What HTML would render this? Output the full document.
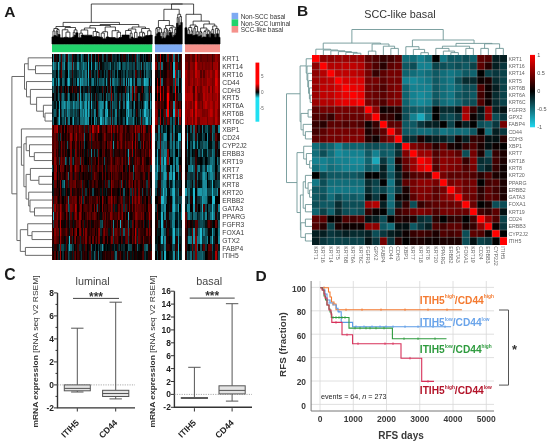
<!DOCTYPE html><html><head><meta charset="utf-8"><style>
html,body{margin:0;padding:0;background:#fff;}
svg{display:block;font-family:"Liberation Sans", sans-serif;filter:blur(0.3px);}
</style></head><body>
<svg width="550" height="444" viewBox="0 0 550 444">
<defs><filter id="blur" x="-2%" y="-2%" width="104%" height="104%"><feGaussianBlur stdDeviation="0.65"/></filter>
<linearGradient id="gA" x1="0" y1="0" x2="0" y2="1">
<stop offset="0" stop-color="#ff0000"/><stop offset="0.36" stop-color="#ff0000"/><stop offset="0.5" stop-color="#000"/><stop offset="0.6" stop-color="#20e0f2"/><stop offset="1" stop-color="#20e0f2"/></linearGradient>
<linearGradient id="gB" x1="0" y1="0" x2="0" y2="1">
<stop offset="0" stop-color="#ff0000"/><stop offset="0.5" stop-color="#000"/><stop offset="1" stop-color="#20d8f0"/></linearGradient>
</defs>
<rect width="550" height="444" fill="#fff"/>
<g filter="url(#blur)" shape-rendering="crispEdges">
<rect x="52.0" y="53.9" width="1.4" height="8.1" fill="#010506"/>
<rect x="52.0" y="61.8" width="1.4" height="8.1" fill="#0c444b"/>
<rect x="52.0" y="69.7" width="1.4" height="8.1" fill="#0b3b41"/>
<rect x="52.0" y="77.6" width="1.4" height="8.1" fill="#188290"/>
<rect x="52.0" y="85.5" width="1.4" height="8.1" fill="#072529"/>
<rect x="52.0" y="93.4" width="1.4" height="8.1" fill="#01090a"/>
<rect x="52.0" y="101.3" width="1.4" height="8.1" fill="#093036"/>
<rect x="52.0" y="109.2" width="1.4" height="8.1" fill="#04191c"/>
<rect x="52.0" y="117.1" width="1.4" height="8.1" fill="#093238"/>
<rect x="52.0" y="125.0" width="1.4" height="8.1" fill="#690000"/>
<rect x="52.0" y="132.9" width="1.4" height="8.1" fill="#500000"/>
<rect x="52.0" y="140.8" width="1.4" height="8.1" fill="#5a0000"/>
<rect x="52.0" y="148.7" width="1.4" height="8.1" fill="#4c0000"/>
<rect x="52.0" y="156.6" width="1.4" height="8.1" fill="#340000"/>
<rect x="52.0" y="164.5" width="1.4" height="8.1" fill="#0d4850"/>
<rect x="52.0" y="172.4" width="1.4" height="8.1" fill="#040000"/>
<rect x="52.0" y="180.3" width="1.4" height="8.1" fill="#0f0000"/>
<rect x="52.0" y="188.2" width="1.4" height="8.1" fill="#020c0d"/>
<rect x="52.0" y="196.1" width="1.4" height="8.1" fill="#690000"/>
<rect x="52.0" y="204.0" width="1.4" height="8.1" fill="#4f0000"/>
<rect x="52.0" y="211.9" width="1.4" height="8.1" fill="#310000"/>
<rect x="52.0" y="219.8" width="1.4" height="8.1" fill="#2f0000"/>
<rect x="52.0" y="227.7" width="1.4" height="8.1" fill="#510000"/>
<rect x="52.0" y="235.6" width="1.4" height="8.1" fill="#330000"/>
<rect x="52.0" y="243.5" width="1.4" height="8.1" fill="#190000"/>
<rect x="52.0" y="251.4" width="1.4" height="8.1" fill="#300000"/>
<rect x="53.2" y="53.9" width="1.4" height="8.1" fill="#167784"/>
<rect x="53.2" y="61.8" width="1.4" height="8.1" fill="#1ea1b2"/>
<rect x="53.2" y="69.7" width="1.4" height="8.1" fill="#0c4047"/>
<rect x="53.2" y="77.6" width="1.4" height="8.1" fill="#1fa4b6"/>
<rect x="53.2" y="85.5" width="1.4" height="8.1" fill="#12606a"/>
<rect x="53.2" y="93.4" width="1.4" height="8.1" fill="#070000"/>
<rect x="53.2" y="101.3" width="1.4" height="8.1" fill="#082f34"/>
<rect x="53.2" y="109.2" width="1.4" height="8.1" fill="#0b3d44"/>
<rect x="53.2" y="117.1" width="1.4" height="8.1" fill="#13646f"/>
<rect x="53.2" y="125.0" width="1.4" height="8.1" fill="#2a0000"/>
<rect x="53.2" y="132.9" width="1.4" height="8.1" fill="#470000"/>
<rect x="53.2" y="140.8" width="1.4" height="8.1" fill="#420000"/>
<rect x="53.2" y="148.7" width="1.4" height="8.1" fill="#340000"/>
<rect x="53.2" y="156.6" width="1.4" height="8.1" fill="#200000"/>
<rect x="53.2" y="164.5" width="1.4" height="8.1" fill="#080000"/>
<rect x="53.2" y="172.4" width="1.4" height="8.1" fill="#010606"/>
<rect x="53.2" y="180.3" width="1.4" height="8.1" fill="#062124"/>
<rect x="53.2" y="188.2" width="1.4" height="8.1" fill="#04181b"/>
<rect x="53.2" y="196.1" width="1.4" height="8.1" fill="#051d20"/>
<rect x="53.2" y="204.0" width="1.4" height="8.1" fill="#0c4249"/>
<rect x="53.2" y="211.9" width="1.4" height="8.1" fill="#21b1c4"/>
<rect x="53.2" y="219.8" width="1.4" height="8.1" fill="#0d454d"/>
<rect x="53.2" y="227.7" width="1.4" height="8.1" fill="#090000"/>
<rect x="53.2" y="235.6" width="1.4" height="8.1" fill="#1c0000"/>
<rect x="53.2" y="243.5" width="1.4" height="8.1" fill="#04181b"/>
<rect x="53.2" y="251.4" width="1.4" height="8.1" fill="#0c0000"/>
<rect x="54.3" y="53.9" width="1.4" height="8.1" fill="#230000"/>
<rect x="54.3" y="61.8" width="1.4" height="8.1" fill="#12636e"/>
<rect x="54.3" y="69.7" width="1.4" height="8.1" fill="#0c434a"/>
<rect x="54.3" y="77.6" width="1.4" height="8.1" fill="#062327"/>
<rect x="54.3" y="85.5" width="1.4" height="8.1" fill="#072529"/>
<rect x="54.3" y="93.4" width="1.4" height="8.1" fill="#082c30"/>
<rect x="54.3" y="101.3" width="1.4" height="8.1" fill="#031214"/>
<rect x="54.3" y="109.2" width="1.4" height="8.1" fill="#115a64"/>
<rect x="54.3" y="117.1" width="1.4" height="8.1" fill="#000202"/>
<rect x="54.3" y="125.0" width="1.4" height="8.1" fill="#8e0000"/>
<rect x="54.3" y="132.9" width="1.4" height="8.1" fill="#680000"/>
<rect x="54.3" y="140.8" width="1.4" height="8.1" fill="#6a0000"/>
<rect x="54.3" y="148.7" width="1.4" height="8.1" fill="#770000"/>
<rect x="54.3" y="156.6" width="1.4" height="8.1" fill="#940000"/>
<rect x="54.3" y="164.5" width="1.4" height="8.1" fill="#7f0000"/>
<rect x="54.3" y="172.4" width="1.4" height="8.1" fill="#920000"/>
<rect x="54.3" y="180.3" width="1.4" height="8.1" fill="#6b0000"/>
<rect x="54.3" y="188.2" width="1.4" height="8.1" fill="#410000"/>
<rect x="54.3" y="196.1" width="1.4" height="8.1" fill="#610000"/>
<rect x="54.3" y="204.0" width="1.4" height="8.1" fill="#940000"/>
<rect x="54.3" y="211.9" width="1.4" height="8.1" fill="#530000"/>
<rect x="54.3" y="219.8" width="1.4" height="8.1" fill="#5f0000"/>
<rect x="54.3" y="227.7" width="1.4" height="8.1" fill="#8b0000"/>
<rect x="54.3" y="235.6" width="1.4" height="8.1" fill="#740000"/>
<rect x="54.3" y="243.5" width="1.4" height="8.1" fill="#350000"/>
<rect x="54.3" y="251.4" width="1.4" height="8.1" fill="#520000"/>
<rect x="55.5" y="53.9" width="1.4" height="8.1" fill="#04181b"/>
<rect x="55.5" y="61.8" width="1.4" height="8.1" fill="#0a373d"/>
<rect x="55.5" y="69.7" width="1.4" height="8.1" fill="#060000"/>
<rect x="55.5" y="77.6" width="1.4" height="8.1" fill="#115e68"/>
<rect x="55.5" y="85.5" width="1.4" height="8.1" fill="#0d0000"/>
<rect x="55.5" y="93.4" width="1.4" height="8.1" fill="#000001"/>
<rect x="55.5" y="101.3" width="1.4" height="8.1" fill="#0f525a"/>
<rect x="55.5" y="109.2" width="1.4" height="8.1" fill="#093036"/>
<rect x="55.5" y="117.1" width="1.4" height="8.1" fill="#010708"/>
<rect x="55.5" y="125.0" width="1.4" height="8.1" fill="#990000"/>
<rect x="55.5" y="132.9" width="1.4" height="8.1" fill="#430000"/>
<rect x="55.5" y="140.8" width="1.4" height="8.1" fill="#4f0000"/>
<rect x="55.5" y="148.7" width="1.4" height="8.1" fill="#2d0000"/>
<rect x="55.5" y="156.6" width="1.4" height="8.1" fill="#570000"/>
<rect x="55.5" y="164.5" width="1.4" height="8.1" fill="#9e0000"/>
<rect x="55.5" y="172.4" width="1.4" height="8.1" fill="#730000"/>
<rect x="55.5" y="180.3" width="1.4" height="8.1" fill="#570000"/>
<rect x="55.5" y="188.2" width="1.4" height="8.1" fill="#2d0000"/>
<rect x="55.5" y="196.1" width="1.4" height="8.1" fill="#730000"/>
<rect x="55.5" y="204.0" width="1.4" height="8.1" fill="#460000"/>
<rect x="55.5" y="211.9" width="1.4" height="8.1" fill="#610000"/>
<rect x="55.5" y="219.8" width="1.4" height="8.1" fill="#650000"/>
<rect x="55.5" y="227.7" width="1.4" height="8.1" fill="#5d0000"/>
<rect x="55.5" y="235.6" width="1.4" height="8.1" fill="#5f0000"/>
<rect x="55.5" y="243.5" width="1.4" height="8.1" fill="#2f0000"/>
<rect x="55.5" y="251.4" width="1.4" height="8.1" fill="#040000"/>
<rect x="56.6" y="53.9" width="1.4" height="8.1" fill="#240000"/>
<rect x="56.6" y="61.8" width="1.4" height="8.1" fill="#062226"/>
<rect x="56.6" y="69.7" width="1.4" height="8.1" fill="#020c0d"/>
<rect x="56.6" y="77.6" width="1.4" height="8.1" fill="#04181a"/>
<rect x="56.6" y="85.5" width="1.4" height="8.1" fill="#230000"/>
<rect x="56.6" y="93.4" width="1.4" height="8.1" fill="#030f11"/>
<rect x="56.6" y="101.3" width="1.4" height="8.1" fill="#030000"/>
<rect x="56.6" y="109.2" width="1.4" height="8.1" fill="#080000"/>
<rect x="56.6" y="117.1" width="1.4" height="8.1" fill="#093036"/>
<rect x="56.6" y="125.0" width="1.4" height="8.1" fill="#b70000"/>
<rect x="56.6" y="132.9" width="1.4" height="8.1" fill="#540000"/>
<rect x="56.6" y="140.8" width="1.4" height="8.1" fill="#560000"/>
<rect x="56.6" y="148.7" width="1.4" height="8.1" fill="#560000"/>
<rect x="56.6" y="156.6" width="1.4" height="8.1" fill="#2b0000"/>
<rect x="56.6" y="164.5" width="1.4" height="8.1" fill="#110000"/>
<rect x="56.6" y="172.4" width="1.4" height="8.1" fill="#050000"/>
<rect x="56.6" y="180.3" width="1.4" height="8.1" fill="#000405"/>
<rect x="56.6" y="188.2" width="1.4" height="8.1" fill="#310000"/>
<rect x="56.6" y="196.1" width="1.4" height="8.1" fill="#3b0000"/>
<rect x="56.6" y="204.0" width="1.4" height="8.1" fill="#680000"/>
<rect x="56.6" y="211.9" width="1.4" height="8.1" fill="#8b0000"/>
<rect x="56.6" y="219.8" width="1.4" height="8.1" fill="#6c0000"/>
<rect x="56.6" y="227.7" width="1.4" height="8.1" fill="#680000"/>
<rect x="56.6" y="235.6" width="1.4" height="8.1" fill="#510000"/>
<rect x="56.6" y="243.5" width="1.4" height="8.1" fill="#010a0b"/>
<rect x="56.6" y="251.4" width="1.4" height="8.1" fill="#440000"/>
<rect x="57.8" y="53.9" width="1.4" height="8.1" fill="#000000"/>
<rect x="57.8" y="61.8" width="1.4" height="8.1" fill="#21b0c3"/>
<rect x="57.8" y="69.7" width="1.4" height="8.1" fill="#198796"/>
<rect x="57.8" y="77.6" width="1.4" height="8.1" fill="#21afc2"/>
<rect x="57.8" y="85.5" width="1.4" height="8.1" fill="#10565f"/>
<rect x="57.8" y="93.4" width="1.4" height="8.1" fill="#136772"/>
<rect x="57.8" y="101.3" width="1.4" height="8.1" fill="#020c0e"/>
<rect x="57.8" y="109.2" width="1.4" height="8.1" fill="#0a383e"/>
<rect x="57.8" y="117.1" width="1.4" height="8.1" fill="#177986"/>
<rect x="57.8" y="125.0" width="1.4" height="8.1" fill="#1c0000"/>
<rect x="57.8" y="132.9" width="1.4" height="8.1" fill="#062124"/>
<rect x="57.8" y="140.8" width="1.4" height="8.1" fill="#230000"/>
<rect x="57.8" y="148.7" width="1.4" height="8.1" fill="#170000"/>
<rect x="57.8" y="156.6" width="1.4" height="8.1" fill="#440000"/>
<rect x="57.8" y="164.5" width="1.4" height="8.1" fill="#3b0000"/>
<rect x="57.8" y="172.4" width="1.4" height="8.1" fill="#4a0000"/>
<rect x="57.8" y="180.3" width="1.4" height="8.1" fill="#270000"/>
<rect x="57.8" y="188.2" width="1.4" height="8.1" fill="#260000"/>
<rect x="57.8" y="196.1" width="1.4" height="8.1" fill="#070000"/>
<rect x="57.8" y="204.0" width="1.4" height="8.1" fill="#480000"/>
<rect x="57.8" y="211.9" width="1.4" height="8.1" fill="#350000"/>
<rect x="57.8" y="219.8" width="1.4" height="8.1" fill="#130000"/>
<rect x="57.8" y="227.7" width="1.4" height="8.1" fill="#680000"/>
<rect x="57.8" y="235.6" width="1.4" height="8.1" fill="#460000"/>
<rect x="57.8" y="243.5" width="1.4" height="8.1" fill="#031315"/>
<rect x="57.8" y="251.4" width="1.4" height="8.1" fill="#07262a"/>
<rect x="58.9" y="53.9" width="1.4" height="8.1" fill="#136773"/>
<rect x="58.9" y="61.8" width="1.4" height="8.1" fill="#105862"/>
<rect x="58.9" y="69.7" width="1.4" height="8.1" fill="#082e33"/>
<rect x="58.9" y="77.6" width="1.4" height="8.1" fill="#146c77"/>
<rect x="58.9" y="85.5" width="1.4" height="8.1" fill="#010707"/>
<rect x="58.9" y="93.4" width="1.4" height="8.1" fill="#0b3c43"/>
<rect x="58.9" y="101.3" width="1.4" height="8.1" fill="#1fa9bb"/>
<rect x="58.9" y="109.2" width="1.4" height="8.1" fill="#23b9cd"/>
<rect x="58.9" y="117.1" width="1.4" height="8.1" fill="#23b9cd"/>
<rect x="58.9" y="125.0" width="1.4" height="8.1" fill="#2e0000"/>
<rect x="58.9" y="132.9" width="1.4" height="8.1" fill="#0a0000"/>
<rect x="58.9" y="140.8" width="1.4" height="8.1" fill="#051a1d"/>
<rect x="58.9" y="148.7" width="1.4" height="8.1" fill="#031315"/>
<rect x="58.9" y="156.6" width="1.4" height="8.1" fill="#0b3e45"/>
<rect x="58.9" y="164.5" width="1.4" height="8.1" fill="#000000"/>
<rect x="58.9" y="172.4" width="1.4" height="8.1" fill="#1b0000"/>
<rect x="58.9" y="180.3" width="1.4" height="8.1" fill="#140000"/>
<rect x="58.9" y="188.2" width="1.4" height="8.1" fill="#020000"/>
<rect x="58.9" y="196.1" width="1.4" height="8.1" fill="#1b0000"/>
<rect x="58.9" y="204.0" width="1.4" height="8.1" fill="#3e0000"/>
<rect x="58.9" y="211.9" width="1.4" height="8.1" fill="#380000"/>
<rect x="58.9" y="219.8" width="1.4" height="8.1" fill="#1b0000"/>
<rect x="58.9" y="227.7" width="1.4" height="8.1" fill="#031315"/>
<rect x="58.9" y="235.6" width="1.4" height="8.1" fill="#010a0b"/>
<rect x="58.9" y="243.5" width="1.4" height="8.1" fill="#0f5059"/>
<rect x="58.9" y="251.4" width="1.4" height="8.1" fill="#031315"/>
<rect x="60.1" y="53.9" width="1.4" height="8.1" fill="#0b3e45"/>
<rect x="60.1" y="61.8" width="1.4" height="8.1" fill="#051b1e"/>
<rect x="60.1" y="69.7" width="1.4" height="8.1" fill="#200000"/>
<rect x="60.1" y="77.6" width="1.4" height="8.1" fill="#031012"/>
<rect x="60.1" y="85.5" width="1.4" height="8.1" fill="#1b0000"/>
<rect x="60.1" y="93.4" width="1.4" height="8.1" fill="#290000"/>
<rect x="60.1" y="101.3" width="1.4" height="8.1" fill="#010607"/>
<rect x="60.1" y="109.2" width="1.4" height="8.1" fill="#150000"/>
<rect x="60.1" y="117.1" width="1.4" height="8.1" fill="#031113"/>
<rect x="60.1" y="125.0" width="1.4" height="8.1" fill="#440000"/>
<rect x="60.1" y="132.9" width="1.4" height="8.1" fill="#0b3d43"/>
<rect x="60.1" y="140.8" width="1.4" height="8.1" fill="#1d0000"/>
<rect x="60.1" y="148.7" width="1.4" height="8.1" fill="#260000"/>
<rect x="60.1" y="156.6" width="1.4" height="8.1" fill="#450000"/>
<rect x="60.1" y="164.5" width="1.4" height="8.1" fill="#7d0000"/>
<rect x="60.1" y="172.4" width="1.4" height="8.1" fill="#270000"/>
<rect x="60.1" y="180.3" width="1.4" height="8.1" fill="#8a0000"/>
<rect x="60.1" y="188.2" width="1.4" height="8.1" fill="#750000"/>
<rect x="60.1" y="196.1" width="1.4" height="8.1" fill="#5b0000"/>
<rect x="60.1" y="204.0" width="1.4" height="8.1" fill="#9d0000"/>
<rect x="60.1" y="211.9" width="1.4" height="8.1" fill="#ba0000"/>
<rect x="60.1" y="219.8" width="1.4" height="8.1" fill="#ba0000"/>
<rect x="60.1" y="227.7" width="1.4" height="8.1" fill="#b90000"/>
<rect x="60.1" y="235.6" width="1.4" height="8.1" fill="#9f0000"/>
<rect x="60.1" y="243.5" width="1.4" height="8.1" fill="#8d0000"/>
<rect x="60.1" y="251.4" width="1.4" height="8.1" fill="#9f0000"/>
<rect x="61.2" y="53.9" width="1.4" height="8.1" fill="#4e0000"/>
<rect x="61.2" y="61.8" width="1.4" height="8.1" fill="#5d0000"/>
<rect x="61.2" y="69.7" width="1.4" height="8.1" fill="#650000"/>
<rect x="61.2" y="77.6" width="1.4" height="8.1" fill="#010708"/>
<rect x="61.2" y="85.5" width="1.4" height="8.1" fill="#490000"/>
<rect x="61.2" y="93.4" width="1.4" height="8.1" fill="#0a3940"/>
<rect x="61.2" y="101.3" width="1.4" height="8.1" fill="#105862"/>
<rect x="61.2" y="109.2" width="1.4" height="8.1" fill="#0a393f"/>
<rect x="61.2" y="117.1" width="1.4" height="8.1" fill="#031315"/>
<rect x="61.2" y="125.0" width="1.4" height="8.1" fill="#6a0000"/>
<rect x="61.2" y="132.9" width="1.4" height="8.1" fill="#600000"/>
<rect x="61.2" y="140.8" width="1.4" height="8.1" fill="#7f0000"/>
<rect x="61.2" y="148.7" width="1.4" height="8.1" fill="#6f0000"/>
<rect x="61.2" y="156.6" width="1.4" height="8.1" fill="#7b0000"/>
<rect x="61.2" y="164.5" width="1.4" height="8.1" fill="#620000"/>
<rect x="61.2" y="172.4" width="1.4" height="8.1" fill="#5d0000"/>
<rect x="61.2" y="180.3" width="1.4" height="8.1" fill="#010607"/>
<rect x="61.2" y="188.2" width="1.4" height="8.1" fill="#120000"/>
<rect x="61.2" y="196.1" width="1.4" height="8.1" fill="#360000"/>
<rect x="61.2" y="204.0" width="1.4" height="8.1" fill="#6e0000"/>
<rect x="61.2" y="211.9" width="1.4" height="8.1" fill="#6b0000"/>
<rect x="61.2" y="219.8" width="1.4" height="8.1" fill="#170000"/>
<rect x="61.2" y="227.7" width="1.4" height="8.1" fill="#580000"/>
<rect x="61.2" y="235.6" width="1.4" height="8.1" fill="#3e0000"/>
<rect x="61.2" y="243.5" width="1.4" height="8.1" fill="#0c434a"/>
<rect x="61.2" y="251.4" width="1.4" height="8.1" fill="#040000"/>
<rect x="62.4" y="53.9" width="1.4" height="8.1" fill="#0e4c54"/>
<rect x="62.4" y="61.8" width="1.4" height="8.1" fill="#136570"/>
<rect x="62.4" y="69.7" width="1.4" height="8.1" fill="#0d474e"/>
<rect x="62.4" y="77.6" width="1.4" height="8.1" fill="#136772"/>
<rect x="62.4" y="85.5" width="1.4" height="8.1" fill="#062428"/>
<rect x="62.4" y="93.4" width="1.4" height="8.1" fill="#156f7b"/>
<rect x="62.4" y="101.3" width="1.4" height="8.1" fill="#18808e"/>
<rect x="62.4" y="109.2" width="1.4" height="8.1" fill="#15737f"/>
<rect x="62.4" y="117.1" width="1.4" height="8.1" fill="#0e4e56"/>
<rect x="62.4" y="125.0" width="1.4" height="8.1" fill="#110000"/>
<rect x="62.4" y="132.9" width="1.4" height="8.1" fill="#0c0000"/>
<rect x="62.4" y="140.8" width="1.4" height="8.1" fill="#310000"/>
<rect x="62.4" y="148.7" width="1.4" height="8.1" fill="#2c0000"/>
<rect x="62.4" y="156.6" width="1.4" height="8.1" fill="#4d0000"/>
<rect x="62.4" y="164.5" width="1.4" height="8.1" fill="#630000"/>
<rect x="62.4" y="172.4" width="1.4" height="8.1" fill="#330000"/>
<rect x="62.4" y="180.3" width="1.4" height="8.1" fill="#105962"/>
<rect x="62.4" y="188.2" width="1.4" height="8.1" fill="#051d20"/>
<rect x="62.4" y="196.1" width="1.4" height="8.1" fill="#010506"/>
<rect x="62.4" y="204.0" width="1.4" height="8.1" fill="#220000"/>
<rect x="62.4" y="211.9" width="1.4" height="8.1" fill="#3b0000"/>
<rect x="62.4" y="219.8" width="1.4" height="8.1" fill="#130000"/>
<rect x="62.4" y="227.7" width="1.4" height="8.1" fill="#330000"/>
<rect x="62.4" y="235.6" width="1.4" height="8.1" fill="#270000"/>
<rect x="62.4" y="243.5" width="1.4" height="8.1" fill="#0d454d"/>
<rect x="62.4" y="251.4" width="1.4" height="8.1" fill="#082f34"/>
<rect x="63.5" y="53.9" width="1.4" height="8.1" fill="#167986"/>
<rect x="63.5" y="61.8" width="1.4" height="8.1" fill="#1c95a5"/>
<rect x="63.5" y="69.7" width="1.4" height="8.1" fill="#0c4047"/>
<rect x="63.5" y="77.6" width="1.4" height="8.1" fill="#0d474e"/>
<rect x="63.5" y="85.5" width="1.4" height="8.1" fill="#000404"/>
<rect x="63.5" y="93.4" width="1.4" height="8.1" fill="#0a363c"/>
<rect x="63.5" y="101.3" width="1.4" height="8.1" fill="#1d9aab"/>
<rect x="63.5" y="109.2" width="1.4" height="8.1" fill="#082f34"/>
<rect x="63.5" y="117.1" width="1.4" height="8.1" fill="#0a353a"/>
<rect x="63.5" y="125.0" width="1.4" height="8.1" fill="#7b0000"/>
<rect x="63.5" y="132.9" width="1.4" height="8.1" fill="#360000"/>
<rect x="63.5" y="140.8" width="1.4" height="8.1" fill="#540000"/>
<rect x="63.5" y="148.7" width="1.4" height="8.1" fill="#540000"/>
<rect x="63.5" y="156.6" width="1.4" height="8.1" fill="#640000"/>
<rect x="63.5" y="164.5" width="1.4" height="8.1" fill="#1e0000"/>
<rect x="63.5" y="172.4" width="1.4" height="8.1" fill="#100000"/>
<rect x="63.5" y="180.3" width="1.4" height="8.1" fill="#188290"/>
<rect x="63.5" y="188.2" width="1.4" height="8.1" fill="#082d32"/>
<rect x="63.5" y="196.1" width="1.4" height="8.1" fill="#380000"/>
<rect x="63.5" y="204.0" width="1.4" height="8.1" fill="#1f0000"/>
<rect x="63.5" y="211.9" width="1.4" height="8.1" fill="#1e0000"/>
<rect x="63.5" y="219.8" width="1.4" height="8.1" fill="#0d0000"/>
<rect x="63.5" y="227.7" width="1.4" height="8.1" fill="#360000"/>
<rect x="63.5" y="235.6" width="1.4" height="8.1" fill="#0d0000"/>
<rect x="63.5" y="243.5" width="1.4" height="8.1" fill="#062428"/>
<rect x="63.5" y="251.4" width="1.4" height="8.1" fill="#010000"/>
<rect x="64.7" y="53.9" width="1.4" height="8.1" fill="#09343a"/>
<rect x="64.7" y="61.8" width="1.4" height="8.1" fill="#031517"/>
<rect x="64.7" y="69.7" width="1.4" height="8.1" fill="#020b0c"/>
<rect x="64.7" y="77.6" width="1.4" height="8.1" fill="#010607"/>
<rect x="64.7" y="85.5" width="1.4" height="8.1" fill="#440000"/>
<rect x="64.7" y="93.4" width="1.4" height="8.1" fill="#031214"/>
<rect x="64.7" y="101.3" width="1.4" height="8.1" fill="#167582"/>
<rect x="64.7" y="109.2" width="1.4" height="8.1" fill="#0f5059"/>
<rect x="64.7" y="117.1" width="1.4" height="8.1" fill="#18808d"/>
<rect x="64.7" y="125.0" width="1.4" height="8.1" fill="#0b0000"/>
<rect x="64.7" y="132.9" width="1.4" height="8.1" fill="#0d0000"/>
<rect x="64.7" y="140.8" width="1.4" height="8.1" fill="#190000"/>
<rect x="64.7" y="148.7" width="1.4" height="8.1" fill="#150000"/>
<rect x="64.7" y="156.6" width="1.4" height="8.1" fill="#136873"/>
<rect x="64.7" y="164.5" width="1.4" height="8.1" fill="#050000"/>
<rect x="64.7" y="172.4" width="1.4" height="8.1" fill="#1b0000"/>
<rect x="64.7" y="180.3" width="1.4" height="8.1" fill="#1c0000"/>
<rect x="64.7" y="188.2" width="1.4" height="8.1" fill="#020f10"/>
<rect x="64.7" y="196.1" width="1.4" height="8.1" fill="#1d0000"/>
<rect x="64.7" y="204.0" width="1.4" height="8.1" fill="#390000"/>
<rect x="64.7" y="211.9" width="1.4" height="8.1" fill="#0a0000"/>
<rect x="64.7" y="219.8" width="1.4" height="8.1" fill="#010809"/>
<rect x="64.7" y="227.7" width="1.4" height="8.1" fill="#490000"/>
<rect x="64.7" y="235.6" width="1.4" height="8.1" fill="#031113"/>
<rect x="64.7" y="243.5" width="1.4" height="8.1" fill="#062428"/>
<rect x="64.7" y="251.4" width="1.4" height="8.1" fill="#460000"/>
<rect x="65.8" y="53.9" width="1.4" height="8.1" fill="#2e0000"/>
<rect x="65.8" y="61.8" width="1.4" height="8.1" fill="#090000"/>
<rect x="65.8" y="69.7" width="1.4" height="8.1" fill="#040000"/>
<rect x="65.8" y="77.6" width="1.4" height="8.1" fill="#031012"/>
<rect x="65.8" y="85.5" width="1.4" height="8.1" fill="#000000"/>
<rect x="65.8" y="93.4" width="1.4" height="8.1" fill="#1c0000"/>
<rect x="65.8" y="101.3" width="1.4" height="8.1" fill="#0d4850"/>
<rect x="65.8" y="109.2" width="1.4" height="8.1" fill="#0a353b"/>
<rect x="65.8" y="117.1" width="1.4" height="8.1" fill="#200000"/>
<rect x="65.8" y="125.0" width="1.4" height="8.1" fill="#0e0000"/>
<rect x="65.8" y="132.9" width="1.4" height="8.1" fill="#2a0000"/>
<rect x="65.8" y="140.8" width="1.4" height="8.1" fill="#2c0000"/>
<rect x="65.8" y="148.7" width="1.4" height="8.1" fill="#3b0000"/>
<rect x="65.8" y="156.6" width="1.4" height="8.1" fill="#0b3c42"/>
<rect x="65.8" y="164.5" width="1.4" height="8.1" fill="#4c0000"/>
<rect x="65.8" y="172.4" width="1.4" height="8.1" fill="#510000"/>
<rect x="65.8" y="180.3" width="1.4" height="8.1" fill="#490000"/>
<rect x="65.8" y="188.2" width="1.4" height="8.1" fill="#470000"/>
<rect x="65.8" y="196.1" width="1.4" height="8.1" fill="#5c0000"/>
<rect x="65.8" y="204.0" width="1.4" height="8.1" fill="#910000"/>
<rect x="65.8" y="211.9" width="1.4" height="8.1" fill="#760000"/>
<rect x="65.8" y="219.8" width="1.4" height="8.1" fill="#490000"/>
<rect x="65.8" y="227.7" width="1.4" height="8.1" fill="#6d0000"/>
<rect x="65.8" y="235.6" width="1.4" height="8.1" fill="#4e0000"/>
<rect x="65.8" y="243.5" width="1.4" height="8.1" fill="#550000"/>
<rect x="65.8" y="251.4" width="1.4" height="8.1" fill="#390000"/>
<rect x="67.0" y="53.9" width="1.4" height="8.1" fill="#3d0000"/>
<rect x="67.0" y="61.8" width="1.4" height="8.1" fill="#082a2f"/>
<rect x="67.0" y="69.7" width="1.4" height="8.1" fill="#010506"/>
<rect x="67.0" y="77.6" width="1.4" height="8.1" fill="#157380"/>
<rect x="67.0" y="85.5" width="1.4" height="8.1" fill="#410000"/>
<rect x="67.0" y="93.4" width="1.4" height="8.1" fill="#0a353b"/>
<rect x="67.0" y="101.3" width="1.4" height="8.1" fill="#1c97a7"/>
<rect x="67.0" y="109.2" width="1.4" height="8.1" fill="#1a8b9a"/>
<rect x="67.0" y="117.1" width="1.4" height="8.1" fill="#082f34"/>
<rect x="67.0" y="125.0" width="1.4" height="8.1" fill="#700000"/>
<rect x="67.0" y="132.9" width="1.4" height="8.1" fill="#510000"/>
<rect x="67.0" y="140.8" width="1.4" height="8.1" fill="#105861"/>
<rect x="67.0" y="148.7" width="1.4" height="8.1" fill="#010809"/>
<rect x="67.0" y="156.6" width="1.4" height="8.1" fill="#210000"/>
<rect x="67.0" y="164.5" width="1.4" height="8.1" fill="#290000"/>
<rect x="67.0" y="172.4" width="1.4" height="8.1" fill="#5d0000"/>
<rect x="67.0" y="180.3" width="1.4" height="8.1" fill="#430000"/>
<rect x="67.0" y="188.2" width="1.4" height="8.1" fill="#100000"/>
<rect x="67.0" y="196.1" width="1.4" height="8.1" fill="#4e0000"/>
<rect x="67.0" y="204.0" width="1.4" height="8.1" fill="#670000"/>
<rect x="67.0" y="211.9" width="1.4" height="8.1" fill="#410000"/>
<rect x="67.0" y="219.8" width="1.4" height="8.1" fill="#260000"/>
<rect x="67.0" y="227.7" width="1.4" height="8.1" fill="#380000"/>
<rect x="67.0" y="235.6" width="1.4" height="8.1" fill="#3e0000"/>
<rect x="67.0" y="243.5" width="1.4" height="8.1" fill="#020b0c"/>
<rect x="67.0" y="251.4" width="1.4" height="8.1" fill="#1e0000"/>
<rect x="68.1" y="53.9" width="1.4" height="8.1" fill="#177d8a"/>
<rect x="68.1" y="61.8" width="1.4" height="8.1" fill="#1b93a3"/>
<rect x="68.1" y="69.7" width="1.4" height="8.1" fill="#1e9fb1"/>
<rect x="68.1" y="77.6" width="1.4" height="8.1" fill="#23b9cd"/>
<rect x="68.1" y="85.5" width="1.4" height="8.1" fill="#0d4850"/>
<rect x="68.1" y="93.4" width="1.4" height="8.1" fill="#198593"/>
<rect x="68.1" y="101.3" width="1.4" height="8.1" fill="#188391"/>
<rect x="68.1" y="109.2" width="1.4" height="8.1" fill="#146c78"/>
<rect x="68.1" y="117.1" width="1.4" height="8.1" fill="#167784"/>
<rect x="68.1" y="125.0" width="1.4" height="8.1" fill="#3f0000"/>
<rect x="68.1" y="132.9" width="1.4" height="8.1" fill="#1e0000"/>
<rect x="68.1" y="140.8" width="1.4" height="8.1" fill="#2b0000"/>
<rect x="68.1" y="148.7" width="1.4" height="8.1" fill="#000000"/>
<rect x="68.1" y="156.6" width="1.4" height="8.1" fill="#010607"/>
<rect x="68.1" y="164.5" width="1.4" height="8.1" fill="#200000"/>
<rect x="68.1" y="172.4" width="1.4" height="8.1" fill="#136570"/>
<rect x="68.1" y="180.3" width="1.4" height="8.1" fill="#082a2f"/>
<rect x="68.1" y="188.2" width="1.4" height="8.1" fill="#020d0e"/>
<rect x="68.1" y="196.1" width="1.4" height="8.1" fill="#15727e"/>
<rect x="68.1" y="204.0" width="1.4" height="8.1" fill="#105963"/>
<rect x="68.1" y="211.9" width="1.4" height="8.1" fill="#0f0000"/>
<rect x="68.1" y="219.8" width="1.4" height="8.1" fill="#0c0000"/>
<rect x="68.1" y="227.7" width="1.4" height="8.1" fill="#1f0000"/>
<rect x="68.1" y="235.6" width="1.4" height="8.1" fill="#051a1d"/>
<rect x="68.1" y="243.5" width="1.4" height="8.1" fill="#0f535c"/>
<rect x="68.1" y="251.4" width="1.4" height="8.1" fill="#0e4a52"/>
<rect x="69.3" y="53.9" width="1.4" height="8.1" fill="#0e4f57"/>
<rect x="69.3" y="61.8" width="1.4" height="8.1" fill="#167683"/>
<rect x="69.3" y="69.7" width="1.4" height="8.1" fill="#0f545d"/>
<rect x="69.3" y="77.6" width="1.4" height="8.1" fill="#1c99a9"/>
<rect x="69.3" y="85.5" width="1.4" height="8.1" fill="#000405"/>
<rect x="69.3" y="93.4" width="1.4" height="8.1" fill="#115b65"/>
<rect x="69.3" y="101.3" width="1.4" height="8.1" fill="#198796"/>
<rect x="69.3" y="109.2" width="1.4" height="8.1" fill="#15707c"/>
<rect x="69.3" y="117.1" width="1.4" height="8.1" fill="#177d8b"/>
<rect x="69.3" y="125.0" width="1.4" height="8.1" fill="#600000"/>
<rect x="69.3" y="132.9" width="1.4" height="8.1" fill="#410000"/>
<rect x="69.3" y="140.8" width="1.4" height="8.1" fill="#3d0000"/>
<rect x="69.3" y="148.7" width="1.4" height="8.1" fill="#0f0000"/>
<rect x="69.3" y="156.6" width="1.4" height="8.1" fill="#0d484f"/>
<rect x="69.3" y="164.5" width="1.4" height="8.1" fill="#041619"/>
<rect x="69.3" y="172.4" width="1.4" height="8.1" fill="#1e0000"/>
<rect x="69.3" y="180.3" width="1.4" height="8.1" fill="#3b0000"/>
<rect x="69.3" y="188.2" width="1.4" height="8.1" fill="#010707"/>
<rect x="69.3" y="196.1" width="1.4" height="8.1" fill="#570000"/>
<rect x="69.3" y="204.0" width="1.4" height="8.1" fill="#0a383e"/>
<rect x="69.3" y="211.9" width="1.4" height="8.1" fill="#0a3940"/>
<rect x="69.3" y="219.8" width="1.4" height="8.1" fill="#07282c"/>
<rect x="69.3" y="227.7" width="1.4" height="8.1" fill="#031215"/>
<rect x="69.3" y="235.6" width="1.4" height="8.1" fill="#23b9cd"/>
<rect x="69.3" y="243.5" width="1.4" height="8.1" fill="#1fa8ba"/>
<rect x="69.3" y="251.4" width="1.4" height="8.1" fill="#082d32"/>
<rect x="70.4" y="53.9" width="1.4" height="8.1" fill="#0d454c"/>
<rect x="70.4" y="61.8" width="1.4" height="8.1" fill="#146a75"/>
<rect x="70.4" y="69.7" width="1.4" height="8.1" fill="#09343a"/>
<rect x="70.4" y="77.6" width="1.4" height="8.1" fill="#062428"/>
<rect x="70.4" y="85.5" width="1.4" height="8.1" fill="#170000"/>
<rect x="70.4" y="93.4" width="1.4" height="8.1" fill="#000000"/>
<rect x="70.4" y="101.3" width="1.4" height="8.1" fill="#0e4d56"/>
<rect x="70.4" y="109.2" width="1.4" height="8.1" fill="#0b3a41"/>
<rect x="70.4" y="117.1" width="1.4" height="8.1" fill="#060000"/>
<rect x="70.4" y="125.0" width="1.4" height="8.1" fill="#660000"/>
<rect x="70.4" y="132.9" width="1.4" height="8.1" fill="#9b0000"/>
<rect x="70.4" y="140.8" width="1.4" height="8.1" fill="#7f0000"/>
<rect x="70.4" y="148.7" width="1.4" height="8.1" fill="#780000"/>
<rect x="70.4" y="156.6" width="1.4" height="8.1" fill="#810000"/>
<rect x="70.4" y="164.5" width="1.4" height="8.1" fill="#870000"/>
<rect x="70.4" y="172.4" width="1.4" height="8.1" fill="#690000"/>
<rect x="70.4" y="180.3" width="1.4" height="8.1" fill="#660000"/>
<rect x="70.4" y="188.2" width="1.4" height="8.1" fill="#700000"/>
<rect x="70.4" y="196.1" width="1.4" height="8.1" fill="#560000"/>
<rect x="70.4" y="204.0" width="1.4" height="8.1" fill="#7a0000"/>
<rect x="70.4" y="211.9" width="1.4" height="8.1" fill="#5c0000"/>
<rect x="70.4" y="219.8" width="1.4" height="8.1" fill="#3a0000"/>
<rect x="70.4" y="227.7" width="1.4" height="8.1" fill="#500000"/>
<rect x="70.4" y="235.6" width="1.4" height="8.1" fill="#380000"/>
<rect x="70.4" y="243.5" width="1.4" height="8.1" fill="#136773"/>
<rect x="70.4" y="251.4" width="1.4" height="8.1" fill="#041719"/>
<rect x="71.6" y="53.9" width="1.4" height="8.1" fill="#560000"/>
<rect x="71.6" y="61.8" width="1.4" height="8.1" fill="#540000"/>
<rect x="71.6" y="69.7" width="1.4" height="8.1" fill="#3c0000"/>
<rect x="71.6" y="77.6" width="1.4" height="8.1" fill="#1e0000"/>
<rect x="71.6" y="85.5" width="1.4" height="8.1" fill="#640000"/>
<rect x="71.6" y="93.4" width="1.4" height="8.1" fill="#062327"/>
<rect x="71.6" y="101.3" width="1.4" height="8.1" fill="#0d474f"/>
<rect x="71.6" y="109.2" width="1.4" height="8.1" fill="#0a373d"/>
<rect x="71.6" y="117.1" width="1.4" height="8.1" fill="#12606a"/>
<rect x="71.6" y="125.0" width="1.4" height="8.1" fill="#600000"/>
<rect x="71.6" y="132.9" width="1.4" height="8.1" fill="#5f0000"/>
<rect x="71.6" y="140.8" width="1.4" height="8.1" fill="#090000"/>
<rect x="71.6" y="148.7" width="1.4" height="8.1" fill="#020d0e"/>
<rect x="71.6" y="156.6" width="1.4" height="8.1" fill="#07262a"/>
<rect x="71.6" y="164.5" width="1.4" height="8.1" fill="#2d0000"/>
<rect x="71.6" y="172.4" width="1.4" height="8.1" fill="#3e0000"/>
<rect x="71.6" y="180.3" width="1.4" height="8.1" fill="#4d0000"/>
<rect x="71.6" y="188.2" width="1.4" height="8.1" fill="#020b0d"/>
<rect x="71.6" y="196.1" width="1.4" height="8.1" fill="#6c0000"/>
<rect x="71.6" y="204.0" width="1.4" height="8.1" fill="#670000"/>
<rect x="71.6" y="211.9" width="1.4" height="8.1" fill="#051c1f"/>
<rect x="71.6" y="219.8" width="1.4" height="8.1" fill="#1b0000"/>
<rect x="71.6" y="227.7" width="1.4" height="8.1" fill="#740000"/>
<rect x="71.6" y="235.6" width="1.4" height="8.1" fill="#07292d"/>
<rect x="71.6" y="243.5" width="1.4" height="8.1" fill="#07292d"/>
<rect x="71.6" y="251.4" width="1.4" height="8.1" fill="#340000"/>
<rect x="72.7" y="53.9" width="1.4" height="8.1" fill="#031113"/>
<rect x="72.7" y="61.8" width="1.4" height="8.1" fill="#157380"/>
<rect x="72.7" y="69.7" width="1.4" height="8.1" fill="#0a353b"/>
<rect x="72.7" y="77.6" width="1.4" height="8.1" fill="#0c434b"/>
<rect x="72.7" y="85.5" width="1.4" height="8.1" fill="#020e10"/>
<rect x="72.7" y="93.4" width="1.4" height="8.1" fill="#051d20"/>
<rect x="72.7" y="101.3" width="1.4" height="8.1" fill="#1c96a6"/>
<rect x="72.7" y="109.2" width="1.4" height="8.1" fill="#115e68"/>
<rect x="72.7" y="117.1" width="1.4" height="8.1" fill="#1fa8ba"/>
<rect x="72.7" y="125.0" width="1.4" height="8.1" fill="#1a0000"/>
<rect x="72.7" y="132.9" width="1.4" height="8.1" fill="#0e0000"/>
<rect x="72.7" y="140.8" width="1.4" height="8.1" fill="#280000"/>
<rect x="72.7" y="148.7" width="1.4" height="8.1" fill="#130000"/>
<rect x="72.7" y="156.6" width="1.4" height="8.1" fill="#0e4a52"/>
<rect x="72.7" y="164.5" width="1.4" height="8.1" fill="#0a0000"/>
<rect x="72.7" y="172.4" width="1.4" height="8.1" fill="#031113"/>
<rect x="72.7" y="180.3" width="1.4" height="8.1" fill="#610000"/>
<rect x="72.7" y="188.2" width="1.4" height="8.1" fill="#2c0000"/>
<rect x="72.7" y="196.1" width="1.4" height="8.1" fill="#590000"/>
<rect x="72.7" y="204.0" width="1.4" height="8.1" fill="#4d0000"/>
<rect x="72.7" y="211.9" width="1.4" height="8.1" fill="#230000"/>
<rect x="72.7" y="219.8" width="1.4" height="8.1" fill="#031214"/>
<rect x="72.7" y="227.7" width="1.4" height="8.1" fill="#050000"/>
<rect x="72.7" y="235.6" width="1.4" height="8.1" fill="#110000"/>
<rect x="72.7" y="243.5" width="1.4" height="8.1" fill="#093237"/>
<rect x="72.7" y="251.4" width="1.4" height="8.1" fill="#062226"/>
<rect x="73.9" y="53.9" width="1.4" height="8.1" fill="#041618"/>
<rect x="73.9" y="61.8" width="1.4" height="8.1" fill="#07262a"/>
<rect x="73.9" y="69.7" width="1.4" height="8.1" fill="#062023"/>
<rect x="73.9" y="77.6" width="1.4" height="8.1" fill="#0a353b"/>
<rect x="73.9" y="85.5" width="1.4" height="8.1" fill="#2e0000"/>
<rect x="73.9" y="93.4" width="1.4" height="8.1" fill="#0a363c"/>
<rect x="73.9" y="101.3" width="1.4" height="8.1" fill="#15707c"/>
<rect x="73.9" y="109.2" width="1.4" height="8.1" fill="#0c4249"/>
<rect x="73.9" y="117.1" width="1.4" height="8.1" fill="#062024"/>
<rect x="73.9" y="125.0" width="1.4" height="8.1" fill="#600000"/>
<rect x="73.9" y="132.9" width="1.4" height="8.1" fill="#540000"/>
<rect x="73.9" y="140.8" width="1.4" height="8.1" fill="#210000"/>
<rect x="73.9" y="148.7" width="1.4" height="8.1" fill="#051b1e"/>
<rect x="73.9" y="156.6" width="1.4" height="8.1" fill="#240000"/>
<rect x="73.9" y="164.5" width="1.4" height="8.1" fill="#4e0000"/>
<rect x="73.9" y="172.4" width="1.4" height="8.1" fill="#410000"/>
<rect x="73.9" y="180.3" width="1.4" height="8.1" fill="#680000"/>
<rect x="73.9" y="188.2" width="1.4" height="8.1" fill="#2c0000"/>
<rect x="73.9" y="196.1" width="1.4" height="8.1" fill="#650000"/>
<rect x="73.9" y="204.0" width="1.4" height="8.1" fill="#450000"/>
<rect x="73.9" y="211.9" width="1.4" height="8.1" fill="#4f0000"/>
<rect x="73.9" y="219.8" width="1.4" height="8.1" fill="#240000"/>
<rect x="73.9" y="227.7" width="1.4" height="8.1" fill="#480000"/>
<rect x="73.9" y="235.6" width="1.4" height="8.1" fill="#590000"/>
<rect x="73.9" y="243.5" width="1.4" height="8.1" fill="#040000"/>
<rect x="73.9" y="251.4" width="1.4" height="8.1" fill="#400000"/>
<rect x="75.0" y="53.9" width="1.4" height="8.1" fill="#0e0000"/>
<rect x="75.0" y="61.8" width="1.4" height="8.1" fill="#07262b"/>
<rect x="75.0" y="69.7" width="1.4" height="8.1" fill="#062327"/>
<rect x="75.0" y="77.6" width="1.4" height="8.1" fill="#0c444b"/>
<rect x="75.0" y="85.5" width="1.4" height="8.1" fill="#2e0000"/>
<rect x="75.0" y="93.4" width="1.4" height="8.1" fill="#140000"/>
<rect x="75.0" y="101.3" width="1.4" height="8.1" fill="#0f535c"/>
<rect x="75.0" y="109.2" width="1.4" height="8.1" fill="#093036"/>
<rect x="75.0" y="117.1" width="1.4" height="8.1" fill="#082c31"/>
<rect x="75.0" y="125.0" width="1.4" height="8.1" fill="#4f0000"/>
<rect x="75.0" y="132.9" width="1.4" height="8.1" fill="#640000"/>
<rect x="75.0" y="140.8" width="1.4" height="8.1" fill="#7c0000"/>
<rect x="75.0" y="148.7" width="1.4" height="8.1" fill="#850000"/>
<rect x="75.0" y="156.6" width="1.4" height="8.1" fill="#5f0000"/>
<rect x="75.0" y="164.5" width="1.4" height="8.1" fill="#aa0000"/>
<rect x="75.0" y="172.4" width="1.4" height="8.1" fill="#660000"/>
<rect x="75.0" y="180.3" width="1.4" height="8.1" fill="#7b0000"/>
<rect x="75.0" y="188.2" width="1.4" height="8.1" fill="#3f0000"/>
<rect x="75.0" y="196.1" width="1.4" height="8.1" fill="#780000"/>
<rect x="75.0" y="204.0" width="1.4" height="8.1" fill="#ba0000"/>
<rect x="75.0" y="211.9" width="1.4" height="8.1" fill="#8f0000"/>
<rect x="75.0" y="219.8" width="1.4" height="8.1" fill="#240000"/>
<rect x="75.0" y="227.7" width="1.4" height="8.1" fill="#750000"/>
<rect x="75.0" y="235.6" width="1.4" height="8.1" fill="#8a0000"/>
<rect x="75.0" y="243.5" width="1.4" height="8.1" fill="#320000"/>
<rect x="75.0" y="251.4" width="1.4" height="8.1" fill="#620000"/>
<rect x="76.2" y="53.9" width="1.4" height="8.1" fill="#031011"/>
<rect x="76.2" y="61.8" width="1.4" height="8.1" fill="#082e33"/>
<rect x="76.2" y="69.7" width="1.4" height="8.1" fill="#051b1e"/>
<rect x="76.2" y="77.6" width="1.4" height="8.1" fill="#000404"/>
<rect x="76.2" y="85.5" width="1.4" height="8.1" fill="#410000"/>
<rect x="76.2" y="93.4" width="1.4" height="8.1" fill="#040000"/>
<rect x="76.2" y="101.3" width="1.4" height="8.1" fill="#167885"/>
<rect x="76.2" y="109.2" width="1.4" height="8.1" fill="#0f535c"/>
<rect x="76.2" y="117.1" width="1.4" height="8.1" fill="#082c31"/>
<rect x="76.2" y="125.0" width="1.4" height="8.1" fill="#680000"/>
<rect x="76.2" y="132.9" width="1.4" height="8.1" fill="#a50000"/>
<rect x="76.2" y="140.8" width="1.4" height="8.1" fill="#650000"/>
<rect x="76.2" y="148.7" width="1.4" height="8.1" fill="#6a0000"/>
<rect x="76.2" y="156.6" width="1.4" height="8.1" fill="#5d0000"/>
<rect x="76.2" y="164.5" width="1.4" height="8.1" fill="#680000"/>
<rect x="76.2" y="172.4" width="1.4" height="8.1" fill="#470000"/>
<rect x="76.2" y="180.3" width="1.4" height="8.1" fill="#200000"/>
<rect x="76.2" y="188.2" width="1.4" height="8.1" fill="#3f0000"/>
<rect x="76.2" y="196.1" width="1.4" height="8.1" fill="#6c0000"/>
<rect x="76.2" y="204.0" width="1.4" height="8.1" fill="#8f0000"/>
<rect x="76.2" y="211.9" width="1.4" height="8.1" fill="#850000"/>
<rect x="76.2" y="219.8" width="1.4" height="8.1" fill="#620000"/>
<rect x="76.2" y="227.7" width="1.4" height="8.1" fill="#960000"/>
<rect x="76.2" y="235.6" width="1.4" height="8.1" fill="#080000"/>
<rect x="76.2" y="243.5" width="1.4" height="8.1" fill="#020d0e"/>
<rect x="76.2" y="251.4" width="1.4" height="8.1" fill="#0f0000"/>
<rect x="77.3" y="53.9" width="1.4" height="8.1" fill="#0c4249"/>
<rect x="77.3" y="61.8" width="1.4" height="8.1" fill="#1b91a0"/>
<rect x="77.3" y="69.7" width="1.4" height="8.1" fill="#0b3e45"/>
<rect x="77.3" y="77.6" width="1.4" height="8.1" fill="#1d9aab"/>
<rect x="77.3" y="85.5" width="1.4" height="8.1" fill="#031113"/>
<rect x="77.3" y="93.4" width="1.4" height="8.1" fill="#12626d"/>
<rect x="77.3" y="101.3" width="1.4" height="8.1" fill="#136671"/>
<rect x="77.3" y="109.2" width="1.4" height="8.1" fill="#082b30"/>
<rect x="77.3" y="117.1" width="1.4" height="8.1" fill="#0c434b"/>
<rect x="77.3" y="125.0" width="1.4" height="8.1" fill="#3c0000"/>
<rect x="77.3" y="132.9" width="1.4" height="8.1" fill="#310000"/>
<rect x="77.3" y="140.8" width="1.4" height="8.1" fill="#240000"/>
<rect x="77.3" y="148.7" width="1.4" height="8.1" fill="#220000"/>
<rect x="77.3" y="156.6" width="1.4" height="8.1" fill="#4d0000"/>
<rect x="77.3" y="164.5" width="1.4" height="8.1" fill="#5e0000"/>
<rect x="77.3" y="172.4" width="1.4" height="8.1" fill="#380000"/>
<rect x="77.3" y="180.3" width="1.4" height="8.1" fill="#380000"/>
<rect x="77.3" y="188.2" width="1.4" height="8.1" fill="#130000"/>
<rect x="77.3" y="196.1" width="1.4" height="8.1" fill="#0a0000"/>
<rect x="77.3" y="204.0" width="1.4" height="8.1" fill="#100000"/>
<rect x="77.3" y="211.9" width="1.4" height="8.1" fill="#240000"/>
<rect x="77.3" y="219.8" width="1.4" height="8.1" fill="#500000"/>
<rect x="77.3" y="227.7" width="1.4" height="8.1" fill="#050000"/>
<rect x="77.3" y="235.6" width="1.4" height="8.1" fill="#370000"/>
<rect x="77.3" y="243.5" width="1.4" height="8.1" fill="#430000"/>
<rect x="77.3" y="251.4" width="1.4" height="8.1" fill="#430000"/>
<rect x="78.5" y="53.9" width="1.4" height="8.1" fill="#020e10"/>
<rect x="78.5" y="61.8" width="1.4" height="8.1" fill="#0d464e"/>
<rect x="78.5" y="69.7" width="1.4" height="8.1" fill="#115a64"/>
<rect x="78.5" y="77.6" width="1.4" height="8.1" fill="#092f34"/>
<rect x="78.5" y="85.5" width="1.4" height="8.1" fill="#390000"/>
<rect x="78.5" y="93.4" width="1.4" height="8.1" fill="#3f0000"/>
<rect x="78.5" y="101.3" width="1.4" height="8.1" fill="#07292d"/>
<rect x="78.5" y="109.2" width="1.4" height="8.1" fill="#0a0000"/>
<rect x="78.5" y="117.1" width="1.4" height="8.1" fill="#020c0d"/>
<rect x="78.5" y="125.0" width="1.4" height="8.1" fill="#860000"/>
<rect x="78.5" y="132.9" width="1.4" height="8.1" fill="#5f0000"/>
<rect x="78.5" y="140.8" width="1.4" height="8.1" fill="#690000"/>
<rect x="78.5" y="148.7" width="1.4" height="8.1" fill="#560000"/>
<rect x="78.5" y="156.6" width="1.4" height="8.1" fill="#580000"/>
<rect x="78.5" y="164.5" width="1.4" height="8.1" fill="#340000"/>
<rect x="78.5" y="172.4" width="1.4" height="8.1" fill="#020b0d"/>
<rect x="78.5" y="180.3" width="1.4" height="8.1" fill="#370000"/>
<rect x="78.5" y="188.2" width="1.4" height="8.1" fill="#340000"/>
<rect x="78.5" y="196.1" width="1.4" height="8.1" fill="#6f0000"/>
<rect x="78.5" y="204.0" width="1.4" height="8.1" fill="#480000"/>
<rect x="78.5" y="211.9" width="1.4" height="8.1" fill="#910000"/>
<rect x="78.5" y="219.8" width="1.4" height="8.1" fill="#860000"/>
<rect x="78.5" y="227.7" width="1.4" height="8.1" fill="#7b0000"/>
<rect x="78.5" y="235.6" width="1.4" height="8.1" fill="#400000"/>
<rect x="78.5" y="243.5" width="1.4" height="8.1" fill="#082a2e"/>
<rect x="78.5" y="251.4" width="1.4" height="8.1" fill="#2a0000"/>
<rect x="79.6" y="53.9" width="1.4" height="8.1" fill="#062024"/>
<rect x="79.6" y="61.8" width="1.4" height="8.1" fill="#0a353b"/>
<rect x="79.6" y="69.7" width="1.4" height="8.1" fill="#0c3f46"/>
<rect x="79.6" y="77.6" width="1.4" height="8.1" fill="#1fa7b9"/>
<rect x="79.6" y="85.5" width="1.4" height="8.1" fill="#1a8a99"/>
<rect x="79.6" y="93.4" width="1.4" height="8.1" fill="#1e9fb0"/>
<rect x="79.6" y="101.3" width="1.4" height="8.1" fill="#20aabd"/>
<rect x="79.6" y="109.2" width="1.4" height="8.1" fill="#18808d"/>
<rect x="79.6" y="117.1" width="1.4" height="8.1" fill="#146975"/>
<rect x="79.6" y="125.0" width="1.4" height="8.1" fill="#5d0000"/>
<rect x="79.6" y="132.9" width="1.4" height="8.1" fill="#4b0000"/>
<rect x="79.6" y="140.8" width="1.4" height="8.1" fill="#0b0000"/>
<rect x="79.6" y="148.7" width="1.4" height="8.1" fill="#130000"/>
<rect x="79.6" y="156.6" width="1.4" height="8.1" fill="#0d464e"/>
<rect x="79.6" y="164.5" width="1.4" height="8.1" fill="#020000"/>
<rect x="79.6" y="172.4" width="1.4" height="8.1" fill="#310000"/>
<rect x="79.6" y="180.3" width="1.4" height="8.1" fill="#4e0000"/>
<rect x="79.6" y="188.2" width="1.4" height="8.1" fill="#190000"/>
<rect x="79.6" y="196.1" width="1.4" height="8.1" fill="#3f0000"/>
<rect x="79.6" y="204.0" width="1.4" height="8.1" fill="#800000"/>
<rect x="79.6" y="211.9" width="1.4" height="8.1" fill="#9a0000"/>
<rect x="79.6" y="219.8" width="1.4" height="8.1" fill="#770000"/>
<rect x="79.6" y="227.7" width="1.4" height="8.1" fill="#890000"/>
<rect x="79.6" y="235.6" width="1.4" height="8.1" fill="#07282c"/>
<rect x="79.6" y="243.5" width="1.4" height="8.1" fill="#072a2e"/>
<rect x="79.6" y="251.4" width="1.4" height="8.1" fill="#041618"/>
<rect x="80.8" y="53.9" width="1.4" height="8.1" fill="#187f8c"/>
<rect x="80.8" y="61.8" width="1.4" height="8.1" fill="#10555e"/>
<rect x="80.8" y="69.7" width="1.4" height="8.1" fill="#0b3b41"/>
<rect x="80.8" y="77.6" width="1.4" height="8.1" fill="#177c89"/>
<rect x="80.8" y="85.5" width="1.4" height="8.1" fill="#031011"/>
<rect x="80.8" y="93.4" width="1.4" height="8.1" fill="#0a383e"/>
<rect x="80.8" y="101.3" width="1.4" height="8.1" fill="#198796"/>
<rect x="80.8" y="109.2" width="1.4" height="8.1" fill="#177c8a"/>
<rect x="80.8" y="117.1" width="1.4" height="8.1" fill="#156f7b"/>
<rect x="80.8" y="125.0" width="1.4" height="8.1" fill="#510000"/>
<rect x="80.8" y="132.9" width="1.4" height="8.1" fill="#640000"/>
<rect x="80.8" y="140.8" width="1.4" height="8.1" fill="#560000"/>
<rect x="80.8" y="148.7" width="1.4" height="8.1" fill="#470000"/>
<rect x="80.8" y="156.6" width="1.4" height="8.1" fill="#730000"/>
<rect x="80.8" y="164.5" width="1.4" height="8.1" fill="#650000"/>
<rect x="80.8" y="172.4" width="1.4" height="8.1" fill="#350000"/>
<rect x="80.8" y="180.3" width="1.4" height="8.1" fill="#780000"/>
<rect x="80.8" y="188.2" width="1.4" height="8.1" fill="#4f0000"/>
<rect x="80.8" y="196.1" width="1.4" height="8.1" fill="#9b0000"/>
<rect x="80.8" y="204.0" width="1.4" height="8.1" fill="#7c0000"/>
<rect x="80.8" y="211.9" width="1.4" height="8.1" fill="#5c0000"/>
<rect x="80.8" y="219.8" width="1.4" height="8.1" fill="#0e0000"/>
<rect x="80.8" y="227.7" width="1.4" height="8.1" fill="#380000"/>
<rect x="80.8" y="235.6" width="1.4" height="8.1" fill="#3e0000"/>
<rect x="80.8" y="243.5" width="1.4" height="8.1" fill="#051d21"/>
<rect x="80.8" y="251.4" width="1.4" height="8.1" fill="#0a343a"/>
<rect x="81.9" y="53.9" width="1.4" height="8.1" fill="#0d464d"/>
<rect x="81.9" y="61.8" width="1.4" height="8.1" fill="#115b65"/>
<rect x="81.9" y="69.7" width="1.4" height="8.1" fill="#177a87"/>
<rect x="81.9" y="77.6" width="1.4" height="8.1" fill="#1a8c9c"/>
<rect x="81.9" y="85.5" width="1.4" height="8.1" fill="#0d0000"/>
<rect x="81.9" y="93.4" width="1.4" height="8.1" fill="#020f11"/>
<rect x="81.9" y="101.3" width="1.4" height="8.1" fill="#115a64"/>
<rect x="81.9" y="109.2" width="1.4" height="8.1" fill="#12636e"/>
<rect x="81.9" y="117.1" width="1.4" height="8.1" fill="#167581"/>
<rect x="81.9" y="125.0" width="1.4" height="8.1" fill="#3a0000"/>
<rect x="81.9" y="132.9" width="1.4" height="8.1" fill="#400000"/>
<rect x="81.9" y="140.8" width="1.4" height="8.1" fill="#380000"/>
<rect x="81.9" y="148.7" width="1.4" height="8.1" fill="#070000"/>
<rect x="81.9" y="156.6" width="1.4" height="8.1" fill="#280000"/>
<rect x="81.9" y="164.5" width="1.4" height="8.1" fill="#720000"/>
<rect x="81.9" y="172.4" width="1.4" height="8.1" fill="#1a0000"/>
<rect x="81.9" y="180.3" width="1.4" height="8.1" fill="#07282c"/>
<rect x="81.9" y="188.2" width="1.4" height="8.1" fill="#093238"/>
<rect x="81.9" y="196.1" width="1.4" height="8.1" fill="#062226"/>
<rect x="81.9" y="204.0" width="1.4" height="8.1" fill="#000404"/>
<rect x="81.9" y="211.9" width="1.4" height="8.1" fill="#0a0000"/>
<rect x="81.9" y="219.8" width="1.4" height="8.1" fill="#3a0000"/>
<rect x="81.9" y="227.7" width="1.4" height="8.1" fill="#030f11"/>
<rect x="81.9" y="235.6" width="1.4" height="8.1" fill="#400000"/>
<rect x="81.9" y="243.5" width="1.4" height="8.1" fill="#1d0000"/>
<rect x="81.9" y="251.4" width="1.4" height="8.1" fill="#240000"/>
<rect x="83.1" y="53.9" width="1.4" height="8.1" fill="#0b3d43"/>
<rect x="83.1" y="61.8" width="1.4" height="8.1" fill="#188290"/>
<rect x="83.1" y="69.7" width="1.4" height="8.1" fill="#0d4850"/>
<rect x="83.1" y="77.6" width="1.4" height="8.1" fill="#146a76"/>
<rect x="83.1" y="85.5" width="1.4" height="8.1" fill="#082d32"/>
<rect x="83.1" y="93.4" width="1.4" height="8.1" fill="#0e4e57"/>
<rect x="83.1" y="101.3" width="1.4" height="8.1" fill="#0b3f45"/>
<rect x="83.1" y="109.2" width="1.4" height="8.1" fill="#1b91a1"/>
<rect x="83.1" y="117.1" width="1.4" height="8.1" fill="#136772"/>
<rect x="83.1" y="125.0" width="1.4" height="8.1" fill="#470000"/>
<rect x="83.1" y="132.9" width="1.4" height="8.1" fill="#7d0000"/>
<rect x="83.1" y="140.8" width="1.4" height="8.1" fill="#3f0000"/>
<rect x="83.1" y="148.7" width="1.4" height="8.1" fill="#390000"/>
<rect x="83.1" y="156.6" width="1.4" height="8.1" fill="#4f0000"/>
<rect x="83.1" y="164.5" width="1.4" height="8.1" fill="#2a0000"/>
<rect x="83.1" y="172.4" width="1.4" height="8.1" fill="#040000"/>
<rect x="83.1" y="180.3" width="1.4" height="8.1" fill="#320000"/>
<rect x="83.1" y="188.2" width="1.4" height="8.1" fill="#260000"/>
<rect x="83.1" y="196.1" width="1.4" height="8.1" fill="#093339"/>
<rect x="83.1" y="204.0" width="1.4" height="8.1" fill="#360000"/>
<rect x="83.1" y="211.9" width="1.4" height="8.1" fill="#360000"/>
<rect x="83.1" y="219.8" width="1.4" height="8.1" fill="#510000"/>
<rect x="83.1" y="227.7" width="1.4" height="8.1" fill="#820000"/>
<rect x="83.1" y="235.6" width="1.4" height="8.1" fill="#570000"/>
<rect x="83.1" y="243.5" width="1.4" height="8.1" fill="#290000"/>
<rect x="83.1" y="251.4" width="1.4" height="8.1" fill="#350000"/>
<rect x="84.2" y="53.9" width="1.4" height="8.1" fill="#040000"/>
<rect x="84.2" y="61.8" width="1.4" height="8.1" fill="#115d68"/>
<rect x="84.2" y="69.7" width="1.4" height="8.1" fill="#0e4d55"/>
<rect x="84.2" y="77.6" width="1.4" height="8.1" fill="#12616c"/>
<rect x="84.2" y="85.5" width="1.4" height="8.1" fill="#072529"/>
<rect x="84.2" y="93.4" width="1.4" height="8.1" fill="#0b3a40"/>
<rect x="84.2" y="101.3" width="1.4" height="8.1" fill="#187f8c"/>
<rect x="84.2" y="109.2" width="1.4" height="8.1" fill="#115c66"/>
<rect x="84.2" y="117.1" width="1.4" height="8.1" fill="#146975"/>
<rect x="84.2" y="125.0" width="1.4" height="8.1" fill="#082f34"/>
<rect x="84.2" y="132.9" width="1.4" height="8.1" fill="#12646f"/>
<rect x="84.2" y="140.8" width="1.4" height="8.1" fill="#0f5059"/>
<rect x="84.2" y="148.7" width="1.4" height="8.1" fill="#051c1f"/>
<rect x="84.2" y="156.6" width="1.4" height="8.1" fill="#020e0f"/>
<rect x="84.2" y="164.5" width="1.4" height="8.1" fill="#450000"/>
<rect x="84.2" y="172.4" width="1.4" height="8.1" fill="#2c0000"/>
<rect x="84.2" y="180.3" width="1.4" height="8.1" fill="#430000"/>
<rect x="84.2" y="188.2" width="1.4" height="8.1" fill="#3c0000"/>
<rect x="84.2" y="196.1" width="1.4" height="8.1" fill="#6c0000"/>
<rect x="84.2" y="204.0" width="1.4" height="8.1" fill="#4a0000"/>
<rect x="84.2" y="211.9" width="1.4" height="8.1" fill="#0a0000"/>
<rect x="84.2" y="219.8" width="1.4" height="8.1" fill="#051a1d"/>
<rect x="84.2" y="227.7" width="1.4" height="8.1" fill="#2f0000"/>
<rect x="84.2" y="235.6" width="1.4" height="8.1" fill="#2f0000"/>
<rect x="84.2" y="243.5" width="1.4" height="8.1" fill="#051c1f"/>
<rect x="84.2" y="251.4" width="1.4" height="8.1" fill="#1e0000"/>
<rect x="85.4" y="53.9" width="1.4" height="8.1" fill="#031315"/>
<rect x="85.4" y="61.8" width="1.4" height="8.1" fill="#115e68"/>
<rect x="85.4" y="69.7" width="1.4" height="8.1" fill="#167683"/>
<rect x="85.4" y="77.6" width="1.4" height="8.1" fill="#15727e"/>
<rect x="85.4" y="85.5" width="1.4" height="8.1" fill="#04191c"/>
<rect x="85.4" y="93.4" width="1.4" height="8.1" fill="#198492"/>
<rect x="85.4" y="101.3" width="1.4" height="8.1" fill="#1ea0b2"/>
<rect x="85.4" y="109.2" width="1.4" height="8.1" fill="#1fa6b8"/>
<rect x="85.4" y="117.1" width="1.4" height="8.1" fill="#1c97a7"/>
<rect x="85.4" y="125.0" width="1.4" height="8.1" fill="#440000"/>
<rect x="85.4" y="132.9" width="1.4" height="8.1" fill="#180000"/>
<rect x="85.4" y="140.8" width="1.4" height="8.1" fill="#000101"/>
<rect x="85.4" y="148.7" width="1.4" height="8.1" fill="#0f0000"/>
<rect x="85.4" y="156.6" width="1.4" height="8.1" fill="#030000"/>
<rect x="85.4" y="164.5" width="1.4" height="8.1" fill="#320000"/>
<rect x="85.4" y="172.4" width="1.4" height="8.1" fill="#1b0000"/>
<rect x="85.4" y="180.3" width="1.4" height="8.1" fill="#170000"/>
<rect x="85.4" y="188.2" width="1.4" height="8.1" fill="#0a353b"/>
<rect x="85.4" y="196.1" width="1.4" height="8.1" fill="#1c0000"/>
<rect x="85.4" y="204.0" width="1.4" height="8.1" fill="#510000"/>
<rect x="85.4" y="211.9" width="1.4" height="8.1" fill="#3a0000"/>
<rect x="85.4" y="219.8" width="1.4" height="8.1" fill="#2c0000"/>
<rect x="85.4" y="227.7" width="1.4" height="8.1" fill="#810000"/>
<rect x="85.4" y="235.6" width="1.4" height="8.1" fill="#840000"/>
<rect x="85.4" y="243.5" width="1.4" height="8.1" fill="#4e0000"/>
<rect x="85.4" y="251.4" width="1.4" height="8.1" fill="#320000"/>
<rect x="86.6" y="53.9" width="1.4" height="8.1" fill="#340000"/>
<rect x="86.6" y="61.8" width="1.4" height="8.1" fill="#080000"/>
<rect x="86.6" y="69.7" width="1.4" height="8.1" fill="#160000"/>
<rect x="86.6" y="77.6" width="1.4" height="8.1" fill="#082b30"/>
<rect x="86.6" y="85.5" width="1.4" height="8.1" fill="#200000"/>
<rect x="86.6" y="93.4" width="1.4" height="8.1" fill="#0d464d"/>
<rect x="86.6" y="101.3" width="1.4" height="8.1" fill="#07262a"/>
<rect x="86.6" y="109.2" width="1.4" height="8.1" fill="#0d464d"/>
<rect x="86.6" y="117.1" width="1.4" height="8.1" fill="#167683"/>
<rect x="86.6" y="125.0" width="1.4" height="8.1" fill="#370000"/>
<rect x="86.6" y="132.9" width="1.4" height="8.1" fill="#210000"/>
<rect x="86.6" y="140.8" width="1.4" height="8.1" fill="#130000"/>
<rect x="86.6" y="148.7" width="1.4" height="8.1" fill="#3f0000"/>
<rect x="86.6" y="156.6" width="1.4" height="8.1" fill="#240000"/>
<rect x="86.6" y="164.5" width="1.4" height="8.1" fill="#290000"/>
<rect x="86.6" y="172.4" width="1.4" height="8.1" fill="#290000"/>
<rect x="86.6" y="180.3" width="1.4" height="8.1" fill="#000000"/>
<rect x="86.6" y="188.2" width="1.4" height="8.1" fill="#260000"/>
<rect x="86.6" y="196.1" width="1.4" height="8.1" fill="#310000"/>
<rect x="86.6" y="204.0" width="1.4" height="8.1" fill="#3f0000"/>
<rect x="86.6" y="211.9" width="1.4" height="8.1" fill="#710000"/>
<rect x="86.6" y="219.8" width="1.4" height="8.1" fill="#4e0000"/>
<rect x="86.6" y="227.7" width="1.4" height="8.1" fill="#330000"/>
<rect x="86.6" y="235.6" width="1.4" height="8.1" fill="#1f0000"/>
<rect x="86.6" y="243.5" width="1.4" height="8.1" fill="#030000"/>
<rect x="86.6" y="251.4" width="1.4" height="8.1" fill="#010000"/>
<rect x="87.7" y="53.9" width="1.4" height="8.1" fill="#198795"/>
<rect x="87.7" y="61.8" width="1.4" height="8.1" fill="#23b9cd"/>
<rect x="87.7" y="69.7" width="1.4" height="8.1" fill="#23b9cd"/>
<rect x="87.7" y="77.6" width="1.4" height="8.1" fill="#1d9bac"/>
<rect x="87.7" y="85.5" width="1.4" height="8.1" fill="#0b3d44"/>
<rect x="87.7" y="93.4" width="1.4" height="8.1" fill="#136873"/>
<rect x="87.7" y="101.3" width="1.4" height="8.1" fill="#20abbe"/>
<rect x="87.7" y="109.2" width="1.4" height="8.1" fill="#20abbe"/>
<rect x="87.7" y="117.1" width="1.4" height="8.1" fill="#1b92a2"/>
<rect x="87.7" y="125.0" width="1.4" height="8.1" fill="#07262a"/>
<rect x="87.7" y="132.9" width="1.4" height="8.1" fill="#0e0000"/>
<rect x="87.7" y="140.8" width="1.4" height="8.1" fill="#2a0000"/>
<rect x="87.7" y="148.7" width="1.4" height="8.1" fill="#061f23"/>
<rect x="87.7" y="156.6" width="1.4" height="8.1" fill="#000000"/>
<rect x="87.7" y="164.5" width="1.4" height="8.1" fill="#0a353a"/>
<rect x="87.7" y="172.4" width="1.4" height="8.1" fill="#0e0000"/>
<rect x="87.7" y="180.3" width="1.4" height="8.1" fill="#04191c"/>
<rect x="87.7" y="188.2" width="1.4" height="8.1" fill="#000101"/>
<rect x="87.7" y="196.1" width="1.4" height="8.1" fill="#1c0000"/>
<rect x="87.7" y="204.0" width="1.4" height="8.1" fill="#2d0000"/>
<rect x="87.7" y="211.9" width="1.4" height="8.1" fill="#400000"/>
<rect x="87.7" y="219.8" width="1.4" height="8.1" fill="#0e0000"/>
<rect x="87.7" y="227.7" width="1.4" height="8.1" fill="#130000"/>
<rect x="87.7" y="235.6" width="1.4" height="8.1" fill="#200000"/>
<rect x="87.7" y="243.5" width="1.4" height="8.1" fill="#01090a"/>
<rect x="87.7" y="251.4" width="1.4" height="8.1" fill="#031416"/>
<rect x="88.9" y="53.9" width="1.4" height="8.1" fill="#031315"/>
<rect x="88.9" y="61.8" width="1.4" height="8.1" fill="#031214"/>
<rect x="88.9" y="69.7" width="1.4" height="8.1" fill="#1a0000"/>
<rect x="88.9" y="77.6" width="1.4" height="8.1" fill="#051c1f"/>
<rect x="88.9" y="85.5" width="1.4" height="8.1" fill="#07272b"/>
<rect x="88.9" y="93.4" width="1.4" height="8.1" fill="#167683"/>
<rect x="88.9" y="101.3" width="1.4" height="8.1" fill="#157480"/>
<rect x="88.9" y="109.2" width="1.4" height="8.1" fill="#115c66"/>
<rect x="88.9" y="117.1" width="1.4" height="8.1" fill="#090000"/>
<rect x="88.9" y="125.0" width="1.4" height="8.1" fill="#540000"/>
<rect x="88.9" y="132.9" width="1.4" height="8.1" fill="#600000"/>
<rect x="88.9" y="140.8" width="1.4" height="8.1" fill="#360000"/>
<rect x="88.9" y="148.7" width="1.4" height="8.1" fill="#2c0000"/>
<rect x="88.9" y="156.6" width="1.4" height="8.1" fill="#4a0000"/>
<rect x="88.9" y="164.5" width="1.4" height="8.1" fill="#2d0000"/>
<rect x="88.9" y="172.4" width="1.4" height="8.1" fill="#180000"/>
<rect x="88.9" y="180.3" width="1.4" height="8.1" fill="#3a0000"/>
<rect x="88.9" y="188.2" width="1.4" height="8.1" fill="#4b0000"/>
<rect x="88.9" y="196.1" width="1.4" height="8.1" fill="#5d0000"/>
<rect x="88.9" y="204.0" width="1.4" height="8.1" fill="#4d0000"/>
<rect x="88.9" y="211.9" width="1.4" height="8.1" fill="#650000"/>
<rect x="88.9" y="219.8" width="1.4" height="8.1" fill="#220000"/>
<rect x="88.9" y="227.7" width="1.4" height="8.1" fill="#260000"/>
<rect x="88.9" y="235.6" width="1.4" height="8.1" fill="#600000"/>
<rect x="88.9" y="243.5" width="1.4" height="8.1" fill="#1b0000"/>
<rect x="88.9" y="251.4" width="1.4" height="8.1" fill="#450000"/>
<rect x="90.0" y="53.9" width="1.4" height="8.1" fill="#250000"/>
<rect x="90.0" y="61.8" width="1.4" height="8.1" fill="#000304"/>
<rect x="90.0" y="69.7" width="1.4" height="8.1" fill="#470000"/>
<rect x="90.0" y="77.6" width="1.4" height="8.1" fill="#01090a"/>
<rect x="90.0" y="85.5" width="1.4" height="8.1" fill="#3a0000"/>
<rect x="90.0" y="93.4" width="1.4" height="8.1" fill="#270000"/>
<rect x="90.0" y="101.3" width="1.4" height="8.1" fill="#090000"/>
<rect x="90.0" y="109.2" width="1.4" height="8.1" fill="#0d0000"/>
<rect x="90.0" y="117.1" width="1.4" height="8.1" fill="#000304"/>
<rect x="90.0" y="125.0" width="1.4" height="8.1" fill="#670000"/>
<rect x="90.0" y="132.9" width="1.4" height="8.1" fill="#8c0000"/>
<rect x="90.0" y="140.8" width="1.4" height="8.1" fill="#600000"/>
<rect x="90.0" y="148.7" width="1.4" height="8.1" fill="#2c0000"/>
<rect x="90.0" y="156.6" width="1.4" height="8.1" fill="#330000"/>
<rect x="90.0" y="164.5" width="1.4" height="8.1" fill="#620000"/>
<rect x="90.0" y="172.4" width="1.4" height="8.1" fill="#240000"/>
<rect x="90.0" y="180.3" width="1.4" height="8.1" fill="#170000"/>
<rect x="90.0" y="188.2" width="1.4" height="8.1" fill="#180000"/>
<rect x="90.0" y="196.1" width="1.4" height="8.1" fill="#450000"/>
<rect x="90.0" y="204.0" width="1.4" height="8.1" fill="#5e0000"/>
<rect x="90.0" y="211.9" width="1.4" height="8.1" fill="#5b0000"/>
<rect x="90.0" y="219.8" width="1.4" height="8.1" fill="#470000"/>
<rect x="90.0" y="227.7" width="1.4" height="8.1" fill="#470000"/>
<rect x="90.0" y="235.6" width="1.4" height="8.1" fill="#550000"/>
<rect x="90.0" y="243.5" width="1.4" height="8.1" fill="#560000"/>
<rect x="90.0" y="251.4" width="1.4" height="8.1" fill="#590000"/>
<rect x="91.2" y="53.9" width="1.4" height="8.1" fill="#177d8a"/>
<rect x="91.2" y="61.8" width="1.4" height="8.1" fill="#1ea3b4"/>
<rect x="91.2" y="69.7" width="1.4" height="8.1" fill="#0d4951"/>
<rect x="91.2" y="77.6" width="1.4" height="8.1" fill="#115d67"/>
<rect x="91.2" y="85.5" width="1.4" height="8.1" fill="#051a1d"/>
<rect x="91.2" y="93.4" width="1.4" height="8.1" fill="#146975"/>
<rect x="91.2" y="101.3" width="1.4" height="8.1" fill="#21afc2"/>
<rect x="91.2" y="109.2" width="1.4" height="8.1" fill="#105861"/>
<rect x="91.2" y="117.1" width="1.4" height="8.1" fill="#115e69"/>
<rect x="91.2" y="125.0" width="1.4" height="8.1" fill="#270000"/>
<rect x="91.2" y="132.9" width="1.4" height="8.1" fill="#062226"/>
<rect x="91.2" y="140.8" width="1.4" height="8.1" fill="#051b1e"/>
<rect x="91.2" y="148.7" width="1.4" height="8.1" fill="#198695"/>
<rect x="91.2" y="156.6" width="1.4" height="8.1" fill="#07292e"/>
<rect x="91.2" y="164.5" width="1.4" height="8.1" fill="#062428"/>
<rect x="91.2" y="172.4" width="1.4" height="8.1" fill="#051d20"/>
<rect x="91.2" y="180.3" width="1.4" height="8.1" fill="#240000"/>
<rect x="91.2" y="188.2" width="1.4" height="8.1" fill="#120000"/>
<rect x="91.2" y="196.1" width="1.4" height="8.1" fill="#5a0000"/>
<rect x="91.2" y="204.0" width="1.4" height="8.1" fill="#5d0000"/>
<rect x="91.2" y="211.9" width="1.4" height="8.1" fill="#2f0000"/>
<rect x="91.2" y="219.8" width="1.4" height="8.1" fill="#010707"/>
<rect x="91.2" y="227.7" width="1.4" height="8.1" fill="#240000"/>
<rect x="91.2" y="235.6" width="1.4" height="8.1" fill="#050000"/>
<rect x="91.2" y="243.5" width="1.4" height="8.1" fill="#12606b"/>
<rect x="91.2" y="251.4" width="1.4" height="8.1" fill="#082f34"/>
<rect x="92.3" y="53.9" width="1.4" height="8.1" fill="#1b0000"/>
<rect x="92.3" y="61.8" width="1.4" height="8.1" fill="#04191c"/>
<rect x="92.3" y="69.7" width="1.4" height="8.1" fill="#020c0d"/>
<rect x="92.3" y="77.6" width="1.4" height="8.1" fill="#187f8d"/>
<rect x="92.3" y="85.5" width="1.4" height="8.1" fill="#020c0e"/>
<rect x="92.3" y="93.4" width="1.4" height="8.1" fill="#041618"/>
<rect x="92.3" y="101.3" width="1.4" height="8.1" fill="#082f34"/>
<rect x="92.3" y="109.2" width="1.4" height="8.1" fill="#07252a"/>
<rect x="92.3" y="117.1" width="1.4" height="8.1" fill="#000304"/>
<rect x="92.3" y="125.0" width="1.4" height="8.1" fill="#c10000"/>
<rect x="92.3" y="132.9" width="1.4" height="8.1" fill="#6c0000"/>
<rect x="92.3" y="140.8" width="1.4" height="8.1" fill="#3f0000"/>
<rect x="92.3" y="148.7" width="1.4" height="8.1" fill="#220000"/>
<rect x="92.3" y="156.6" width="1.4" height="8.1" fill="#310000"/>
<rect x="92.3" y="164.5" width="1.4" height="8.1" fill="#480000"/>
<rect x="92.3" y="172.4" width="1.4" height="8.1" fill="#3a0000"/>
<rect x="92.3" y="180.3" width="1.4" height="8.1" fill="#520000"/>
<rect x="92.3" y="188.2" width="1.4" height="8.1" fill="#0e4a52"/>
<rect x="92.3" y="196.1" width="1.4" height="8.1" fill="#360000"/>
<rect x="92.3" y="204.0" width="1.4" height="8.1" fill="#180000"/>
<rect x="92.3" y="211.9" width="1.4" height="8.1" fill="#580000"/>
<rect x="92.3" y="219.8" width="1.4" height="8.1" fill="#120000"/>
<rect x="92.3" y="227.7" width="1.4" height="8.1" fill="#440000"/>
<rect x="92.3" y="235.6" width="1.4" height="8.1" fill="#6e0000"/>
<rect x="92.3" y="243.5" width="1.4" height="8.1" fill="#010809"/>
<rect x="92.3" y="251.4" width="1.4" height="8.1" fill="#031315"/>
<rect x="93.5" y="53.9" width="1.4" height="8.1" fill="#040000"/>
<rect x="93.5" y="61.8" width="1.4" height="8.1" fill="#031214"/>
<rect x="93.5" y="69.7" width="1.4" height="8.1" fill="#0b3c42"/>
<rect x="93.5" y="77.6" width="1.4" height="8.1" fill="#062327"/>
<rect x="93.5" y="85.5" width="1.4" height="8.1" fill="#080000"/>
<rect x="93.5" y="93.4" width="1.4" height="8.1" fill="#130000"/>
<rect x="93.5" y="101.3" width="1.4" height="8.1" fill="#062226"/>
<rect x="93.5" y="109.2" width="1.4" height="8.1" fill="#198796"/>
<rect x="93.5" y="117.1" width="1.4" height="8.1" fill="#1e9eb0"/>
<rect x="93.5" y="125.0" width="1.4" height="8.1" fill="#630000"/>
<rect x="93.5" y="132.9" width="1.4" height="8.1" fill="#4d0000"/>
<rect x="93.5" y="140.8" width="1.4" height="8.1" fill="#450000"/>
<rect x="93.5" y="148.7" width="1.4" height="8.1" fill="#0e4e56"/>
<rect x="93.5" y="156.6" width="1.4" height="8.1" fill="#3d0000"/>
<rect x="93.5" y="164.5" width="1.4" height="8.1" fill="#4e0000"/>
<rect x="93.5" y="172.4" width="1.4" height="8.1" fill="#7b0000"/>
<rect x="93.5" y="180.3" width="1.4" height="8.1" fill="#150000"/>
<rect x="93.5" y="188.2" width="1.4" height="8.1" fill="#100000"/>
<rect x="93.5" y="196.1" width="1.4" height="8.1" fill="#350000"/>
<rect x="93.5" y="204.0" width="1.4" height="8.1" fill="#840000"/>
<rect x="93.5" y="211.9" width="1.4" height="8.1" fill="#7c0000"/>
<rect x="93.5" y="219.8" width="1.4" height="8.1" fill="#490000"/>
<rect x="93.5" y="227.7" width="1.4" height="8.1" fill="#530000"/>
<rect x="93.5" y="235.6" width="1.4" height="8.1" fill="#080000"/>
<rect x="93.5" y="243.5" width="1.4" height="8.1" fill="#010607"/>
<rect x="93.5" y="251.4" width="1.4" height="8.1" fill="#125f69"/>
<rect x="94.6" y="53.9" width="1.4" height="8.1" fill="#0d464e"/>
<rect x="94.6" y="61.8" width="1.4" height="8.1" fill="#1d99aa"/>
<rect x="94.6" y="69.7" width="1.4" height="8.1" fill="#0a353b"/>
<rect x="94.6" y="77.6" width="1.4" height="8.1" fill="#0c434a"/>
<rect x="94.6" y="85.5" width="1.4" height="8.1" fill="#010000"/>
<rect x="94.6" y="93.4" width="1.4" height="8.1" fill="#0b3e45"/>
<rect x="94.6" y="101.3" width="1.4" height="8.1" fill="#0b3b41"/>
<rect x="94.6" y="109.2" width="1.4" height="8.1" fill="#15707c"/>
<rect x="94.6" y="117.1" width="1.4" height="8.1" fill="#0c4047"/>
<rect x="94.6" y="125.0" width="1.4" height="8.1" fill="#640000"/>
<rect x="94.6" y="132.9" width="1.4" height="8.1" fill="#1f0000"/>
<rect x="94.6" y="140.8" width="1.4" height="8.1" fill="#450000"/>
<rect x="94.6" y="148.7" width="1.4" height="8.1" fill="#170000"/>
<rect x="94.6" y="156.6" width="1.4" height="8.1" fill="#570000"/>
<rect x="94.6" y="164.5" width="1.4" height="8.1" fill="#290000"/>
<rect x="94.6" y="172.4" width="1.4" height="8.1" fill="#4f0000"/>
<rect x="94.6" y="180.3" width="1.4" height="8.1" fill="#320000"/>
<rect x="94.6" y="188.2" width="1.4" height="8.1" fill="#110000"/>
<rect x="94.6" y="196.1" width="1.4" height="8.1" fill="#330000"/>
<rect x="94.6" y="204.0" width="1.4" height="8.1" fill="#110000"/>
<rect x="94.6" y="211.9" width="1.4" height="8.1" fill="#640000"/>
<rect x="94.6" y="219.8" width="1.4" height="8.1" fill="#2e0000"/>
<rect x="94.6" y="227.7" width="1.4" height="8.1" fill="#100000"/>
<rect x="94.6" y="235.6" width="1.4" height="8.1" fill="#400000"/>
<rect x="94.6" y="243.5" width="1.4" height="8.1" fill="#0b3d43"/>
<rect x="94.6" y="251.4" width="1.4" height="8.1" fill="#082f34"/>
<rect x="95.8" y="53.9" width="1.4" height="8.1" fill="#090000"/>
<rect x="95.8" y="61.8" width="1.4" height="8.1" fill="#0f525b"/>
<rect x="95.8" y="69.7" width="1.4" height="8.1" fill="#010708"/>
<rect x="95.8" y="77.6" width="1.4" height="8.1" fill="#010809"/>
<rect x="95.8" y="85.5" width="1.4" height="8.1" fill="#051f23"/>
<rect x="95.8" y="93.4" width="1.4" height="8.1" fill="#270000"/>
<rect x="95.8" y="101.3" width="1.4" height="8.1" fill="#000000"/>
<rect x="95.8" y="109.2" width="1.4" height="8.1" fill="#040000"/>
<rect x="95.8" y="117.1" width="1.4" height="8.1" fill="#146c77"/>
<rect x="95.8" y="125.0" width="1.4" height="8.1" fill="#400000"/>
<rect x="95.8" y="132.9" width="1.4" height="8.1" fill="#380000"/>
<rect x="95.8" y="140.8" width="1.4" height="8.1" fill="#310000"/>
<rect x="95.8" y="148.7" width="1.4" height="8.1" fill="#01090a"/>
<rect x="95.8" y="156.6" width="1.4" height="8.1" fill="#000101"/>
<rect x="95.8" y="164.5" width="1.4" height="8.1" fill="#1f0000"/>
<rect x="95.8" y="172.4" width="1.4" height="8.1" fill="#470000"/>
<rect x="95.8" y="180.3" width="1.4" height="8.1" fill="#480000"/>
<rect x="95.8" y="188.2" width="1.4" height="8.1" fill="#1e0000"/>
<rect x="95.8" y="196.1" width="1.4" height="8.1" fill="#5b0000"/>
<rect x="95.8" y="204.0" width="1.4" height="8.1" fill="#710000"/>
<rect x="95.8" y="211.9" width="1.4" height="8.1" fill="#450000"/>
<rect x="95.8" y="219.8" width="1.4" height="8.1" fill="#360000"/>
<rect x="95.8" y="227.7" width="1.4" height="8.1" fill="#440000"/>
<rect x="95.8" y="235.6" width="1.4" height="8.1" fill="#650000"/>
<rect x="95.8" y="243.5" width="1.4" height="8.1" fill="#020000"/>
<rect x="95.8" y="251.4" width="1.4" height="8.1" fill="#2c0000"/>
<rect x="96.9" y="53.9" width="1.4" height="8.1" fill="#01090a"/>
<rect x="96.9" y="61.8" width="1.4" height="8.1" fill="#0f535c"/>
<rect x="96.9" y="69.7" width="1.4" height="8.1" fill="#0e4e56"/>
<rect x="96.9" y="77.6" width="1.4" height="8.1" fill="#136570"/>
<rect x="96.9" y="85.5" width="1.4" height="8.1" fill="#041618"/>
<rect x="96.9" y="93.4" width="1.4" height="8.1" fill="#072529"/>
<rect x="96.9" y="101.3" width="1.4" height="8.1" fill="#460000"/>
<rect x="96.9" y="109.2" width="1.4" height="8.1" fill="#2d0000"/>
<rect x="96.9" y="117.1" width="1.4" height="8.1" fill="#041619"/>
<rect x="96.9" y="125.0" width="1.4" height="8.1" fill="#7c0000"/>
<rect x="96.9" y="132.9" width="1.4" height="8.1" fill="#630000"/>
<rect x="96.9" y="140.8" width="1.4" height="8.1" fill="#4e0000"/>
<rect x="96.9" y="148.7" width="1.4" height="8.1" fill="#0b3c43"/>
<rect x="96.9" y="156.6" width="1.4" height="8.1" fill="#170000"/>
<rect x="96.9" y="164.5" width="1.4" height="8.1" fill="#530000"/>
<rect x="96.9" y="172.4" width="1.4" height="8.1" fill="#300000"/>
<rect x="96.9" y="180.3" width="1.4" height="8.1" fill="#4a0000"/>
<rect x="96.9" y="188.2" width="1.4" height="8.1" fill="#110000"/>
<rect x="96.9" y="196.1" width="1.4" height="8.1" fill="#6f0000"/>
<rect x="96.9" y="204.0" width="1.4" height="8.1" fill="#0f515a"/>
<rect x="96.9" y="211.9" width="1.4" height="8.1" fill="#0c0000"/>
<rect x="96.9" y="219.8" width="1.4" height="8.1" fill="#260000"/>
<rect x="96.9" y="227.7" width="1.4" height="8.1" fill="#160000"/>
<rect x="96.9" y="235.6" width="1.4" height="8.1" fill="#1a0000"/>
<rect x="96.9" y="243.5" width="1.4" height="8.1" fill="#000304"/>
<rect x="96.9" y="251.4" width="1.4" height="8.1" fill="#190000"/>
<rect x="98.1" y="53.9" width="1.4" height="8.1" fill="#710000"/>
<rect x="98.1" y="61.8" width="1.4" height="8.1" fill="#260000"/>
<rect x="98.1" y="69.7" width="1.4" height="8.1" fill="#5e0000"/>
<rect x="98.1" y="77.6" width="1.4" height="8.1" fill="#07272b"/>
<rect x="98.1" y="85.5" width="1.4" height="8.1" fill="#051c20"/>
<rect x="98.1" y="93.4" width="1.4" height="8.1" fill="#062428"/>
<rect x="98.1" y="101.3" width="1.4" height="8.1" fill="#0f5059"/>
<rect x="98.1" y="109.2" width="1.4" height="8.1" fill="#0d4951"/>
<rect x="98.1" y="117.1" width="1.4" height="8.1" fill="#07272b"/>
<rect x="98.1" y="125.0" width="1.4" height="8.1" fill="#d90000"/>
<rect x="98.1" y="132.9" width="1.4" height="8.1" fill="#150000"/>
<rect x="98.1" y="140.8" width="1.4" height="8.1" fill="#470000"/>
<rect x="98.1" y="148.7" width="1.4" height="8.1" fill="#6b0000"/>
<rect x="98.1" y="156.6" width="1.4" height="8.1" fill="#7e0000"/>
<rect x="98.1" y="164.5" width="1.4" height="8.1" fill="#770000"/>
<rect x="98.1" y="172.4" width="1.4" height="8.1" fill="#360000"/>
<rect x="98.1" y="180.3" width="1.4" height="8.1" fill="#0f0000"/>
<rect x="98.1" y="188.2" width="1.4" height="8.1" fill="#250000"/>
<rect x="98.1" y="196.1" width="1.4" height="8.1" fill="#1f0000"/>
<rect x="98.1" y="204.0" width="1.4" height="8.1" fill="#2c0000"/>
<rect x="98.1" y="211.9" width="1.4" height="8.1" fill="#350000"/>
<rect x="98.1" y="219.8" width="1.4" height="8.1" fill="#380000"/>
<rect x="98.1" y="227.7" width="1.4" height="8.1" fill="#780000"/>
<rect x="98.1" y="235.6" width="1.4" height="8.1" fill="#720000"/>
<rect x="98.1" y="243.5" width="1.4" height="8.1" fill="#0a383e"/>
<rect x="98.1" y="251.4" width="1.4" height="8.1" fill="#136974"/>
<rect x="99.2" y="53.9" width="1.4" height="8.1" fill="#020e0f"/>
<rect x="99.2" y="61.8" width="1.4" height="8.1" fill="#0f535c"/>
<rect x="99.2" y="69.7" width="1.4" height="8.1" fill="#120000"/>
<rect x="99.2" y="77.6" width="1.4" height="8.1" fill="#115c66"/>
<rect x="99.2" y="85.5" width="1.4" height="8.1" fill="#010000"/>
<rect x="99.2" y="93.4" width="1.4" height="8.1" fill="#0b3c43"/>
<rect x="99.2" y="101.3" width="1.4" height="8.1" fill="#167683"/>
<rect x="99.2" y="109.2" width="1.4" height="8.1" fill="#146a75"/>
<rect x="99.2" y="117.1" width="1.4" height="8.1" fill="#062124"/>
<rect x="99.2" y="125.0" width="1.4" height="8.1" fill="#440000"/>
<rect x="99.2" y="132.9" width="1.4" height="8.1" fill="#180000"/>
<rect x="99.2" y="140.8" width="1.4" height="8.1" fill="#320000"/>
<rect x="99.2" y="148.7" width="1.4" height="8.1" fill="#180000"/>
<rect x="99.2" y="156.6" width="1.4" height="8.1" fill="#240000"/>
<rect x="99.2" y="164.5" width="1.4" height="8.1" fill="#290000"/>
<rect x="99.2" y="172.4" width="1.4" height="8.1" fill="#000000"/>
<rect x="99.2" y="180.3" width="1.4" height="8.1" fill="#180000"/>
<rect x="99.2" y="188.2" width="1.4" height="8.1" fill="#270000"/>
<rect x="99.2" y="196.1" width="1.4" height="8.1" fill="#580000"/>
<rect x="99.2" y="204.0" width="1.4" height="8.1" fill="#3d0000"/>
<rect x="99.2" y="211.9" width="1.4" height="8.1" fill="#1f0000"/>
<rect x="99.2" y="219.8" width="1.4" height="8.1" fill="#4a0000"/>
<rect x="99.2" y="227.7" width="1.4" height="8.1" fill="#8f0000"/>
<rect x="99.2" y="235.6" width="1.4" height="8.1" fill="#730000"/>
<rect x="99.2" y="243.5" width="1.4" height="8.1" fill="#010a0b"/>
<rect x="99.2" y="251.4" width="1.4" height="8.1" fill="#100000"/>
<rect x="100.4" y="53.9" width="1.4" height="8.1" fill="#080000"/>
<rect x="100.4" y="61.8" width="1.4" height="8.1" fill="#0e0000"/>
<rect x="100.4" y="69.7" width="1.4" height="8.1" fill="#062428"/>
<rect x="100.4" y="77.6" width="1.4" height="8.1" fill="#0f5059"/>
<rect x="100.4" y="85.5" width="1.4" height="8.1" fill="#020e10"/>
<rect x="100.4" y="93.4" width="1.4" height="8.1" fill="#0c4249"/>
<rect x="100.4" y="101.3" width="1.4" height="8.1" fill="#198897"/>
<rect x="100.4" y="109.2" width="1.4" height="8.1" fill="#1c97a8"/>
<rect x="100.4" y="117.1" width="1.4" height="8.1" fill="#23b9cd"/>
<rect x="100.4" y="125.0" width="1.4" height="8.1" fill="#1a0000"/>
<rect x="100.4" y="132.9" width="1.4" height="8.1" fill="#0c0000"/>
<rect x="100.4" y="140.8" width="1.4" height="8.1" fill="#130000"/>
<rect x="100.4" y="148.7" width="1.4" height="8.1" fill="#040000"/>
<rect x="100.4" y="156.6" width="1.4" height="8.1" fill="#220000"/>
<rect x="100.4" y="164.5" width="1.4" height="8.1" fill="#3d0000"/>
<rect x="100.4" y="172.4" width="1.4" height="8.1" fill="#0f0000"/>
<rect x="100.4" y="180.3" width="1.4" height="8.1" fill="#0a0000"/>
<rect x="100.4" y="188.2" width="1.4" height="8.1" fill="#041619"/>
<rect x="100.4" y="196.1" width="1.4" height="8.1" fill="#050000"/>
<rect x="100.4" y="204.0" width="1.4" height="8.1" fill="#000202"/>
<rect x="100.4" y="211.9" width="1.4" height="8.1" fill="#020e0f"/>
<rect x="100.4" y="219.8" width="1.4" height="8.1" fill="#0c444b"/>
<rect x="100.4" y="227.7" width="1.4" height="8.1" fill="#07262a"/>
<rect x="100.4" y="235.6" width="1.4" height="8.1" fill="#020b0c"/>
<rect x="100.4" y="243.5" width="1.4" height="8.1" fill="#0b3a41"/>
<rect x="100.4" y="251.4" width="1.4" height="8.1" fill="#051f23"/>
<rect x="101.5" y="53.9" width="1.4" height="8.1" fill="#0d4950"/>
<rect x="101.5" y="61.8" width="1.4" height="8.1" fill="#041517"/>
<rect x="101.5" y="69.7" width="1.4" height="8.1" fill="#080000"/>
<rect x="101.5" y="77.6" width="1.4" height="8.1" fill="#115e69"/>
<rect x="101.5" y="85.5" width="1.4" height="8.1" fill="#4c0000"/>
<rect x="101.5" y="93.4" width="1.4" height="8.1" fill="#090000"/>
<rect x="101.5" y="101.3" width="1.4" height="8.1" fill="#1b91a1"/>
<rect x="101.5" y="109.2" width="1.4" height="8.1" fill="#146b77"/>
<rect x="101.5" y="117.1" width="1.4" height="8.1" fill="#146a76"/>
<rect x="101.5" y="125.0" width="1.4" height="8.1" fill="#5c0000"/>
<rect x="101.5" y="132.9" width="1.4" height="8.1" fill="#370000"/>
<rect x="101.5" y="140.8" width="1.4" height="8.1" fill="#4b0000"/>
<rect x="101.5" y="148.7" width="1.4" height="8.1" fill="#590000"/>
<rect x="101.5" y="156.6" width="1.4" height="8.1" fill="#560000"/>
<rect x="101.5" y="164.5" width="1.4" height="8.1" fill="#720000"/>
<rect x="101.5" y="172.4" width="1.4" height="8.1" fill="#700000"/>
<rect x="101.5" y="180.3" width="1.4" height="8.1" fill="#430000"/>
<rect x="101.5" y="188.2" width="1.4" height="8.1" fill="#4d0000"/>
<rect x="101.5" y="196.1" width="1.4" height="8.1" fill="#990000"/>
<rect x="101.5" y="204.0" width="1.4" height="8.1" fill="#900000"/>
<rect x="101.5" y="211.9" width="1.4" height="8.1" fill="#420000"/>
<rect x="101.5" y="219.8" width="1.4" height="8.1" fill="#115a64"/>
<rect x="101.5" y="227.7" width="1.4" height="8.1" fill="#1c0000"/>
<rect x="101.5" y="235.6" width="1.4" height="8.1" fill="#230000"/>
<rect x="101.5" y="243.5" width="1.4" height="8.1" fill="#1c94a4"/>
<rect x="101.5" y="251.4" width="1.4" height="8.1" fill="#090000"/>
<rect x="102.7" y="53.9" width="1.4" height="8.1" fill="#0a353a"/>
<rect x="102.7" y="61.8" width="1.4" height="8.1" fill="#041619"/>
<rect x="102.7" y="69.7" width="1.4" height="8.1" fill="#020f11"/>
<rect x="102.7" y="77.6" width="1.4" height="8.1" fill="#15717e"/>
<rect x="102.7" y="85.5" width="1.4" height="8.1" fill="#082b30"/>
<rect x="102.7" y="93.4" width="1.4" height="8.1" fill="#0c4249"/>
<rect x="102.7" y="101.3" width="1.4" height="8.1" fill="#15717e"/>
<rect x="102.7" y="109.2" width="1.4" height="8.1" fill="#0a373d"/>
<rect x="102.7" y="117.1" width="1.4" height="8.1" fill="#177d8b"/>
<rect x="102.7" y="125.0" width="1.4" height="8.1" fill="#520000"/>
<rect x="102.7" y="132.9" width="1.4" height="8.1" fill="#440000"/>
<rect x="102.7" y="140.8" width="1.4" height="8.1" fill="#420000"/>
<rect x="102.7" y="148.7" width="1.4" height="8.1" fill="#410000"/>
<rect x="102.7" y="156.6" width="1.4" height="8.1" fill="#170000"/>
<rect x="102.7" y="164.5" width="1.4" height="8.1" fill="#100000"/>
<rect x="102.7" y="172.4" width="1.4" height="8.1" fill="#1e0000"/>
<rect x="102.7" y="180.3" width="1.4" height="8.1" fill="#1e0000"/>
<rect x="102.7" y="188.2" width="1.4" height="8.1" fill="#010809"/>
<rect x="102.7" y="196.1" width="1.4" height="8.1" fill="#4b0000"/>
<rect x="102.7" y="204.0" width="1.4" height="8.1" fill="#1a0000"/>
<rect x="102.7" y="211.9" width="1.4" height="8.1" fill="#5b0000"/>
<rect x="102.7" y="219.8" width="1.4" height="8.1" fill="#320000"/>
<rect x="102.7" y="227.7" width="1.4" height="8.1" fill="#670000"/>
<rect x="102.7" y="235.6" width="1.4" height="8.1" fill="#650000"/>
<rect x="102.7" y="243.5" width="1.4" height="8.1" fill="#0a363b"/>
<rect x="102.7" y="251.4" width="1.4" height="8.1" fill="#200000"/>
<rect x="103.8" y="53.9" width="1.4" height="8.1" fill="#170000"/>
<rect x="103.8" y="61.8" width="1.4" height="8.1" fill="#082b30"/>
<rect x="103.8" y="69.7" width="1.4" height="8.1" fill="#0e4b54"/>
<rect x="103.8" y="77.6" width="1.4" height="8.1" fill="#0a393f"/>
<rect x="103.8" y="85.5" width="1.4" height="8.1" fill="#020f10"/>
<rect x="103.8" y="93.4" width="1.4" height="8.1" fill="#040000"/>
<rect x="103.8" y="101.3" width="1.4" height="8.1" fill="#010606"/>
<rect x="103.8" y="109.2" width="1.4" height="8.1" fill="#031113"/>
<rect x="103.8" y="117.1" width="1.4" height="8.1" fill="#0a363c"/>
<rect x="103.8" y="125.0" width="1.4" height="8.1" fill="#640000"/>
<rect x="103.8" y="132.9" width="1.4" height="8.1" fill="#840000"/>
<rect x="103.8" y="140.8" width="1.4" height="8.1" fill="#630000"/>
<rect x="103.8" y="148.7" width="1.4" height="8.1" fill="#610000"/>
<rect x="103.8" y="156.6" width="1.4" height="8.1" fill="#0f535c"/>
<rect x="103.8" y="164.5" width="1.4" height="8.1" fill="#010809"/>
<rect x="103.8" y="172.4" width="1.4" height="8.1" fill="#070000"/>
<rect x="103.8" y="180.3" width="1.4" height="8.1" fill="#04181a"/>
<rect x="103.8" y="188.2" width="1.4" height="8.1" fill="#041518"/>
<rect x="103.8" y="196.1" width="1.4" height="8.1" fill="#180000"/>
<rect x="103.8" y="204.0" width="1.4" height="8.1" fill="#3d0000"/>
<rect x="103.8" y="211.9" width="1.4" height="8.1" fill="#390000"/>
<rect x="103.8" y="219.8" width="1.4" height="8.1" fill="#510000"/>
<rect x="103.8" y="227.7" width="1.4" height="8.1" fill="#860000"/>
<rect x="103.8" y="235.6" width="1.4" height="8.1" fill="#5c0000"/>
<rect x="103.8" y="243.5" width="1.4" height="8.1" fill="#000000"/>
<rect x="103.8" y="251.4" width="1.4" height="8.1" fill="#1a0000"/>
<rect x="105.0" y="53.9" width="1.4" height="8.1" fill="#0d0000"/>
<rect x="105.0" y="61.8" width="1.4" height="8.1" fill="#0a383e"/>
<rect x="105.0" y="69.7" width="1.4" height="8.1" fill="#010809"/>
<rect x="105.0" y="77.6" width="1.4" height="8.1" fill="#031214"/>
<rect x="105.0" y="85.5" width="1.4" height="8.1" fill="#330000"/>
<rect x="105.0" y="93.4" width="1.4" height="8.1" fill="#120000"/>
<rect x="105.0" y="101.3" width="1.4" height="8.1" fill="#136772"/>
<rect x="105.0" y="109.2" width="1.4" height="8.1" fill="#1d9bab"/>
<rect x="105.0" y="117.1" width="1.4" height="8.1" fill="#1d99a9"/>
<rect x="105.0" y="125.0" width="1.4" height="8.1" fill="#470000"/>
<rect x="105.0" y="132.9" width="1.4" height="8.1" fill="#670000"/>
<rect x="105.0" y="140.8" width="1.4" height="8.1" fill="#3c0000"/>
<rect x="105.0" y="148.7" width="1.4" height="8.1" fill="#170000"/>
<rect x="105.0" y="156.6" width="1.4" height="8.1" fill="#3b0000"/>
<rect x="105.0" y="164.5" width="1.4" height="8.1" fill="#660000"/>
<rect x="105.0" y="172.4" width="1.4" height="8.1" fill="#650000"/>
<rect x="105.0" y="180.3" width="1.4" height="8.1" fill="#550000"/>
<rect x="105.0" y="188.2" width="1.4" height="8.1" fill="#0a0000"/>
<rect x="105.0" y="196.1" width="1.4" height="8.1" fill="#320000"/>
<rect x="105.0" y="204.0" width="1.4" height="8.1" fill="#370000"/>
<rect x="105.0" y="211.9" width="1.4" height="8.1" fill="#6f0000"/>
<rect x="105.0" y="219.8" width="1.4" height="8.1" fill="#510000"/>
<rect x="105.0" y="227.7" width="1.4" height="8.1" fill="#420000"/>
<rect x="105.0" y="235.6" width="1.4" height="8.1" fill="#0c0000"/>
<rect x="105.0" y="243.5" width="1.4" height="8.1" fill="#020d0f"/>
<rect x="105.0" y="251.4" width="1.4" height="8.1" fill="#400000"/>
<rect x="106.1" y="53.9" width="1.4" height="8.1" fill="#0a363c"/>
<rect x="106.1" y="61.8" width="1.4" height="8.1" fill="#093338"/>
<rect x="106.1" y="69.7" width="1.4" height="8.1" fill="#0c434a"/>
<rect x="106.1" y="77.6" width="1.4" height="8.1" fill="#1c96a6"/>
<rect x="106.1" y="85.5" width="1.4" height="8.1" fill="#050000"/>
<rect x="106.1" y="93.4" width="1.4" height="8.1" fill="#136873"/>
<rect x="106.1" y="101.3" width="1.4" height="8.1" fill="#23b9cd"/>
<rect x="106.1" y="109.2" width="1.4" height="8.1" fill="#1c97a7"/>
<rect x="106.1" y="117.1" width="1.4" height="8.1" fill="#188290"/>
<rect x="106.1" y="125.0" width="1.4" height="8.1" fill="#0b0000"/>
<rect x="106.1" y="132.9" width="1.4" height="8.1" fill="#240000"/>
<rect x="106.1" y="140.8" width="1.4" height="8.1" fill="#040000"/>
<rect x="106.1" y="148.7" width="1.4" height="8.1" fill="#110000"/>
<rect x="106.1" y="156.6" width="1.4" height="8.1" fill="#2e0000"/>
<rect x="106.1" y="164.5" width="1.4" height="8.1" fill="#041618"/>
<rect x="106.1" y="172.4" width="1.4" height="8.1" fill="#0a0000"/>
<rect x="106.1" y="180.3" width="1.4" height="8.1" fill="#310000"/>
<rect x="106.1" y="188.2" width="1.4" height="8.1" fill="#07282c"/>
<rect x="106.1" y="196.1" width="1.4" height="8.1" fill="#050000"/>
<rect x="106.1" y="204.0" width="1.4" height="8.1" fill="#380000"/>
<rect x="106.1" y="211.9" width="1.4" height="8.1" fill="#1c0000"/>
<rect x="106.1" y="219.8" width="1.4" height="8.1" fill="#280000"/>
<rect x="106.1" y="227.7" width="1.4" height="8.1" fill="#510000"/>
<rect x="106.1" y="235.6" width="1.4" height="8.1" fill="#070000"/>
<rect x="106.1" y="243.5" width="1.4" height="8.1" fill="#051b1e"/>
<rect x="106.1" y="251.4" width="1.4" height="8.1" fill="#1f0000"/>
<rect x="107.3" y="53.9" width="1.4" height="8.1" fill="#07292d"/>
<rect x="107.3" y="61.8" width="1.4" height="8.1" fill="#082c31"/>
<rect x="107.3" y="69.7" width="1.4" height="8.1" fill="#0a363c"/>
<rect x="107.3" y="77.6" width="1.4" height="8.1" fill="#082b30"/>
<rect x="107.3" y="85.5" width="1.4" height="8.1" fill="#0a373d"/>
<rect x="107.3" y="93.4" width="1.4" height="8.1" fill="#07292d"/>
<rect x="107.3" y="101.3" width="1.4" height="8.1" fill="#115c66"/>
<rect x="107.3" y="109.2" width="1.4" height="8.1" fill="#22b4c7"/>
<rect x="107.3" y="117.1" width="1.4" height="8.1" fill="#12626c"/>
<rect x="107.3" y="125.0" width="1.4" height="8.1" fill="#540000"/>
<rect x="107.3" y="132.9" width="1.4" height="8.1" fill="#3f0000"/>
<rect x="107.3" y="140.8" width="1.4" height="8.1" fill="#6f0000"/>
<rect x="107.3" y="148.7" width="1.4" height="8.1" fill="#2c0000"/>
<rect x="107.3" y="156.6" width="1.4" height="8.1" fill="#190000"/>
<rect x="107.3" y="164.5" width="1.4" height="8.1" fill="#2c0000"/>
<rect x="107.3" y="172.4" width="1.4" height="8.1" fill="#110000"/>
<rect x="107.3" y="180.3" width="1.4" height="8.1" fill="#480000"/>
<rect x="107.3" y="188.2" width="1.4" height="8.1" fill="#120000"/>
<rect x="107.3" y="196.1" width="1.4" height="8.1" fill="#200000"/>
<rect x="107.3" y="204.0" width="1.4" height="8.1" fill="#1c0000"/>
<rect x="107.3" y="211.9" width="1.4" height="8.1" fill="#440000"/>
<rect x="107.3" y="219.8" width="1.4" height="8.1" fill="#460000"/>
<rect x="107.3" y="227.7" width="1.4" height="8.1" fill="#4b0000"/>
<rect x="107.3" y="235.6" width="1.4" height="8.1" fill="#5b0000"/>
<rect x="107.3" y="243.5" width="1.4" height="8.1" fill="#060000"/>
<rect x="107.3" y="251.4" width="1.4" height="8.1" fill="#240000"/>
<rect x="108.4" y="53.9" width="1.4" height="8.1" fill="#1e0000"/>
<rect x="108.4" y="61.8" width="1.4" height="8.1" fill="#0c4249"/>
<rect x="108.4" y="69.7" width="1.4" height="8.1" fill="#280000"/>
<rect x="108.4" y="77.6" width="1.4" height="8.1" fill="#240000"/>
<rect x="108.4" y="85.5" width="1.4" height="8.1" fill="#290000"/>
<rect x="108.4" y="93.4" width="1.4" height="8.1" fill="#0d4850"/>
<rect x="108.4" y="101.3" width="1.4" height="8.1" fill="#090000"/>
<rect x="108.4" y="109.2" width="1.4" height="8.1" fill="#051c1f"/>
<rect x="108.4" y="117.1" width="1.4" height="8.1" fill="#0c4249"/>
<rect x="108.4" y="125.0" width="1.4" height="8.1" fill="#6d0000"/>
<rect x="108.4" y="132.9" width="1.4" height="8.1" fill="#350000"/>
<rect x="108.4" y="140.8" width="1.4" height="8.1" fill="#480000"/>
<rect x="108.4" y="148.7" width="1.4" height="8.1" fill="#240000"/>
<rect x="108.4" y="156.6" width="1.4" height="8.1" fill="#2a0000"/>
<rect x="108.4" y="164.5" width="1.4" height="8.1" fill="#410000"/>
<rect x="108.4" y="172.4" width="1.4" height="8.1" fill="#3d0000"/>
<rect x="108.4" y="180.3" width="1.4" height="8.1" fill="#0b3c42"/>
<rect x="108.4" y="188.2" width="1.4" height="8.1" fill="#1e0000"/>
<rect x="108.4" y="196.1" width="1.4" height="8.1" fill="#6c0000"/>
<rect x="108.4" y="204.0" width="1.4" height="8.1" fill="#4f0000"/>
<rect x="108.4" y="211.9" width="1.4" height="8.1" fill="#2e0000"/>
<rect x="108.4" y="219.8" width="1.4" height="8.1" fill="#270000"/>
<rect x="108.4" y="227.7" width="1.4" height="8.1" fill="#041518"/>
<rect x="108.4" y="235.6" width="1.4" height="8.1" fill="#080000"/>
<rect x="108.4" y="243.5" width="1.4" height="8.1" fill="#010708"/>
<rect x="108.4" y="251.4" width="1.4" height="8.1" fill="#2c0000"/>
<rect x="109.6" y="53.9" width="1.4" height="8.1" fill="#0d0000"/>
<rect x="109.6" y="61.8" width="1.4" height="8.1" fill="#15727e"/>
<rect x="109.6" y="69.7" width="1.4" height="8.1" fill="#0c4249"/>
<rect x="109.6" y="77.6" width="1.4" height="8.1" fill="#1a8b9a"/>
<rect x="109.6" y="85.5" width="1.4" height="8.1" fill="#0d464e"/>
<rect x="109.6" y="93.4" width="1.4" height="8.1" fill="#0a363c"/>
<rect x="109.6" y="101.3" width="1.4" height="8.1" fill="#0d4951"/>
<rect x="109.6" y="109.2" width="1.4" height="8.1" fill="#0c4047"/>
<rect x="109.6" y="117.1" width="1.4" height="8.1" fill="#136974"/>
<rect x="109.6" y="125.0" width="1.4" height="8.1" fill="#4d0000"/>
<rect x="109.6" y="132.9" width="1.4" height="8.1" fill="#2a0000"/>
<rect x="109.6" y="140.8" width="1.4" height="8.1" fill="#770000"/>
<rect x="109.6" y="148.7" width="1.4" height="8.1" fill="#7c0000"/>
<rect x="109.6" y="156.6" width="1.4" height="8.1" fill="#540000"/>
<rect x="109.6" y="164.5" width="1.4" height="8.1" fill="#620000"/>
<rect x="109.6" y="172.4" width="1.4" height="8.1" fill="#0d0000"/>
<rect x="109.6" y="180.3" width="1.4" height="8.1" fill="#0a0000"/>
<rect x="109.6" y="188.2" width="1.4" height="8.1" fill="#0f0000"/>
<rect x="109.6" y="196.1" width="1.4" height="8.1" fill="#550000"/>
<rect x="109.6" y="204.0" width="1.4" height="8.1" fill="#470000"/>
<rect x="109.6" y="211.9" width="1.4" height="8.1" fill="#8a0000"/>
<rect x="109.6" y="219.8" width="1.4" height="8.1" fill="#130000"/>
<rect x="109.6" y="227.7" width="1.4" height="8.1" fill="#160000"/>
<rect x="109.6" y="235.6" width="1.4" height="8.1" fill="#300000"/>
<rect x="109.6" y="243.5" width="1.4" height="8.1" fill="#1b0000"/>
<rect x="109.6" y="251.4" width="1.4" height="8.1" fill="#160000"/>
<rect x="110.7" y="53.9" width="1.4" height="8.1" fill="#350000"/>
<rect x="110.7" y="61.8" width="1.4" height="8.1" fill="#031214"/>
<rect x="110.7" y="69.7" width="1.4" height="8.1" fill="#220000"/>
<rect x="110.7" y="77.6" width="1.4" height="8.1" fill="#1e0000"/>
<rect x="110.7" y="85.5" width="1.4" height="8.1" fill="#7e0000"/>
<rect x="110.7" y="93.4" width="1.4" height="8.1" fill="#a10000"/>
<rect x="110.7" y="101.3" width="1.4" height="8.1" fill="#2d0000"/>
<rect x="110.7" y="109.2" width="1.4" height="8.1" fill="#410000"/>
<rect x="110.7" y="117.1" width="1.4" height="8.1" fill="#3d0000"/>
<rect x="110.7" y="125.0" width="1.4" height="8.1" fill="#bb0000"/>
<rect x="110.7" y="132.9" width="1.4" height="8.1" fill="#860000"/>
<rect x="110.7" y="140.8" width="1.4" height="8.1" fill="#870000"/>
<rect x="110.7" y="148.7" width="1.4" height="8.1" fill="#610000"/>
<rect x="110.7" y="156.6" width="1.4" height="8.1" fill="#880000"/>
<rect x="110.7" y="164.5" width="1.4" height="8.1" fill="#850000"/>
<rect x="110.7" y="172.4" width="1.4" height="8.1" fill="#7c0000"/>
<rect x="110.7" y="180.3" width="1.4" height="8.1" fill="#950000"/>
<rect x="110.7" y="188.2" width="1.4" height="8.1" fill="#8f0000"/>
<rect x="110.7" y="196.1" width="1.4" height="8.1" fill="#a50000"/>
<rect x="110.7" y="204.0" width="1.4" height="8.1" fill="#8e0000"/>
<rect x="110.7" y="211.9" width="1.4" height="8.1" fill="#890000"/>
<rect x="110.7" y="219.8" width="1.4" height="8.1" fill="#520000"/>
<rect x="110.7" y="227.7" width="1.4" height="8.1" fill="#3f0000"/>
<rect x="110.7" y="235.6" width="1.4" height="8.1" fill="#8b0000"/>
<rect x="110.7" y="243.5" width="1.4" height="8.1" fill="#260000"/>
<rect x="110.7" y="251.4" width="1.4" height="8.1" fill="#440000"/>
<rect x="111.9" y="53.9" width="1.4" height="8.1" fill="#0b3a40"/>
<rect x="111.9" y="61.8" width="1.4" height="8.1" fill="#072529"/>
<rect x="111.9" y="69.7" width="1.4" height="8.1" fill="#0c3f46"/>
<rect x="111.9" y="77.6" width="1.4" height="8.1" fill="#15717d"/>
<rect x="111.9" y="85.5" width="1.4" height="8.1" fill="#040000"/>
<rect x="111.9" y="93.4" width="1.4" height="8.1" fill="#0b3b41"/>
<rect x="111.9" y="101.3" width="1.4" height="8.1" fill="#146e79"/>
<rect x="111.9" y="109.2" width="1.4" height="8.1" fill="#10545e"/>
<rect x="111.9" y="117.1" width="1.4" height="8.1" fill="#146a75"/>
<rect x="111.9" y="125.0" width="1.4" height="8.1" fill="#230000"/>
<rect x="111.9" y="132.9" width="1.4" height="8.1" fill="#250000"/>
<rect x="111.9" y="140.8" width="1.4" height="8.1" fill="#140000"/>
<rect x="111.9" y="148.7" width="1.4" height="8.1" fill="#380000"/>
<rect x="111.9" y="156.6" width="1.4" height="8.1" fill="#3c0000"/>
<rect x="111.9" y="164.5" width="1.4" height="8.1" fill="#4c0000"/>
<rect x="111.9" y="172.4" width="1.4" height="8.1" fill="#290000"/>
<rect x="111.9" y="180.3" width="1.4" height="8.1" fill="#5e0000"/>
<rect x="111.9" y="188.2" width="1.4" height="8.1" fill="#190000"/>
<rect x="111.9" y="196.1" width="1.4" height="8.1" fill="#630000"/>
<rect x="111.9" y="204.0" width="1.4" height="8.1" fill="#570000"/>
<rect x="111.9" y="211.9" width="1.4" height="8.1" fill="#610000"/>
<rect x="111.9" y="219.8" width="1.4" height="8.1" fill="#2e0000"/>
<rect x="111.9" y="227.7" width="1.4" height="8.1" fill="#680000"/>
<rect x="111.9" y="235.6" width="1.4" height="8.1" fill="#7c0000"/>
<rect x="111.9" y="243.5" width="1.4" height="8.1" fill="#031012"/>
<rect x="111.9" y="251.4" width="1.4" height="8.1" fill="#3c0000"/>
<rect x="113.0" y="53.9" width="1.4" height="8.1" fill="#062326"/>
<rect x="113.0" y="61.8" width="1.4" height="8.1" fill="#051b1e"/>
<rect x="113.0" y="69.7" width="1.4" height="8.1" fill="#093439"/>
<rect x="113.0" y="77.6" width="1.4" height="8.1" fill="#198593"/>
<rect x="113.0" y="85.5" width="1.4" height="8.1" fill="#031315"/>
<rect x="113.0" y="93.4" width="1.4" height="8.1" fill="#290000"/>
<rect x="113.0" y="101.3" width="1.4" height="8.1" fill="#0c424a"/>
<rect x="113.0" y="109.2" width="1.4" height="8.1" fill="#031517"/>
<rect x="113.0" y="117.1" width="1.4" height="8.1" fill="#07282c"/>
<rect x="113.0" y="125.0" width="1.4" height="8.1" fill="#750000"/>
<rect x="113.0" y="132.9" width="1.4" height="8.1" fill="#062327"/>
<rect x="113.0" y="140.8" width="1.4" height="8.1" fill="#1c96a6"/>
<rect x="113.0" y="148.7" width="1.4" height="8.1" fill="#07262b"/>
<rect x="113.0" y="156.6" width="1.4" height="8.1" fill="#2f0000"/>
<rect x="113.0" y="164.5" width="1.4" height="8.1" fill="#5d0000"/>
<rect x="113.0" y="172.4" width="1.4" height="8.1" fill="#520000"/>
<rect x="113.0" y="180.3" width="1.4" height="8.1" fill="#660000"/>
<rect x="113.0" y="188.2" width="1.4" height="8.1" fill="#190000"/>
<rect x="113.0" y="196.1" width="1.4" height="8.1" fill="#220000"/>
<rect x="113.0" y="204.0" width="1.4" height="8.1" fill="#051d20"/>
<rect x="113.0" y="211.9" width="1.4" height="8.1" fill="#340000"/>
<rect x="113.0" y="219.8" width="1.4" height="8.1" fill="#198896"/>
<rect x="113.0" y="227.7" width="1.4" height="8.1" fill="#136873"/>
<rect x="113.0" y="235.6" width="1.4" height="8.1" fill="#093439"/>
<rect x="113.0" y="243.5" width="1.4" height="8.1" fill="#020d0f"/>
<rect x="113.0" y="251.4" width="1.4" height="8.1" fill="#390000"/>
<rect x="114.2" y="53.9" width="1.4" height="8.1" fill="#062428"/>
<rect x="114.2" y="61.8" width="1.4" height="8.1" fill="#0f545d"/>
<rect x="114.2" y="69.7" width="1.4" height="8.1" fill="#115963"/>
<rect x="114.2" y="77.6" width="1.4" height="8.1" fill="#136570"/>
<rect x="114.2" y="85.5" width="1.4" height="8.1" fill="#115a64"/>
<rect x="114.2" y="93.4" width="1.4" height="8.1" fill="#0f535c"/>
<rect x="114.2" y="101.3" width="1.4" height="8.1" fill="#0f515a"/>
<rect x="114.2" y="109.2" width="1.4" height="8.1" fill="#07272b"/>
<rect x="114.2" y="117.1" width="1.4" height="8.1" fill="#0e4e57"/>
<rect x="114.2" y="125.0" width="1.4" height="8.1" fill="#810000"/>
<rect x="114.2" y="132.9" width="1.4" height="8.1" fill="#460000"/>
<rect x="114.2" y="140.8" width="1.4" height="8.1" fill="#310000"/>
<rect x="114.2" y="148.7" width="1.4" height="8.1" fill="#130000"/>
<rect x="114.2" y="156.6" width="1.4" height="8.1" fill="#150000"/>
<rect x="114.2" y="164.5" width="1.4" height="8.1" fill="#430000"/>
<rect x="114.2" y="172.4" width="1.4" height="8.1" fill="#3b0000"/>
<rect x="114.2" y="180.3" width="1.4" height="8.1" fill="#380000"/>
<rect x="114.2" y="188.2" width="1.4" height="8.1" fill="#1d0000"/>
<rect x="114.2" y="196.1" width="1.4" height="8.1" fill="#730000"/>
<rect x="114.2" y="204.0" width="1.4" height="8.1" fill="#540000"/>
<rect x="114.2" y="211.9" width="1.4" height="8.1" fill="#470000"/>
<rect x="114.2" y="219.8" width="1.4" height="8.1" fill="#180000"/>
<rect x="114.2" y="227.7" width="1.4" height="8.1" fill="#4c0000"/>
<rect x="114.2" y="235.6" width="1.4" height="8.1" fill="#370000"/>
<rect x="114.2" y="243.5" width="1.4" height="8.1" fill="#0a363c"/>
<rect x="114.2" y="251.4" width="1.4" height="8.1" fill="#062327"/>
<rect x="115.3" y="53.9" width="1.4" height="8.1" fill="#082c30"/>
<rect x="115.3" y="61.8" width="1.4" height="8.1" fill="#082d32"/>
<rect x="115.3" y="69.7" width="1.4" height="8.1" fill="#020d0e"/>
<rect x="115.3" y="77.6" width="1.4" height="8.1" fill="#0f5058"/>
<rect x="115.3" y="85.5" width="1.4" height="8.1" fill="#062428"/>
<rect x="115.3" y="93.4" width="1.4" height="8.1" fill="#0d454d"/>
<rect x="115.3" y="101.3" width="1.4" height="8.1" fill="#0d4850"/>
<rect x="115.3" y="109.2" width="1.4" height="8.1" fill="#188290"/>
<rect x="115.3" y="117.1" width="1.4" height="8.1" fill="#146d78"/>
<rect x="115.3" y="125.0" width="1.4" height="8.1" fill="#370000"/>
<rect x="115.3" y="132.9" width="1.4" height="8.1" fill="#180000"/>
<rect x="115.3" y="140.8" width="1.4" height="8.1" fill="#1d0000"/>
<rect x="115.3" y="148.7" width="1.4" height="8.1" fill="#330000"/>
<rect x="115.3" y="156.6" width="1.4" height="8.1" fill="#550000"/>
<rect x="115.3" y="164.5" width="1.4" height="8.1" fill="#690000"/>
<rect x="115.3" y="172.4" width="1.4" height="8.1" fill="#550000"/>
<rect x="115.3" y="180.3" width="1.4" height="8.1" fill="#3f0000"/>
<rect x="115.3" y="188.2" width="1.4" height="8.1" fill="#270000"/>
<rect x="115.3" y="196.1" width="1.4" height="8.1" fill="#430000"/>
<rect x="115.3" y="204.0" width="1.4" height="8.1" fill="#041518"/>
<rect x="115.3" y="211.9" width="1.4" height="8.1" fill="#4b0000"/>
<rect x="115.3" y="219.8" width="1.4" height="8.1" fill="#280000"/>
<rect x="115.3" y="227.7" width="1.4" height="8.1" fill="#6f0000"/>
<rect x="115.3" y="235.6" width="1.4" height="8.1" fill="#4f0000"/>
<rect x="115.3" y="243.5" width="1.4" height="8.1" fill="#020f10"/>
<rect x="115.3" y="251.4" width="1.4" height="8.1" fill="#12626d"/>
<rect x="116.5" y="53.9" width="1.4" height="8.1" fill="#000303"/>
<rect x="116.5" y="61.8" width="1.4" height="8.1" fill="#13646f"/>
<rect x="116.5" y="69.7" width="1.4" height="8.1" fill="#146b77"/>
<rect x="116.5" y="77.6" width="1.4" height="8.1" fill="#136974"/>
<rect x="116.5" y="85.5" width="1.4" height="8.1" fill="#020f11"/>
<rect x="116.5" y="93.4" width="1.4" height="8.1" fill="#031315"/>
<rect x="116.5" y="101.3" width="1.4" height="8.1" fill="#031417"/>
<rect x="116.5" y="109.2" width="1.4" height="8.1" fill="#280000"/>
<rect x="116.5" y="117.1" width="1.4" height="8.1" fill="#0c0000"/>
<rect x="116.5" y="125.0" width="1.4" height="8.1" fill="#950000"/>
<rect x="116.5" y="132.9" width="1.4" height="8.1" fill="#5e0000"/>
<rect x="116.5" y="140.8" width="1.4" height="8.1" fill="#8d0000"/>
<rect x="116.5" y="148.7" width="1.4" height="8.1" fill="#2f0000"/>
<rect x="116.5" y="156.6" width="1.4" height="8.1" fill="#6d0000"/>
<rect x="116.5" y="164.5" width="1.4" height="8.1" fill="#420000"/>
<rect x="116.5" y="172.4" width="1.4" height="8.1" fill="#570000"/>
<rect x="116.5" y="180.3" width="1.4" height="8.1" fill="#470000"/>
<rect x="116.5" y="188.2" width="1.4" height="8.1" fill="#100000"/>
<rect x="116.5" y="196.1" width="1.4" height="8.1" fill="#0c0000"/>
<rect x="116.5" y="204.0" width="1.4" height="8.1" fill="#1f0000"/>
<rect x="116.5" y="211.9" width="1.4" height="8.1" fill="#320000"/>
<rect x="116.5" y="219.8" width="1.4" height="8.1" fill="#6c0000"/>
<rect x="116.5" y="227.7" width="1.4" height="8.1" fill="#520000"/>
<rect x="116.5" y="235.6" width="1.4" height="8.1" fill="#650000"/>
<rect x="116.5" y="243.5" width="1.4" height="8.1" fill="#360000"/>
<rect x="116.5" y="251.4" width="1.4" height="8.1" fill="#3d0000"/>
<rect x="117.6" y="53.9" width="1.4" height="8.1" fill="#031316"/>
<rect x="117.6" y="61.8" width="1.4" height="8.1" fill="#0e4a52"/>
<rect x="117.6" y="69.7" width="1.4" height="8.1" fill="#010809"/>
<rect x="117.6" y="77.6" width="1.4" height="8.1" fill="#0b3a40"/>
<rect x="117.6" y="85.5" width="1.4" height="8.1" fill="#190000"/>
<rect x="117.6" y="93.4" width="1.4" height="8.1" fill="#1f0000"/>
<rect x="117.6" y="101.3" width="1.4" height="8.1" fill="#1d0000"/>
<rect x="117.6" y="109.2" width="1.4" height="8.1" fill="#062125"/>
<rect x="117.6" y="117.1" width="1.4" height="8.1" fill="#04171a"/>
<rect x="117.6" y="125.0" width="1.4" height="8.1" fill="#380000"/>
<rect x="117.6" y="132.9" width="1.4" height="8.1" fill="#250000"/>
<rect x="117.6" y="140.8" width="1.4" height="8.1" fill="#5e0000"/>
<rect x="117.6" y="148.7" width="1.4" height="8.1" fill="#290000"/>
<rect x="117.6" y="156.6" width="1.4" height="8.1" fill="#560000"/>
<rect x="117.6" y="164.5" width="1.4" height="8.1" fill="#5b0000"/>
<rect x="117.6" y="172.4" width="1.4" height="8.1" fill="#350000"/>
<rect x="117.6" y="180.3" width="1.4" height="8.1" fill="#1d0000"/>
<rect x="117.6" y="188.2" width="1.4" height="8.1" fill="#010000"/>
<rect x="117.6" y="196.1" width="1.4" height="8.1" fill="#270000"/>
<rect x="117.6" y="204.0" width="1.4" height="8.1" fill="#5c0000"/>
<rect x="117.6" y="211.9" width="1.4" height="8.1" fill="#820000"/>
<rect x="117.6" y="219.8" width="1.4" height="8.1" fill="#020000"/>
<rect x="117.6" y="227.7" width="1.4" height="8.1" fill="#330000"/>
<rect x="117.6" y="235.6" width="1.4" height="8.1" fill="#260000"/>
<rect x="117.6" y="243.5" width="1.4" height="8.1" fill="#062428"/>
<rect x="117.6" y="251.4" width="1.4" height="8.1" fill="#270000"/>
<rect x="118.8" y="53.9" width="1.4" height="8.1" fill="#0c4249"/>
<rect x="118.8" y="61.8" width="1.4" height="8.1" fill="#1b8f9e"/>
<rect x="118.8" y="69.7" width="1.4" height="8.1" fill="#020c0d"/>
<rect x="118.8" y="77.6" width="1.4" height="8.1" fill="#082b2f"/>
<rect x="118.8" y="85.5" width="1.4" height="8.1" fill="#0e0000"/>
<rect x="118.8" y="93.4" width="1.4" height="8.1" fill="#0a383e"/>
<rect x="118.8" y="101.3" width="1.4" height="8.1" fill="#1a8998"/>
<rect x="118.8" y="109.2" width="1.4" height="8.1" fill="#0c4047"/>
<rect x="118.8" y="117.1" width="1.4" height="8.1" fill="#0a343a"/>
<rect x="118.8" y="125.0" width="1.4" height="8.1" fill="#3d0000"/>
<rect x="118.8" y="132.9" width="1.4" height="8.1" fill="#4e0000"/>
<rect x="118.8" y="140.8" width="1.4" height="8.1" fill="#2a0000"/>
<rect x="118.8" y="148.7" width="1.4" height="8.1" fill="#150000"/>
<rect x="118.8" y="156.6" width="1.4" height="8.1" fill="#4e0000"/>
<rect x="118.8" y="164.5" width="1.4" height="8.1" fill="#300000"/>
<rect x="118.8" y="172.4" width="1.4" height="8.1" fill="#2b0000"/>
<rect x="118.8" y="180.3" width="1.4" height="8.1" fill="#400000"/>
<rect x="118.8" y="188.2" width="1.4" height="8.1" fill="#01090a"/>
<rect x="118.8" y="196.1" width="1.4" height="8.1" fill="#350000"/>
<rect x="118.8" y="204.0" width="1.4" height="8.1" fill="#610000"/>
<rect x="118.8" y="211.9" width="1.4" height="8.1" fill="#660000"/>
<rect x="118.8" y="219.8" width="1.4" height="8.1" fill="#280000"/>
<rect x="118.8" y="227.7" width="1.4" height="8.1" fill="#490000"/>
<rect x="118.8" y="235.6" width="1.4" height="8.1" fill="#0d0000"/>
<rect x="118.8" y="243.5" width="1.4" height="8.1" fill="#0a343a"/>
<rect x="118.8" y="251.4" width="1.4" height="8.1" fill="#2b0000"/>
<rect x="120.0" y="53.9" width="1.4" height="8.1" fill="#000001"/>
<rect x="120.0" y="61.8" width="1.4" height="8.1" fill="#115a64"/>
<rect x="120.0" y="69.7" width="1.4" height="8.1" fill="#000101"/>
<rect x="120.0" y="77.6" width="1.4" height="8.1" fill="#230000"/>
<rect x="120.0" y="85.5" width="1.4" height="8.1" fill="#01090a"/>
<rect x="120.0" y="93.4" width="1.4" height="8.1" fill="#0d464d"/>
<rect x="120.0" y="101.3" width="1.4" height="8.1" fill="#082d32"/>
<rect x="120.0" y="109.2" width="1.4" height="8.1" fill="#01090a"/>
<rect x="120.0" y="117.1" width="1.4" height="8.1" fill="#031416"/>
<rect x="120.0" y="125.0" width="1.4" height="8.1" fill="#720000"/>
<rect x="120.0" y="132.9" width="1.4" height="8.1" fill="#7a0000"/>
<rect x="120.0" y="140.8" width="1.4" height="8.1" fill="#660000"/>
<rect x="120.0" y="148.7" width="1.4" height="8.1" fill="#3c0000"/>
<rect x="120.0" y="156.6" width="1.4" height="8.1" fill="#2a0000"/>
<rect x="120.0" y="164.5" width="1.4" height="8.1" fill="#570000"/>
<rect x="120.0" y="172.4" width="1.4" height="8.1" fill="#270000"/>
<rect x="120.0" y="180.3" width="1.4" height="8.1" fill="#4f0000"/>
<rect x="120.0" y="188.2" width="1.4" height="8.1" fill="#570000"/>
<rect x="120.0" y="196.1" width="1.4" height="8.1" fill="#4f0000"/>
<rect x="120.0" y="204.0" width="1.4" height="8.1" fill="#230000"/>
<rect x="120.0" y="211.9" width="1.4" height="8.1" fill="#2e0000"/>
<rect x="120.0" y="219.8" width="1.4" height="8.1" fill="#21afc2"/>
<rect x="120.0" y="227.7" width="1.4" height="8.1" fill="#082b30"/>
<rect x="120.0" y="235.6" width="1.4" height="8.1" fill="#000000"/>
<rect x="120.0" y="243.5" width="1.4" height="8.1" fill="#110000"/>
<rect x="120.0" y="251.4" width="1.4" height="8.1" fill="#4e0000"/>
<rect x="121.1" y="53.9" width="1.4" height="8.1" fill="#240000"/>
<rect x="121.1" y="61.8" width="1.4" height="8.1" fill="#050000"/>
<rect x="121.1" y="69.7" width="1.4" height="8.1" fill="#082d32"/>
<rect x="121.1" y="77.6" width="1.4" height="8.1" fill="#0c4047"/>
<rect x="121.1" y="85.5" width="1.4" height="8.1" fill="#140000"/>
<rect x="121.1" y="93.4" width="1.4" height="8.1" fill="#270000"/>
<rect x="121.1" y="101.3" width="1.4" height="8.1" fill="#120000"/>
<rect x="121.1" y="109.2" width="1.4" height="8.1" fill="#000202"/>
<rect x="121.1" y="117.1" width="1.4" height="8.1" fill="#0b0000"/>
<rect x="121.1" y="125.0" width="1.4" height="8.1" fill="#6f0000"/>
<rect x="121.1" y="132.9" width="1.4" height="8.1" fill="#830000"/>
<rect x="121.1" y="140.8" width="1.4" height="8.1" fill="#880000"/>
<rect x="121.1" y="148.7" width="1.4" height="8.1" fill="#410000"/>
<rect x="121.1" y="156.6" width="1.4" height="8.1" fill="#560000"/>
<rect x="121.1" y="164.5" width="1.4" height="8.1" fill="#570000"/>
<rect x="121.1" y="172.4" width="1.4" height="8.1" fill="#0b0000"/>
<rect x="121.1" y="180.3" width="1.4" height="8.1" fill="#0e4b53"/>
<rect x="121.1" y="188.2" width="1.4" height="8.1" fill="#000202"/>
<rect x="121.1" y="196.1" width="1.4" height="8.1" fill="#740000"/>
<rect x="121.1" y="204.0" width="1.4" height="8.1" fill="#5e0000"/>
<rect x="121.1" y="211.9" width="1.4" height="8.1" fill="#5a0000"/>
<rect x="121.1" y="219.8" width="1.4" height="8.1" fill="#560000"/>
<rect x="121.1" y="227.7" width="1.4" height="8.1" fill="#460000"/>
<rect x="121.1" y="235.6" width="1.4" height="8.1" fill="#530000"/>
<rect x="121.1" y="243.5" width="1.4" height="8.1" fill="#082a2f"/>
<rect x="121.1" y="251.4" width="1.4" height="8.1" fill="#180000"/>
<rect x="122.3" y="53.9" width="1.4" height="8.1" fill="#051a1d"/>
<rect x="122.3" y="61.8" width="1.4" height="8.1" fill="#0d454c"/>
<rect x="122.3" y="69.7" width="1.4" height="8.1" fill="#051d20"/>
<rect x="122.3" y="77.6" width="1.4" height="8.1" fill="#093339"/>
<rect x="122.3" y="85.5" width="1.4" height="8.1" fill="#000303"/>
<rect x="122.3" y="93.4" width="1.4" height="8.1" fill="#07282c"/>
<rect x="122.3" y="101.3" width="1.4" height="8.1" fill="#020f10"/>
<rect x="122.3" y="109.2" width="1.4" height="8.1" fill="#051c1f"/>
<rect x="122.3" y="117.1" width="1.4" height="8.1" fill="#051d21"/>
<rect x="122.3" y="125.0" width="1.4" height="8.1" fill="#710000"/>
<rect x="122.3" y="132.9" width="1.4" height="8.1" fill="#510000"/>
<rect x="122.3" y="140.8" width="1.4" height="8.1" fill="#430000"/>
<rect x="122.3" y="148.7" width="1.4" height="8.1" fill="#3c0000"/>
<rect x="122.3" y="156.6" width="1.4" height="8.1" fill="#7d0000"/>
<rect x="122.3" y="164.5" width="1.4" height="8.1" fill="#790000"/>
<rect x="122.3" y="172.4" width="1.4" height="8.1" fill="#600000"/>
<rect x="122.3" y="180.3" width="1.4" height="8.1" fill="#830000"/>
<rect x="122.3" y="188.2" width="1.4" height="8.1" fill="#2a0000"/>
<rect x="122.3" y="196.1" width="1.4" height="8.1" fill="#4d0000"/>
<rect x="122.3" y="204.0" width="1.4" height="8.1" fill="#750000"/>
<rect x="122.3" y="211.9" width="1.4" height="8.1" fill="#940000"/>
<rect x="122.3" y="219.8" width="1.4" height="8.1" fill="#490000"/>
<rect x="122.3" y="227.7" width="1.4" height="8.1" fill="#620000"/>
<rect x="122.3" y="235.6" width="1.4" height="8.1" fill="#340000"/>
<rect x="122.3" y="243.5" width="1.4" height="8.1" fill="#051d20"/>
<rect x="122.3" y="251.4" width="1.4" height="8.1" fill="#0c0000"/>
<rect x="123.4" y="53.9" width="1.4" height="8.1" fill="#2d0000"/>
<rect x="123.4" y="61.8" width="1.4" height="8.1" fill="#115b64"/>
<rect x="123.4" y="69.7" width="1.4" height="8.1" fill="#0d474f"/>
<rect x="123.4" y="77.6" width="1.4" height="8.1" fill="#15717e"/>
<rect x="123.4" y="85.5" width="1.4" height="8.1" fill="#010708"/>
<rect x="123.4" y="93.4" width="1.4" height="8.1" fill="#0e4c54"/>
<rect x="123.4" y="101.3" width="1.4" height="8.1" fill="#13646f"/>
<rect x="123.4" y="109.2" width="1.4" height="8.1" fill="#051c1f"/>
<rect x="123.4" y="117.1" width="1.4" height="8.1" fill="#0e4d56"/>
<rect x="123.4" y="125.0" width="1.4" height="8.1" fill="#260000"/>
<rect x="123.4" y="132.9" width="1.4" height="8.1" fill="#250000"/>
<rect x="123.4" y="140.8" width="1.4" height="8.1" fill="#2d0000"/>
<rect x="123.4" y="148.7" width="1.4" height="8.1" fill="#220000"/>
<rect x="123.4" y="156.6" width="1.4" height="8.1" fill="#270000"/>
<rect x="123.4" y="164.5" width="1.4" height="8.1" fill="#040000"/>
<rect x="123.4" y="172.4" width="1.4" height="8.1" fill="#2e0000"/>
<rect x="123.4" y="180.3" width="1.4" height="8.1" fill="#170000"/>
<rect x="123.4" y="188.2" width="1.4" height="8.1" fill="#105761"/>
<rect x="123.4" y="196.1" width="1.4" height="8.1" fill="#082b2f"/>
<rect x="123.4" y="204.0" width="1.4" height="8.1" fill="#082f34"/>
<rect x="123.4" y="211.9" width="1.4" height="8.1" fill="#180000"/>
<rect x="123.4" y="219.8" width="1.4" height="8.1" fill="#150000"/>
<rect x="123.4" y="227.7" width="1.4" height="8.1" fill="#115a64"/>
<rect x="123.4" y="235.6" width="1.4" height="8.1" fill="#031113"/>
<rect x="123.4" y="243.5" width="1.4" height="8.1" fill="#07292e"/>
<rect x="123.4" y="251.4" width="1.4" height="8.1" fill="#051d20"/>
<rect x="124.6" y="53.9" width="1.4" height="8.1" fill="#210000"/>
<rect x="124.6" y="61.8" width="1.4" height="8.1" fill="#0d4850"/>
<rect x="124.6" y="69.7" width="1.4" height="8.1" fill="#020c0e"/>
<rect x="124.6" y="77.6" width="1.4" height="8.1" fill="#0a0000"/>
<rect x="124.6" y="85.5" width="1.4" height="8.1" fill="#660000"/>
<rect x="124.6" y="93.4" width="1.4" height="8.1" fill="#0d0000"/>
<rect x="124.6" y="101.3" width="1.4" height="8.1" fill="#180000"/>
<rect x="124.6" y="109.2" width="1.4" height="8.1" fill="#0f0000"/>
<rect x="124.6" y="117.1" width="1.4" height="8.1" fill="#000000"/>
<rect x="124.6" y="125.0" width="1.4" height="8.1" fill="#630000"/>
<rect x="124.6" y="132.9" width="1.4" height="8.1" fill="#5e0000"/>
<rect x="124.6" y="140.8" width="1.4" height="8.1" fill="#7d0000"/>
<rect x="124.6" y="148.7" width="1.4" height="8.1" fill="#690000"/>
<rect x="124.6" y="156.6" width="1.4" height="8.1" fill="#5c0000"/>
<rect x="124.6" y="164.5" width="1.4" height="8.1" fill="#490000"/>
<rect x="124.6" y="172.4" width="1.4" height="8.1" fill="#290000"/>
<rect x="124.6" y="180.3" width="1.4" height="8.1" fill="#04191c"/>
<rect x="124.6" y="188.2" width="1.4" height="8.1" fill="#080000"/>
<rect x="124.6" y="196.1" width="1.4" height="8.1" fill="#340000"/>
<rect x="124.6" y="204.0" width="1.4" height="8.1" fill="#6f0000"/>
<rect x="124.6" y="211.9" width="1.4" height="8.1" fill="#5b0000"/>
<rect x="124.6" y="219.8" width="1.4" height="8.1" fill="#3a0000"/>
<rect x="124.6" y="227.7" width="1.4" height="8.1" fill="#610000"/>
<rect x="124.6" y="235.6" width="1.4" height="8.1" fill="#520000"/>
<rect x="124.6" y="243.5" width="1.4" height="8.1" fill="#050000"/>
<rect x="124.6" y="251.4" width="1.4" height="8.1" fill="#2d0000"/>
<rect x="125.7" y="53.9" width="1.4" height="8.1" fill="#062327"/>
<rect x="125.7" y="61.8" width="1.4" height="8.1" fill="#093137"/>
<rect x="125.7" y="69.7" width="1.4" height="8.1" fill="#0d4950"/>
<rect x="125.7" y="77.6" width="1.4" height="8.1" fill="#1b93a3"/>
<rect x="125.7" y="85.5" width="1.4" height="8.1" fill="#082d32"/>
<rect x="125.7" y="93.4" width="1.4" height="8.1" fill="#157480"/>
<rect x="125.7" y="101.3" width="1.4" height="8.1" fill="#198897"/>
<rect x="125.7" y="109.2" width="1.4" height="8.1" fill="#1a8c9b"/>
<rect x="125.7" y="117.1" width="1.4" height="8.1" fill="#198897"/>
<rect x="125.7" y="125.0" width="1.4" height="8.1" fill="#410000"/>
<rect x="125.7" y="132.9" width="1.4" height="8.1" fill="#230000"/>
<rect x="125.7" y="140.8" width="1.4" height="8.1" fill="#3c0000"/>
<rect x="125.7" y="148.7" width="1.4" height="8.1" fill="#180000"/>
<rect x="125.7" y="156.6" width="1.4" height="8.1" fill="#210000"/>
<rect x="125.7" y="164.5" width="1.4" height="8.1" fill="#400000"/>
<rect x="125.7" y="172.4" width="1.4" height="8.1" fill="#3d0000"/>
<rect x="125.7" y="180.3" width="1.4" height="8.1" fill="#460000"/>
<rect x="125.7" y="188.2" width="1.4" height="8.1" fill="#2c0000"/>
<rect x="125.7" y="196.1" width="1.4" height="8.1" fill="#370000"/>
<rect x="125.7" y="204.0" width="1.4" height="8.1" fill="#07292d"/>
<rect x="125.7" y="211.9" width="1.4" height="8.1" fill="#040000"/>
<rect x="125.7" y="219.8" width="1.4" height="8.1" fill="#2a0000"/>
<rect x="125.7" y="227.7" width="1.4" height="8.1" fill="#580000"/>
<rect x="125.7" y="235.6" width="1.4" height="8.1" fill="#650000"/>
<rect x="125.7" y="243.5" width="1.4" height="8.1" fill="#060000"/>
<rect x="125.7" y="251.4" width="1.4" height="8.1" fill="#180000"/>
<rect x="126.9" y="53.9" width="1.4" height="8.1" fill="#04191c"/>
<rect x="126.9" y="61.8" width="1.4" height="8.1" fill="#115a64"/>
<rect x="126.9" y="69.7" width="1.4" height="8.1" fill="#105760"/>
<rect x="126.9" y="77.6" width="1.4" height="8.1" fill="#031012"/>
<rect x="126.9" y="85.5" width="1.4" height="8.1" fill="#0d444c"/>
<rect x="126.9" y="93.4" width="1.4" height="8.1" fill="#146d79"/>
<rect x="126.9" y="101.3" width="1.4" height="8.1" fill="#23b9cd"/>
<rect x="126.9" y="109.2" width="1.4" height="8.1" fill="#157380"/>
<rect x="126.9" y="117.1" width="1.4" height="8.1" fill="#21b3c7"/>
<rect x="126.9" y="125.0" width="1.4" height="8.1" fill="#1d0000"/>
<rect x="126.9" y="132.9" width="1.4" height="8.1" fill="#320000"/>
<rect x="126.9" y="140.8" width="1.4" height="8.1" fill="#410000"/>
<rect x="126.9" y="148.7" width="1.4" height="8.1" fill="#051c20"/>
<rect x="126.9" y="156.6" width="1.4" height="8.1" fill="#260000"/>
<rect x="126.9" y="164.5" width="1.4" height="8.1" fill="#051d20"/>
<rect x="126.9" y="172.4" width="1.4" height="8.1" fill="#140000"/>
<rect x="126.9" y="180.3" width="1.4" height="8.1" fill="#150000"/>
<rect x="126.9" y="188.2" width="1.4" height="8.1" fill="#090000"/>
<rect x="126.9" y="196.1" width="1.4" height="8.1" fill="#280000"/>
<rect x="126.9" y="204.0" width="1.4" height="8.1" fill="#3c0000"/>
<rect x="126.9" y="211.9" width="1.4" height="8.1" fill="#080000"/>
<rect x="126.9" y="219.8" width="1.4" height="8.1" fill="#4c0000"/>
<rect x="126.9" y="227.7" width="1.4" height="8.1" fill="#600000"/>
<rect x="126.9" y="235.6" width="1.4" height="8.1" fill="#640000"/>
<rect x="126.9" y="243.5" width="1.4" height="8.1" fill="#020d0e"/>
<rect x="126.9" y="251.4" width="1.4" height="8.1" fill="#0d484f"/>
<rect x="128.0" y="53.9" width="1.4" height="8.1" fill="#10555f"/>
<rect x="128.0" y="61.8" width="1.4" height="8.1" fill="#12606b"/>
<rect x="128.0" y="69.7" width="1.4" height="8.1" fill="#072529"/>
<rect x="128.0" y="77.6" width="1.4" height="8.1" fill="#1c96a7"/>
<rect x="128.0" y="85.5" width="1.4" height="8.1" fill="#12636d"/>
<rect x="128.0" y="93.4" width="1.4" height="8.1" fill="#23b9cd"/>
<rect x="128.0" y="101.3" width="1.4" height="8.1" fill="#23b9cd"/>
<rect x="128.0" y="109.2" width="1.4" height="8.1" fill="#21b0c3"/>
<rect x="128.0" y="117.1" width="1.4" height="8.1" fill="#0f525b"/>
<rect x="128.0" y="125.0" width="1.4" height="8.1" fill="#180000"/>
<rect x="128.0" y="132.9" width="1.4" height="8.1" fill="#330000"/>
<rect x="128.0" y="140.8" width="1.4" height="8.1" fill="#660000"/>
<rect x="128.0" y="148.7" width="1.4" height="8.1" fill="#1e9fb1"/>
<rect x="128.0" y="156.6" width="1.4" height="8.1" fill="#167581"/>
<rect x="128.0" y="164.5" width="1.4" height="8.1" fill="#0d0000"/>
<rect x="128.0" y="172.4" width="1.4" height="8.1" fill="#220000"/>
<rect x="128.0" y="180.3" width="1.4" height="8.1" fill="#430000"/>
<rect x="128.0" y="188.2" width="1.4" height="8.1" fill="#050000"/>
<rect x="128.0" y="196.1" width="1.4" height="8.1" fill="#190000"/>
<rect x="128.0" y="204.0" width="1.4" height="8.1" fill="#150000"/>
<rect x="128.0" y="211.9" width="1.4" height="8.1" fill="#20abbd"/>
<rect x="128.0" y="219.8" width="1.4" height="8.1" fill="#136671"/>
<rect x="128.0" y="227.7" width="1.4" height="8.1" fill="#105962"/>
<rect x="128.0" y="235.6" width="1.4" height="8.1" fill="#0c4148"/>
<rect x="128.0" y="243.5" width="1.4" height="8.1" fill="#12636e"/>
<rect x="128.0" y="251.4" width="1.4" height="8.1" fill="#2e0000"/>
<rect x="129.2" y="53.9" width="1.4" height="8.1" fill="#0a0000"/>
<rect x="129.2" y="61.8" width="1.4" height="8.1" fill="#0a353b"/>
<rect x="129.2" y="69.7" width="1.4" height="8.1" fill="#093237"/>
<rect x="129.2" y="77.6" width="1.4" height="8.1" fill="#0d474f"/>
<rect x="129.2" y="85.5" width="1.4" height="8.1" fill="#020b0d"/>
<rect x="129.2" y="93.4" width="1.4" height="8.1" fill="#041518"/>
<rect x="129.2" y="101.3" width="1.4" height="8.1" fill="#0d474f"/>
<rect x="129.2" y="109.2" width="1.4" height="8.1" fill="#115d67"/>
<rect x="129.2" y="117.1" width="1.4" height="8.1" fill="#105760"/>
<rect x="129.2" y="125.0" width="1.4" height="8.1" fill="#340000"/>
<rect x="129.2" y="132.9" width="1.4" height="8.1" fill="#220000"/>
<rect x="129.2" y="140.8" width="1.4" height="8.1" fill="#590000"/>
<rect x="129.2" y="148.7" width="1.4" height="8.1" fill="#560000"/>
<rect x="129.2" y="156.6" width="1.4" height="8.1" fill="#aa0000"/>
<rect x="129.2" y="164.5" width="1.4" height="8.1" fill="#7f0000"/>
<rect x="129.2" y="172.4" width="1.4" height="8.1" fill="#710000"/>
<rect x="129.2" y="180.3" width="1.4" height="8.1" fill="#840000"/>
<rect x="129.2" y="188.2" width="1.4" height="8.1" fill="#550000"/>
<rect x="129.2" y="196.1" width="1.4" height="8.1" fill="#6a0000"/>
<rect x="129.2" y="204.0" width="1.4" height="8.1" fill="#6e0000"/>
<rect x="129.2" y="211.9" width="1.4" height="8.1" fill="#3a0000"/>
<rect x="129.2" y="219.8" width="1.4" height="8.1" fill="#1e0000"/>
<rect x="129.2" y="227.7" width="1.4" height="8.1" fill="#6b0000"/>
<rect x="129.2" y="235.6" width="1.4" height="8.1" fill="#350000"/>
<rect x="129.2" y="243.5" width="1.4" height="8.1" fill="#0f5059"/>
<rect x="129.2" y="251.4" width="1.4" height="8.1" fill="#210000"/>
<rect x="130.3" y="53.9" width="1.4" height="8.1" fill="#041618"/>
<rect x="130.3" y="61.8" width="1.4" height="8.1" fill="#0c4249"/>
<rect x="130.3" y="69.7" width="1.4" height="8.1" fill="#093035"/>
<rect x="130.3" y="77.6" width="1.4" height="8.1" fill="#1fa5b7"/>
<rect x="130.3" y="85.5" width="1.4" height="8.1" fill="#156f7b"/>
<rect x="130.3" y="93.4" width="1.4" height="8.1" fill="#13646f"/>
<rect x="130.3" y="101.3" width="1.4" height="8.1" fill="#0a393f"/>
<rect x="130.3" y="109.2" width="1.4" height="8.1" fill="#136570"/>
<rect x="130.3" y="117.1" width="1.4" height="8.1" fill="#0f5059"/>
<rect x="130.3" y="125.0" width="1.4" height="8.1" fill="#540000"/>
<rect x="130.3" y="132.9" width="1.4" height="8.1" fill="#4c0000"/>
<rect x="130.3" y="140.8" width="1.4" height="8.1" fill="#4e0000"/>
<rect x="130.3" y="148.7" width="1.4" height="8.1" fill="#2f0000"/>
<rect x="130.3" y="156.6" width="1.4" height="8.1" fill="#260000"/>
<rect x="130.3" y="164.5" width="1.4" height="8.1" fill="#160000"/>
<rect x="130.3" y="172.4" width="1.4" height="8.1" fill="#510000"/>
<rect x="130.3" y="180.3" width="1.4" height="8.1" fill="#470000"/>
<rect x="130.3" y="188.2" width="1.4" height="8.1" fill="#0a353b"/>
<rect x="130.3" y="196.1" width="1.4" height="8.1" fill="#04191c"/>
<rect x="130.3" y="204.0" width="1.4" height="8.1" fill="#1d0000"/>
<rect x="130.3" y="211.9" width="1.4" height="8.1" fill="#0f0000"/>
<rect x="130.3" y="219.8" width="1.4" height="8.1" fill="#062428"/>
<rect x="130.3" y="227.7" width="1.4" height="8.1" fill="#170000"/>
<rect x="130.3" y="235.6" width="1.4" height="8.1" fill="#080000"/>
<rect x="130.3" y="243.5" width="1.4" height="8.1" fill="#0d444c"/>
<rect x="130.3" y="251.4" width="1.4" height="8.1" fill="#031416"/>
<rect x="131.5" y="53.9" width="1.4" height="8.1" fill="#2e0000"/>
<rect x="131.5" y="61.8" width="1.4" height="8.1" fill="#07262a"/>
<rect x="131.5" y="69.7" width="1.4" height="8.1" fill="#031112"/>
<rect x="131.5" y="77.6" width="1.4" height="8.1" fill="#031416"/>
<rect x="131.5" y="85.5" width="1.4" height="8.1" fill="#7a0000"/>
<rect x="131.5" y="93.4" width="1.4" height="8.1" fill="#880000"/>
<rect x="131.5" y="101.3" width="1.4" height="8.1" fill="#030000"/>
<rect x="131.5" y="109.2" width="1.4" height="8.1" fill="#01090b"/>
<rect x="131.5" y="117.1" width="1.4" height="8.1" fill="#105861"/>
<rect x="131.5" y="125.0" width="1.4" height="8.1" fill="#650000"/>
<rect x="131.5" y="132.9" width="1.4" height="8.1" fill="#820000"/>
<rect x="131.5" y="140.8" width="1.4" height="8.1" fill="#b50000"/>
<rect x="131.5" y="148.7" width="1.4" height="8.1" fill="#a80000"/>
<rect x="131.5" y="156.6" width="1.4" height="8.1" fill="#031214"/>
<rect x="131.5" y="164.5" width="1.4" height="8.1" fill="#110000"/>
<rect x="131.5" y="172.4" width="1.4" height="8.1" fill="#650000"/>
<rect x="131.5" y="180.3" width="1.4" height="8.1" fill="#7f0000"/>
<rect x="131.5" y="188.2" width="1.4" height="8.1" fill="#730000"/>
<rect x="131.5" y="196.1" width="1.4" height="8.1" fill="#9f0000"/>
<rect x="131.5" y="204.0" width="1.4" height="8.1" fill="#790000"/>
<rect x="131.5" y="211.9" width="1.4" height="8.1" fill="#290000"/>
<rect x="131.5" y="219.8" width="1.4" height="8.1" fill="#760000"/>
<rect x="131.5" y="227.7" width="1.4" height="8.1" fill="#550000"/>
<rect x="131.5" y="235.6" width="1.4" height="8.1" fill="#6b0000"/>
<rect x="131.5" y="243.5" width="1.4" height="8.1" fill="#230000"/>
<rect x="131.5" y="251.4" width="1.4" height="8.1" fill="#2c0000"/>
<rect x="132.6" y="53.9" width="1.4" height="8.1" fill="#020c0d"/>
<rect x="132.6" y="61.8" width="1.4" height="8.1" fill="#0e4a52"/>
<rect x="132.6" y="69.7" width="1.4" height="8.1" fill="#093137"/>
<rect x="132.6" y="77.6" width="1.4" height="8.1" fill="#0e4a52"/>
<rect x="132.6" y="85.5" width="1.4" height="8.1" fill="#2b0000"/>
<rect x="132.6" y="93.4" width="1.4" height="8.1" fill="#020000"/>
<rect x="132.6" y="101.3" width="1.4" height="8.1" fill="#0a3a40"/>
<rect x="132.6" y="109.2" width="1.4" height="8.1" fill="#105862"/>
<rect x="132.6" y="117.1" width="1.4" height="8.1" fill="#198594"/>
<rect x="132.6" y="125.0" width="1.4" height="8.1" fill="#300000"/>
<rect x="132.6" y="132.9" width="1.4" height="8.1" fill="#3e0000"/>
<rect x="132.6" y="140.8" width="1.4" height="8.1" fill="#150000"/>
<rect x="132.6" y="148.7" width="1.4" height="8.1" fill="#041a1c"/>
<rect x="132.6" y="156.6" width="1.4" height="8.1" fill="#230000"/>
<rect x="132.6" y="164.5" width="1.4" height="8.1" fill="#157380"/>
<rect x="132.6" y="172.4" width="1.4" height="8.1" fill="#0d444c"/>
<rect x="132.6" y="180.3" width="1.4" height="8.1" fill="#060000"/>
<rect x="132.6" y="188.2" width="1.4" height="8.1" fill="#07282d"/>
<rect x="132.6" y="196.1" width="1.4" height="8.1" fill="#3b0000"/>
<rect x="132.6" y="204.0" width="1.4" height="8.1" fill="#280000"/>
<rect x="132.6" y="211.9" width="1.4" height="8.1" fill="#4a0000"/>
<rect x="132.6" y="219.8" width="1.4" height="8.1" fill="#530000"/>
<rect x="132.6" y="227.7" width="1.4" height="8.1" fill="#4e0000"/>
<rect x="132.6" y="235.6" width="1.4" height="8.1" fill="#370000"/>
<rect x="132.6" y="243.5" width="1.4" height="8.1" fill="#000404"/>
<rect x="132.6" y="251.4" width="1.4" height="8.1" fill="#041518"/>
<rect x="133.8" y="53.9" width="1.4" height="8.1" fill="#04181b"/>
<rect x="133.8" y="61.8" width="1.4" height="8.1" fill="#0e4c54"/>
<rect x="133.8" y="69.7" width="1.4" height="8.1" fill="#105962"/>
<rect x="133.8" y="77.6" width="1.4" height="8.1" fill="#188290"/>
<rect x="133.8" y="85.5" width="1.4" height="8.1" fill="#146b77"/>
<rect x="133.8" y="93.4" width="1.4" height="8.1" fill="#0d4850"/>
<rect x="133.8" y="101.3" width="1.4" height="8.1" fill="#1a8b9a"/>
<rect x="133.8" y="109.2" width="1.4" height="8.1" fill="#105963"/>
<rect x="133.8" y="117.1" width="1.4" height="8.1" fill="#0a383e"/>
<rect x="133.8" y="125.0" width="1.4" height="8.1" fill="#470000"/>
<rect x="133.8" y="132.9" width="1.4" height="8.1" fill="#010000"/>
<rect x="133.8" y="140.8" width="1.4" height="8.1" fill="#200000"/>
<rect x="133.8" y="148.7" width="1.4" height="8.1" fill="#190000"/>
<rect x="133.8" y="156.6" width="1.4" height="8.1" fill="#3c0000"/>
<rect x="133.8" y="164.5" width="1.4" height="8.1" fill="#4a0000"/>
<rect x="133.8" y="172.4" width="1.4" height="8.1" fill="#080000"/>
<rect x="133.8" y="180.3" width="1.4" height="8.1" fill="#570000"/>
<rect x="133.8" y="188.2" width="1.4" height="8.1" fill="#480000"/>
<rect x="133.8" y="196.1" width="1.4" height="8.1" fill="#600000"/>
<rect x="133.8" y="204.0" width="1.4" height="8.1" fill="#360000"/>
<rect x="133.8" y="211.9" width="1.4" height="8.1" fill="#340000"/>
<rect x="133.8" y="219.8" width="1.4" height="8.1" fill="#000404"/>
<rect x="133.8" y="227.7" width="1.4" height="8.1" fill="#0d0000"/>
<rect x="133.8" y="235.6" width="1.4" height="8.1" fill="#360000"/>
<rect x="133.8" y="243.5" width="1.4" height="8.1" fill="#020000"/>
<rect x="133.8" y="251.4" width="1.4" height="8.1" fill="#0b0000"/>
<rect x="134.9" y="53.9" width="1.4" height="8.1" fill="#560000"/>
<rect x="134.9" y="61.8" width="1.4" height="8.1" fill="#290000"/>
<rect x="134.9" y="69.7" width="1.4" height="8.1" fill="#5e0000"/>
<rect x="134.9" y="77.6" width="1.4" height="8.1" fill="#220000"/>
<rect x="134.9" y="85.5" width="1.4" height="8.1" fill="#850000"/>
<rect x="134.9" y="93.4" width="1.4" height="8.1" fill="#740000"/>
<rect x="134.9" y="101.3" width="1.4" height="8.1" fill="#0f0000"/>
<rect x="134.9" y="109.2" width="1.4" height="8.1" fill="#04181b"/>
<rect x="134.9" y="117.1" width="1.4" height="8.1" fill="#010505"/>
<rect x="134.9" y="125.0" width="1.4" height="8.1" fill="#af0000"/>
<rect x="134.9" y="132.9" width="1.4" height="8.1" fill="#9f0000"/>
<rect x="134.9" y="140.8" width="1.4" height="8.1" fill="#aa0000"/>
<rect x="134.9" y="148.7" width="1.4" height="8.1" fill="#7c0000"/>
<rect x="134.9" y="156.6" width="1.4" height="8.1" fill="#730000"/>
<rect x="134.9" y="164.5" width="1.4" height="8.1" fill="#810000"/>
<rect x="134.9" y="172.4" width="1.4" height="8.1" fill="#670000"/>
<rect x="134.9" y="180.3" width="1.4" height="8.1" fill="#6f0000"/>
<rect x="134.9" y="188.2" width="1.4" height="8.1" fill="#840000"/>
<rect x="134.9" y="196.1" width="1.4" height="8.1" fill="#920000"/>
<rect x="134.9" y="204.0" width="1.4" height="8.1" fill="#810000"/>
<rect x="134.9" y="211.9" width="1.4" height="8.1" fill="#840000"/>
<rect x="134.9" y="219.8" width="1.4" height="8.1" fill="#660000"/>
<rect x="134.9" y="227.7" width="1.4" height="8.1" fill="#c40000"/>
<rect x="134.9" y="235.6" width="1.4" height="8.1" fill="#b30000"/>
<rect x="134.9" y="243.5" width="1.4" height="8.1" fill="#370000"/>
<rect x="134.9" y="251.4" width="1.4" height="8.1" fill="#1f0000"/>
<rect x="136.1" y="53.9" width="1.4" height="8.1" fill="#093237"/>
<rect x="136.1" y="61.8" width="1.4" height="8.1" fill="#07262a"/>
<rect x="136.1" y="69.7" width="1.4" height="8.1" fill="#3f0000"/>
<rect x="136.1" y="77.6" width="1.4" height="8.1" fill="#100000"/>
<rect x="136.1" y="85.5" width="1.4" height="8.1" fill="#6a0000"/>
<rect x="136.1" y="93.4" width="1.4" height="8.1" fill="#380000"/>
<rect x="136.1" y="101.3" width="1.4" height="8.1" fill="#180000"/>
<rect x="136.1" y="109.2" width="1.4" height="8.1" fill="#430000"/>
<rect x="136.1" y="117.1" width="1.4" height="8.1" fill="#0c434a"/>
<rect x="136.1" y="125.0" width="1.4" height="8.1" fill="#4e0000"/>
<rect x="136.1" y="132.9" width="1.4" height="8.1" fill="#340000"/>
<rect x="136.1" y="140.8" width="1.4" height="8.1" fill="#200000"/>
<rect x="136.1" y="148.7" width="1.4" height="8.1" fill="#350000"/>
<rect x="136.1" y="156.6" width="1.4" height="8.1" fill="#410000"/>
<rect x="136.1" y="164.5" width="1.4" height="8.1" fill="#5d0000"/>
<rect x="136.1" y="172.4" width="1.4" height="8.1" fill="#590000"/>
<rect x="136.1" y="180.3" width="1.4" height="8.1" fill="#320000"/>
<rect x="136.1" y="188.2" width="1.4" height="8.1" fill="#3d0000"/>
<rect x="136.1" y="196.1" width="1.4" height="8.1" fill="#5e0000"/>
<rect x="136.1" y="204.0" width="1.4" height="8.1" fill="#580000"/>
<rect x="136.1" y="211.9" width="1.4" height="8.1" fill="#910000"/>
<rect x="136.1" y="219.8" width="1.4" height="8.1" fill="#670000"/>
<rect x="136.1" y="227.7" width="1.4" height="8.1" fill="#5a0000"/>
<rect x="136.1" y="235.6" width="1.4" height="8.1" fill="#460000"/>
<rect x="136.1" y="243.5" width="1.4" height="8.1" fill="#210000"/>
<rect x="136.1" y="251.4" width="1.4" height="8.1" fill="#240000"/>
<rect x="137.2" y="53.9" width="1.4" height="8.1" fill="#136772"/>
<rect x="137.2" y="61.8" width="1.4" height="8.1" fill="#125f6a"/>
<rect x="137.2" y="69.7" width="1.4" height="8.1" fill="#062023"/>
<rect x="137.2" y="77.6" width="1.4" height="8.1" fill="#136570"/>
<rect x="137.2" y="85.5" width="1.4" height="8.1" fill="#2c0000"/>
<rect x="137.2" y="93.4" width="1.4" height="8.1" fill="#0d0000"/>
<rect x="137.2" y="101.3" width="1.4" height="8.1" fill="#110000"/>
<rect x="137.2" y="109.2" width="1.4" height="8.1" fill="#150000"/>
<rect x="137.2" y="117.1" width="1.4" height="8.1" fill="#090000"/>
<rect x="137.2" y="125.0" width="1.4" height="8.1" fill="#7c0000"/>
<rect x="137.2" y="132.9" width="1.4" height="8.1" fill="#420000"/>
<rect x="137.2" y="140.8" width="1.4" height="8.1" fill="#590000"/>
<rect x="137.2" y="148.7" width="1.4" height="8.1" fill="#3d0000"/>
<rect x="137.2" y="156.6" width="1.4" height="8.1" fill="#780000"/>
<rect x="137.2" y="164.5" width="1.4" height="8.1" fill="#610000"/>
<rect x="137.2" y="172.4" width="1.4" height="8.1" fill="#550000"/>
<rect x="137.2" y="180.3" width="1.4" height="8.1" fill="#350000"/>
<rect x="137.2" y="188.2" width="1.4" height="8.1" fill="#031416"/>
<rect x="137.2" y="196.1" width="1.4" height="8.1" fill="#440000"/>
<rect x="137.2" y="204.0" width="1.4" height="8.1" fill="#6c0000"/>
<rect x="137.2" y="211.9" width="1.4" height="8.1" fill="#6e0000"/>
<rect x="137.2" y="219.8" width="1.4" height="8.1" fill="#540000"/>
<rect x="137.2" y="227.7" width="1.4" height="8.1" fill="#051d21"/>
<rect x="137.2" y="235.6" width="1.4" height="8.1" fill="#07292e"/>
<rect x="137.2" y="243.5" width="1.4" height="8.1" fill="#12606b"/>
<rect x="137.2" y="251.4" width="1.4" height="8.1" fill="#020e10"/>
<rect x="138.4" y="53.9" width="1.4" height="8.1" fill="#0b3b41"/>
<rect x="138.4" y="61.8" width="1.4" height="8.1" fill="#0e4b53"/>
<rect x="138.4" y="69.7" width="1.4" height="8.1" fill="#093238"/>
<rect x="138.4" y="77.6" width="1.4" height="8.1" fill="#15707d"/>
<rect x="138.4" y="85.5" width="1.4" height="8.1" fill="#020b0c"/>
<rect x="138.4" y="93.4" width="1.4" height="8.1" fill="#0f5059"/>
<rect x="138.4" y="101.3" width="1.4" height="8.1" fill="#09343a"/>
<rect x="138.4" y="109.2" width="1.4" height="8.1" fill="#093136"/>
<rect x="138.4" y="117.1" width="1.4" height="8.1" fill="#051b1f"/>
<rect x="138.4" y="125.0" width="1.4" height="8.1" fill="#7b0000"/>
<rect x="138.4" y="132.9" width="1.4" height="8.1" fill="#0c4148"/>
<rect x="138.4" y="140.8" width="1.4" height="8.1" fill="#020f11"/>
<rect x="138.4" y="148.7" width="1.4" height="8.1" fill="#2c0000"/>
<rect x="138.4" y="156.6" width="1.4" height="8.1" fill="#590000"/>
<rect x="138.4" y="164.5" width="1.4" height="8.1" fill="#3f0000"/>
<rect x="138.4" y="172.4" width="1.4" height="8.1" fill="#4d0000"/>
<rect x="138.4" y="180.3" width="1.4" height="8.1" fill="#6a0000"/>
<rect x="138.4" y="188.2" width="1.4" height="8.1" fill="#760000"/>
<rect x="138.4" y="196.1" width="1.4" height="8.1" fill="#8d0000"/>
<rect x="138.4" y="204.0" width="1.4" height="8.1" fill="#5b0000"/>
<rect x="138.4" y="211.9" width="1.4" height="8.1" fill="#590000"/>
<rect x="138.4" y="219.8" width="1.4" height="8.1" fill="#250000"/>
<rect x="138.4" y="227.7" width="1.4" height="8.1" fill="#5d0000"/>
<rect x="138.4" y="235.6" width="1.4" height="8.1" fill="#600000"/>
<rect x="138.4" y="243.5" width="1.4" height="8.1" fill="#031416"/>
<rect x="138.4" y="251.4" width="1.4" height="8.1" fill="#0b0000"/>
<rect x="139.5" y="53.9" width="1.4" height="8.1" fill="#070000"/>
<rect x="139.5" y="61.8" width="1.4" height="8.1" fill="#07262a"/>
<rect x="139.5" y="69.7" width="1.4" height="8.1" fill="#3b0000"/>
<rect x="139.5" y="77.6" width="1.4" height="8.1" fill="#156f7c"/>
<rect x="139.5" y="85.5" width="1.4" height="8.1" fill="#020c0e"/>
<rect x="139.5" y="93.4" width="1.4" height="8.1" fill="#3c0000"/>
<rect x="139.5" y="101.3" width="1.4" height="8.1" fill="#020c0d"/>
<rect x="139.5" y="109.2" width="1.4" height="8.1" fill="#177987"/>
<rect x="139.5" y="117.1" width="1.4" height="8.1" fill="#12606b"/>
<rect x="139.5" y="125.0" width="1.4" height="8.1" fill="#270000"/>
<rect x="139.5" y="132.9" width="1.4" height="8.1" fill="#1b0000"/>
<rect x="139.5" y="140.8" width="1.4" height="8.1" fill="#09343a"/>
<rect x="139.5" y="148.7" width="1.4" height="8.1" fill="#100000"/>
<rect x="139.5" y="156.6" width="1.4" height="8.1" fill="#1d0000"/>
<rect x="139.5" y="164.5" width="1.4" height="8.1" fill="#360000"/>
<rect x="139.5" y="172.4" width="1.4" height="8.1" fill="#220000"/>
<rect x="139.5" y="180.3" width="1.4" height="8.1" fill="#2c0000"/>
<rect x="139.5" y="188.2" width="1.4" height="8.1" fill="#190000"/>
<rect x="139.5" y="196.1" width="1.4" height="8.1" fill="#410000"/>
<rect x="139.5" y="204.0" width="1.4" height="8.1" fill="#5c0000"/>
<rect x="139.5" y="211.9" width="1.4" height="8.1" fill="#530000"/>
<rect x="139.5" y="219.8" width="1.4" height="8.1" fill="#3d0000"/>
<rect x="139.5" y="227.7" width="1.4" height="8.1" fill="#3b0000"/>
<rect x="139.5" y="235.6" width="1.4" height="8.1" fill="#410000"/>
<rect x="139.5" y="243.5" width="1.4" height="8.1" fill="#000101"/>
<rect x="139.5" y="251.4" width="1.4" height="8.1" fill="#0f0000"/>
<rect x="140.7" y="53.9" width="1.4" height="8.1" fill="#031012"/>
<rect x="140.7" y="61.8" width="1.4" height="8.1" fill="#167885"/>
<rect x="140.7" y="69.7" width="1.4" height="8.1" fill="#07272b"/>
<rect x="140.7" y="77.6" width="1.4" height="8.1" fill="#07262a"/>
<rect x="140.7" y="85.5" width="1.4" height="8.1" fill="#290000"/>
<rect x="140.7" y="93.4" width="1.4" height="8.1" fill="#0d0000"/>
<rect x="140.7" y="101.3" width="1.4" height="8.1" fill="#07262b"/>
<rect x="140.7" y="109.2" width="1.4" height="8.1" fill="#031214"/>
<rect x="140.7" y="117.1" width="1.4" height="8.1" fill="#5a0000"/>
<rect x="140.7" y="125.0" width="1.4" height="8.1" fill="#880000"/>
<rect x="140.7" y="132.9" width="1.4" height="8.1" fill="#3d0000"/>
<rect x="140.7" y="140.8" width="1.4" height="8.1" fill="#4c0000"/>
<rect x="140.7" y="148.7" width="1.4" height="8.1" fill="#3c0000"/>
<rect x="140.7" y="156.6" width="1.4" height="8.1" fill="#220000"/>
<rect x="140.7" y="164.5" width="1.4" height="8.1" fill="#5b0000"/>
<rect x="140.7" y="172.4" width="1.4" height="8.1" fill="#1d0000"/>
<rect x="140.7" y="180.3" width="1.4" height="8.1" fill="#2b0000"/>
<rect x="140.7" y="188.2" width="1.4" height="8.1" fill="#2b0000"/>
<rect x="140.7" y="196.1" width="1.4" height="8.1" fill="#560000"/>
<rect x="140.7" y="204.0" width="1.4" height="8.1" fill="#4e0000"/>
<rect x="140.7" y="211.9" width="1.4" height="8.1" fill="#780000"/>
<rect x="140.7" y="219.8" width="1.4" height="8.1" fill="#280000"/>
<rect x="140.7" y="227.7" width="1.4" height="8.1" fill="#300000"/>
<rect x="140.7" y="235.6" width="1.4" height="8.1" fill="#270000"/>
<rect x="140.7" y="243.5" width="1.4" height="8.1" fill="#060000"/>
<rect x="140.7" y="251.4" width="1.4" height="8.1" fill="#0d0000"/>
<rect x="141.8" y="53.9" width="1.4" height="8.1" fill="#010809"/>
<rect x="141.8" y="61.8" width="1.4" height="8.1" fill="#190000"/>
<rect x="141.8" y="69.7" width="1.4" height="8.1" fill="#000000"/>
<rect x="141.8" y="77.6" width="1.4" height="8.1" fill="#092f35"/>
<rect x="141.8" y="85.5" width="1.4" height="8.1" fill="#640000"/>
<rect x="141.8" y="93.4" width="1.4" height="8.1" fill="#1c0000"/>
<rect x="141.8" y="101.3" width="1.4" height="8.1" fill="#000405"/>
<rect x="141.8" y="109.2" width="1.4" height="8.1" fill="#0c4249"/>
<rect x="141.8" y="117.1" width="1.4" height="8.1" fill="#0b3c42"/>
<rect x="141.8" y="125.0" width="1.4" height="8.1" fill="#200000"/>
<rect x="141.8" y="132.9" width="1.4" height="8.1" fill="#320000"/>
<rect x="141.8" y="140.8" width="1.4" height="8.1" fill="#1b0000"/>
<rect x="141.8" y="148.7" width="1.4" height="8.1" fill="#480000"/>
<rect x="141.8" y="156.6" width="1.4" height="8.1" fill="#8c0000"/>
<rect x="141.8" y="164.5" width="1.4" height="8.1" fill="#600000"/>
<rect x="141.8" y="172.4" width="1.4" height="8.1" fill="#2d0000"/>
<rect x="141.8" y="180.3" width="1.4" height="8.1" fill="#110000"/>
<rect x="141.8" y="188.2" width="1.4" height="8.1" fill="#0e4a52"/>
<rect x="141.8" y="196.1" width="1.4" height="8.1" fill="#020e10"/>
<rect x="141.8" y="204.0" width="1.4" height="8.1" fill="#3e0000"/>
<rect x="141.8" y="211.9" width="1.4" height="8.1" fill="#4b0000"/>
<rect x="141.8" y="219.8" width="1.4" height="8.1" fill="#170000"/>
<rect x="141.8" y="227.7" width="1.4" height="8.1" fill="#310000"/>
<rect x="141.8" y="235.6" width="1.4" height="8.1" fill="#180000"/>
<rect x="141.8" y="243.5" width="1.4" height="8.1" fill="#1f0000"/>
<rect x="141.8" y="251.4" width="1.4" height="8.1" fill="#430000"/>
<rect x="143.0" y="53.9" width="1.4" height="8.1" fill="#0b3f45"/>
<rect x="143.0" y="61.8" width="1.4" height="8.1" fill="#093439"/>
<rect x="143.0" y="69.7" width="1.4" height="8.1" fill="#031113"/>
<rect x="143.0" y="77.6" width="1.4" height="8.1" fill="#0e4d55"/>
<rect x="143.0" y="85.5" width="1.4" height="8.1" fill="#040000"/>
<rect x="143.0" y="93.4" width="1.4" height="8.1" fill="#062427"/>
<rect x="143.0" y="101.3" width="1.4" height="8.1" fill="#0a383e"/>
<rect x="143.0" y="109.2" width="1.4" height="8.1" fill="#105660"/>
<rect x="143.0" y="117.1" width="1.4" height="8.1" fill="#115e68"/>
<rect x="143.0" y="125.0" width="1.4" height="8.1" fill="#a20000"/>
<rect x="143.0" y="132.9" width="1.4" height="8.1" fill="#7a0000"/>
<rect x="143.0" y="140.8" width="1.4" height="8.1" fill="#a80000"/>
<rect x="143.0" y="148.7" width="1.4" height="8.1" fill="#500000"/>
<rect x="143.0" y="156.6" width="1.4" height="8.1" fill="#700000"/>
<rect x="143.0" y="164.5" width="1.4" height="8.1" fill="#790000"/>
<rect x="143.0" y="172.4" width="1.4" height="8.1" fill="#5a0000"/>
<rect x="143.0" y="180.3" width="1.4" height="8.1" fill="#550000"/>
<rect x="143.0" y="188.2" width="1.4" height="8.1" fill="#340000"/>
<rect x="143.0" y="196.1" width="1.4" height="8.1" fill="#270000"/>
<rect x="143.0" y="204.0" width="1.4" height="8.1" fill="#590000"/>
<rect x="143.0" y="211.9" width="1.4" height="8.1" fill="#750000"/>
<rect x="143.0" y="219.8" width="1.4" height="8.1" fill="#5d0000"/>
<rect x="143.0" y="227.7" width="1.4" height="8.1" fill="#360000"/>
<rect x="143.0" y="235.6" width="1.4" height="8.1" fill="#6f0000"/>
<rect x="143.0" y="243.5" width="1.4" height="8.1" fill="#410000"/>
<rect x="143.0" y="251.4" width="1.4" height="8.1" fill="#530000"/>
<rect x="144.1" y="53.9" width="1.4" height="8.1" fill="#000404"/>
<rect x="144.1" y="61.8" width="1.4" height="8.1" fill="#12626d"/>
<rect x="144.1" y="69.7" width="1.4" height="8.1" fill="#136873"/>
<rect x="144.1" y="77.6" width="1.4" height="8.1" fill="#23b9cd"/>
<rect x="144.1" y="85.5" width="1.4" height="8.1" fill="#0f4f57"/>
<rect x="144.1" y="93.4" width="1.4" height="8.1" fill="#093036"/>
<rect x="144.1" y="101.3" width="1.4" height="8.1" fill="#187f8d"/>
<rect x="144.1" y="109.2" width="1.4" height="8.1" fill="#23b9cd"/>
<rect x="144.1" y="117.1" width="1.4" height="8.1" fill="#0d474f"/>
<rect x="144.1" y="125.0" width="1.4" height="8.1" fill="#830000"/>
<rect x="144.1" y="132.9" width="1.4" height="8.1" fill="#630000"/>
<rect x="144.1" y="140.8" width="1.4" height="8.1" fill="#1b0000"/>
<rect x="144.1" y="148.7" width="1.4" height="8.1" fill="#250000"/>
<rect x="144.1" y="156.6" width="1.4" height="8.1" fill="#330000"/>
<rect x="144.1" y="164.5" width="1.4" height="8.1" fill="#2d0000"/>
<rect x="144.1" y="172.4" width="1.4" height="8.1" fill="#620000"/>
<rect x="144.1" y="180.3" width="1.4" height="8.1" fill="#360000"/>
<rect x="144.1" y="188.2" width="1.4" height="8.1" fill="#0a0000"/>
<rect x="144.1" y="196.1" width="1.4" height="8.1" fill="#320000"/>
<rect x="144.1" y="204.0" width="1.4" height="8.1" fill="#2e0000"/>
<rect x="144.1" y="211.9" width="1.4" height="8.1" fill="#1b0000"/>
<rect x="144.1" y="219.8" width="1.4" height="8.1" fill="#04181b"/>
<rect x="144.1" y="227.7" width="1.4" height="8.1" fill="#140000"/>
<rect x="144.1" y="235.6" width="1.4" height="8.1" fill="#2b0000"/>
<rect x="144.1" y="243.5" width="1.4" height="8.1" fill="#0d4951"/>
<rect x="144.1" y="251.4" width="1.4" height="8.1" fill="#062326"/>
<rect x="145.3" y="53.9" width="1.4" height="8.1" fill="#072a2e"/>
<rect x="145.3" y="61.8" width="1.4" height="8.1" fill="#093237"/>
<rect x="145.3" y="69.7" width="1.4" height="8.1" fill="#041719"/>
<rect x="145.3" y="77.6" width="1.4" height="8.1" fill="#1ea2b4"/>
<rect x="145.3" y="85.5" width="1.4" height="8.1" fill="#0f5058"/>
<rect x="145.3" y="93.4" width="1.4" height="8.1" fill="#0f515a"/>
<rect x="145.3" y="101.3" width="1.4" height="8.1" fill="#23b9cd"/>
<rect x="145.3" y="109.2" width="1.4" height="8.1" fill="#22b8cc"/>
<rect x="145.3" y="117.1" width="1.4" height="8.1" fill="#177d8b"/>
<rect x="145.3" y="125.0" width="1.4" height="8.1" fill="#5d0000"/>
<rect x="145.3" y="132.9" width="1.4" height="8.1" fill="#310000"/>
<rect x="145.3" y="140.8" width="1.4" height="8.1" fill="#350000"/>
<rect x="145.3" y="148.7" width="1.4" height="8.1" fill="#670000"/>
<rect x="145.3" y="156.6" width="1.4" height="8.1" fill="#3d0000"/>
<rect x="145.3" y="164.5" width="1.4" height="8.1" fill="#470000"/>
<rect x="145.3" y="172.4" width="1.4" height="8.1" fill="#230000"/>
<rect x="145.3" y="180.3" width="1.4" height="8.1" fill="#350000"/>
<rect x="145.3" y="188.2" width="1.4" height="8.1" fill="#1b0000"/>
<rect x="145.3" y="196.1" width="1.4" height="8.1" fill="#4f0000"/>
<rect x="145.3" y="204.0" width="1.4" height="8.1" fill="#400000"/>
<rect x="145.3" y="211.9" width="1.4" height="8.1" fill="#010607"/>
<rect x="145.3" y="219.8" width="1.4" height="8.1" fill="#020000"/>
<rect x="145.3" y="227.7" width="1.4" height="8.1" fill="#1c0000"/>
<rect x="145.3" y="235.6" width="1.4" height="8.1" fill="#290000"/>
<rect x="145.3" y="243.5" width="1.4" height="8.1" fill="#0f515a"/>
<rect x="145.3" y="251.4" width="1.4" height="8.1" fill="#093339"/>
<rect x="146.4" y="53.9" width="1.4" height="8.1" fill="#020000"/>
<rect x="146.4" y="61.8" width="1.4" height="8.1" fill="#146e7a"/>
<rect x="146.4" y="69.7" width="1.4" height="8.1" fill="#125f69"/>
<rect x="146.4" y="77.6" width="1.4" height="8.1" fill="#1c98a8"/>
<rect x="146.4" y="85.5" width="1.4" height="8.1" fill="#10555e"/>
<rect x="146.4" y="93.4" width="1.4" height="8.1" fill="#136570"/>
<rect x="146.4" y="101.3" width="1.4" height="8.1" fill="#1b93a3"/>
<rect x="146.4" y="109.2" width="1.4" height="8.1" fill="#157380"/>
<rect x="146.4" y="117.1" width="1.4" height="8.1" fill="#21b1c4"/>
<rect x="146.4" y="125.0" width="1.4" height="8.1" fill="#020c0d"/>
<rect x="146.4" y="132.9" width="1.4" height="8.1" fill="#3b0000"/>
<rect x="146.4" y="140.8" width="1.4" height="8.1" fill="#540000"/>
<rect x="146.4" y="148.7" width="1.4" height="8.1" fill="#3b0000"/>
<rect x="146.4" y="156.6" width="1.4" height="8.1" fill="#080000"/>
<rect x="146.4" y="164.5" width="1.4" height="8.1" fill="#360000"/>
<rect x="146.4" y="172.4" width="1.4" height="8.1" fill="#031011"/>
<rect x="146.4" y="180.3" width="1.4" height="8.1" fill="#0a3940"/>
<rect x="146.4" y="188.2" width="1.4" height="8.1" fill="#07272b"/>
<rect x="146.4" y="196.1" width="1.4" height="8.1" fill="#010506"/>
<rect x="146.4" y="204.0" width="1.4" height="8.1" fill="#0a0000"/>
<rect x="146.4" y="211.9" width="1.4" height="8.1" fill="#300000"/>
<rect x="146.4" y="219.8" width="1.4" height="8.1" fill="#240000"/>
<rect x="146.4" y="227.7" width="1.4" height="8.1" fill="#6e0000"/>
<rect x="146.4" y="235.6" width="1.4" height="8.1" fill="#220000"/>
<rect x="146.4" y="243.5" width="1.4" height="8.1" fill="#136570"/>
<rect x="146.4" y="251.4" width="1.4" height="8.1" fill="#020b0c"/>
<rect x="147.6" y="53.9" width="1.4" height="8.1" fill="#200000"/>
<rect x="147.6" y="61.8" width="1.4" height="8.1" fill="#0e4d55"/>
<rect x="147.6" y="69.7" width="1.4" height="8.1" fill="#0e4d55"/>
<rect x="147.6" y="77.6" width="1.4" height="8.1" fill="#146b76"/>
<rect x="147.6" y="85.5" width="1.4" height="8.1" fill="#062327"/>
<rect x="147.6" y="93.4" width="1.4" height="8.1" fill="#0b3c43"/>
<rect x="147.6" y="101.3" width="1.4" height="8.1" fill="#072529"/>
<rect x="147.6" y="109.2" width="1.4" height="8.1" fill="#167480"/>
<rect x="147.6" y="117.1" width="1.4" height="8.1" fill="#0f515a"/>
<rect x="147.6" y="125.0" width="1.4" height="8.1" fill="#4b0000"/>
<rect x="147.6" y="132.9" width="1.4" height="8.1" fill="#450000"/>
<rect x="147.6" y="140.8" width="1.4" height="8.1" fill="#2a0000"/>
<rect x="147.6" y="148.7" width="1.4" height="8.1" fill="#2b0000"/>
<rect x="147.6" y="156.6" width="1.4" height="8.1" fill="#0e0000"/>
<rect x="147.6" y="164.5" width="1.4" height="8.1" fill="#550000"/>
<rect x="147.6" y="172.4" width="1.4" height="8.1" fill="#6c0000"/>
<rect x="147.6" y="180.3" width="1.4" height="8.1" fill="#5d0000"/>
<rect x="147.6" y="188.2" width="1.4" height="8.1" fill="#430000"/>
<rect x="147.6" y="196.1" width="1.4" height="8.1" fill="#610000"/>
<rect x="147.6" y="204.0" width="1.4" height="8.1" fill="#7c0000"/>
<rect x="147.6" y="211.9" width="1.4" height="8.1" fill="#420000"/>
<rect x="147.6" y="219.8" width="1.4" height="8.1" fill="#062023"/>
<rect x="147.6" y="227.7" width="1.4" height="8.1" fill="#270000"/>
<rect x="147.6" y="235.6" width="1.4" height="8.1" fill="#2b0000"/>
<rect x="147.6" y="243.5" width="1.4" height="8.1" fill="#240000"/>
<rect x="147.6" y="251.4" width="1.4" height="8.1" fill="#310000"/>
<rect x="148.7" y="53.9" width="1.4" height="8.1" fill="#200000"/>
<rect x="148.7" y="61.8" width="1.4" height="8.1" fill="#105962"/>
<rect x="148.7" y="69.7" width="1.4" height="8.1" fill="#0b3b42"/>
<rect x="148.7" y="77.6" width="1.4" height="8.1" fill="#0a0000"/>
<rect x="148.7" y="85.5" width="1.4" height="8.1" fill="#4e0000"/>
<rect x="148.7" y="93.4" width="1.4" height="8.1" fill="#2e0000"/>
<rect x="148.7" y="101.3" width="1.4" height="8.1" fill="#040000"/>
<rect x="148.7" y="109.2" width="1.4" height="8.1" fill="#092f35"/>
<rect x="148.7" y="117.1" width="1.4" height="8.1" fill="#0e4e56"/>
<rect x="148.7" y="125.0" width="1.4" height="8.1" fill="#500000"/>
<rect x="148.7" y="132.9" width="1.4" height="8.1" fill="#710000"/>
<rect x="148.7" y="140.8" width="1.4" height="8.1" fill="#7a0000"/>
<rect x="148.7" y="148.7" width="1.4" height="8.1" fill="#960000"/>
<rect x="148.7" y="156.6" width="1.4" height="8.1" fill="#450000"/>
<rect x="148.7" y="164.5" width="1.4" height="8.1" fill="#620000"/>
<rect x="148.7" y="172.4" width="1.4" height="8.1" fill="#4d0000"/>
<rect x="148.7" y="180.3" width="1.4" height="8.1" fill="#5c0000"/>
<rect x="148.7" y="188.2" width="1.4" height="8.1" fill="#240000"/>
<rect x="148.7" y="196.1" width="1.4" height="8.1" fill="#4d0000"/>
<rect x="148.7" y="204.0" width="1.4" height="8.1" fill="#6d0000"/>
<rect x="148.7" y="211.9" width="1.4" height="8.1" fill="#a40000"/>
<rect x="148.7" y="219.8" width="1.4" height="8.1" fill="#800000"/>
<rect x="148.7" y="227.7" width="1.4" height="8.1" fill="#7b0000"/>
<rect x="148.7" y="235.6" width="1.4" height="8.1" fill="#580000"/>
<rect x="148.7" y="243.5" width="1.4" height="8.1" fill="#190000"/>
<rect x="148.7" y="251.4" width="1.4" height="8.1" fill="#2a0000"/>
<rect x="149.9" y="53.9" width="1.4" height="8.1" fill="#07282d"/>
<rect x="149.9" y="61.8" width="1.4" height="8.1" fill="#093136"/>
<rect x="149.9" y="69.7" width="1.4" height="8.1" fill="#0a383e"/>
<rect x="149.9" y="77.6" width="1.4" height="8.1" fill="#0e4b53"/>
<rect x="149.9" y="85.5" width="1.4" height="8.1" fill="#031315"/>
<rect x="149.9" y="93.4" width="1.4" height="8.1" fill="#157380"/>
<rect x="149.9" y="101.3" width="1.4" height="8.1" fill="#1ea1b3"/>
<rect x="149.9" y="109.2" width="1.4" height="8.1" fill="#188290"/>
<rect x="149.9" y="117.1" width="1.4" height="8.1" fill="#198897"/>
<rect x="149.9" y="125.0" width="1.4" height="8.1" fill="#210000"/>
<rect x="149.9" y="132.9" width="1.4" height="8.1" fill="#031113"/>
<rect x="149.9" y="140.8" width="1.4" height="8.1" fill="#000001"/>
<rect x="149.9" y="148.7" width="1.4" height="8.1" fill="#460000"/>
<rect x="149.9" y="156.6" width="1.4" height="8.1" fill="#2c0000"/>
<rect x="149.9" y="164.5" width="1.4" height="8.1" fill="#093339"/>
<rect x="149.9" y="172.4" width="1.4" height="8.1" fill="#000404"/>
<rect x="149.9" y="180.3" width="1.4" height="8.1" fill="#0d0000"/>
<rect x="149.9" y="188.2" width="1.4" height="8.1" fill="#093136"/>
<rect x="149.9" y="196.1" width="1.4" height="8.1" fill="#2f0000"/>
<rect x="149.9" y="204.0" width="1.4" height="8.1" fill="#600000"/>
<rect x="149.9" y="211.9" width="1.4" height="8.1" fill="#590000"/>
<rect x="149.9" y="219.8" width="1.4" height="8.1" fill="#2a0000"/>
<rect x="149.9" y="227.7" width="1.4" height="8.1" fill="#480000"/>
<rect x="149.9" y="235.6" width="1.4" height="8.1" fill="#140000"/>
<rect x="149.9" y="243.5" width="1.4" height="8.1" fill="#010708"/>
<rect x="149.9" y="251.4" width="1.4" height="8.1" fill="#340000"/>
<rect x="151.0" y="53.9" width="1.4" height="8.1" fill="#000405"/>
<rect x="151.0" y="61.8" width="1.4" height="8.1" fill="#136975"/>
<rect x="151.0" y="69.7" width="1.4" height="8.1" fill="#031416"/>
<rect x="151.0" y="77.6" width="1.4" height="8.1" fill="#04181a"/>
<rect x="151.0" y="85.5" width="1.4" height="8.1" fill="#420000"/>
<rect x="151.0" y="93.4" width="1.4" height="8.1" fill="#031315"/>
<rect x="151.0" y="101.3" width="1.4" height="8.1" fill="#0b3c42"/>
<rect x="151.0" y="109.2" width="1.4" height="8.1" fill="#062427"/>
<rect x="151.0" y="117.1" width="1.4" height="8.1" fill="#000202"/>
<rect x="151.0" y="125.0" width="1.4" height="8.1" fill="#c70000"/>
<rect x="151.0" y="132.9" width="1.4" height="8.1" fill="#990000"/>
<rect x="151.0" y="140.8" width="1.4" height="8.1" fill="#a60000"/>
<rect x="151.0" y="148.7" width="1.4" height="8.1" fill="#750000"/>
<rect x="151.0" y="156.6" width="1.4" height="8.1" fill="#910000"/>
<rect x="151.0" y="164.5" width="1.4" height="8.1" fill="#07292d"/>
<rect x="151.0" y="172.4" width="1.4" height="8.1" fill="#220000"/>
<rect x="151.0" y="180.3" width="1.4" height="8.1" fill="#000303"/>
<rect x="151.0" y="188.2" width="1.4" height="8.1" fill="#300000"/>
<rect x="151.0" y="196.1" width="1.4" height="8.1" fill="#0b3e45"/>
<rect x="151.0" y="204.0" width="1.4" height="8.1" fill="#440000"/>
<rect x="151.0" y="211.9" width="1.4" height="8.1" fill="#410000"/>
<rect x="151.0" y="219.8" width="1.4" height="8.1" fill="#0c0000"/>
<rect x="151.0" y="227.7" width="1.4" height="8.1" fill="#210000"/>
<rect x="151.0" y="235.6" width="1.4" height="8.1" fill="#480000"/>
<rect x="151.0" y="243.5" width="1.4" height="8.1" fill="#2b0000"/>
<rect x="151.0" y="251.4" width="1.4" height="8.1" fill="#630000"/>
<rect x="155.0" y="53.9" width="1.7" height="8.1" fill="#400000"/>
<rect x="155.0" y="61.8" width="1.7" height="8.1" fill="#8f0000"/>
<rect x="155.0" y="69.7" width="1.7" height="8.1" fill="#210000"/>
<rect x="155.0" y="77.6" width="1.7" height="8.1" fill="#010000"/>
<rect x="155.0" y="85.5" width="1.7" height="8.1" fill="#160000"/>
<rect x="155.0" y="93.4" width="1.7" height="8.1" fill="#040000"/>
<rect x="155.0" y="101.3" width="1.7" height="8.1" fill="#7d0000"/>
<rect x="155.0" y="109.2" width="1.7" height="8.1" fill="#8d0000"/>
<rect x="155.0" y="117.1" width="1.7" height="8.1" fill="#a20000"/>
<rect x="155.0" y="125.0" width="1.7" height="8.1" fill="#320000"/>
<rect x="155.0" y="132.9" width="1.7" height="8.1" fill="#0b3e45"/>
<rect x="155.0" y="140.8" width="1.7" height="8.1" fill="#010708"/>
<rect x="155.0" y="148.7" width="1.7" height="8.1" fill="#04191b"/>
<rect x="155.0" y="156.6" width="1.7" height="8.1" fill="#0d444c"/>
<rect x="155.0" y="164.5" width="1.7" height="8.1" fill="#12616c"/>
<rect x="155.0" y="172.4" width="1.7" height="8.1" fill="#18808e"/>
<rect x="155.0" y="180.3" width="1.7" height="8.1" fill="#146d79"/>
<rect x="155.0" y="188.2" width="1.7" height="8.1" fill="#0d484f"/>
<rect x="155.0" y="196.1" width="1.7" height="8.1" fill="#050000"/>
<rect x="155.0" y="204.0" width="1.7" height="8.1" fill="#0a383e"/>
<rect x="155.0" y="211.9" width="1.7" height="8.1" fill="#01090a"/>
<rect x="155.0" y="219.8" width="1.7" height="8.1" fill="#160000"/>
<rect x="155.0" y="227.7" width="1.7" height="8.1" fill="#150000"/>
<rect x="155.0" y="235.6" width="1.7" height="8.1" fill="#01090a"/>
<rect x="155.0" y="243.5" width="1.7" height="8.1" fill="#093339"/>
<rect x="155.0" y="251.4" width="1.7" height="8.1" fill="#040000"/>
<rect x="156.5" y="53.9" width="1.7" height="8.1" fill="#062327"/>
<rect x="156.5" y="61.8" width="1.7" height="8.1" fill="#1f0000"/>
<rect x="156.5" y="69.7" width="1.7" height="8.1" fill="#190000"/>
<rect x="156.5" y="77.6" width="1.7" height="8.1" fill="#9f0000"/>
<rect x="156.5" y="85.5" width="1.7" height="8.1" fill="#c50000"/>
<rect x="156.5" y="93.4" width="1.7" height="8.1" fill="#960000"/>
<rect x="156.5" y="101.3" width="1.7" height="8.1" fill="#620000"/>
<rect x="156.5" y="109.2" width="1.7" height="8.1" fill="#7e0000"/>
<rect x="156.5" y="117.1" width="1.7" height="8.1" fill="#680000"/>
<rect x="156.5" y="125.0" width="1.7" height="8.1" fill="#230000"/>
<rect x="156.5" y="132.9" width="1.7" height="8.1" fill="#051c1f"/>
<rect x="156.5" y="140.8" width="1.7" height="8.1" fill="#115c66"/>
<rect x="156.5" y="148.7" width="1.7" height="8.1" fill="#1fa5b7"/>
<rect x="156.5" y="156.6" width="1.7" height="8.1" fill="#21b2c6"/>
<rect x="156.5" y="164.5" width="1.7" height="8.1" fill="#23b9cd"/>
<rect x="156.5" y="172.4" width="1.7" height="8.1" fill="#177a87"/>
<rect x="156.5" y="180.3" width="1.7" height="8.1" fill="#0a353b"/>
<rect x="156.5" y="188.2" width="1.7" height="8.1" fill="#1c0000"/>
<rect x="156.5" y="196.1" width="1.7" height="8.1" fill="#050000"/>
<rect x="156.5" y="204.0" width="1.7" height="8.1" fill="#4d0000"/>
<rect x="156.5" y="211.9" width="1.7" height="8.1" fill="#600000"/>
<rect x="156.5" y="219.8" width="1.7" height="8.1" fill="#320000"/>
<rect x="156.5" y="227.7" width="1.7" height="8.1" fill="#062023"/>
<rect x="156.5" y="235.6" width="1.7" height="8.1" fill="#051b1d"/>
<rect x="156.5" y="243.5" width="1.7" height="8.1" fill="#04171a"/>
<rect x="156.5" y="251.4" width="1.7" height="8.1" fill="#0c3f46"/>
<rect x="158.0" y="53.9" width="1.7" height="8.1" fill="#210000"/>
<rect x="158.0" y="61.8" width="1.7" height="8.1" fill="#0c444b"/>
<rect x="158.0" y="69.7" width="1.7" height="8.1" fill="#031416"/>
<rect x="158.0" y="77.6" width="1.7" height="8.1" fill="#010606"/>
<rect x="158.0" y="85.5" width="1.7" height="8.1" fill="#390000"/>
<rect x="158.0" y="93.4" width="1.7" height="8.1" fill="#030000"/>
<rect x="158.0" y="101.3" width="1.7" height="8.1" fill="#340000"/>
<rect x="158.0" y="109.2" width="1.7" height="8.1" fill="#020a0c"/>
<rect x="158.0" y="117.1" width="1.7" height="8.1" fill="#093136"/>
<rect x="158.0" y="125.0" width="1.7" height="8.1" fill="#177986"/>
<rect x="158.0" y="132.9" width="1.7" height="8.1" fill="#136570"/>
<rect x="158.0" y="140.8" width="1.7" height="8.1" fill="#146b77"/>
<rect x="158.0" y="148.7" width="1.7" height="8.1" fill="#04191c"/>
<rect x="158.0" y="156.6" width="1.7" height="8.1" fill="#051d20"/>
<rect x="158.0" y="164.5" width="1.7" height="8.1" fill="#0b3e45"/>
<rect x="158.0" y="172.4" width="1.7" height="8.1" fill="#031214"/>
<rect x="158.0" y="180.3" width="1.7" height="8.1" fill="#230000"/>
<rect x="158.0" y="188.2" width="1.7" height="8.1" fill="#031012"/>
<rect x="158.0" y="196.1" width="1.7" height="8.1" fill="#2f0000"/>
<rect x="158.0" y="204.0" width="1.7" height="8.1" fill="#000000"/>
<rect x="158.0" y="211.9" width="1.7" height="8.1" fill="#020c0d"/>
<rect x="158.0" y="219.8" width="1.7" height="8.1" fill="#0b3c43"/>
<rect x="158.0" y="227.7" width="1.7" height="8.1" fill="#031416"/>
<rect x="158.0" y="235.6" width="1.7" height="8.1" fill="#040000"/>
<rect x="158.0" y="243.5" width="1.7" height="8.1" fill="#120000"/>
<rect x="158.0" y="251.4" width="1.7" height="8.1" fill="#110000"/>
<rect x="159.5" y="53.9" width="1.7" height="8.1" fill="#c90000"/>
<rect x="159.5" y="61.8" width="1.7" height="8.1" fill="#850000"/>
<rect x="159.5" y="69.7" width="1.7" height="8.1" fill="#6f0000"/>
<rect x="159.5" y="77.6" width="1.7" height="8.1" fill="#b80000"/>
<rect x="159.5" y="85.5" width="1.7" height="8.1" fill="#d10000"/>
<rect x="159.5" y="93.4" width="1.7" height="8.1" fill="#f70000"/>
<rect x="159.5" y="101.3" width="1.7" height="8.1" fill="#6c0000"/>
<rect x="159.5" y="109.2" width="1.7" height="8.1" fill="#a80000"/>
<rect x="159.5" y="117.1" width="1.7" height="8.1" fill="#b20000"/>
<rect x="159.5" y="125.0" width="1.7" height="8.1" fill="#270000"/>
<rect x="159.5" y="132.9" width="1.7" height="8.1" fill="#5b0000"/>
<rect x="159.5" y="140.8" width="1.7" height="8.1" fill="#590000"/>
<rect x="159.5" y="148.7" width="1.7" height="8.1" fill="#6b0000"/>
<rect x="159.5" y="156.6" width="1.7" height="8.1" fill="#8a0000"/>
<rect x="159.5" y="164.5" width="1.7" height="8.1" fill="#420000"/>
<rect x="159.5" y="172.4" width="1.7" height="8.1" fill="#3c0000"/>
<rect x="159.5" y="180.3" width="1.7" height="8.1" fill="#270000"/>
<rect x="159.5" y="188.2" width="1.7" height="8.1" fill="#4d0000"/>
<rect x="159.5" y="196.1" width="1.7" height="8.1" fill="#5f0000"/>
<rect x="159.5" y="204.0" width="1.7" height="8.1" fill="#060000"/>
<rect x="159.5" y="211.9" width="1.7" height="8.1" fill="#031416"/>
<rect x="159.5" y="219.8" width="1.7" height="8.1" fill="#031113"/>
<rect x="159.5" y="227.7" width="1.7" height="8.1" fill="#060000"/>
<rect x="159.5" y="235.6" width="1.7" height="8.1" fill="#082a2f"/>
<rect x="159.5" y="243.5" width="1.7" height="8.1" fill="#031315"/>
<rect x="159.5" y="251.4" width="1.7" height="8.1" fill="#390000"/>
<rect x="161.0" y="53.9" width="1.7" height="8.1" fill="#060000"/>
<rect x="161.0" y="61.8" width="1.7" height="8.1" fill="#146b76"/>
<rect x="161.0" y="69.7" width="1.7" height="8.1" fill="#020c0d"/>
<rect x="161.0" y="77.6" width="1.7" height="8.1" fill="#136570"/>
<rect x="161.0" y="85.5" width="1.7" height="8.1" fill="#230000"/>
<rect x="161.0" y="93.4" width="1.7" height="8.1" fill="#2f0000"/>
<rect x="161.0" y="101.3" width="1.7" height="8.1" fill="#3e0000"/>
<rect x="161.0" y="109.2" width="1.7" height="8.1" fill="#020c0d"/>
<rect x="161.0" y="117.1" width="1.7" height="8.1" fill="#0f0000"/>
<rect x="161.0" y="125.0" width="1.7" height="8.1" fill="#10565f"/>
<rect x="161.0" y="132.9" width="1.7" height="8.1" fill="#0a373d"/>
<rect x="161.0" y="140.8" width="1.7" height="8.1" fill="#13646f"/>
<rect x="161.0" y="148.7" width="1.7" height="8.1" fill="#146b77"/>
<rect x="161.0" y="156.6" width="1.7" height="8.1" fill="#1b90a0"/>
<rect x="161.0" y="164.5" width="1.7" height="8.1" fill="#1a8a99"/>
<rect x="161.0" y="172.4" width="1.7" height="8.1" fill="#0e4c55"/>
<rect x="161.0" y="180.3" width="1.7" height="8.1" fill="#12646e"/>
<rect x="161.0" y="188.2" width="1.7" height="8.1" fill="#10565f"/>
<rect x="161.0" y="196.1" width="1.7" height="8.1" fill="#23b9cd"/>
<rect x="161.0" y="204.0" width="1.7" height="8.1" fill="#167783"/>
<rect x="161.0" y="211.9" width="1.7" height="8.1" fill="#21aec1"/>
<rect x="161.0" y="219.8" width="1.7" height="8.1" fill="#23b9cd"/>
<rect x="161.0" y="227.7" width="1.7" height="8.1" fill="#1c98a8"/>
<rect x="161.0" y="235.6" width="1.7" height="8.1" fill="#23b9cd"/>
<rect x="161.0" y="243.5" width="1.7" height="8.1" fill="#07282c"/>
<rect x="161.0" y="251.4" width="1.7" height="8.1" fill="#0f515a"/>
<rect x="162.6" y="53.9" width="1.7" height="8.1" fill="#2c0000"/>
<rect x="162.6" y="61.8" width="1.7" height="8.1" fill="#2c0000"/>
<rect x="162.6" y="69.7" width="1.7" height="8.1" fill="#230000"/>
<rect x="162.6" y="77.6" width="1.7" height="8.1" fill="#230000"/>
<rect x="162.6" y="85.5" width="1.7" height="8.1" fill="#940000"/>
<rect x="162.6" y="93.4" width="1.7" height="8.1" fill="#920000"/>
<rect x="162.6" y="101.3" width="1.7" height="8.1" fill="#460000"/>
<rect x="162.6" y="109.2" width="1.7" height="8.1" fill="#440000"/>
<rect x="162.6" y="117.1" width="1.7" height="8.1" fill="#09343a"/>
<rect x="162.6" y="125.0" width="1.7" height="8.1" fill="#01090b"/>
<rect x="162.6" y="132.9" width="1.7" height="8.1" fill="#146e7a"/>
<rect x="162.6" y="140.8" width="1.7" height="8.1" fill="#167582"/>
<rect x="162.6" y="148.7" width="1.7" height="8.1" fill="#12606a"/>
<rect x="162.6" y="156.6" width="1.7" height="8.1" fill="#0c434a"/>
<rect x="162.6" y="164.5" width="1.7" height="8.1" fill="#146d79"/>
<rect x="162.6" y="172.4" width="1.7" height="8.1" fill="#177d8a"/>
<rect x="162.6" y="180.3" width="1.7" height="8.1" fill="#198694"/>
<rect x="162.6" y="188.2" width="1.7" height="8.1" fill="#23b9cd"/>
<rect x="162.6" y="196.1" width="1.7" height="8.1" fill="#22b6ca"/>
<rect x="162.6" y="204.0" width="1.7" height="8.1" fill="#12646f"/>
<rect x="162.6" y="211.9" width="1.7" height="8.1" fill="#062024"/>
<rect x="162.6" y="219.8" width="1.7" height="8.1" fill="#0a393f"/>
<rect x="162.6" y="227.7" width="1.7" height="8.1" fill="#177b88"/>
<rect x="162.6" y="235.6" width="1.7" height="8.1" fill="#093338"/>
<rect x="162.6" y="243.5" width="1.7" height="8.1" fill="#082a2f"/>
<rect x="162.6" y="251.4" width="1.7" height="8.1" fill="#000000"/>
<rect x="164.1" y="53.9" width="1.7" height="8.1" fill="#000405"/>
<rect x="164.1" y="61.8" width="1.7" height="8.1" fill="#080000"/>
<rect x="164.1" y="69.7" width="1.7" height="8.1" fill="#070000"/>
<rect x="164.1" y="77.6" width="1.7" height="8.1" fill="#240000"/>
<rect x="164.1" y="85.5" width="1.7" height="8.1" fill="#1a0000"/>
<rect x="164.1" y="93.4" width="1.7" height="8.1" fill="#160000"/>
<rect x="164.1" y="101.3" width="1.7" height="8.1" fill="#0a0000"/>
<rect x="164.1" y="109.2" width="1.7" height="8.1" fill="#620000"/>
<rect x="164.1" y="117.1" width="1.7" height="8.1" fill="#500000"/>
<rect x="164.1" y="125.0" width="1.7" height="8.1" fill="#062428"/>
<rect x="164.1" y="132.9" width="1.7" height="8.1" fill="#1c97a7"/>
<rect x="164.1" y="140.8" width="1.7" height="8.1" fill="#12646f"/>
<rect x="164.1" y="148.7" width="1.7" height="8.1" fill="#177e8c"/>
<rect x="164.1" y="156.6" width="1.7" height="8.1" fill="#23b9cd"/>
<rect x="164.1" y="164.5" width="1.7" height="8.1" fill="#1b93a3"/>
<rect x="164.1" y="172.4" width="1.7" height="8.1" fill="#1ea2b4"/>
<rect x="164.1" y="180.3" width="1.7" height="8.1" fill="#198493"/>
<rect x="164.1" y="188.2" width="1.7" height="8.1" fill="#146e7a"/>
<rect x="164.1" y="196.1" width="1.7" height="8.1" fill="#167480"/>
<rect x="164.1" y="204.0" width="1.7" height="8.1" fill="#1b91a1"/>
<rect x="164.1" y="211.9" width="1.7" height="8.1" fill="#18818f"/>
<rect x="164.1" y="219.8" width="1.7" height="8.1" fill="#290000"/>
<rect x="164.1" y="227.7" width="1.7" height="8.1" fill="#0e4c55"/>
<rect x="164.1" y="235.6" width="1.7" height="8.1" fill="#1a8e9d"/>
<rect x="164.1" y="243.5" width="1.7" height="8.1" fill="#167885"/>
<rect x="164.1" y="251.4" width="1.7" height="8.1" fill="#21aec1"/>
<rect x="165.6" y="53.9" width="1.7" height="8.1" fill="#0a353b"/>
<rect x="165.6" y="61.8" width="1.7" height="8.1" fill="#150000"/>
<rect x="165.6" y="69.7" width="1.7" height="8.1" fill="#160000"/>
<rect x="165.6" y="77.6" width="1.7" height="8.1" fill="#3f0000"/>
<rect x="165.6" y="85.5" width="1.7" height="8.1" fill="#300000"/>
<rect x="165.6" y="93.4" width="1.7" height="8.1" fill="#420000"/>
<rect x="165.6" y="101.3" width="1.7" height="8.1" fill="#470000"/>
<rect x="165.6" y="109.2" width="1.7" height="8.1" fill="#136570"/>
<rect x="165.6" y="117.1" width="1.7" height="8.1" fill="#062327"/>
<rect x="165.6" y="125.0" width="1.7" height="8.1" fill="#115a64"/>
<rect x="165.6" y="132.9" width="1.7" height="8.1" fill="#198695"/>
<rect x="165.6" y="140.8" width="1.7" height="8.1" fill="#146a75"/>
<rect x="165.6" y="148.7" width="1.7" height="8.1" fill="#167885"/>
<rect x="165.6" y="156.6" width="1.7" height="8.1" fill="#0d444c"/>
<rect x="165.6" y="164.5" width="1.7" height="8.1" fill="#093237"/>
<rect x="165.6" y="172.4" width="1.7" height="8.1" fill="#188290"/>
<rect x="165.6" y="180.3" width="1.7" height="8.1" fill="#0c4047"/>
<rect x="165.6" y="188.2" width="1.7" height="8.1" fill="#1d99aa"/>
<rect x="165.6" y="196.1" width="1.7" height="8.1" fill="#105761"/>
<rect x="165.6" y="204.0" width="1.7" height="8.1" fill="#060000"/>
<rect x="165.6" y="211.9" width="1.7" height="8.1" fill="#1b0000"/>
<rect x="165.6" y="219.8" width="1.7" height="8.1" fill="#082d31"/>
<rect x="165.6" y="227.7" width="1.7" height="8.1" fill="#080000"/>
<rect x="165.6" y="235.6" width="1.7" height="8.1" fill="#330000"/>
<rect x="165.6" y="243.5" width="1.7" height="8.1" fill="#290000"/>
<rect x="165.6" y="251.4" width="1.7" height="8.1" fill="#020a0b"/>
<rect x="167.1" y="53.9" width="1.7" height="8.1" fill="#7c0000"/>
<rect x="167.1" y="61.8" width="1.7" height="8.1" fill="#3f0000"/>
<rect x="167.1" y="69.7" width="1.7" height="8.1" fill="#550000"/>
<rect x="167.1" y="77.6" width="1.7" height="8.1" fill="#650000"/>
<rect x="167.1" y="85.5" width="1.7" height="8.1" fill="#9e0000"/>
<rect x="167.1" y="93.4" width="1.7" height="8.1" fill="#ff0000"/>
<rect x="167.1" y="101.3" width="1.7" height="8.1" fill="#f50000"/>
<rect x="167.1" y="109.2" width="1.7" height="8.1" fill="#ff0000"/>
<rect x="167.1" y="117.1" width="1.7" height="8.1" fill="#770000"/>
<rect x="167.1" y="125.0" width="1.7" height="8.1" fill="#010000"/>
<rect x="167.1" y="132.9" width="1.7" height="8.1" fill="#060000"/>
<rect x="167.1" y="140.8" width="1.7" height="8.1" fill="#1d0000"/>
<rect x="167.1" y="148.7" width="1.7" height="8.1" fill="#830000"/>
<rect x="167.1" y="156.6" width="1.7" height="8.1" fill="#900000"/>
<rect x="167.1" y="164.5" width="1.7" height="8.1" fill="#1b0000"/>
<rect x="167.1" y="172.4" width="1.7" height="8.1" fill="#400000"/>
<rect x="167.1" y="180.3" width="1.7" height="8.1" fill="#070000"/>
<rect x="167.1" y="188.2" width="1.7" height="8.1" fill="#01090a"/>
<rect x="167.1" y="196.1" width="1.7" height="8.1" fill="#0a0000"/>
<rect x="167.1" y="204.0" width="1.7" height="8.1" fill="#090000"/>
<rect x="167.1" y="211.9" width="1.7" height="8.1" fill="#1a0000"/>
<rect x="167.1" y="219.8" width="1.7" height="8.1" fill="#1c0000"/>
<rect x="167.1" y="227.7" width="1.7" height="8.1" fill="#380000"/>
<rect x="167.1" y="235.6" width="1.7" height="8.1" fill="#170000"/>
<rect x="167.1" y="243.5" width="1.7" height="8.1" fill="#300000"/>
<rect x="167.1" y="251.4" width="1.7" height="8.1" fill="#000101"/>
<rect x="168.6" y="53.9" width="1.7" height="8.1" fill="#041a1d"/>
<rect x="168.6" y="61.8" width="1.7" height="8.1" fill="#031416"/>
<rect x="168.6" y="69.7" width="1.7" height="8.1" fill="#370000"/>
<rect x="168.6" y="77.6" width="1.7" height="8.1" fill="#460000"/>
<rect x="168.6" y="85.5" width="1.7" height="8.1" fill="#550000"/>
<rect x="168.6" y="93.4" width="1.7" height="8.1" fill="#5b0000"/>
<rect x="168.6" y="101.3" width="1.7" height="8.1" fill="#1d0000"/>
<rect x="168.6" y="109.2" width="1.7" height="8.1" fill="#051c1f"/>
<rect x="168.6" y="117.1" width="1.7" height="8.1" fill="#450000"/>
<rect x="168.6" y="125.0" width="1.7" height="8.1" fill="#020d0f"/>
<rect x="168.6" y="132.9" width="1.7" height="8.1" fill="#031012"/>
<rect x="168.6" y="140.8" width="1.7" height="8.1" fill="#062023"/>
<rect x="168.6" y="148.7" width="1.7" height="8.1" fill="#050000"/>
<rect x="168.6" y="156.6" width="1.7" height="8.1" fill="#0e4d56"/>
<rect x="168.6" y="164.5" width="1.7" height="8.1" fill="#031011"/>
<rect x="168.6" y="172.4" width="1.7" height="8.1" fill="#1a8a99"/>
<rect x="168.6" y="180.3" width="1.7" height="8.1" fill="#0f525b"/>
<rect x="168.6" y="188.2" width="1.7" height="8.1" fill="#010607"/>
<rect x="168.6" y="196.1" width="1.7" height="8.1" fill="#010809"/>
<rect x="168.6" y="204.0" width="1.7" height="8.1" fill="#031417"/>
<rect x="168.6" y="211.9" width="1.7" height="8.1" fill="#0d464e"/>
<rect x="168.6" y="219.8" width="1.7" height="8.1" fill="#110000"/>
<rect x="168.6" y="227.7" width="1.7" height="8.1" fill="#031214"/>
<rect x="168.6" y="235.6" width="1.7" height="8.1" fill="#010000"/>
<rect x="168.6" y="243.5" width="1.7" height="8.1" fill="#2a0000"/>
<rect x="168.6" y="251.4" width="1.7" height="8.1" fill="#031416"/>
<rect x="170.1" y="53.9" width="1.7" height="8.1" fill="#230000"/>
<rect x="170.1" y="61.8" width="1.7" height="8.1" fill="#540000"/>
<rect x="170.1" y="69.7" width="1.7" height="8.1" fill="#3d0000"/>
<rect x="170.1" y="77.6" width="1.7" height="8.1" fill="#3e0000"/>
<rect x="170.1" y="85.5" width="1.7" height="8.1" fill="#0e0000"/>
<rect x="170.1" y="93.4" width="1.7" height="8.1" fill="#270000"/>
<rect x="170.1" y="101.3" width="1.7" height="8.1" fill="#500000"/>
<rect x="170.1" y="109.2" width="1.7" height="8.1" fill="#4b0000"/>
<rect x="170.1" y="117.1" width="1.7" height="8.1" fill="#115c66"/>
<rect x="170.1" y="125.0" width="1.7" height="8.1" fill="#0e4f57"/>
<rect x="170.1" y="132.9" width="1.7" height="8.1" fill="#15707d"/>
<rect x="170.1" y="140.8" width="1.7" height="8.1" fill="#146c78"/>
<rect x="170.1" y="148.7" width="1.7" height="8.1" fill="#0e4f57"/>
<rect x="170.1" y="156.6" width="1.7" height="8.1" fill="#000404"/>
<rect x="170.1" y="164.5" width="1.7" height="8.1" fill="#1a8b9a"/>
<rect x="170.1" y="172.4" width="1.7" height="8.1" fill="#1c98a8"/>
<rect x="170.1" y="180.3" width="1.7" height="8.1" fill="#04171a"/>
<rect x="170.1" y="188.2" width="1.7" height="8.1" fill="#0f535c"/>
<rect x="170.1" y="196.1" width="1.7" height="8.1" fill="#080000"/>
<rect x="170.1" y="204.0" width="1.7" height="8.1" fill="#1e0000"/>
<rect x="170.1" y="211.9" width="1.7" height="8.1" fill="#0b3d44"/>
<rect x="170.1" y="219.8" width="1.7" height="8.1" fill="#092f34"/>
<rect x="170.1" y="227.7" width="1.7" height="8.1" fill="#051a1d"/>
<rect x="170.1" y="235.6" width="1.7" height="8.1" fill="#1c0000"/>
<rect x="170.1" y="243.5" width="1.7" height="8.1" fill="#0e0000"/>
<rect x="170.1" y="251.4" width="1.7" height="8.1" fill="#041618"/>
<rect x="171.6" y="53.9" width="1.7" height="8.1" fill="#7b0000"/>
<rect x="171.6" y="61.8" width="1.7" height="8.1" fill="#030000"/>
<rect x="171.6" y="69.7" width="1.7" height="8.1" fill="#1d0000"/>
<rect x="171.6" y="77.6" width="1.7" height="8.1" fill="#460000"/>
<rect x="171.6" y="85.5" width="1.7" height="8.1" fill="#4c0000"/>
<rect x="171.6" y="93.4" width="1.7" height="8.1" fill="#310000"/>
<rect x="171.6" y="101.3" width="1.7" height="8.1" fill="#4d0000"/>
<rect x="171.6" y="109.2" width="1.7" height="8.1" fill="#1d0000"/>
<rect x="171.6" y="117.1" width="1.7" height="8.1" fill="#041518"/>
<rect x="171.6" y="125.0" width="1.7" height="8.1" fill="#220000"/>
<rect x="171.6" y="132.9" width="1.7" height="8.1" fill="#3d0000"/>
<rect x="171.6" y="140.8" width="1.7" height="8.1" fill="#07272b"/>
<rect x="171.6" y="148.7" width="1.7" height="8.1" fill="#093238"/>
<rect x="171.6" y="156.6" width="1.7" height="8.1" fill="#050000"/>
<rect x="171.6" y="164.5" width="1.7" height="8.1" fill="#051f22"/>
<rect x="171.6" y="172.4" width="1.7" height="8.1" fill="#0c4149"/>
<rect x="171.6" y="180.3" width="1.7" height="8.1" fill="#0d4951"/>
<rect x="171.6" y="188.2" width="1.7" height="8.1" fill="#1ea1b2"/>
<rect x="171.6" y="196.1" width="1.7" height="8.1" fill="#136671"/>
<rect x="171.6" y="204.0" width="1.7" height="8.1" fill="#188290"/>
<rect x="171.6" y="211.9" width="1.7" height="8.1" fill="#146e7a"/>
<rect x="171.6" y="219.8" width="1.7" height="8.1" fill="#188290"/>
<rect x="171.6" y="227.7" width="1.7" height="8.1" fill="#146e7a"/>
<rect x="171.6" y="235.6" width="1.7" height="8.1" fill="#156f7b"/>
<rect x="171.6" y="243.5" width="1.7" height="8.1" fill="#0e4e56"/>
<rect x="171.6" y="251.4" width="1.7" height="8.1" fill="#082d32"/>
<rect x="173.1" y="53.9" width="1.7" height="8.1" fill="#156f7b"/>
<rect x="173.1" y="61.8" width="1.7" height="8.1" fill="#23b9cd"/>
<rect x="173.1" y="69.7" width="1.7" height="8.1" fill="#23b9cd"/>
<rect x="173.1" y="77.6" width="1.7" height="8.1" fill="#0d444c"/>
<rect x="173.1" y="85.5" width="1.7" height="8.1" fill="#09343a"/>
<rect x="173.1" y="93.4" width="1.7" height="8.1" fill="#01090a"/>
<rect x="173.1" y="101.3" width="1.7" height="8.1" fill="#1a8d9d"/>
<rect x="173.1" y="109.2" width="1.7" height="8.1" fill="#21b1c4"/>
<rect x="173.1" y="117.1" width="1.7" height="8.1" fill="#115c66"/>
<rect x="173.1" y="125.0" width="1.7" height="8.1" fill="#177b88"/>
<rect x="173.1" y="132.9" width="1.7" height="8.1" fill="#136671"/>
<rect x="173.1" y="140.8" width="1.7" height="8.1" fill="#177b89"/>
<rect x="173.1" y="148.7" width="1.7" height="8.1" fill="#167683"/>
<rect x="173.1" y="156.6" width="1.7" height="8.1" fill="#167683"/>
<rect x="173.1" y="164.5" width="1.7" height="8.1" fill="#1a8d9d"/>
<rect x="173.1" y="172.4" width="1.7" height="8.1" fill="#23b9cd"/>
<rect x="173.1" y="180.3" width="1.7" height="8.1" fill="#1b90a0"/>
<rect x="173.1" y="188.2" width="1.7" height="8.1" fill="#21b1c5"/>
<rect x="173.1" y="196.1" width="1.7" height="8.1" fill="#20acbe"/>
<rect x="173.1" y="204.0" width="1.7" height="8.1" fill="#22b3c7"/>
<rect x="173.1" y="211.9" width="1.7" height="8.1" fill="#198795"/>
<rect x="173.1" y="219.8" width="1.7" height="8.1" fill="#18808e"/>
<rect x="173.1" y="227.7" width="1.7" height="8.1" fill="#23b9cd"/>
<rect x="173.1" y="235.6" width="1.7" height="8.1" fill="#22b3c7"/>
<rect x="173.1" y="243.5" width="1.7" height="8.1" fill="#0e4d55"/>
<rect x="173.1" y="251.4" width="1.7" height="8.1" fill="#1b92a2"/>
<rect x="174.6" y="53.9" width="1.7" height="8.1" fill="#440000"/>
<rect x="174.6" y="61.8" width="1.7" height="8.1" fill="#7a0000"/>
<rect x="174.6" y="69.7" width="1.7" height="8.1" fill="#ce0000"/>
<rect x="174.6" y="77.6" width="1.7" height="8.1" fill="#ce0000"/>
<rect x="174.6" y="85.5" width="1.7" height="8.1" fill="#ff0000"/>
<rect x="174.6" y="93.4" width="1.7" height="8.1" fill="#ce0000"/>
<rect x="174.6" y="101.3" width="1.7" height="8.1" fill="#a90000"/>
<rect x="174.6" y="109.2" width="1.7" height="8.1" fill="#bb0000"/>
<rect x="174.6" y="117.1" width="1.7" height="8.1" fill="#800000"/>
<rect x="174.6" y="125.0" width="1.7" height="8.1" fill="#010505"/>
<rect x="174.6" y="132.9" width="1.7" height="8.1" fill="#040000"/>
<rect x="174.6" y="140.8" width="1.7" height="8.1" fill="#020a0b"/>
<rect x="174.6" y="148.7" width="1.7" height="8.1" fill="#020f11"/>
<rect x="174.6" y="156.6" width="1.7" height="8.1" fill="#062428"/>
<rect x="174.6" y="164.5" width="1.7" height="8.1" fill="#000203"/>
<rect x="174.6" y="172.4" width="1.7" height="8.1" fill="#010607"/>
<rect x="174.6" y="180.3" width="1.7" height="8.1" fill="#01090a"/>
<rect x="174.6" y="188.2" width="1.7" height="8.1" fill="#082d32"/>
<rect x="174.6" y="196.1" width="1.7" height="8.1" fill="#093237"/>
<rect x="174.6" y="204.0" width="1.7" height="8.1" fill="#12616b"/>
<rect x="174.6" y="211.9" width="1.7" height="8.1" fill="#062125"/>
<rect x="174.6" y="219.8" width="1.7" height="8.1" fill="#030000"/>
<rect x="174.6" y="227.7" width="1.7" height="8.1" fill="#072529"/>
<rect x="174.6" y="235.6" width="1.7" height="8.1" fill="#041619"/>
<rect x="174.6" y="243.5" width="1.7" height="8.1" fill="#2b0000"/>
<rect x="174.6" y="251.4" width="1.7" height="8.1" fill="#230000"/>
<rect x="176.2" y="53.9" width="1.7" height="8.1" fill="#2d0000"/>
<rect x="176.2" y="61.8" width="1.7" height="8.1" fill="#680000"/>
<rect x="176.2" y="69.7" width="1.7" height="8.1" fill="#082c31"/>
<rect x="176.2" y="77.6" width="1.7" height="8.1" fill="#0f5058"/>
<rect x="176.2" y="85.5" width="1.7" height="8.1" fill="#100000"/>
<rect x="176.2" y="93.4" width="1.7" height="8.1" fill="#330000"/>
<rect x="176.2" y="101.3" width="1.7" height="8.1" fill="#520000"/>
<rect x="176.2" y="109.2" width="1.7" height="8.1" fill="#7c0000"/>
<rect x="176.2" y="117.1" width="1.7" height="8.1" fill="#130000"/>
<rect x="176.2" y="125.0" width="1.7" height="8.1" fill="#062124"/>
<rect x="176.2" y="132.9" width="1.7" height="8.1" fill="#01090a"/>
<rect x="176.2" y="140.8" width="1.7" height="8.1" fill="#115c66"/>
<rect x="176.2" y="148.7" width="1.7" height="8.1" fill="#010000"/>
<rect x="176.2" y="156.6" width="1.7" height="8.1" fill="#198896"/>
<rect x="176.2" y="164.5" width="1.7" height="8.1" fill="#167784"/>
<rect x="176.2" y="172.4" width="1.7" height="8.1" fill="#130000"/>
<rect x="176.2" y="180.3" width="1.7" height="8.1" fill="#07282d"/>
<rect x="176.2" y="188.2" width="1.7" height="8.1" fill="#0a353b"/>
<rect x="176.2" y="196.1" width="1.7" height="8.1" fill="#07292e"/>
<rect x="176.2" y="204.0" width="1.7" height="8.1" fill="#0e4b53"/>
<rect x="176.2" y="211.9" width="1.7" height="8.1" fill="#051f23"/>
<rect x="176.2" y="219.8" width="1.7" height="8.1" fill="#031012"/>
<rect x="176.2" y="227.7" width="1.7" height="8.1" fill="#0f545d"/>
<rect x="176.2" y="235.6" width="1.7" height="8.1" fill="#2b0000"/>
<rect x="176.2" y="243.5" width="1.7" height="8.1" fill="#380000"/>
<rect x="176.2" y="251.4" width="1.7" height="8.1" fill="#093439"/>
<rect x="177.7" y="53.9" width="1.7" height="8.1" fill="#146b77"/>
<rect x="177.7" y="61.8" width="1.7" height="8.1" fill="#062125"/>
<rect x="177.7" y="69.7" width="1.7" height="8.1" fill="#198795"/>
<rect x="177.7" y="77.6" width="1.7" height="8.1" fill="#1a8a99"/>
<rect x="177.7" y="85.5" width="1.7" height="8.1" fill="#12626d"/>
<rect x="177.7" y="93.4" width="1.7" height="8.1" fill="#0b3a41"/>
<rect x="177.7" y="101.3" width="1.7" height="8.1" fill="#210000"/>
<rect x="177.7" y="109.2" width="1.7" height="8.1" fill="#12606b"/>
<rect x="177.7" y="117.1" width="1.7" height="8.1" fill="#198796"/>
<rect x="177.7" y="125.0" width="1.7" height="8.1" fill="#082f34"/>
<rect x="177.7" y="132.9" width="1.7" height="8.1" fill="#23b9cd"/>
<rect x="177.7" y="140.8" width="1.7" height="8.1" fill="#1ea2b4"/>
<rect x="177.7" y="148.7" width="1.7" height="8.1" fill="#198492"/>
<rect x="177.7" y="156.6" width="1.7" height="8.1" fill="#115a64"/>
<rect x="177.7" y="164.5" width="1.7" height="8.1" fill="#1e9fb0"/>
<rect x="177.7" y="172.4" width="1.7" height="8.1" fill="#177987"/>
<rect x="177.7" y="180.3" width="1.7" height="8.1" fill="#0c4148"/>
<rect x="177.7" y="188.2" width="1.7" height="8.1" fill="#15717d"/>
<rect x="177.7" y="196.1" width="1.7" height="8.1" fill="#115b65"/>
<rect x="177.7" y="204.0" width="1.7" height="8.1" fill="#1fa5b7"/>
<rect x="177.7" y="211.9" width="1.7" height="8.1" fill="#146d79"/>
<rect x="177.7" y="219.8" width="1.7" height="8.1" fill="#136974"/>
<rect x="177.7" y="227.7" width="1.7" height="8.1" fill="#1c97a8"/>
<rect x="177.7" y="235.6" width="1.7" height="8.1" fill="#1d9aaa"/>
<rect x="177.7" y="243.5" width="1.7" height="8.1" fill="#22b6c9"/>
<rect x="177.7" y="251.4" width="1.7" height="8.1" fill="#23b9cd"/>
<rect x="179.2" y="53.9" width="1.7" height="8.1" fill="#160000"/>
<rect x="179.2" y="61.8" width="1.7" height="8.1" fill="#2c0000"/>
<rect x="179.2" y="69.7" width="1.7" height="8.1" fill="#082f34"/>
<rect x="179.2" y="77.6" width="1.7" height="8.1" fill="#030000"/>
<rect x="179.2" y="85.5" width="1.7" height="8.1" fill="#060000"/>
<rect x="179.2" y="93.4" width="1.7" height="8.1" fill="#07272b"/>
<rect x="179.2" y="101.3" width="1.7" height="8.1" fill="#460000"/>
<rect x="179.2" y="109.2" width="1.7" height="8.1" fill="#bf0000"/>
<rect x="179.2" y="117.1" width="1.7" height="8.1" fill="#7d0000"/>
<rect x="179.2" y="125.0" width="1.7" height="8.1" fill="#051b1e"/>
<rect x="179.2" y="132.9" width="1.7" height="8.1" fill="#1fa8bb"/>
<rect x="179.2" y="140.8" width="1.7" height="8.1" fill="#0b3e45"/>
<rect x="179.2" y="148.7" width="1.7" height="8.1" fill="#072a2e"/>
<rect x="179.2" y="156.6" width="1.7" height="8.1" fill="#000303"/>
<rect x="179.2" y="164.5" width="1.7" height="8.1" fill="#430000"/>
<rect x="179.2" y="172.4" width="1.7" height="8.1" fill="#031213"/>
<rect x="179.2" y="180.3" width="1.7" height="8.1" fill="#051d20"/>
<rect x="179.2" y="188.2" width="1.7" height="8.1" fill="#1e0000"/>
<rect x="179.2" y="196.1" width="1.7" height="8.1" fill="#0a393f"/>
<rect x="179.2" y="204.0" width="1.7" height="8.1" fill="#010506"/>
<rect x="179.2" y="211.9" width="1.7" height="8.1" fill="#051a1d"/>
<rect x="179.2" y="219.8" width="1.7" height="8.1" fill="#062428"/>
<rect x="179.2" y="227.7" width="1.7" height="8.1" fill="#093035"/>
<rect x="179.2" y="235.6" width="1.7" height="8.1" fill="#031215"/>
<rect x="179.2" y="243.5" width="1.7" height="8.1" fill="#000000"/>
<rect x="179.2" y="251.4" width="1.7" height="8.1" fill="#041719"/>
<rect x="180.7" y="53.9" width="1.7" height="8.1" fill="#510000"/>
<rect x="180.7" y="61.8" width="1.7" height="8.1" fill="#460000"/>
<rect x="180.7" y="69.7" width="1.7" height="8.1" fill="#480000"/>
<rect x="180.7" y="77.6" width="1.7" height="8.1" fill="#0b3e44"/>
<rect x="180.7" y="85.5" width="1.7" height="8.1" fill="#0c4047"/>
<rect x="180.7" y="93.4" width="1.7" height="8.1" fill="#051e22"/>
<rect x="180.7" y="101.3" width="1.7" height="8.1" fill="#000000"/>
<rect x="180.7" y="109.2" width="1.7" height="8.1" fill="#160000"/>
<rect x="180.7" y="117.1" width="1.7" height="8.1" fill="#031012"/>
<rect x="180.7" y="125.0" width="1.7" height="8.1" fill="#041517"/>
<rect x="180.7" y="132.9" width="1.7" height="8.1" fill="#070000"/>
<rect x="180.7" y="140.8" width="1.7" height="8.1" fill="#330000"/>
<rect x="180.7" y="148.7" width="1.7" height="8.1" fill="#120000"/>
<rect x="180.7" y="156.6" width="1.7" height="8.1" fill="#0b0000"/>
<rect x="180.7" y="164.5" width="1.7" height="8.1" fill="#180000"/>
<rect x="180.7" y="172.4" width="1.7" height="8.1" fill="#450000"/>
<rect x="180.7" y="180.3" width="1.7" height="8.1" fill="#000203"/>
<rect x="180.7" y="188.2" width="1.7" height="8.1" fill="#090000"/>
<rect x="180.7" y="196.1" width="1.7" height="8.1" fill="#0e4b53"/>
<rect x="180.7" y="204.0" width="1.7" height="8.1" fill="#15727f"/>
<rect x="180.7" y="211.9" width="1.7" height="8.1" fill="#198695"/>
<rect x="180.7" y="219.8" width="1.7" height="8.1" fill="#041719"/>
<rect x="180.7" y="227.7" width="1.7" height="8.1" fill="#082e33"/>
<rect x="180.7" y="235.6" width="1.7" height="8.1" fill="#07272b"/>
<rect x="180.7" y="243.5" width="1.7" height="8.1" fill="#082b30"/>
<rect x="180.7" y="251.4" width="1.7" height="8.1" fill="#09343a"/>
<rect x="185.0" y="53.9" width="1.9" height="8.1" fill="#650000"/>
<rect x="185.0" y="61.8" width="1.9" height="8.1" fill="#7e0000"/>
<rect x="185.0" y="69.7" width="1.9" height="8.1" fill="#ad0000"/>
<rect x="185.0" y="77.6" width="1.9" height="8.1" fill="#9e0000"/>
<rect x="185.0" y="85.5" width="1.9" height="8.1" fill="#a30000"/>
<rect x="185.0" y="93.4" width="1.9" height="8.1" fill="#b50000"/>
<rect x="185.0" y="101.3" width="1.9" height="8.1" fill="#930000"/>
<rect x="185.0" y="109.2" width="1.9" height="8.1" fill="#9e0000"/>
<rect x="185.0" y="117.1" width="1.9" height="8.1" fill="#a60000"/>
<rect x="185.0" y="125.0" width="1.9" height="8.1" fill="#160000"/>
<rect x="185.0" y="132.9" width="1.9" height="8.1" fill="#3a0000"/>
<rect x="185.0" y="140.8" width="1.9" height="8.1" fill="#170000"/>
<rect x="185.0" y="148.7" width="1.9" height="8.1" fill="#220000"/>
<rect x="185.0" y="156.6" width="1.9" height="8.1" fill="#130000"/>
<rect x="185.0" y="164.5" width="1.9" height="8.1" fill="#070000"/>
<rect x="185.0" y="172.4" width="1.9" height="8.1" fill="#2d0000"/>
<rect x="185.0" y="180.3" width="1.9" height="8.1" fill="#020b0d"/>
<rect x="185.0" y="188.2" width="1.9" height="8.1" fill="#1d9dae"/>
<rect x="185.0" y="196.1" width="1.9" height="8.1" fill="#092f35"/>
<rect x="185.0" y="204.0" width="1.9" height="8.1" fill="#051c1f"/>
<rect x="185.0" y="211.9" width="1.9" height="8.1" fill="#680000"/>
<rect x="185.0" y="219.8" width="1.9" height="8.1" fill="#5e0000"/>
<rect x="185.0" y="227.7" width="1.9" height="8.1" fill="#3a0000"/>
<rect x="185.0" y="235.6" width="1.9" height="8.1" fill="#420000"/>
<rect x="185.0" y="243.5" width="1.9" height="8.1" fill="#420000"/>
<rect x="185.0" y="251.4" width="1.9" height="8.1" fill="#270000"/>
<rect x="186.7" y="53.9" width="1.9" height="8.1" fill="#5f0000"/>
<rect x="186.7" y="61.8" width="1.9" height="8.1" fill="#7a0000"/>
<rect x="186.7" y="69.7" width="1.9" height="8.1" fill="#7f0000"/>
<rect x="186.7" y="77.6" width="1.9" height="8.1" fill="#8e0000"/>
<rect x="186.7" y="85.5" width="1.9" height="8.1" fill="#840000"/>
<rect x="186.7" y="93.4" width="1.9" height="8.1" fill="#a10000"/>
<rect x="186.7" y="101.3" width="1.9" height="8.1" fill="#a50000"/>
<rect x="186.7" y="109.2" width="1.9" height="8.1" fill="#8c0000"/>
<rect x="186.7" y="117.1" width="1.9" height="8.1" fill="#700000"/>
<rect x="186.7" y="125.0" width="1.9" height="8.1" fill="#105761"/>
<rect x="186.7" y="132.9" width="1.9" height="8.1" fill="#1ea1b2"/>
<rect x="186.7" y="140.8" width="1.9" height="8.1" fill="#21b3c6"/>
<rect x="186.7" y="148.7" width="1.9" height="8.1" fill="#0d4850"/>
<rect x="186.7" y="156.6" width="1.9" height="8.1" fill="#082d32"/>
<rect x="186.7" y="164.5" width="1.9" height="8.1" fill="#0f0000"/>
<rect x="186.7" y="172.4" width="1.9" height="8.1" fill="#0b3b42"/>
<rect x="186.7" y="180.3" width="1.9" height="8.1" fill="#125f6a"/>
<rect x="186.7" y="188.2" width="1.9" height="8.1" fill="#0d474e"/>
<rect x="186.7" y="196.1" width="1.9" height="8.1" fill="#04191b"/>
<rect x="186.7" y="204.0" width="1.9" height="8.1" fill="#1a8b9a"/>
<rect x="186.7" y="211.9" width="1.9" height="8.1" fill="#0d464d"/>
<rect x="186.7" y="219.8" width="1.9" height="8.1" fill="#0e0000"/>
<rect x="186.7" y="227.7" width="1.9" height="8.1" fill="#150000"/>
<rect x="186.7" y="235.6" width="1.9" height="8.1" fill="#062428"/>
<rect x="186.7" y="243.5" width="1.9" height="8.1" fill="#031214"/>
<rect x="186.7" y="251.4" width="1.9" height="8.1" fill="#0f535c"/>
<rect x="188.3" y="53.9" width="1.9" height="8.1" fill="#530000"/>
<rect x="188.3" y="61.8" width="1.9" height="8.1" fill="#500000"/>
<rect x="188.3" y="69.7" width="1.9" height="8.1" fill="#6d0000"/>
<rect x="188.3" y="77.6" width="1.9" height="8.1" fill="#6e0000"/>
<rect x="188.3" y="85.5" width="1.9" height="8.1" fill="#910000"/>
<rect x="188.3" y="93.4" width="1.9" height="8.1" fill="#a60000"/>
<rect x="188.3" y="101.3" width="1.9" height="8.1" fill="#8f0000"/>
<rect x="188.3" y="109.2" width="1.9" height="8.1" fill="#890000"/>
<rect x="188.3" y="117.1" width="1.9" height="8.1" fill="#920000"/>
<rect x="188.3" y="125.0" width="1.9" height="8.1" fill="#010000"/>
<rect x="188.3" y="132.9" width="1.9" height="8.1" fill="#1c0000"/>
<rect x="188.3" y="140.8" width="1.9" height="8.1" fill="#060000"/>
<rect x="188.3" y="148.7" width="1.9" height="8.1" fill="#020c0e"/>
<rect x="188.3" y="156.6" width="1.9" height="8.1" fill="#010707"/>
<rect x="188.3" y="164.5" width="1.9" height="8.1" fill="#156f7b"/>
<rect x="188.3" y="172.4" width="1.9" height="8.1" fill="#0c4249"/>
<rect x="188.3" y="180.3" width="1.9" height="8.1" fill="#0f515a"/>
<rect x="188.3" y="188.2" width="1.9" height="8.1" fill="#146a75"/>
<rect x="188.3" y="196.1" width="1.9" height="8.1" fill="#12626c"/>
<rect x="188.3" y="204.0" width="1.9" height="8.1" fill="#198998"/>
<rect x="188.3" y="211.9" width="1.9" height="8.1" fill="#177e8b"/>
<rect x="188.3" y="219.8" width="1.9" height="8.1" fill="#360000"/>
<rect x="188.3" y="227.7" width="1.9" height="8.1" fill="#0a373d"/>
<rect x="188.3" y="235.6" width="1.9" height="8.1" fill="#198594"/>
<rect x="188.3" y="243.5" width="1.9" height="8.1" fill="#000405"/>
<rect x="188.3" y="251.4" width="1.9" height="8.1" fill="#0a363c"/>
<rect x="190.0" y="53.9" width="1.9" height="8.1" fill="#7c0000"/>
<rect x="190.0" y="61.8" width="1.9" height="8.1" fill="#8c0000"/>
<rect x="190.0" y="69.7" width="1.9" height="8.1" fill="#920000"/>
<rect x="190.0" y="77.6" width="1.9" height="8.1" fill="#960000"/>
<rect x="190.0" y="85.5" width="1.9" height="8.1" fill="#af0000"/>
<rect x="190.0" y="93.4" width="1.9" height="8.1" fill="#b00000"/>
<rect x="190.0" y="101.3" width="1.9" height="8.1" fill="#7c0000"/>
<rect x="190.0" y="109.2" width="1.9" height="8.1" fill="#ad0000"/>
<rect x="190.0" y="117.1" width="1.9" height="8.1" fill="#8b0000"/>
<rect x="190.0" y="125.0" width="1.9" height="8.1" fill="#105761"/>
<rect x="190.0" y="132.9" width="1.9" height="8.1" fill="#062124"/>
<rect x="190.0" y="140.8" width="1.9" height="8.1" fill="#0e4d55"/>
<rect x="190.0" y="148.7" width="1.9" height="8.1" fill="#0e4e56"/>
<rect x="190.0" y="156.6" width="1.9" height="8.1" fill="#12636e"/>
<rect x="190.0" y="164.5" width="1.9" height="8.1" fill="#167986"/>
<rect x="190.0" y="172.4" width="1.9" height="8.1" fill="#082f34"/>
<rect x="190.0" y="180.3" width="1.9" height="8.1" fill="#0a383e"/>
<rect x="190.0" y="188.2" width="1.9" height="8.1" fill="#031214"/>
<rect x="190.0" y="196.1" width="1.9" height="8.1" fill="#260000"/>
<rect x="190.0" y="204.0" width="1.9" height="8.1" fill="#020000"/>
<rect x="190.0" y="211.9" width="1.9" height="8.1" fill="#0f515a"/>
<rect x="190.0" y="219.8" width="1.9" height="8.1" fill="#0e0000"/>
<rect x="190.0" y="227.7" width="1.9" height="8.1" fill="#062024"/>
<rect x="190.0" y="235.6" width="1.9" height="8.1" fill="#177b88"/>
<rect x="190.0" y="243.5" width="1.9" height="8.1" fill="#062225"/>
<rect x="190.0" y="251.4" width="1.9" height="8.1" fill="#146975"/>
<rect x="191.7" y="53.9" width="1.9" height="8.1" fill="#540000"/>
<rect x="191.7" y="61.8" width="1.9" height="8.1" fill="#830000"/>
<rect x="191.7" y="69.7" width="1.9" height="8.1" fill="#990000"/>
<rect x="191.7" y="77.6" width="1.9" height="8.1" fill="#ab0000"/>
<rect x="191.7" y="85.5" width="1.9" height="8.1" fill="#8c0000"/>
<rect x="191.7" y="93.4" width="1.9" height="8.1" fill="#b10000"/>
<rect x="191.7" y="101.3" width="1.9" height="8.1" fill="#b00000"/>
<rect x="191.7" y="109.2" width="1.9" height="8.1" fill="#d30000"/>
<rect x="191.7" y="117.1" width="1.9" height="8.1" fill="#bf0000"/>
<rect x="191.7" y="125.0" width="1.9" height="8.1" fill="#380000"/>
<rect x="191.7" y="132.9" width="1.9" height="8.1" fill="#07292d"/>
<rect x="191.7" y="140.8" width="1.9" height="8.1" fill="#051e21"/>
<rect x="191.7" y="148.7" width="1.9" height="8.1" fill="#040000"/>
<rect x="191.7" y="156.6" width="1.9" height="8.1" fill="#0a343a"/>
<rect x="191.7" y="164.5" width="1.9" height="8.1" fill="#1d9cad"/>
<rect x="191.7" y="172.4" width="1.9" height="8.1" fill="#092f34"/>
<rect x="191.7" y="180.3" width="1.9" height="8.1" fill="#170000"/>
<rect x="191.7" y="188.2" width="1.9" height="8.1" fill="#062428"/>
<rect x="191.7" y="196.1" width="1.9" height="8.1" fill="#100000"/>
<rect x="191.7" y="204.0" width="1.9" height="8.1" fill="#140000"/>
<rect x="191.7" y="211.9" width="1.9" height="8.1" fill="#041619"/>
<rect x="191.7" y="219.8" width="1.9" height="8.1" fill="#270000"/>
<rect x="191.7" y="227.7" width="1.9" height="8.1" fill="#780000"/>
<rect x="191.7" y="235.6" width="1.9" height="8.1" fill="#510000"/>
<rect x="191.7" y="243.5" width="1.9" height="8.1" fill="#7a0000"/>
<rect x="191.7" y="251.4" width="1.9" height="8.1" fill="#2f0000"/>
<rect x="193.3" y="53.9" width="1.9" height="8.1" fill="#510000"/>
<rect x="193.3" y="61.8" width="1.9" height="8.1" fill="#6d0000"/>
<rect x="193.3" y="69.7" width="1.9" height="8.1" fill="#750000"/>
<rect x="193.3" y="77.6" width="1.9" height="8.1" fill="#790000"/>
<rect x="193.3" y="85.5" width="1.9" height="8.1" fill="#440000"/>
<rect x="193.3" y="93.4" width="1.9" height="8.1" fill="#570000"/>
<rect x="193.3" y="101.3" width="1.9" height="8.1" fill="#6e0000"/>
<rect x="193.3" y="109.2" width="1.9" height="8.1" fill="#6b0000"/>
<rect x="193.3" y="117.1" width="1.9" height="8.1" fill="#740000"/>
<rect x="193.3" y="125.0" width="1.9" height="8.1" fill="#12606a"/>
<rect x="193.3" y="132.9" width="1.9" height="8.1" fill="#12626d"/>
<rect x="193.3" y="140.8" width="1.9" height="8.1" fill="#1b909f"/>
<rect x="193.3" y="148.7" width="1.9" height="8.1" fill="#051c1f"/>
<rect x="193.3" y="156.6" width="1.9" height="8.1" fill="#0b3b41"/>
<rect x="193.3" y="164.5" width="1.9" height="8.1" fill="#10565f"/>
<rect x="193.3" y="172.4" width="1.9" height="8.1" fill="#0e4c54"/>
<rect x="193.3" y="180.3" width="1.9" height="8.1" fill="#115d67"/>
<rect x="193.3" y="188.2" width="1.9" height="8.1" fill="#23b9cd"/>
<rect x="193.3" y="196.1" width="1.9" height="8.1" fill="#23b9cd"/>
<rect x="193.3" y="204.0" width="1.9" height="8.1" fill="#1c98a9"/>
<rect x="193.3" y="211.9" width="1.9" height="8.1" fill="#146d79"/>
<rect x="193.3" y="219.8" width="1.9" height="8.1" fill="#031214"/>
<rect x="193.3" y="227.7" width="1.9" height="8.1" fill="#1b8f9e"/>
<rect x="193.3" y="235.6" width="1.9" height="8.1" fill="#1c94a4"/>
<rect x="193.3" y="243.5" width="1.9" height="8.1" fill="#07262a"/>
<rect x="193.3" y="251.4" width="1.9" height="8.1" fill="#0c434a"/>
<rect x="195.0" y="53.9" width="1.9" height="8.1" fill="#aa0000"/>
<rect x="195.0" y="61.8" width="1.9" height="8.1" fill="#d20000"/>
<rect x="195.0" y="69.7" width="1.9" height="8.1" fill="#c50000"/>
<rect x="195.0" y="77.6" width="1.9" height="8.1" fill="#960000"/>
<rect x="195.0" y="85.5" width="1.9" height="8.1" fill="#bd0000"/>
<rect x="195.0" y="93.4" width="1.9" height="8.1" fill="#b60000"/>
<rect x="195.0" y="101.3" width="1.9" height="8.1" fill="#e30000"/>
<rect x="195.0" y="109.2" width="1.9" height="8.1" fill="#ce0000"/>
<rect x="195.0" y="117.1" width="1.9" height="8.1" fill="#c10000"/>
<rect x="195.0" y="125.0" width="1.9" height="8.1" fill="#600000"/>
<rect x="195.0" y="132.9" width="1.9" height="8.1" fill="#420000"/>
<rect x="195.0" y="140.8" width="1.9" height="8.1" fill="#062226"/>
<rect x="195.0" y="148.7" width="1.9" height="8.1" fill="#2d0000"/>
<rect x="195.0" y="156.6" width="1.9" height="8.1" fill="#410000"/>
<rect x="195.0" y="164.5" width="1.9" height="8.1" fill="#3e0000"/>
<rect x="195.0" y="172.4" width="1.9" height="8.1" fill="#2e0000"/>
<rect x="195.0" y="180.3" width="1.9" height="8.1" fill="#360000"/>
<rect x="195.0" y="188.2" width="1.9" height="8.1" fill="#000303"/>
<rect x="195.0" y="196.1" width="1.9" height="8.1" fill="#140000"/>
<rect x="195.0" y="204.0" width="1.9" height="8.1" fill="#360000"/>
<rect x="195.0" y="211.9" width="1.9" height="8.1" fill="#12616c"/>
<rect x="195.0" y="219.8" width="1.9" height="8.1" fill="#580000"/>
<rect x="195.0" y="227.7" width="1.9" height="8.1" fill="#640000"/>
<rect x="195.0" y="235.6" width="1.9" height="8.1" fill="#8d0000"/>
<rect x="195.0" y="243.5" width="1.9" height="8.1" fill="#930000"/>
<rect x="195.0" y="251.4" width="1.9" height="8.1" fill="#7f0000"/>
<rect x="196.7" y="53.9" width="1.9" height="8.1" fill="#4e0000"/>
<rect x="196.7" y="61.8" width="1.9" height="8.1" fill="#850000"/>
<rect x="196.7" y="69.7" width="1.9" height="8.1" fill="#9e0000"/>
<rect x="196.7" y="77.6" width="1.9" height="8.1" fill="#b00000"/>
<rect x="196.7" y="85.5" width="1.9" height="8.1" fill="#6b0000"/>
<rect x="196.7" y="93.4" width="1.9" height="8.1" fill="#7e0000"/>
<rect x="196.7" y="101.3" width="1.9" height="8.1" fill="#8a0000"/>
<rect x="196.7" y="109.2" width="1.9" height="8.1" fill="#910000"/>
<rect x="196.7" y="117.1" width="1.9" height="8.1" fill="#6d0000"/>
<rect x="196.7" y="125.0" width="1.9" height="8.1" fill="#070000"/>
<rect x="196.7" y="132.9" width="1.9" height="8.1" fill="#105861"/>
<rect x="196.7" y="140.8" width="1.9" height="8.1" fill="#198897"/>
<rect x="196.7" y="148.7" width="1.9" height="8.1" fill="#050000"/>
<rect x="196.7" y="156.6" width="1.9" height="8.1" fill="#020d0f"/>
<rect x="196.7" y="164.5" width="1.9" height="8.1" fill="#105963"/>
<rect x="196.7" y="172.4" width="1.9" height="8.1" fill="#146e79"/>
<rect x="196.7" y="180.3" width="1.9" height="8.1" fill="#0b3a41"/>
<rect x="196.7" y="188.2" width="1.9" height="8.1" fill="#136975"/>
<rect x="196.7" y="196.1" width="1.9" height="8.1" fill="#082e33"/>
<rect x="196.7" y="204.0" width="1.9" height="8.1" fill="#082a2f"/>
<rect x="196.7" y="211.9" width="1.9" height="8.1" fill="#051f22"/>
<rect x="196.7" y="219.8" width="1.9" height="8.1" fill="#500000"/>
<rect x="196.7" y="227.7" width="1.9" height="8.1" fill="#07252a"/>
<rect x="196.7" y="235.6" width="1.9" height="8.1" fill="#177b88"/>
<rect x="196.7" y="243.5" width="1.9" height="8.1" fill="#12636e"/>
<rect x="196.7" y="251.4" width="1.9" height="8.1" fill="#0e4a52"/>
<rect x="198.3" y="53.9" width="1.9" height="8.1" fill="#7d0000"/>
<rect x="198.3" y="61.8" width="1.9" height="8.1" fill="#760000"/>
<rect x="198.3" y="69.7" width="1.9" height="8.1" fill="#9f0000"/>
<rect x="198.3" y="77.6" width="1.9" height="8.1" fill="#920000"/>
<rect x="198.3" y="85.5" width="1.9" height="8.1" fill="#820000"/>
<rect x="198.3" y="93.4" width="1.9" height="8.1" fill="#590000"/>
<rect x="198.3" y="101.3" width="1.9" height="8.1" fill="#700000"/>
<rect x="198.3" y="109.2" width="1.9" height="8.1" fill="#9e0000"/>
<rect x="198.3" y="117.1" width="1.9" height="8.1" fill="#6b0000"/>
<rect x="198.3" y="125.0" width="1.9" height="8.1" fill="#082b30"/>
<rect x="198.3" y="132.9" width="1.9" height="8.1" fill="#020e0f"/>
<rect x="198.3" y="140.8" width="1.9" height="8.1" fill="#041618"/>
<rect x="198.3" y="148.7" width="1.9" height="8.1" fill="#10565f"/>
<rect x="198.3" y="156.6" width="1.9" height="8.1" fill="#020b0c"/>
<rect x="198.3" y="164.5" width="1.9" height="8.1" fill="#177a87"/>
<rect x="198.3" y="172.4" width="1.9" height="8.1" fill="#051d20"/>
<rect x="198.3" y="180.3" width="1.9" height="8.1" fill="#010a0b"/>
<rect x="198.3" y="188.2" width="1.9" height="8.1" fill="#1c96a7"/>
<rect x="198.3" y="196.1" width="1.9" height="8.1" fill="#082f34"/>
<rect x="198.3" y="204.0" width="1.9" height="8.1" fill="#040000"/>
<rect x="198.3" y="211.9" width="1.9" height="8.1" fill="#093035"/>
<rect x="198.3" y="219.8" width="1.9" height="8.1" fill="#0a363c"/>
<rect x="198.3" y="227.7" width="1.9" height="8.1" fill="#136974"/>
<rect x="198.3" y="235.6" width="1.9" height="8.1" fill="#157380"/>
<rect x="198.3" y="243.5" width="1.9" height="8.1" fill="#0a0000"/>
<rect x="198.3" y="251.4" width="1.9" height="8.1" fill="#0f515a"/>
<rect x="200.0" y="53.9" width="1.9" height="8.1" fill="#5a0000"/>
<rect x="200.0" y="61.8" width="1.9" height="8.1" fill="#820000"/>
<rect x="200.0" y="69.7" width="1.9" height="8.1" fill="#520000"/>
<rect x="200.0" y="77.6" width="1.9" height="8.1" fill="#780000"/>
<rect x="200.0" y="85.5" width="1.9" height="8.1" fill="#660000"/>
<rect x="200.0" y="93.4" width="1.9" height="8.1" fill="#6c0000"/>
<rect x="200.0" y="101.3" width="1.9" height="8.1" fill="#890000"/>
<rect x="200.0" y="109.2" width="1.9" height="8.1" fill="#970000"/>
<rect x="200.0" y="117.1" width="1.9" height="8.1" fill="#960000"/>
<rect x="200.0" y="125.0" width="1.9" height="8.1" fill="#120000"/>
<rect x="200.0" y="132.9" width="1.9" height="8.1" fill="#020c0d"/>
<rect x="200.0" y="140.8" width="1.9" height="8.1" fill="#0c434b"/>
<rect x="200.0" y="148.7" width="1.9" height="8.1" fill="#082c31"/>
<rect x="200.0" y="156.6" width="1.9" height="8.1" fill="#010000"/>
<rect x="200.0" y="164.5" width="1.9" height="8.1" fill="#051d20"/>
<rect x="200.0" y="172.4" width="1.9" height="8.1" fill="#082f34"/>
<rect x="200.0" y="180.3" width="1.9" height="8.1" fill="#051c1f"/>
<rect x="200.0" y="188.2" width="1.9" height="8.1" fill="#1c98a8"/>
<rect x="200.0" y="196.1" width="1.9" height="8.1" fill="#0e4a52"/>
<rect x="200.0" y="204.0" width="1.9" height="8.1" fill="#0b3c42"/>
<rect x="200.0" y="211.9" width="1.9" height="8.1" fill="#115d67"/>
<rect x="200.0" y="219.8" width="1.9" height="8.1" fill="#0e4c54"/>
<rect x="200.0" y="227.7" width="1.9" height="8.1" fill="#23b9cd"/>
<rect x="200.0" y="235.6" width="1.9" height="8.1" fill="#23b9cd"/>
<rect x="200.0" y="243.5" width="1.9" height="8.1" fill="#0f535c"/>
<rect x="200.0" y="251.4" width="1.9" height="8.1" fill="#105963"/>
<rect x="201.7" y="53.9" width="1.9" height="8.1" fill="#6a0000"/>
<rect x="201.7" y="61.8" width="1.9" height="8.1" fill="#6a0000"/>
<rect x="201.7" y="69.7" width="1.9" height="8.1" fill="#8a0000"/>
<rect x="201.7" y="77.6" width="1.9" height="8.1" fill="#9d0000"/>
<rect x="201.7" y="85.5" width="1.9" height="8.1" fill="#930000"/>
<rect x="201.7" y="93.4" width="1.9" height="8.1" fill="#730000"/>
<rect x="201.7" y="101.3" width="1.9" height="8.1" fill="#640000"/>
<rect x="201.7" y="109.2" width="1.9" height="8.1" fill="#760000"/>
<rect x="201.7" y="117.1" width="1.9" height="8.1" fill="#930000"/>
<rect x="201.7" y="125.0" width="1.9" height="8.1" fill="#167986"/>
<rect x="201.7" y="132.9" width="1.9" height="8.1" fill="#10545d"/>
<rect x="201.7" y="140.8" width="1.9" height="8.1" fill="#0b3c43"/>
<rect x="201.7" y="148.7" width="1.9" height="8.1" fill="#1a8e9d"/>
<rect x="201.7" y="156.6" width="1.9" height="8.1" fill="#04191c"/>
<rect x="201.7" y="164.5" width="1.9" height="8.1" fill="#10555e"/>
<rect x="201.7" y="172.4" width="1.9" height="8.1" fill="#167582"/>
<rect x="201.7" y="180.3" width="1.9" height="8.1" fill="#136873"/>
<rect x="201.7" y="188.2" width="1.9" height="8.1" fill="#177b88"/>
<rect x="201.7" y="196.1" width="1.9" height="8.1" fill="#1d9cad"/>
<rect x="201.7" y="204.0" width="1.9" height="8.1" fill="#20abbd"/>
<rect x="201.7" y="211.9" width="1.9" height="8.1" fill="#1b92a2"/>
<rect x="201.7" y="219.8" width="1.9" height="8.1" fill="#0f535c"/>
<rect x="201.7" y="227.7" width="1.9" height="8.1" fill="#0b3d44"/>
<rect x="201.7" y="235.6" width="1.9" height="8.1" fill="#093137"/>
<rect x="201.7" y="243.5" width="1.9" height="8.1" fill="#210000"/>
<rect x="201.7" y="251.4" width="1.9" height="8.1" fill="#136874"/>
<rect x="203.3" y="53.9" width="1.9" height="8.1" fill="#6a0000"/>
<rect x="203.3" y="61.8" width="1.9" height="8.1" fill="#840000"/>
<rect x="203.3" y="69.7" width="1.9" height="8.1" fill="#550000"/>
<rect x="203.3" y="77.6" width="1.9" height="8.1" fill="#7c0000"/>
<rect x="203.3" y="85.5" width="1.9" height="8.1" fill="#ab0000"/>
<rect x="203.3" y="93.4" width="1.9" height="8.1" fill="#b70000"/>
<rect x="203.3" y="101.3" width="1.9" height="8.1" fill="#a20000"/>
<rect x="203.3" y="109.2" width="1.9" height="8.1" fill="#7a0000"/>
<rect x="203.3" y="117.1" width="1.9" height="8.1" fill="#990000"/>
<rect x="203.3" y="125.0" width="1.9" height="8.1" fill="#04191b"/>
<rect x="203.3" y="132.9" width="1.9" height="8.1" fill="#0a363c"/>
<rect x="203.3" y="140.8" width="1.9" height="8.1" fill="#12616b"/>
<rect x="203.3" y="148.7" width="1.9" height="8.1" fill="#051a1d"/>
<rect x="203.3" y="156.6" width="1.9" height="8.1" fill="#0b3a40"/>
<rect x="203.3" y="164.5" width="1.9" height="8.1" fill="#167481"/>
<rect x="203.3" y="172.4" width="1.9" height="8.1" fill="#1d9cad"/>
<rect x="203.3" y="180.3" width="1.9" height="8.1" fill="#1b8f9f"/>
<rect x="203.3" y="188.2" width="1.9" height="8.1" fill="#1a8c9c"/>
<rect x="203.3" y="196.1" width="1.9" height="8.1" fill="#198897"/>
<rect x="203.3" y="204.0" width="1.9" height="8.1" fill="#560000"/>
<rect x="203.3" y="211.9" width="1.9" height="8.1" fill="#0a373d"/>
<rect x="203.3" y="219.8" width="1.9" height="8.1" fill="#0b3b41"/>
<rect x="203.3" y="227.7" width="1.9" height="8.1" fill="#177d8b"/>
<rect x="203.3" y="235.6" width="1.9" height="8.1" fill="#0b3d44"/>
<rect x="203.3" y="243.5" width="1.9" height="8.1" fill="#5d0000"/>
<rect x="203.3" y="251.4" width="1.9" height="8.1" fill="#0c3f46"/>
<rect x="205.0" y="53.9" width="1.9" height="8.1" fill="#6a0000"/>
<rect x="205.0" y="61.8" width="1.9" height="8.1" fill="#730000"/>
<rect x="205.0" y="69.7" width="1.9" height="8.1" fill="#870000"/>
<rect x="205.0" y="77.6" width="1.9" height="8.1" fill="#830000"/>
<rect x="205.0" y="85.5" width="1.9" height="8.1" fill="#980000"/>
<rect x="205.0" y="93.4" width="1.9" height="8.1" fill="#970000"/>
<rect x="205.0" y="101.3" width="1.9" height="8.1" fill="#bd0000"/>
<rect x="205.0" y="109.2" width="1.9" height="8.1" fill="#840000"/>
<rect x="205.0" y="117.1" width="1.9" height="8.1" fill="#9e0000"/>
<rect x="205.0" y="125.0" width="1.9" height="8.1" fill="#0c444c"/>
<rect x="205.0" y="132.9" width="1.9" height="8.1" fill="#010506"/>
<rect x="205.0" y="140.8" width="1.9" height="8.1" fill="#10565f"/>
<rect x="205.0" y="148.7" width="1.9" height="8.1" fill="#041618"/>
<rect x="205.0" y="156.6" width="1.9" height="8.1" fill="#000000"/>
<rect x="205.0" y="164.5" width="1.9" height="8.1" fill="#07272b"/>
<rect x="205.0" y="172.4" width="1.9" height="8.1" fill="#15717d"/>
<rect x="205.0" y="180.3" width="1.9" height="8.1" fill="#1a8a98"/>
<rect x="205.0" y="188.2" width="1.9" height="8.1" fill="#1c95a5"/>
<rect x="205.0" y="196.1" width="1.9" height="8.1" fill="#187e8c"/>
<rect x="205.0" y="204.0" width="1.9" height="8.1" fill="#0d454c"/>
<rect x="205.0" y="211.9" width="1.9" height="8.1" fill="#198694"/>
<rect x="205.0" y="219.8" width="1.9" height="8.1" fill="#041619"/>
<rect x="205.0" y="227.7" width="1.9" height="8.1" fill="#0d474e"/>
<rect x="205.0" y="235.6" width="1.9" height="8.1" fill="#0e4e57"/>
<rect x="205.0" y="243.5" width="1.9" height="8.1" fill="#093339"/>
<rect x="205.0" y="251.4" width="1.9" height="8.1" fill="#040000"/>
<rect x="206.7" y="53.9" width="1.9" height="8.1" fill="#530000"/>
<rect x="206.7" y="61.8" width="1.9" height="8.1" fill="#7d0000"/>
<rect x="206.7" y="69.7" width="1.9" height="8.1" fill="#a00000"/>
<rect x="206.7" y="77.6" width="1.9" height="8.1" fill="#ab0000"/>
<rect x="206.7" y="85.5" width="1.9" height="8.1" fill="#b30000"/>
<rect x="206.7" y="93.4" width="1.9" height="8.1" fill="#b30000"/>
<rect x="206.7" y="101.3" width="1.9" height="8.1" fill="#9c0000"/>
<rect x="206.7" y="109.2" width="1.9" height="8.1" fill="#770000"/>
<rect x="206.7" y="117.1" width="1.9" height="8.1" fill="#6d0000"/>
<rect x="206.7" y="125.0" width="1.9" height="8.1" fill="#115b65"/>
<rect x="206.7" y="132.9" width="1.9" height="8.1" fill="#1b8f9f"/>
<rect x="206.7" y="140.8" width="1.9" height="8.1" fill="#18808d"/>
<rect x="206.7" y="148.7" width="1.9" height="8.1" fill="#15727e"/>
<rect x="206.7" y="156.6" width="1.9" height="8.1" fill="#051d20"/>
<rect x="206.7" y="164.5" width="1.9" height="8.1" fill="#1d9eaf"/>
<rect x="206.7" y="172.4" width="1.9" height="8.1" fill="#020000"/>
<rect x="206.7" y="180.3" width="1.9" height="8.1" fill="#000000"/>
<rect x="206.7" y="188.2" width="1.9" height="8.1" fill="#0c4149"/>
<rect x="206.7" y="196.1" width="1.9" height="8.1" fill="#0a3a40"/>
<rect x="206.7" y="204.0" width="1.9" height="8.1" fill="#050000"/>
<rect x="206.7" y="211.9" width="1.9" height="8.1" fill="#070000"/>
<rect x="206.7" y="219.8" width="1.9" height="8.1" fill="#2f0000"/>
<rect x="206.7" y="227.7" width="1.9" height="8.1" fill="#093439"/>
<rect x="206.7" y="235.6" width="1.9" height="8.1" fill="#188290"/>
<rect x="206.7" y="243.5" width="1.9" height="8.1" fill="#010506"/>
<rect x="206.7" y="251.4" width="1.9" height="8.1" fill="#0f0000"/>
<rect x="208.3" y="53.9" width="1.9" height="8.1" fill="#670000"/>
<rect x="208.3" y="61.8" width="1.9" height="8.1" fill="#760000"/>
<rect x="208.3" y="69.7" width="1.9" height="8.1" fill="#830000"/>
<rect x="208.3" y="77.6" width="1.9" height="8.1" fill="#9c0000"/>
<rect x="208.3" y="85.5" width="1.9" height="8.1" fill="#700000"/>
<rect x="208.3" y="93.4" width="1.9" height="8.1" fill="#970000"/>
<rect x="208.3" y="101.3" width="1.9" height="8.1" fill="#930000"/>
<rect x="208.3" y="109.2" width="1.9" height="8.1" fill="#a10000"/>
<rect x="208.3" y="117.1" width="1.9" height="8.1" fill="#980000"/>
<rect x="208.3" y="125.0" width="1.9" height="8.1" fill="#051a1d"/>
<rect x="208.3" y="132.9" width="1.9" height="8.1" fill="#031012"/>
<rect x="208.3" y="140.8" width="1.9" height="8.1" fill="#020e0f"/>
<rect x="208.3" y="148.7" width="1.9" height="8.1" fill="#093238"/>
<rect x="208.3" y="156.6" width="1.9" height="8.1" fill="#0b3a41"/>
<rect x="208.3" y="164.5" width="1.9" height="8.1" fill="#18818f"/>
<rect x="208.3" y="172.4" width="1.9" height="8.1" fill="#115a64"/>
<rect x="208.3" y="180.3" width="1.9" height="8.1" fill="#051b1e"/>
<rect x="208.3" y="188.2" width="1.9" height="8.1" fill="#0d464d"/>
<rect x="208.3" y="196.1" width="1.9" height="8.1" fill="#020e10"/>
<rect x="208.3" y="204.0" width="1.9" height="8.1" fill="#0d4950"/>
<rect x="208.3" y="211.9" width="1.9" height="8.1" fill="#092f34"/>
<rect x="208.3" y="219.8" width="1.9" height="8.1" fill="#5b0000"/>
<rect x="208.3" y="227.7" width="1.9" height="8.1" fill="#0d0000"/>
<rect x="208.3" y="235.6" width="1.9" height="8.1" fill="#000303"/>
<rect x="208.3" y="243.5" width="1.9" height="8.1" fill="#640000"/>
<rect x="208.3" y="251.4" width="1.9" height="8.1" fill="#3a0000"/>
<rect x="210.0" y="53.9" width="1.9" height="8.1" fill="#750000"/>
<rect x="210.0" y="61.8" width="1.9" height="8.1" fill="#890000"/>
<rect x="210.0" y="69.7" width="1.9" height="8.1" fill="#a70000"/>
<rect x="210.0" y="77.6" width="1.9" height="8.1" fill="#930000"/>
<rect x="210.0" y="85.5" width="1.9" height="8.1" fill="#b20000"/>
<rect x="210.0" y="93.4" width="1.9" height="8.1" fill="#a40000"/>
<rect x="210.0" y="101.3" width="1.9" height="8.1" fill="#b10000"/>
<rect x="210.0" y="109.2" width="1.9" height="8.1" fill="#c20000"/>
<rect x="210.0" y="117.1" width="1.9" height="8.1" fill="#990000"/>
<rect x="210.0" y="125.0" width="1.9" height="8.1" fill="#410000"/>
<rect x="210.0" y="132.9" width="1.9" height="8.1" fill="#260000"/>
<rect x="210.0" y="140.8" width="1.9" height="8.1" fill="#020a0c"/>
<rect x="210.0" y="148.7" width="1.9" height="8.1" fill="#082a2f"/>
<rect x="210.0" y="156.6" width="1.9" height="8.1" fill="#146e7a"/>
<rect x="210.0" y="164.5" width="1.9" height="8.1" fill="#1ea2b4"/>
<rect x="210.0" y="172.4" width="1.9" height="8.1" fill="#198897"/>
<rect x="210.0" y="180.3" width="1.9" height="8.1" fill="#0a373e"/>
<rect x="210.0" y="188.2" width="1.9" height="8.1" fill="#0d4850"/>
<rect x="210.0" y="196.1" width="1.9" height="8.1" fill="#0b0000"/>
<rect x="210.0" y="204.0" width="1.9" height="8.1" fill="#0b3d44"/>
<rect x="210.0" y="211.9" width="1.9" height="8.1" fill="#15707c"/>
<rect x="210.0" y="219.8" width="1.9" height="8.1" fill="#2f0000"/>
<rect x="210.0" y="227.7" width="1.9" height="8.1" fill="#020f11"/>
<rect x="210.0" y="235.6" width="1.9" height="8.1" fill="#105660"/>
<rect x="210.0" y="243.5" width="1.9" height="8.1" fill="#540000"/>
<rect x="210.0" y="251.4" width="1.9" height="8.1" fill="#350000"/>
<rect x="211.7" y="53.9" width="1.9" height="8.1" fill="#410000"/>
<rect x="211.7" y="61.8" width="1.9" height="8.1" fill="#540000"/>
<rect x="211.7" y="69.7" width="1.9" height="8.1" fill="#7e0000"/>
<rect x="211.7" y="77.6" width="1.9" height="8.1" fill="#730000"/>
<rect x="211.7" y="85.5" width="1.9" height="8.1" fill="#5f0000"/>
<rect x="211.7" y="93.4" width="1.9" height="8.1" fill="#780000"/>
<rect x="211.7" y="101.3" width="1.9" height="8.1" fill="#a20000"/>
<rect x="211.7" y="109.2" width="1.9" height="8.1" fill="#b10000"/>
<rect x="211.7" y="117.1" width="1.9" height="8.1" fill="#930000"/>
<rect x="211.7" y="125.0" width="1.9" height="8.1" fill="#115a64"/>
<rect x="211.7" y="132.9" width="1.9" height="8.1" fill="#157480"/>
<rect x="211.7" y="140.8" width="1.9" height="8.1" fill="#0f4f58"/>
<rect x="211.7" y="148.7" width="1.9" height="8.1" fill="#177d8b"/>
<rect x="211.7" y="156.6" width="1.9" height="8.1" fill="#167886"/>
<rect x="211.7" y="164.5" width="1.9" height="8.1" fill="#12606b"/>
<rect x="211.7" y="172.4" width="1.9" height="8.1" fill="#198896"/>
<rect x="211.7" y="180.3" width="1.9" height="8.1" fill="#23b9cd"/>
<rect x="211.7" y="188.2" width="1.9" height="8.1" fill="#23b9cd"/>
<rect x="211.7" y="196.1" width="1.9" height="8.1" fill="#23b9cd"/>
<rect x="211.7" y="204.0" width="1.9" height="8.1" fill="#23b9cd"/>
<rect x="211.7" y="211.9" width="1.9" height="8.1" fill="#23b9cd"/>
<rect x="211.7" y="219.8" width="1.9" height="8.1" fill="#031416"/>
<rect x="211.7" y="227.7" width="1.9" height="8.1" fill="#1d9eaf"/>
<rect x="211.7" y="235.6" width="1.9" height="8.1" fill="#23b9cd"/>
<rect x="211.7" y="243.5" width="1.9" height="8.1" fill="#105660"/>
<rect x="211.7" y="251.4" width="1.9" height="8.1" fill="#082f34"/>
<rect x="213.3" y="53.9" width="1.9" height="8.1" fill="#660000"/>
<rect x="213.3" y="61.8" width="1.9" height="8.1" fill="#9a0000"/>
<rect x="213.3" y="69.7" width="1.9" height="8.1" fill="#7a0000"/>
<rect x="213.3" y="77.6" width="1.9" height="8.1" fill="#7e0000"/>
<rect x="213.3" y="85.5" width="1.9" height="8.1" fill="#8d0000"/>
<rect x="213.3" y="93.4" width="1.9" height="8.1" fill="#920000"/>
<rect x="213.3" y="101.3" width="1.9" height="8.1" fill="#810000"/>
<rect x="213.3" y="109.2" width="1.9" height="8.1" fill="#810000"/>
<rect x="213.3" y="117.1" width="1.9" height="8.1" fill="#7a0000"/>
<rect x="213.3" y="125.0" width="1.9" height="8.1" fill="#10565f"/>
<rect x="213.3" y="132.9" width="1.9" height="8.1" fill="#0b3c42"/>
<rect x="213.3" y="140.8" width="1.9" height="8.1" fill="#0f515a"/>
<rect x="213.3" y="148.7" width="1.9" height="8.1" fill="#115e68"/>
<rect x="213.3" y="156.6" width="1.9" height="8.1" fill="#115c66"/>
<rect x="213.3" y="164.5" width="1.9" height="8.1" fill="#115a63"/>
<rect x="213.3" y="172.4" width="1.9" height="8.1" fill="#12636e"/>
<rect x="213.3" y="180.3" width="1.9" height="8.1" fill="#041619"/>
<rect x="213.3" y="188.2" width="1.9" height="8.1" fill="#115d67"/>
<rect x="213.3" y="196.1" width="1.9" height="8.1" fill="#23b9cd"/>
<rect x="213.3" y="204.0" width="1.9" height="8.1" fill="#136671"/>
<rect x="213.3" y="211.9" width="1.9" height="8.1" fill="#167784"/>
<rect x="213.3" y="219.8" width="1.9" height="8.1" fill="#040000"/>
<rect x="213.3" y="227.7" width="1.9" height="8.1" fill="#0e4c54"/>
<rect x="213.3" y="235.6" width="1.9" height="8.1" fill="#07282c"/>
<rect x="213.3" y="243.5" width="1.9" height="8.1" fill="#031113"/>
<rect x="213.3" y="251.4" width="1.9" height="8.1" fill="#031416"/>
<rect x="215.0" y="53.9" width="1.9" height="8.1" fill="#950000"/>
<rect x="215.0" y="61.8" width="1.9" height="8.1" fill="#9c0000"/>
<rect x="215.0" y="69.7" width="1.9" height="8.1" fill="#cb0000"/>
<rect x="215.0" y="77.6" width="1.9" height="8.1" fill="#dd0000"/>
<rect x="215.0" y="85.5" width="1.9" height="8.1" fill="#bf0000"/>
<rect x="215.0" y="93.4" width="1.9" height="8.1" fill="#9a0000"/>
<rect x="215.0" y="101.3" width="1.9" height="8.1" fill="#b00000"/>
<rect x="215.0" y="109.2" width="1.9" height="8.1" fill="#b10000"/>
<rect x="215.0" y="117.1" width="1.9" height="8.1" fill="#ba0000"/>
<rect x="215.0" y="125.0" width="1.9" height="8.1" fill="#1a0000"/>
<rect x="215.0" y="132.9" width="1.9" height="8.1" fill="#610000"/>
<rect x="215.0" y="140.8" width="1.9" height="8.1" fill="#2d0000"/>
<rect x="215.0" y="148.7" width="1.9" height="8.1" fill="#1a0000"/>
<rect x="215.0" y="156.6" width="1.9" height="8.1" fill="#000303"/>
<rect x="215.0" y="164.5" width="1.9" height="8.1" fill="#000000"/>
<rect x="215.0" y="172.4" width="1.9" height="8.1" fill="#190000"/>
<rect x="215.0" y="180.3" width="1.9" height="8.1" fill="#093338"/>
<rect x="215.0" y="188.2" width="1.9" height="8.1" fill="#105660"/>
<rect x="215.0" y="196.1" width="1.9" height="8.1" fill="#020000"/>
<rect x="215.0" y="204.0" width="1.9" height="8.1" fill="#041517"/>
<rect x="215.0" y="211.9" width="1.9" height="8.1" fill="#260000"/>
<rect x="215.0" y="219.8" width="1.9" height="8.1" fill="#610000"/>
<rect x="215.0" y="227.7" width="1.9" height="8.1" fill="#020000"/>
<rect x="215.0" y="235.6" width="1.9" height="8.1" fill="#150000"/>
<rect x="215.0" y="243.5" width="1.9" height="8.1" fill="#5c0000"/>
<rect x="215.0" y="251.4" width="1.9" height="8.1" fill="#b00000"/>
<rect x="216.7" y="53.9" width="1.9" height="8.1" fill="#840000"/>
<rect x="216.7" y="61.8" width="1.9" height="8.1" fill="#ae0000"/>
<rect x="216.7" y="69.7" width="1.9" height="8.1" fill="#b80000"/>
<rect x="216.7" y="77.6" width="1.9" height="8.1" fill="#c60000"/>
<rect x="216.7" y="85.5" width="1.9" height="8.1" fill="#c50000"/>
<rect x="216.7" y="93.4" width="1.9" height="8.1" fill="#be0000"/>
<rect x="216.7" y="101.3" width="1.9" height="8.1" fill="#b30000"/>
<rect x="216.7" y="109.2" width="1.9" height="8.1" fill="#8f0000"/>
<rect x="216.7" y="117.1" width="1.9" height="8.1" fill="#960000"/>
<rect x="216.7" y="125.0" width="1.9" height="8.1" fill="#210000"/>
<rect x="216.7" y="132.9" width="1.9" height="8.1" fill="#270000"/>
<rect x="216.7" y="140.8" width="1.9" height="8.1" fill="#160000"/>
<rect x="216.7" y="148.7" width="1.9" height="8.1" fill="#051e21"/>
<rect x="216.7" y="156.6" width="1.9" height="8.1" fill="#15717d"/>
<rect x="216.7" y="164.5" width="1.9" height="8.1" fill="#07272b"/>
<rect x="216.7" y="172.4" width="1.9" height="8.1" fill="#0a383e"/>
<rect x="216.7" y="180.3" width="1.9" height="8.1" fill="#0b3d44"/>
<rect x="216.7" y="188.2" width="1.9" height="8.1" fill="#1a8b9b"/>
<rect x="216.7" y="196.1" width="1.9" height="8.1" fill="#020000"/>
<rect x="216.7" y="204.0" width="1.9" height="8.1" fill="#350000"/>
<rect x="216.7" y="211.9" width="1.9" height="8.1" fill="#0a383e"/>
<rect x="216.7" y="219.8" width="1.9" height="8.1" fill="#230000"/>
<rect x="216.7" y="227.7" width="1.9" height="8.1" fill="#020b0c"/>
<rect x="216.7" y="235.6" width="1.9" height="8.1" fill="#0d0000"/>
<rect x="216.7" y="243.5" width="1.9" height="8.1" fill="#730000"/>
<rect x="216.7" y="251.4" width="1.9" height="8.1" fill="#3e0000"/>
<rect x="218.3" y="53.9" width="1.9" height="8.1" fill="#720000"/>
<rect x="218.3" y="61.8" width="1.9" height="8.1" fill="#640000"/>
<rect x="218.3" y="69.7" width="1.9" height="8.1" fill="#720000"/>
<rect x="218.3" y="77.6" width="1.9" height="8.1" fill="#840000"/>
<rect x="218.3" y="85.5" width="1.9" height="8.1" fill="#880000"/>
<rect x="218.3" y="93.4" width="1.9" height="8.1" fill="#770000"/>
<rect x="218.3" y="101.3" width="1.9" height="8.1" fill="#770000"/>
<rect x="218.3" y="109.2" width="1.9" height="8.1" fill="#690000"/>
<rect x="218.3" y="117.1" width="1.9" height="8.1" fill="#760000"/>
<rect x="218.3" y="125.0" width="1.9" height="8.1" fill="#198695"/>
<rect x="218.3" y="132.9" width="1.9" height="8.1" fill="#1e0000"/>
<rect x="218.3" y="140.8" width="1.9" height="8.1" fill="#0b3e45"/>
<rect x="218.3" y="148.7" width="1.9" height="8.1" fill="#100000"/>
<rect x="218.3" y="156.6" width="1.9" height="8.1" fill="#0a373d"/>
<rect x="218.3" y="164.5" width="1.9" height="8.1" fill="#125f69"/>
<rect x="218.3" y="172.4" width="1.9" height="8.1" fill="#072529"/>
<rect x="218.3" y="180.3" width="1.9" height="8.1" fill="#0d4850"/>
<rect x="218.3" y="188.2" width="1.9" height="8.1" fill="#150000"/>
<rect x="218.3" y="196.1" width="1.9" height="8.1" fill="#000000"/>
<rect x="218.3" y="204.0" width="1.9" height="8.1" fill="#198593"/>
<rect x="218.3" y="211.9" width="1.9" height="8.1" fill="#062226"/>
<rect x="218.3" y="219.8" width="1.9" height="8.1" fill="#12616b"/>
<rect x="218.3" y="227.7" width="1.9" height="8.1" fill="#167885"/>
<rect x="218.3" y="235.6" width="1.9" height="8.1" fill="#198998"/>
<rect x="218.3" y="243.5" width="1.9" height="8.1" fill="#051b1d"/>
<rect x="218.3" y="251.4" width="1.9" height="8.1" fill="#0f4f58"/>
</g>
<rect x="52" y="44.2" width="100.2" height="8" fill="#22d36b"/>
<rect x="155" y="44.2" width="27.2" height="8" fill="#7eaaf2"/>
<rect x="185" y="44.2" width="35" height="8" fill="#f5918b"/>
<text x="222.3" y="60.95" font-size="6.7" fill="#3a3a3a">KRT1</text>
<text x="222.3" y="68.85" font-size="6.7" fill="#3a3a3a">KRT14</text>
<text x="222.3" y="76.75" font-size="6.7" fill="#3a3a3a">KRT16</text>
<text x="222.3" y="84.65" font-size="6.7" fill="#3a3a3a">CD44</text>
<text x="222.3" y="92.55" font-size="6.7" fill="#3a3a3a">CDH3</text>
<text x="222.3" y="100.45" font-size="6.7" fill="#3a3a3a">KRT5</text>
<text x="222.3" y="108.35" font-size="6.7" fill="#3a3a3a">KRT6A</text>
<text x="222.3" y="116.25" font-size="6.7" fill="#3a3a3a">KRT6B</text>
<text x="222.3" y="124.15" font-size="6.7" fill="#3a3a3a">KRT6C</text>
<text x="222.3" y="132.05" font-size="6.7" fill="#3a3a3a">XBP1</text>
<text x="222.3" y="139.95" font-size="6.7" fill="#3a3a3a">CD24</text>
<text x="222.3" y="147.85" font-size="6.7" fill="#3a3a3a">CYP2J2</text>
<text x="222.3" y="155.75" font-size="6.7" fill="#3a3a3a">ERBB3</text>
<text x="222.3" y="163.65" font-size="6.7" fill="#3a3a3a">KRT19</text>
<text x="222.3" y="171.55" font-size="6.7" fill="#3a3a3a">KRT7</text>
<text x="222.3" y="179.45" font-size="6.7" fill="#3a3a3a">KRT18</text>
<text x="222.3" y="187.35" font-size="6.7" fill="#3a3a3a">KRT8</text>
<text x="222.3" y="195.25" font-size="6.7" fill="#3a3a3a">KRT20</text>
<text x="222.3" y="203.15" font-size="6.7" fill="#3a3a3a">ERBB2</text>
<text x="222.3" y="211.05" font-size="6.7" fill="#3a3a3a">GATA3</text>
<text x="222.3" y="218.95" font-size="6.7" fill="#3a3a3a">PPARG</text>
<text x="222.3" y="226.85" font-size="6.7" fill="#3a3a3a">FGFR3</text>
<text x="222.3" y="234.75" font-size="6.7" fill="#3a3a3a">FOXA1</text>
<text x="222.3" y="242.65" font-size="6.7" fill="#3a3a3a">GTX2</text>
<text x="222.3" y="250.55" font-size="6.7" fill="#3a3a3a">FABP4</text>
<text x="222.3" y="258.45" font-size="6.7" fill="#3a3a3a">ITIH5</text>
<text x="4.3" y="17.4" font-size="15.5" font-weight="bold" fill="#1a1a1a">A</text>
<path d="M52.94 36.9L52.94 33.23M54.86 35.58L54.86 32.97M52.94 30.98L54.86 30.98M52.94 30.98L52.94 33.23M54.86 30.98L54.86 32.97M56.33 36.3L56.33 34.63M57.48 36.82L57.48 32.3M56.33 31.04L57.48 31.04M56.33 31.04L56.33 34.63M57.48 31.04L57.48 32.3M59.07 34.45L59.07 33.56M56.9 29.57L59.07 29.57M56.9 29.57L56.9 31.04M59.07 29.57L59.07 33.56M53.9 28.5L57.99 28.5M53.9 28.5L53.9 30.98M57.99 28.5L57.99 29.57M62.24 37.79L62.24 33.97M65.96 37.25L65.96 34.98M69.89 37.78L69.89 35.61M65.96 32.14L69.89 32.14M65.96 32.14L65.96 34.98M69.89 32.14L69.89 35.61M62.24 29.75L67.93 29.75M62.24 29.75L62.24 33.97M67.93 29.75L67.93 32.14M73.25 37.03L73.25 33.88M75.05 35.25L75.05 34.48M73.25 32.31L75.05 32.31M73.25 32.31L73.25 33.88M75.05 32.31L75.05 34.48M76.97 32.87L76.97 31.88M74.15 29.91L76.97 29.91M74.15 29.91L74.15 32.31M76.97 29.91L76.97 31.88M65.08 27.5L75.56 27.5M65.08 27.5L65.08 29.75M75.56 27.5L75.56 29.91M55.94 26.5L70.32 26.5M55.94 26.5L55.94 28.5M70.32 26.5L70.32 27.5M79.66 37.73L79.66 35.33M82.4 35.04L82.4 34.12M79.66 33.16L82.4 33.16M79.66 33.16L79.66 35.33M82.4 33.16L82.4 34.12M87.74 35.23L87.74 33.93M81.03 29.97L87.74 29.97M81.03 29.97L81.03 33.16M87.74 29.97L87.74 33.93M93.2 36.96L93.2 34.62M96.34 36.6L96.34 34.76M99.14 36.95L99.14 35.7M96.34 32.44L99.14 32.44M96.34 32.44L96.34 34.76M99.14 32.44L99.14 35.7M93.2 31.54L97.74 31.54M93.2 31.54L93.2 34.62M97.74 31.54L97.74 32.44M84.39 28L95.47 28M84.39 28L84.39 29.97M95.47 28L95.47 31.54M101.23 37.23L101.23 36.08M104.3 38.87L104.3 36.2M101.23 33.09L104.3 33.09M101.23 33.09L101.23 36.08M104.3 33.09L104.3 36.2M107.56 37.03L107.56 35.05M102.76 31.73L107.56 31.73M102.76 31.73L102.76 33.09M107.56 31.73L107.56 35.05M112.09 37.61L112.09 34.05M117.1 38.27L117.1 35.43M120.5 37.5L120.5 34.53M117.1 32.24L120.5 32.24M117.1 32.24L117.1 35.43M120.5 32.24L120.5 34.53M112.09 30.69L118.8 30.69M112.09 30.69L112.09 34.05M118.8 30.69L118.8 32.24M105.16 27L115.45 27M105.16 27L105.16 31.73M115.45 27L115.45 30.69M89.93 25.5L110.31 25.5M89.93 25.5L89.93 28M110.31 25.5L110.31 27M125.6 35.12L125.6 33.83M130.26 38.77L130.26 36.18M132.17 37.02L132.17 33.78M130.26 33.21L132.17 33.21M130.26 33.21L130.26 36.18M132.17 33.21L132.17 33.78M125.6 30.49L131.22 30.49M125.6 30.49L125.6 33.83M131.22 30.49L131.22 33.21M134.53 38.32L134.53 34.89M137.03 38.33L137.03 34.99M134.53 32.36L137.03 32.36M134.53 32.36L134.53 34.89M137.03 32.36L137.03 34.99M128.41 29L135.78 29M128.41 29L128.41 30.49M135.78 29L135.78 32.36M139.7 36.76L139.7 34.41M142.5 37.4L142.5 33.84M144.59 36.64L144.59 35.74M142.5 32.92L144.59 32.92M142.5 32.92L142.5 33.84M144.59 32.92L144.59 35.74M139.7 32.21L143.55 32.21M139.7 32.21L139.7 34.41M143.55 32.21L143.55 32.92M147.65 35.59L147.65 33.95M150.96 35.12L150.96 34.15M147.65 30.82L150.96 30.82M147.65 30.82L147.65 33.95M150.96 30.82L150.96 34.15M141.62 28.5L149.31 28.5M141.62 28.5L141.62 32.21M149.31 28.5L149.31 30.82M132.09 27L145.46 27M132.09 27L132.09 29M145.46 27L145.46 28.5M100.12 24.5L138.78 24.5M100.12 24.5L100.12 25.5M138.78 24.5L138.78 27M63.13 22.4L119.45 22.4M63.13 22.4L63.13 26.5M119.45 22.4L119.45 24.5M155.82 36.37L155.82 31.54M157.33 33.8L157.33 32.77M155.82 28.53L157.33 28.53M155.82 28.53L155.82 31.54M157.33 28.53L157.33 32.77M159.01 32.51L159.01 30.69M160.8 36.54L160.8 35.02M162.31 38.63L162.31 35.37M160.8 32.39L162.31 32.39M160.8 32.39L160.8 35.02M162.31 32.39L162.31 35.37M159.01 28.81L161.56 28.81M159.01 28.81L159.01 30.69M161.56 28.81L161.56 32.39M156.58 27.5L160.28 27.5M156.58 27.5L156.58 28.53M160.28 27.5L160.28 28.81M163.55 37.74L163.55 35.58M164.99 38.31L164.99 34.82M163.55 32.04L164.99 32.04M163.55 32.04L163.55 35.58M164.99 32.04L164.99 34.82M166.33 36.66L166.33 32.56M167.53 35.29L167.53 31.83M166.33 29.56L167.53 29.56M166.33 29.56L166.33 32.56M167.53 29.56L167.53 31.83M164.27 28.46L166.93 28.46M164.27 28.46L164.27 32.04M166.93 28.46L166.93 29.56M168.77 36.16L168.77 34.48M170.33 32.62L170.33 31.47M168.77 30.49L170.33 30.49M168.77 30.49L168.77 34.48M170.33 30.49L170.33 31.47M171.74 35.59L171.74 33.92M172.89 37.24L172.89 34.37M171.74 32.26L172.89 32.26M171.74 32.26L171.74 33.92M172.89 32.26L172.89 34.37M169.55 28.03L172.32 28.03M169.55 28.03L169.55 30.49M172.32 28.03L172.32 32.26M174.66 35.23L174.66 33.51M176.08 33.15L176.08 31.79M174.66 29.4L176.08 29.4M174.66 29.4L174.66 33.51M176.08 29.4L176.08 31.79M170.93 27.11L175.37 27.11M170.93 27.11L170.93 28.03M175.37 27.11L175.37 29.4M165.6 25.5L173.15 25.5M165.6 25.5L165.6 28.46M173.15 25.5L173.15 27.11M158.43 20.5L169.38 20.5M158.43 20.5L158.43 27.5M169.38 20.5L169.38 25.5M177.18 23.28L177.18 20.79M178.33 27.04L178.33 20.19M177.18 17.5L178.33 17.5M177.18 17.5L177.18 20.79M178.33 17.5L178.33 20.19M179.78 25.34L179.78 18.56M181.48 22.47L181.48 18.76M179.78 16.5L181.48 16.5M179.78 16.5L179.78 18.56M181.48 16.5L181.48 18.76M177.76 14.3L180.63 14.3M177.76 14.3L177.76 17.5M180.63 14.3L180.63 16.5M163.9 9.3L179.19 9.3M163.9 9.3L163.9 20.5M179.19 9.3L179.19 14.3M186 27.79L186 25.5M187.85 34.31L187.85 31.96M189.43 34.66L189.43 33.83M187.85 29.87L189.43 29.87M187.85 29.87L187.85 31.96M189.43 29.87L189.43 33.83M191.1 34.33L191.1 32.42M192.51 35.78L192.51 33.54M191.1 30.87L192.51 30.87M191.1 30.87L191.1 32.42M192.51 30.87L192.51 33.54M188.64 27.5L191.8 27.5M188.64 27.5L188.64 29.87M191.8 27.5L191.8 30.87M193.86 35.51L193.86 32.74M195.29 34.88L195.29 30.46M193.86 28.08L195.29 28.08M193.86 28.08L193.86 32.74M195.29 28.08L195.29 30.46M196.77 34.7L196.77 33.6M198.34 36.66L198.34 33.23M196.77 31.38L198.34 31.38M196.77 31.38L196.77 33.6M198.34 31.38L198.34 33.23M194.57 26.5L197.55 26.5M194.57 26.5L194.57 28.08M197.55 26.5L197.55 31.38M190.22 25L196.06 25M190.22 25L190.22 27.5M196.06 25L196.06 26.5M199.7 36.53L199.7 34.79M200.93 35.38L200.93 33.39M202.06 38.04L202.06 35.02M200.93 32.51L202.06 32.51M200.93 32.51L200.93 33.39M202.06 32.51L202.06 35.02M199.7 31.6L201.5 31.6M199.7 31.6L199.7 34.79M201.5 31.6L201.5 32.51M203.94 37L203.94 34.02M205.91 37.17L205.91 33.39M203.94 31.46L205.91 31.46M203.94 31.46L203.94 34.02M205.91 31.46L205.91 33.39M207.69 34.28L207.69 32.25M209.54 37.25L209.54 34.94M210.65 37.98L210.65 35.25M209.54 32.22L210.65 32.22M209.54 32.22L209.54 34.94M210.65 32.22L210.65 35.25M207.69 31.08L210.09 31.08M207.69 31.08L207.69 32.25M210.09 31.08L210.09 32.22M204.93 30.09L208.89 30.09M204.93 30.09L204.93 31.46M208.89 30.09L208.89 31.08M200.6 28L206.91 28M200.6 28L200.6 31.6M206.91 28L206.91 30.09M211.86 33.7L211.86 32.74M213.6 34.2L213.6 30.84M211.86 29.54L213.6 29.54M211.86 29.54L211.86 32.74M213.6 29.54L213.6 30.84M215.38 37.31L215.38 33.09M217.38 33.82L217.38 32.07M219.23 37.33L219.23 33M217.38 29.85L219.23 29.85M217.38 29.85L217.38 32.07M219.23 29.85L219.23 33M215.38 28.58L218.3 28.58M215.38 28.58L215.38 33.09M218.3 28.58L218.3 29.85M212.73 26L216.84 26M212.73 26L212.73 29.54M216.84 26L216.84 28.58M203.75 24L214.79 24M203.75 24L203.75 28M214.79 24L214.79 26M193.14 21.1L209.27 21.1M193.14 21.1L193.14 25M209.27 21.1L209.27 24M186 14.3L201.21 14.3M186 14.3L186 25.5M201.21 14.3L201.21 21.1M171.55 4L193.6 4M171.55 4L171.55 9.3M193.6 4L193.6 14.3M91.29 4L182.58 4M91.29 4L91.29 22.4M182.58 4L182.58 4M52 44H53.87V36.9H52ZM53.87 44H55.85V35.58H53.87ZM55.85 44H56.81V36.3H55.85ZM56.81 44H58.14V36.82H56.81ZM58.14 44H60V34.45H58.14ZM60 44H64.48V37.79H60ZM64.48 44H67.44V37.25H64.48ZM67.44 44H72.35V37.78H67.44ZM72.35 44H74.15V37.03H72.35ZM74.15 44H75.95V35.25H74.15ZM75.95 44H78V32.87H75.95ZM78 44H81.33V37.73H78ZM81.33 44H83.48V35.04H81.33ZM83.48 44H91.99V35.23H83.48ZM91.99 44H94.4V36.96H91.99ZM94.4 44H98.28V36.6H94.4ZM98.28 44H100V36.95H98.28ZM100 44H102.45V37.23H100ZM102.45 44H106.15V38.87H102.45ZM106.15 44H108.97V37.03H106.15ZM108.97 44H115.21V37.61H108.97ZM115.21 44H119V38.27H115.21ZM119 44H122V37.5H119ZM122 44H129.2V35.12H122ZM129.2 44H131.32V38.77H129.2ZM131.32 44H133.01V37.02H131.32ZM133.01 44H136.05V38.32H133.01ZM136.05 44H138V38.33H136.05ZM138 44H141.4V36.76H138ZM141.4 44H143.61V37.4H141.4ZM143.61 44H145.57V36.64H143.61ZM145.57 44H149.73V35.59H145.57ZM149.73 44H152.2V35.12H149.73ZM155 44H156.64V36.37H155ZM156.64 44H158.03V33.8H156.64ZM158.03 44H159.99V32.51H158.03ZM159.99 44H161.61V36.54H159.99ZM161.61 44H163V38.63H161.61ZM163 44H164.1V37.74H163ZM164.1 44H165.88V38.31H164.1ZM165.88 44H166.77V36.66H165.88ZM166.77 44H168.28V35.29H166.77ZM168.28 44H169.26V36.16H168.28ZM169.26 44H171.39V32.62H169.26ZM171.39 44H172.1V35.59H171.39ZM172.1 44H173.68V37.24H172.1ZM173.68 44H175.65V35.23H173.68ZM175.65 44H176.5V33.15H175.65ZM176.5 44H177.87V23.28H176.5ZM177.87 44H178.8V27.04H177.87ZM178.8 44H180.75V25.34H178.8ZM180.75 44H182.2V22.47H180.75ZM185 44H187V27.79H185ZM187 44H188.69V34.31H187ZM188.69 44H190.17V34.66H188.69ZM190.17 44H192.02V34.33H190.17ZM192.02 44H193V35.78H192.02ZM193 44H194.71V35.51H193ZM194.71 44H195.86V34.88H194.71ZM195.86 44H197.68V34.7H195.86ZM197.68 44H199V36.66H197.68ZM199 44H200.39V36.53H199ZM200.39 44H201.47V35.38H200.39ZM201.47 44H202.65V38.04H201.47ZM202.65 44H205.22V37H202.65ZM205.22 44H206.6V37.17H205.22ZM206.6 44H208.79V34.28H206.6ZM208.79 44H210.29V37.25H208.79ZM210.29 44H211V37.98H210.29ZM211 44H212.73V33.7H211ZM212.73 44H214.47V34.2H212.73ZM214.47 44H216.29V37.31H214.47ZM216.29 44H218.46V33.82H216.29ZM218.46 44H220V37.33H218.46Z" stroke="#000" stroke-width="0.7" fill="#000"/>
<path d="M35.5 65.75L35.5 73.65M35.5 65.75L52 65.75M35.5 73.65L52 73.65M28.2 57.85L28.2 69.7M28.2 57.85L52 57.85M28.2 69.7L35.5 69.7M45 113.15L45 121.05M45 113.15L52 113.15M45 121.05L52 121.05M43.4 105.25L43.4 117.1M43.4 105.25L52 105.25M43.4 117.1L45 117.1M36.6 97.35L36.6 111.18M36.6 97.35L52 97.35M36.6 111.18L43.4 111.18M30.4 89.45L30.4 104.26M30.4 89.45L52 89.45M30.4 104.26L36.6 104.26M26.5 81.55L26.5 96.86M26.5 81.55L52 81.55M26.5 96.86L30.4 96.86M24.5 63.78L24.5 89.2M24.5 63.78L28.2 63.78M24.5 89.2L26.5 89.2M34.3 152.65L34.3 160.55M34.3 152.65L52 152.65M34.3 160.55L52 160.55M29.5 144.75L29.5 156.6M29.5 144.75L52 144.75M29.5 156.6L34.3 156.6M26.2 136.85L26.2 150.68M26.2 136.85L52 136.85M26.2 150.68L29.5 150.68M38.9 176.35L38.9 184.25M38.9 176.35L52 176.35M38.9 184.25L52 184.25M30.4 168.45L30.4 180.3M30.4 168.45L52 168.45M30.4 180.3L38.9 180.3M34.5 207.95L34.5 215.85M34.5 207.95L52 207.95M34.5 215.85L52 215.85M30 200.05L30 211.9M30 200.05L52 200.05M30 211.9L34.5 211.9M28.7 192.15L28.7 205.98M28.7 192.15L52 192.15M28.7 205.98L30 205.98M26.1 174.38L26.1 199.06M26.1 174.38L30.4 174.38M26.1 199.06L28.7 199.06M23.9 143.76L23.9 186.72M23.9 143.76L26.2 143.76M23.9 186.72L26.1 186.72M21.4 128.95L21.4 165.24M21.4 128.95L52 128.95M21.4 165.24L23.9 165.24M32 231.65L32 239.55M32 231.65L52 231.65M32 239.55L52 239.55M27.7 223.75L27.7 235.6M27.7 223.75L52 223.75M27.7 235.6L32 235.6M25.4 247.45L25.4 255.35M25.4 247.45L52 247.45M25.4 255.35L52 255.35M20.3 229.68L20.3 251.4M20.3 229.68L27.7 229.68M20.3 251.4L25.4 251.4M16.9 147.1L16.9 240.54M16.9 147.1L21.4 147.1M16.9 240.54L20.3 240.54M11.9 76.49L11.9 193.82M11.9 76.49L24.5 76.49M11.9 193.82L16.9 193.82" stroke="#6a6a6a" stroke-width="1" fill="none"/>
<rect x="231.6" y="12.8" width="6.6" height="6.6" fill="#7eaaf2"/>
<rect x="231.6" y="19.4" width="6.6" height="6.6" fill="#22d36b"/>
<rect x="231.6" y="26" width="6.6" height="6.6" fill="#f5918b"/>
<text x="240.7" y="18.9" font-size="6.45" fill="#333">Non-SCC basal</text>
<text x="240.7" y="25.5" font-size="6.45" fill="#333">Non-SCC luminal</text>
<text x="240.7" y="32.1" font-size="6.45" fill="#333">SCC-like basal</text>
<rect x="255.5" y="62.6" width="3.8" height="59.1" fill="url(#gA)"/>
<text x="261" y="77.7" font-size="4.6" fill="#666">5</text>
<text x="261" y="93.8" font-size="4.6" fill="#666">0</text>
<text x="259.8" y="110.3" font-size="4.6" fill="#666">-5</text>
<text x="297" y="16.1" font-size="15.5" font-weight="bold" fill="#1a1a1a">B</text>
<text x="364.2" y="17.9" font-size="10.8" fill="#333">SCC-like basal</text>
<g shape-rendering="crispEdges">
<rect x="312.1" y="55.1" width="7.6" height="7.39" fill="#ff0000"/>
<rect x="319.6" y="55.1" width="7.6" height="7.39" fill="#8e0000"/>
<rect x="327.1" y="55.1" width="7.6" height="7.39" fill="#8e0000"/>
<rect x="334.6" y="55.1" width="7.6" height="7.39" fill="#9b0000"/>
<rect x="342.1" y="55.1" width="7.6" height="7.39" fill="#9b0000"/>
<rect x="349.6" y="55.1" width="7.6" height="7.39" fill="#9b0000"/>
<rect x="357.1" y="55.1" width="7.6" height="7.39" fill="#9b0000"/>
<rect x="364.6" y="55.1" width="7.6" height="7.39" fill="#5c0000"/>
<rect x="372.1" y="55.1" width="7.6" height="7.39" fill="#4f0000"/>
<rect x="379.6" y="55.1" width="7.6" height="7.39" fill="#350000"/>
<rect x="387.1" y="55.1" width="7.6" height="7.39" fill="#420000"/>
<rect x="394.6" y="55.1" width="7.6" height="7.39" fill="#5c0000"/>
<rect x="402.1" y="55.1" width="7.6" height="7.39" fill="#106d79"/>
<rect x="409.6" y="55.1" width="7.6" height="7.39" fill="#106d79"/>
<rect x="417.1" y="55.1" width="7.6" height="7.39" fill="#138190"/>
<rect x="424.6" y="55.1" width="7.6" height="7.39" fill="#106d79"/>
<rect x="432.1" y="55.1" width="7.6" height="7.39" fill="#000000"/>
<rect x="439.6" y="55.1" width="7.6" height="7.39" fill="#117785"/>
<rect x="447.1" y="55.1" width="7.6" height="7.39" fill="#0d5862"/>
<rect x="454.6" y="55.1" width="7.6" height="7.39" fill="#0d5862"/>
<rect x="462.1" y="55.1" width="7.6" height="7.39" fill="#0b4d56"/>
<rect x="469.6" y="55.1" width="7.6" height="7.39" fill="#0e636e"/>
<rect x="477.1" y="55.1" width="7.6" height="7.39" fill="#5c0000"/>
<rect x="484.6" y="55.1" width="7.6" height="7.39" fill="#4f0000"/>
<rect x="492.1" y="55.1" width="7.6" height="7.39" fill="#041e21"/>
<rect x="499.6" y="55.1" width="7.6" height="7.39" fill="#041e21"/>
<rect x="312.1" y="62.39" width="7.6" height="7.39" fill="#8e0000"/>
<rect x="319.6" y="62.39" width="7.6" height="7.39" fill="#ff0000"/>
<rect x="327.1" y="62.39" width="7.6" height="7.39" fill="#b40000"/>
<rect x="334.6" y="62.39" width="7.6" height="7.39" fill="#b40000"/>
<rect x="342.1" y="62.39" width="7.6" height="7.39" fill="#c00000"/>
<rect x="349.6" y="62.39" width="7.6" height="7.39" fill="#c00000"/>
<rect x="357.1" y="62.39" width="7.6" height="7.39" fill="#b40000"/>
<rect x="364.6" y="62.39" width="7.6" height="7.39" fill="#750000"/>
<rect x="372.1" y="62.39" width="7.6" height="7.39" fill="#4f0000"/>
<rect x="379.6" y="62.39" width="7.6" height="7.39" fill="#280000"/>
<rect x="387.1" y="62.39" width="7.6" height="7.39" fill="#5c0000"/>
<rect x="394.6" y="62.39" width="7.6" height="7.39" fill="#680000"/>
<rect x="402.1" y="62.39" width="7.6" height="7.39" fill="#0d5862"/>
<rect x="409.6" y="62.39" width="7.6" height="7.39" fill="#0b4d56"/>
<rect x="417.1" y="62.39" width="7.6" height="7.39" fill="#138190"/>
<rect x="424.6" y="62.39" width="7.6" height="7.39" fill="#138190"/>
<rect x="432.1" y="62.39" width="7.6" height="7.39" fill="#094249"/>
<rect x="439.6" y="62.39" width="7.6" height="7.39" fill="#0b4d56"/>
<rect x="447.1" y="62.39" width="7.6" height="7.39" fill="#0d5862"/>
<rect x="454.6" y="62.39" width="7.6" height="7.39" fill="#0b4d56"/>
<rect x="462.1" y="62.39" width="7.6" height="7.39" fill="#0d5862"/>
<rect x="469.6" y="62.39" width="7.6" height="7.39" fill="#094249"/>
<rect x="477.1" y="62.39" width="7.6" height="7.39" fill="#5c0000"/>
<rect x="484.6" y="62.39" width="7.6" height="7.39" fill="#280000"/>
<rect x="492.1" y="62.39" width="7.6" height="7.39" fill="#041e21"/>
<rect x="499.6" y="62.39" width="7.6" height="7.39" fill="#08363d"/>
<rect x="312.1" y="69.68" width="7.6" height="7.39" fill="#8e0000"/>
<rect x="319.6" y="69.68" width="7.6" height="7.39" fill="#b40000"/>
<rect x="327.1" y="69.68" width="7.6" height="7.39" fill="#ff0000"/>
<rect x="334.6" y="69.68" width="7.6" height="7.39" fill="#c00000"/>
<rect x="342.1" y="69.68" width="7.6" height="7.39" fill="#c00000"/>
<rect x="349.6" y="69.68" width="7.6" height="7.39" fill="#c00000"/>
<rect x="357.1" y="69.68" width="7.6" height="7.39" fill="#b40000"/>
<rect x="364.6" y="69.68" width="7.6" height="7.39" fill="#750000"/>
<rect x="372.1" y="69.68" width="7.6" height="7.39" fill="#350000"/>
<rect x="379.6" y="69.68" width="7.6" height="7.39" fill="#5c0000"/>
<rect x="387.1" y="69.68" width="7.6" height="7.39" fill="#750000"/>
<rect x="394.6" y="69.68" width="7.6" height="7.39" fill="#750000"/>
<rect x="402.1" y="69.68" width="7.6" height="7.39" fill="#0e636e"/>
<rect x="409.6" y="69.68" width="7.6" height="7.39" fill="#106d79"/>
<rect x="417.1" y="69.68" width="7.6" height="7.39" fill="#117785"/>
<rect x="424.6" y="69.68" width="7.6" height="7.39" fill="#106d79"/>
<rect x="432.1" y="69.68" width="7.6" height="7.39" fill="#0d5862"/>
<rect x="439.6" y="69.68" width="7.6" height="7.39" fill="#106d79"/>
<rect x="447.1" y="69.68" width="7.6" height="7.39" fill="#117785"/>
<rect x="454.6" y="69.68" width="7.6" height="7.39" fill="#106d79"/>
<rect x="462.1" y="69.68" width="7.6" height="7.39" fill="#0d5862"/>
<rect x="469.6" y="69.68" width="7.6" height="7.39" fill="#0e636e"/>
<rect x="477.1" y="69.68" width="7.6" height="7.39" fill="#000000"/>
<rect x="484.6" y="69.68" width="7.6" height="7.39" fill="#094249"/>
<rect x="492.1" y="69.68" width="7.6" height="7.39" fill="#08363d"/>
<rect x="499.6" y="69.68" width="7.6" height="7.39" fill="#094249"/>
<rect x="312.1" y="76.97" width="7.6" height="7.39" fill="#9b0000"/>
<rect x="319.6" y="76.97" width="7.6" height="7.39" fill="#b40000"/>
<rect x="327.1" y="76.97" width="7.6" height="7.39" fill="#c00000"/>
<rect x="334.6" y="76.97" width="7.6" height="7.39" fill="#ff0000"/>
<rect x="342.1" y="76.97" width="7.6" height="7.39" fill="#d90000"/>
<rect x="349.6" y="76.97" width="7.6" height="7.39" fill="#d90000"/>
<rect x="357.1" y="76.97" width="7.6" height="7.39" fill="#d90000"/>
<rect x="364.6" y="76.97" width="7.6" height="7.39" fill="#750000"/>
<rect x="372.1" y="76.97" width="7.6" height="7.39" fill="#750000"/>
<rect x="379.6" y="76.97" width="7.6" height="7.39" fill="#5c0000"/>
<rect x="387.1" y="76.97" width="7.6" height="7.39" fill="#750000"/>
<rect x="394.6" y="76.97" width="7.6" height="7.39" fill="#750000"/>
<rect x="402.1" y="76.97" width="7.6" height="7.39" fill="#138190"/>
<rect x="409.6" y="76.97" width="7.6" height="7.39" fill="#148b9b"/>
<rect x="417.1" y="76.97" width="7.6" height="7.39" fill="#138190"/>
<rect x="424.6" y="76.97" width="7.6" height="7.39" fill="#117785"/>
<rect x="432.1" y="76.97" width="7.6" height="7.39" fill="#0d5862"/>
<rect x="439.6" y="76.97" width="7.6" height="7.39" fill="#106d79"/>
<rect x="447.1" y="76.97" width="7.6" height="7.39" fill="#117785"/>
<rect x="454.6" y="76.97" width="7.6" height="7.39" fill="#0b4d56"/>
<rect x="462.1" y="76.97" width="7.6" height="7.39" fill="#062b2f"/>
<rect x="469.6" y="76.97" width="7.6" height="7.39" fill="#062b2f"/>
<rect x="477.1" y="76.97" width="7.6" height="7.39" fill="#0d0000"/>
<rect x="484.6" y="76.97" width="7.6" height="7.39" fill="#1b0000"/>
<rect x="492.1" y="76.97" width="7.6" height="7.39" fill="#062b2f"/>
<rect x="499.6" y="76.97" width="7.6" height="7.39" fill="#094249"/>
<rect x="312.1" y="84.26" width="7.6" height="7.39" fill="#9b0000"/>
<rect x="319.6" y="84.26" width="7.6" height="7.39" fill="#c00000"/>
<rect x="327.1" y="84.26" width="7.6" height="7.39" fill="#c00000"/>
<rect x="334.6" y="84.26" width="7.6" height="7.39" fill="#d90000"/>
<rect x="342.1" y="84.26" width="7.6" height="7.39" fill="#ff0000"/>
<rect x="349.6" y="84.26" width="7.6" height="7.39" fill="#eb0000"/>
<rect x="357.1" y="84.26" width="7.6" height="7.39" fill="#e60000"/>
<rect x="364.6" y="84.26" width="7.6" height="7.39" fill="#750000"/>
<rect x="372.1" y="84.26" width="7.6" height="7.39" fill="#680000"/>
<rect x="379.6" y="84.26" width="7.6" height="7.39" fill="#4f0000"/>
<rect x="387.1" y="84.26" width="7.6" height="7.39" fill="#750000"/>
<rect x="394.6" y="84.26" width="7.6" height="7.39" fill="#820000"/>
<rect x="402.1" y="84.26" width="7.6" height="7.39" fill="#0e636e"/>
<rect x="409.6" y="84.26" width="7.6" height="7.39" fill="#138190"/>
<rect x="417.1" y="84.26" width="7.6" height="7.39" fill="#138190"/>
<rect x="424.6" y="84.26" width="7.6" height="7.39" fill="#138190"/>
<rect x="432.1" y="84.26" width="7.6" height="7.39" fill="#0d5862"/>
<rect x="439.6" y="84.26" width="7.6" height="7.39" fill="#106d79"/>
<rect x="447.1" y="84.26" width="7.6" height="7.39" fill="#117785"/>
<rect x="454.6" y="84.26" width="7.6" height="7.39" fill="#0e636e"/>
<rect x="462.1" y="84.26" width="7.6" height="7.39" fill="#0b4d56"/>
<rect x="469.6" y="84.26" width="7.6" height="7.39" fill="#0b4d56"/>
<rect x="477.1" y="84.26" width="7.6" height="7.39" fill="#4f0000"/>
<rect x="484.6" y="84.26" width="7.6" height="7.39" fill="#0d0000"/>
<rect x="492.1" y="84.26" width="7.6" height="7.39" fill="#041e21"/>
<rect x="499.6" y="84.26" width="7.6" height="7.39" fill="#094249"/>
<rect x="312.1" y="91.55" width="7.6" height="7.39" fill="#9b0000"/>
<rect x="319.6" y="91.55" width="7.6" height="7.39" fill="#c00000"/>
<rect x="327.1" y="91.55" width="7.6" height="7.39" fill="#c00000"/>
<rect x="334.6" y="91.55" width="7.6" height="7.39" fill="#d90000"/>
<rect x="342.1" y="91.55" width="7.6" height="7.39" fill="#eb0000"/>
<rect x="349.6" y="91.55" width="7.6" height="7.39" fill="#ff0000"/>
<rect x="357.1" y="91.55" width="7.6" height="7.39" fill="#eb0000"/>
<rect x="364.6" y="91.55" width="7.6" height="7.39" fill="#750000"/>
<rect x="372.1" y="91.55" width="7.6" height="7.39" fill="#680000"/>
<rect x="379.6" y="91.55" width="7.6" height="7.39" fill="#5c0000"/>
<rect x="387.1" y="91.55" width="7.6" height="7.39" fill="#750000"/>
<rect x="394.6" y="91.55" width="7.6" height="7.39" fill="#820000"/>
<rect x="402.1" y="91.55" width="7.6" height="7.39" fill="#0e636e"/>
<rect x="409.6" y="91.55" width="7.6" height="7.39" fill="#138190"/>
<rect x="417.1" y="91.55" width="7.6" height="7.39" fill="#148b9b"/>
<rect x="424.6" y="91.55" width="7.6" height="7.39" fill="#138190"/>
<rect x="432.1" y="91.55" width="7.6" height="7.39" fill="#0d5862"/>
<rect x="439.6" y="91.55" width="7.6" height="7.39" fill="#106d79"/>
<rect x="447.1" y="91.55" width="7.6" height="7.39" fill="#117785"/>
<rect x="454.6" y="91.55" width="7.6" height="7.39" fill="#0d5862"/>
<rect x="462.1" y="91.55" width="7.6" height="7.39" fill="#0b4d56"/>
<rect x="469.6" y="91.55" width="7.6" height="7.39" fill="#0d5862"/>
<rect x="477.1" y="91.55" width="7.6" height="7.39" fill="#420000"/>
<rect x="484.6" y="91.55" width="7.6" height="7.39" fill="#0d0000"/>
<rect x="492.1" y="91.55" width="7.6" height="7.39" fill="#062b2f"/>
<rect x="499.6" y="91.55" width="7.6" height="7.39" fill="#094249"/>
<rect x="312.1" y="98.84" width="7.6" height="7.39" fill="#9b0000"/>
<rect x="319.6" y="98.84" width="7.6" height="7.39" fill="#b40000"/>
<rect x="327.1" y="98.84" width="7.6" height="7.39" fill="#b40000"/>
<rect x="334.6" y="98.84" width="7.6" height="7.39" fill="#d90000"/>
<rect x="342.1" y="98.84" width="7.6" height="7.39" fill="#e60000"/>
<rect x="349.6" y="98.84" width="7.6" height="7.39" fill="#eb0000"/>
<rect x="357.1" y="98.84" width="7.6" height="7.39" fill="#ff0000"/>
<rect x="364.6" y="98.84" width="7.6" height="7.39" fill="#750000"/>
<rect x="372.1" y="98.84" width="7.6" height="7.39" fill="#680000"/>
<rect x="379.6" y="98.84" width="7.6" height="7.39" fill="#4f0000"/>
<rect x="387.1" y="98.84" width="7.6" height="7.39" fill="#820000"/>
<rect x="394.6" y="98.84" width="7.6" height="7.39" fill="#820000"/>
<rect x="402.1" y="98.84" width="7.6" height="7.39" fill="#0e636e"/>
<rect x="409.6" y="98.84" width="7.6" height="7.39" fill="#138190"/>
<rect x="417.1" y="98.84" width="7.6" height="7.39" fill="#148b9b"/>
<rect x="424.6" y="98.84" width="7.6" height="7.39" fill="#138190"/>
<rect x="432.1" y="98.84" width="7.6" height="7.39" fill="#0b4d56"/>
<rect x="439.6" y="98.84" width="7.6" height="7.39" fill="#106d79"/>
<rect x="447.1" y="98.84" width="7.6" height="7.39" fill="#117785"/>
<rect x="454.6" y="98.84" width="7.6" height="7.39" fill="#0e636e"/>
<rect x="462.1" y="98.84" width="7.6" height="7.39" fill="#0b4d56"/>
<rect x="469.6" y="98.84" width="7.6" height="7.39" fill="#0b4d56"/>
<rect x="477.1" y="98.84" width="7.6" height="7.39" fill="#4f0000"/>
<rect x="484.6" y="98.84" width="7.6" height="7.39" fill="#0d0000"/>
<rect x="492.1" y="98.84" width="7.6" height="7.39" fill="#062b2f"/>
<rect x="499.6" y="98.84" width="7.6" height="7.39" fill="#094249"/>
<rect x="312.1" y="106.13" width="7.6" height="7.39" fill="#5c0000"/>
<rect x="319.6" y="106.13" width="7.6" height="7.39" fill="#750000"/>
<rect x="327.1" y="106.13" width="7.6" height="7.39" fill="#750000"/>
<rect x="334.6" y="106.13" width="7.6" height="7.39" fill="#750000"/>
<rect x="342.1" y="106.13" width="7.6" height="7.39" fill="#750000"/>
<rect x="349.6" y="106.13" width="7.6" height="7.39" fill="#750000"/>
<rect x="357.1" y="106.13" width="7.6" height="7.39" fill="#750000"/>
<rect x="364.6" y="106.13" width="7.6" height="7.39" fill="#ff0000"/>
<rect x="372.1" y="106.13" width="7.6" height="7.39" fill="#8e0000"/>
<rect x="379.6" y="106.13" width="7.6" height="7.39" fill="#0d0000"/>
<rect x="387.1" y="106.13" width="7.6" height="7.39" fill="#1b0000"/>
<rect x="394.6" y="106.13" width="7.6" height="7.39" fill="#280000"/>
<rect x="402.1" y="106.13" width="7.6" height="7.39" fill="#0b4d56"/>
<rect x="409.6" y="106.13" width="7.6" height="7.39" fill="#0d5862"/>
<rect x="417.1" y="106.13" width="7.6" height="7.39" fill="#0e636e"/>
<rect x="424.6" y="106.13" width="7.6" height="7.39" fill="#0d5862"/>
<rect x="432.1" y="106.13" width="7.6" height="7.39" fill="#000000"/>
<rect x="439.6" y="106.13" width="7.6" height="7.39" fill="#062b2f"/>
<rect x="447.1" y="106.13" width="7.6" height="7.39" fill="#062b2f"/>
<rect x="454.6" y="106.13" width="7.6" height="7.39" fill="#021012"/>
<rect x="462.1" y="106.13" width="7.6" height="7.39" fill="#9b0000"/>
<rect x="469.6" y="106.13" width="7.6" height="7.39" fill="#350000"/>
<rect x="477.1" y="106.13" width="7.6" height="7.39" fill="#021012"/>
<rect x="484.6" y="106.13" width="7.6" height="7.39" fill="#8e0000"/>
<rect x="492.1" y="106.13" width="7.6" height="7.39" fill="#041e21"/>
<rect x="499.6" y="106.13" width="7.6" height="7.39" fill="#021012"/>
<rect x="312.1" y="113.42" width="7.6" height="7.39" fill="#4f0000"/>
<rect x="319.6" y="113.42" width="7.6" height="7.39" fill="#4f0000"/>
<rect x="327.1" y="113.42" width="7.6" height="7.39" fill="#350000"/>
<rect x="334.6" y="113.42" width="7.6" height="7.39" fill="#750000"/>
<rect x="342.1" y="113.42" width="7.6" height="7.39" fill="#680000"/>
<rect x="349.6" y="113.42" width="7.6" height="7.39" fill="#680000"/>
<rect x="357.1" y="113.42" width="7.6" height="7.39" fill="#680000"/>
<rect x="364.6" y="113.42" width="7.6" height="7.39" fill="#8e0000"/>
<rect x="372.1" y="113.42" width="7.6" height="7.39" fill="#ff0000"/>
<rect x="379.6" y="113.42" width="7.6" height="7.39" fill="#350000"/>
<rect x="387.1" y="113.42" width="7.6" height="7.39" fill="#350000"/>
<rect x="394.6" y="113.42" width="7.6" height="7.39" fill="#0d0000"/>
<rect x="402.1" y="113.42" width="7.6" height="7.39" fill="#0b4d56"/>
<rect x="409.6" y="113.42" width="7.6" height="7.39" fill="#138190"/>
<rect x="417.1" y="113.42" width="7.6" height="7.39" fill="#19a9bb"/>
<rect x="424.6" y="113.42" width="7.6" height="7.39" fill="#106d79"/>
<rect x="432.1" y="113.42" width="7.6" height="7.39" fill="#000000"/>
<rect x="439.6" y="113.42" width="7.6" height="7.39" fill="#094249"/>
<rect x="447.1" y="113.42" width="7.6" height="7.39" fill="#0b4d56"/>
<rect x="454.6" y="113.42" width="7.6" height="7.39" fill="#08363d"/>
<rect x="462.1" y="113.42" width="7.6" height="7.39" fill="#b40000"/>
<rect x="469.6" y="113.42" width="7.6" height="7.39" fill="#0d0000"/>
<rect x="477.1" y="113.42" width="7.6" height="7.39" fill="#041e21"/>
<rect x="484.6" y="113.42" width="7.6" height="7.39" fill="#8e0000"/>
<rect x="492.1" y="113.42" width="7.6" height="7.39" fill="#0b4d56"/>
<rect x="499.6" y="113.42" width="7.6" height="7.39" fill="#08363d"/>
<rect x="312.1" y="120.71" width="7.6" height="7.39" fill="#350000"/>
<rect x="319.6" y="120.71" width="7.6" height="7.39" fill="#280000"/>
<rect x="327.1" y="120.71" width="7.6" height="7.39" fill="#5c0000"/>
<rect x="334.6" y="120.71" width="7.6" height="7.39" fill="#5c0000"/>
<rect x="342.1" y="120.71" width="7.6" height="7.39" fill="#4f0000"/>
<rect x="349.6" y="120.71" width="7.6" height="7.39" fill="#5c0000"/>
<rect x="357.1" y="120.71" width="7.6" height="7.39" fill="#4f0000"/>
<rect x="364.6" y="120.71" width="7.6" height="7.39" fill="#0d0000"/>
<rect x="372.1" y="120.71" width="7.6" height="7.39" fill="#350000"/>
<rect x="379.6" y="120.71" width="7.6" height="7.39" fill="#ff0000"/>
<rect x="387.1" y="120.71" width="7.6" height="7.39" fill="#5c0000"/>
<rect x="394.6" y="120.71" width="7.6" height="7.39" fill="#5c0000"/>
<rect x="402.1" y="120.71" width="7.6" height="7.39" fill="#0d5862"/>
<rect x="409.6" y="120.71" width="7.6" height="7.39" fill="#0d5862"/>
<rect x="417.1" y="120.71" width="7.6" height="7.39" fill="#08363d"/>
<rect x="424.6" y="120.71" width="7.6" height="7.39" fill="#041e21"/>
<rect x="432.1" y="120.71" width="7.6" height="7.39" fill="#041e21"/>
<rect x="439.6" y="120.71" width="7.6" height="7.39" fill="#000000"/>
<rect x="447.1" y="120.71" width="7.6" height="7.39" fill="#094249"/>
<rect x="454.6" y="120.71" width="7.6" height="7.39" fill="#000000"/>
<rect x="462.1" y="120.71" width="7.6" height="7.39" fill="#041e21"/>
<rect x="469.6" y="120.71" width="7.6" height="7.39" fill="#000000"/>
<rect x="477.1" y="120.71" width="7.6" height="7.39" fill="#0b4d56"/>
<rect x="484.6" y="120.71" width="7.6" height="7.39" fill="#0d5862"/>
<rect x="492.1" y="120.71" width="7.6" height="7.39" fill="#08363d"/>
<rect x="499.6" y="120.71" width="7.6" height="7.39" fill="#750000"/>
<rect x="312.1" y="128" width="7.6" height="7.39" fill="#420000"/>
<rect x="319.6" y="128" width="7.6" height="7.39" fill="#5c0000"/>
<rect x="327.1" y="128" width="7.6" height="7.39" fill="#750000"/>
<rect x="334.6" y="128" width="7.6" height="7.39" fill="#750000"/>
<rect x="342.1" y="128" width="7.6" height="7.39" fill="#750000"/>
<rect x="349.6" y="128" width="7.6" height="7.39" fill="#750000"/>
<rect x="357.1" y="128" width="7.6" height="7.39" fill="#820000"/>
<rect x="364.6" y="128" width="7.6" height="7.39" fill="#1b0000"/>
<rect x="372.1" y="128" width="7.6" height="7.39" fill="#350000"/>
<rect x="379.6" y="128" width="7.6" height="7.39" fill="#5c0000"/>
<rect x="387.1" y="128" width="7.6" height="7.39" fill="#ff0000"/>
<rect x="394.6" y="128" width="7.6" height="7.39" fill="#820000"/>
<rect x="402.1" y="128" width="7.6" height="7.39" fill="#0d5862"/>
<rect x="409.6" y="128" width="7.6" height="7.39" fill="#0e636e"/>
<rect x="417.1" y="128" width="7.6" height="7.39" fill="#106d79"/>
<rect x="424.6" y="128" width="7.6" height="7.39" fill="#106d79"/>
<rect x="432.1" y="128" width="7.6" height="7.39" fill="#0d5862"/>
<rect x="439.6" y="128" width="7.6" height="7.39" fill="#117785"/>
<rect x="447.1" y="128" width="7.6" height="7.39" fill="#106d79"/>
<rect x="454.6" y="128" width="7.6" height="7.39" fill="#106d79"/>
<rect x="462.1" y="128" width="7.6" height="7.39" fill="#106d79"/>
<rect x="469.6" y="128" width="7.6" height="7.39" fill="#0d5862"/>
<rect x="477.1" y="128" width="7.6" height="7.39" fill="#000000"/>
<rect x="484.6" y="128" width="7.6" height="7.39" fill="#106d79"/>
<rect x="492.1" y="128" width="7.6" height="7.39" fill="#041e21"/>
<rect x="499.6" y="128" width="7.6" height="7.39" fill="#08363d"/>
<rect x="312.1" y="135.29" width="7.6" height="7.39" fill="#5c0000"/>
<rect x="319.6" y="135.29" width="7.6" height="7.39" fill="#680000"/>
<rect x="327.1" y="135.29" width="7.6" height="7.39" fill="#750000"/>
<rect x="334.6" y="135.29" width="7.6" height="7.39" fill="#750000"/>
<rect x="342.1" y="135.29" width="7.6" height="7.39" fill="#820000"/>
<rect x="349.6" y="135.29" width="7.6" height="7.39" fill="#820000"/>
<rect x="357.1" y="135.29" width="7.6" height="7.39" fill="#820000"/>
<rect x="364.6" y="135.29" width="7.6" height="7.39" fill="#280000"/>
<rect x="372.1" y="135.29" width="7.6" height="7.39" fill="#0d0000"/>
<rect x="379.6" y="135.29" width="7.6" height="7.39" fill="#5c0000"/>
<rect x="387.1" y="135.29" width="7.6" height="7.39" fill="#820000"/>
<rect x="394.6" y="135.29" width="7.6" height="7.39" fill="#ff0000"/>
<rect x="402.1" y="135.29" width="7.6" height="7.39" fill="#062b2f"/>
<rect x="409.6" y="135.29" width="7.6" height="7.39" fill="#062b2f"/>
<rect x="417.1" y="135.29" width="7.6" height="7.39" fill="#1b0000"/>
<rect x="424.6" y="135.29" width="7.6" height="7.39" fill="#021012"/>
<rect x="432.1" y="135.29" width="7.6" height="7.39" fill="#041e21"/>
<rect x="439.6" y="135.29" width="7.6" height="7.39" fill="#041e21"/>
<rect x="447.1" y="135.29" width="7.6" height="7.39" fill="#08363d"/>
<rect x="454.6" y="135.29" width="7.6" height="7.39" fill="#0d0000"/>
<rect x="462.1" y="135.29" width="7.6" height="7.39" fill="#041e21"/>
<rect x="469.6" y="135.29" width="7.6" height="7.39" fill="#350000"/>
<rect x="477.1" y="135.29" width="7.6" height="7.39" fill="#280000"/>
<rect x="484.6" y="135.29" width="7.6" height="7.39" fill="#021012"/>
<rect x="492.1" y="135.29" width="7.6" height="7.39" fill="#021012"/>
<rect x="499.6" y="135.29" width="7.6" height="7.39" fill="#280000"/>
<rect x="312.1" y="142.58" width="7.6" height="7.39" fill="#106d79"/>
<rect x="319.6" y="142.58" width="7.6" height="7.39" fill="#0d5862"/>
<rect x="327.1" y="142.58" width="7.6" height="7.39" fill="#0e636e"/>
<rect x="334.6" y="142.58" width="7.6" height="7.39" fill="#138190"/>
<rect x="342.1" y="142.58" width="7.6" height="7.39" fill="#0e636e"/>
<rect x="349.6" y="142.58" width="7.6" height="7.39" fill="#0e636e"/>
<rect x="357.1" y="142.58" width="7.6" height="7.39" fill="#0e636e"/>
<rect x="364.6" y="142.58" width="7.6" height="7.39" fill="#0b4d56"/>
<rect x="372.1" y="142.58" width="7.6" height="7.39" fill="#0b4d56"/>
<rect x="379.6" y="142.58" width="7.6" height="7.39" fill="#0d5862"/>
<rect x="387.1" y="142.58" width="7.6" height="7.39" fill="#0d5862"/>
<rect x="394.6" y="142.58" width="7.6" height="7.39" fill="#062b2f"/>
<rect x="402.1" y="142.58" width="7.6" height="7.39" fill="#ff0000"/>
<rect x="409.6" y="142.58" width="7.6" height="7.39" fill="#820000"/>
<rect x="417.1" y="142.58" width="7.6" height="7.39" fill="#680000"/>
<rect x="424.6" y="142.58" width="7.6" height="7.39" fill="#5c0000"/>
<rect x="432.1" y="142.58" width="7.6" height="7.39" fill="#280000"/>
<rect x="439.6" y="142.58" width="7.6" height="7.39" fill="#5c0000"/>
<rect x="447.1" y="142.58" width="7.6" height="7.39" fill="#1b0000"/>
<rect x="454.6" y="142.58" width="7.6" height="7.39" fill="#0d0000"/>
<rect x="462.1" y="142.58" width="7.6" height="7.39" fill="#350000"/>
<rect x="469.6" y="142.58" width="7.6" height="7.39" fill="#4f0000"/>
<rect x="477.1" y="142.58" width="7.6" height="7.39" fill="#1b0000"/>
<rect x="484.6" y="142.58" width="7.6" height="7.39" fill="#021012"/>
<rect x="492.1" y="142.58" width="7.6" height="7.39" fill="#0d0000"/>
<rect x="499.6" y="142.58" width="7.6" height="7.39" fill="#000000"/>
<rect x="312.1" y="149.87" width="7.6" height="7.39" fill="#106d79"/>
<rect x="319.6" y="149.87" width="7.6" height="7.39" fill="#0b4d56"/>
<rect x="327.1" y="149.87" width="7.6" height="7.39" fill="#106d79"/>
<rect x="334.6" y="149.87" width="7.6" height="7.39" fill="#148b9b"/>
<rect x="342.1" y="149.87" width="7.6" height="7.39" fill="#138190"/>
<rect x="349.6" y="149.87" width="7.6" height="7.39" fill="#138190"/>
<rect x="357.1" y="149.87" width="7.6" height="7.39" fill="#138190"/>
<rect x="364.6" y="149.87" width="7.6" height="7.39" fill="#0d5862"/>
<rect x="372.1" y="149.87" width="7.6" height="7.39" fill="#138190"/>
<rect x="379.6" y="149.87" width="7.6" height="7.39" fill="#0d5862"/>
<rect x="387.1" y="149.87" width="7.6" height="7.39" fill="#0e636e"/>
<rect x="394.6" y="149.87" width="7.6" height="7.39" fill="#062b2f"/>
<rect x="402.1" y="149.87" width="7.6" height="7.39" fill="#820000"/>
<rect x="409.6" y="149.87" width="7.6" height="7.39" fill="#ff0000"/>
<rect x="417.1" y="149.87" width="7.6" height="7.39" fill="#9b0000"/>
<rect x="424.6" y="149.87" width="7.6" height="7.39" fill="#9b0000"/>
<rect x="432.1" y="149.87" width="7.6" height="7.39" fill="#4f0000"/>
<rect x="439.6" y="149.87" width="7.6" height="7.39" fill="#750000"/>
<rect x="447.1" y="149.87" width="7.6" height="7.39" fill="#750000"/>
<rect x="454.6" y="149.87" width="7.6" height="7.39" fill="#5c0000"/>
<rect x="462.1" y="149.87" width="7.6" height="7.39" fill="#0b4d56"/>
<rect x="469.6" y="149.87" width="7.6" height="7.39" fill="#750000"/>
<rect x="477.1" y="149.87" width="7.6" height="7.39" fill="#1b0000"/>
<rect x="484.6" y="149.87" width="7.6" height="7.39" fill="#0d5862"/>
<rect x="492.1" y="149.87" width="7.6" height="7.39" fill="#350000"/>
<rect x="499.6" y="149.87" width="7.6" height="7.39" fill="#1b0000"/>
<rect x="312.1" y="157.16" width="7.6" height="7.39" fill="#138190"/>
<rect x="319.6" y="157.16" width="7.6" height="7.39" fill="#138190"/>
<rect x="327.1" y="157.16" width="7.6" height="7.39" fill="#117785"/>
<rect x="334.6" y="157.16" width="7.6" height="7.39" fill="#138190"/>
<rect x="342.1" y="157.16" width="7.6" height="7.39" fill="#138190"/>
<rect x="349.6" y="157.16" width="7.6" height="7.39" fill="#148b9b"/>
<rect x="357.1" y="157.16" width="7.6" height="7.39" fill="#148b9b"/>
<rect x="364.6" y="157.16" width="7.6" height="7.39" fill="#0e636e"/>
<rect x="372.1" y="157.16" width="7.6" height="7.39" fill="#19a9bb"/>
<rect x="379.6" y="157.16" width="7.6" height="7.39" fill="#08363d"/>
<rect x="387.1" y="157.16" width="7.6" height="7.39" fill="#106d79"/>
<rect x="394.6" y="157.16" width="7.6" height="7.39" fill="#1b0000"/>
<rect x="402.1" y="157.16" width="7.6" height="7.39" fill="#680000"/>
<rect x="409.6" y="157.16" width="7.6" height="7.39" fill="#9b0000"/>
<rect x="417.1" y="157.16" width="7.6" height="7.39" fill="#ff0000"/>
<rect x="424.6" y="157.16" width="7.6" height="7.39" fill="#d90000"/>
<rect x="432.1" y="157.16" width="7.6" height="7.39" fill="#5c0000"/>
<rect x="439.6" y="157.16" width="7.6" height="7.39" fill="#8e0000"/>
<rect x="447.1" y="157.16" width="7.6" height="7.39" fill="#820000"/>
<rect x="454.6" y="157.16" width="7.6" height="7.39" fill="#820000"/>
<rect x="462.1" y="157.16" width="7.6" height="7.39" fill="#350000"/>
<rect x="469.6" y="157.16" width="7.6" height="7.39" fill="#820000"/>
<rect x="477.1" y="157.16" width="7.6" height="7.39" fill="#062b2f"/>
<rect x="484.6" y="157.16" width="7.6" height="7.39" fill="#08363d"/>
<rect x="492.1" y="157.16" width="7.6" height="7.39" fill="#420000"/>
<rect x="499.6" y="157.16" width="7.6" height="7.39" fill="#1b0000"/>
<rect x="312.1" y="164.45" width="7.6" height="7.39" fill="#106d79"/>
<rect x="319.6" y="164.45" width="7.6" height="7.39" fill="#138190"/>
<rect x="327.1" y="164.45" width="7.6" height="7.39" fill="#106d79"/>
<rect x="334.6" y="164.45" width="7.6" height="7.39" fill="#117785"/>
<rect x="342.1" y="164.45" width="7.6" height="7.39" fill="#138190"/>
<rect x="349.6" y="164.45" width="7.6" height="7.39" fill="#138190"/>
<rect x="357.1" y="164.45" width="7.6" height="7.39" fill="#138190"/>
<rect x="364.6" y="164.45" width="7.6" height="7.39" fill="#0d5862"/>
<rect x="372.1" y="164.45" width="7.6" height="7.39" fill="#106d79"/>
<rect x="379.6" y="164.45" width="7.6" height="7.39" fill="#041e21"/>
<rect x="387.1" y="164.45" width="7.6" height="7.39" fill="#106d79"/>
<rect x="394.6" y="164.45" width="7.6" height="7.39" fill="#021012"/>
<rect x="402.1" y="164.45" width="7.6" height="7.39" fill="#5c0000"/>
<rect x="409.6" y="164.45" width="7.6" height="7.39" fill="#9b0000"/>
<rect x="417.1" y="164.45" width="7.6" height="7.39" fill="#d90000"/>
<rect x="424.6" y="164.45" width="7.6" height="7.39" fill="#ff0000"/>
<rect x="432.1" y="164.45" width="7.6" height="7.39" fill="#4f0000"/>
<rect x="439.6" y="164.45" width="7.6" height="7.39" fill="#8e0000"/>
<rect x="447.1" y="164.45" width="7.6" height="7.39" fill="#820000"/>
<rect x="454.6" y="164.45" width="7.6" height="7.39" fill="#750000"/>
<rect x="462.1" y="164.45" width="7.6" height="7.39" fill="#4f0000"/>
<rect x="469.6" y="164.45" width="7.6" height="7.39" fill="#750000"/>
<rect x="477.1" y="164.45" width="7.6" height="7.39" fill="#08363d"/>
<rect x="484.6" y="164.45" width="7.6" height="7.39" fill="#041e21"/>
<rect x="492.1" y="164.45" width="7.6" height="7.39" fill="#350000"/>
<rect x="499.6" y="164.45" width="7.6" height="7.39" fill="#0d0000"/>
<rect x="312.1" y="171.74" width="7.6" height="7.39" fill="#000000"/>
<rect x="319.6" y="171.74" width="7.6" height="7.39" fill="#094249"/>
<rect x="327.1" y="171.74" width="7.6" height="7.39" fill="#0d5862"/>
<rect x="334.6" y="171.74" width="7.6" height="7.39" fill="#0d5862"/>
<rect x="342.1" y="171.74" width="7.6" height="7.39" fill="#0d5862"/>
<rect x="349.6" y="171.74" width="7.6" height="7.39" fill="#0d5862"/>
<rect x="357.1" y="171.74" width="7.6" height="7.39" fill="#0b4d56"/>
<rect x="364.6" y="171.74" width="7.6" height="7.39" fill="#000000"/>
<rect x="372.1" y="171.74" width="7.6" height="7.39" fill="#000000"/>
<rect x="379.6" y="171.74" width="7.6" height="7.39" fill="#041e21"/>
<rect x="387.1" y="171.74" width="7.6" height="7.39" fill="#0d5862"/>
<rect x="394.6" y="171.74" width="7.6" height="7.39" fill="#041e21"/>
<rect x="402.1" y="171.74" width="7.6" height="7.39" fill="#280000"/>
<rect x="409.6" y="171.74" width="7.6" height="7.39" fill="#4f0000"/>
<rect x="417.1" y="171.74" width="7.6" height="7.39" fill="#5c0000"/>
<rect x="424.6" y="171.74" width="7.6" height="7.39" fill="#4f0000"/>
<rect x="432.1" y="171.74" width="7.6" height="7.39" fill="#ff0000"/>
<rect x="439.6" y="171.74" width="7.6" height="7.39" fill="#750000"/>
<rect x="447.1" y="171.74" width="7.6" height="7.39" fill="#5c0000"/>
<rect x="454.6" y="171.74" width="7.6" height="7.39" fill="#5c0000"/>
<rect x="462.1" y="171.74" width="7.6" height="7.39" fill="#5c0000"/>
<rect x="469.6" y="171.74" width="7.6" height="7.39" fill="#4f0000"/>
<rect x="477.1" y="171.74" width="7.6" height="7.39" fill="#280000"/>
<rect x="484.6" y="171.74" width="7.6" height="7.39" fill="#4f0000"/>
<rect x="492.1" y="171.74" width="7.6" height="7.39" fill="#1b0000"/>
<rect x="499.6" y="171.74" width="7.6" height="7.39" fill="#0d0000"/>
<rect x="312.1" y="179.03" width="7.6" height="7.39" fill="#117785"/>
<rect x="319.6" y="179.03" width="7.6" height="7.39" fill="#0b4d56"/>
<rect x="327.1" y="179.03" width="7.6" height="7.39" fill="#106d79"/>
<rect x="334.6" y="179.03" width="7.6" height="7.39" fill="#106d79"/>
<rect x="342.1" y="179.03" width="7.6" height="7.39" fill="#106d79"/>
<rect x="349.6" y="179.03" width="7.6" height="7.39" fill="#106d79"/>
<rect x="357.1" y="179.03" width="7.6" height="7.39" fill="#106d79"/>
<rect x="364.6" y="179.03" width="7.6" height="7.39" fill="#062b2f"/>
<rect x="372.1" y="179.03" width="7.6" height="7.39" fill="#094249"/>
<rect x="379.6" y="179.03" width="7.6" height="7.39" fill="#000000"/>
<rect x="387.1" y="179.03" width="7.6" height="7.39" fill="#117785"/>
<rect x="394.6" y="179.03" width="7.6" height="7.39" fill="#041e21"/>
<rect x="402.1" y="179.03" width="7.6" height="7.39" fill="#5c0000"/>
<rect x="409.6" y="179.03" width="7.6" height="7.39" fill="#750000"/>
<rect x="417.1" y="179.03" width="7.6" height="7.39" fill="#8e0000"/>
<rect x="424.6" y="179.03" width="7.6" height="7.39" fill="#8e0000"/>
<rect x="432.1" y="179.03" width="7.6" height="7.39" fill="#750000"/>
<rect x="439.6" y="179.03" width="7.6" height="7.39" fill="#ff0000"/>
<rect x="447.1" y="179.03" width="7.6" height="7.39" fill="#750000"/>
<rect x="454.6" y="179.03" width="7.6" height="7.39" fill="#820000"/>
<rect x="462.1" y="179.03" width="7.6" height="7.39" fill="#680000"/>
<rect x="469.6" y="179.03" width="7.6" height="7.39" fill="#750000"/>
<rect x="477.1" y="179.03" width="7.6" height="7.39" fill="#000000"/>
<rect x="484.6" y="179.03" width="7.6" height="7.39" fill="#420000"/>
<rect x="492.1" y="179.03" width="7.6" height="7.39" fill="#4f0000"/>
<rect x="499.6" y="179.03" width="7.6" height="7.39" fill="#1b0000"/>
<rect x="312.1" y="186.32" width="7.6" height="7.39" fill="#0d5862"/>
<rect x="319.6" y="186.32" width="7.6" height="7.39" fill="#0d5862"/>
<rect x="327.1" y="186.32" width="7.6" height="7.39" fill="#117785"/>
<rect x="334.6" y="186.32" width="7.6" height="7.39" fill="#117785"/>
<rect x="342.1" y="186.32" width="7.6" height="7.39" fill="#117785"/>
<rect x="349.6" y="186.32" width="7.6" height="7.39" fill="#117785"/>
<rect x="357.1" y="186.32" width="7.6" height="7.39" fill="#117785"/>
<rect x="364.6" y="186.32" width="7.6" height="7.39" fill="#062b2f"/>
<rect x="372.1" y="186.32" width="7.6" height="7.39" fill="#0b4d56"/>
<rect x="379.6" y="186.32" width="7.6" height="7.39" fill="#094249"/>
<rect x="387.1" y="186.32" width="7.6" height="7.39" fill="#106d79"/>
<rect x="394.6" y="186.32" width="7.6" height="7.39" fill="#08363d"/>
<rect x="402.1" y="186.32" width="7.6" height="7.39" fill="#1b0000"/>
<rect x="409.6" y="186.32" width="7.6" height="7.39" fill="#750000"/>
<rect x="417.1" y="186.32" width="7.6" height="7.39" fill="#820000"/>
<rect x="424.6" y="186.32" width="7.6" height="7.39" fill="#820000"/>
<rect x="432.1" y="186.32" width="7.6" height="7.39" fill="#5c0000"/>
<rect x="439.6" y="186.32" width="7.6" height="7.39" fill="#750000"/>
<rect x="447.1" y="186.32" width="7.6" height="7.39" fill="#ff0000"/>
<rect x="454.6" y="186.32" width="7.6" height="7.39" fill="#9b0000"/>
<rect x="462.1" y="186.32" width="7.6" height="7.39" fill="#680000"/>
<rect x="469.6" y="186.32" width="7.6" height="7.39" fill="#750000"/>
<rect x="477.1" y="186.32" width="7.6" height="7.39" fill="#280000"/>
<rect x="484.6" y="186.32" width="7.6" height="7.39" fill="#5c0000"/>
<rect x="492.1" y="186.32" width="7.6" height="7.39" fill="#420000"/>
<rect x="499.6" y="186.32" width="7.6" height="7.39" fill="#1b0000"/>
<rect x="312.1" y="193.61" width="7.6" height="7.39" fill="#0d5862"/>
<rect x="319.6" y="193.61" width="7.6" height="7.39" fill="#0b4d56"/>
<rect x="327.1" y="193.61" width="7.6" height="7.39" fill="#106d79"/>
<rect x="334.6" y="193.61" width="7.6" height="7.39" fill="#0b4d56"/>
<rect x="342.1" y="193.61" width="7.6" height="7.39" fill="#0e636e"/>
<rect x="349.6" y="193.61" width="7.6" height="7.39" fill="#0d5862"/>
<rect x="357.1" y="193.61" width="7.6" height="7.39" fill="#0e636e"/>
<rect x="364.6" y="193.61" width="7.6" height="7.39" fill="#021012"/>
<rect x="372.1" y="193.61" width="7.6" height="7.39" fill="#08363d"/>
<rect x="379.6" y="193.61" width="7.6" height="7.39" fill="#000000"/>
<rect x="387.1" y="193.61" width="7.6" height="7.39" fill="#106d79"/>
<rect x="394.6" y="193.61" width="7.6" height="7.39" fill="#0d0000"/>
<rect x="402.1" y="193.61" width="7.6" height="7.39" fill="#0d0000"/>
<rect x="409.6" y="193.61" width="7.6" height="7.39" fill="#5c0000"/>
<rect x="417.1" y="193.61" width="7.6" height="7.39" fill="#820000"/>
<rect x="424.6" y="193.61" width="7.6" height="7.39" fill="#750000"/>
<rect x="432.1" y="193.61" width="7.6" height="7.39" fill="#5c0000"/>
<rect x="439.6" y="193.61" width="7.6" height="7.39" fill="#820000"/>
<rect x="447.1" y="193.61" width="7.6" height="7.39" fill="#9b0000"/>
<rect x="454.6" y="193.61" width="7.6" height="7.39" fill="#ff0000"/>
<rect x="462.1" y="193.61" width="7.6" height="7.39" fill="#750000"/>
<rect x="469.6" y="193.61" width="7.6" height="7.39" fill="#680000"/>
<rect x="477.1" y="193.61" width="7.6" height="7.39" fill="#350000"/>
<rect x="484.6" y="193.61" width="7.6" height="7.39" fill="#5c0000"/>
<rect x="492.1" y="193.61" width="7.6" height="7.39" fill="#4f0000"/>
<rect x="499.6" y="193.61" width="7.6" height="7.39" fill="#1b0000"/>
<rect x="312.1" y="200.9" width="7.6" height="7.39" fill="#0b4d56"/>
<rect x="319.6" y="200.9" width="7.6" height="7.39" fill="#0d5862"/>
<rect x="327.1" y="200.9" width="7.6" height="7.39" fill="#0d5862"/>
<rect x="334.6" y="200.9" width="7.6" height="7.39" fill="#062b2f"/>
<rect x="342.1" y="200.9" width="7.6" height="7.39" fill="#0b4d56"/>
<rect x="349.6" y="200.9" width="7.6" height="7.39" fill="#0b4d56"/>
<rect x="357.1" y="200.9" width="7.6" height="7.39" fill="#0b4d56"/>
<rect x="364.6" y="200.9" width="7.6" height="7.39" fill="#9b0000"/>
<rect x="372.1" y="200.9" width="7.6" height="7.39" fill="#b40000"/>
<rect x="379.6" y="200.9" width="7.6" height="7.39" fill="#041e21"/>
<rect x="387.1" y="200.9" width="7.6" height="7.39" fill="#106d79"/>
<rect x="394.6" y="200.9" width="7.6" height="7.39" fill="#041e21"/>
<rect x="402.1" y="200.9" width="7.6" height="7.39" fill="#350000"/>
<rect x="409.6" y="200.9" width="7.6" height="7.39" fill="#0b4d56"/>
<rect x="417.1" y="200.9" width="7.6" height="7.39" fill="#350000"/>
<rect x="424.6" y="200.9" width="7.6" height="7.39" fill="#4f0000"/>
<rect x="432.1" y="200.9" width="7.6" height="7.39" fill="#5c0000"/>
<rect x="439.6" y="200.9" width="7.6" height="7.39" fill="#680000"/>
<rect x="447.1" y="200.9" width="7.6" height="7.39" fill="#680000"/>
<rect x="454.6" y="200.9" width="7.6" height="7.39" fill="#750000"/>
<rect x="462.1" y="200.9" width="7.6" height="7.39" fill="#ff0000"/>
<rect x="469.6" y="200.9" width="7.6" height="7.39" fill="#680000"/>
<rect x="477.1" y="200.9" width="7.6" height="7.39" fill="#000000"/>
<rect x="484.6" y="200.9" width="7.6" height="7.39" fill="#1b0000"/>
<rect x="492.1" y="200.9" width="7.6" height="7.39" fill="#0b4d56"/>
<rect x="499.6" y="200.9" width="7.6" height="7.39" fill="#0b4d56"/>
<rect x="312.1" y="208.19" width="7.6" height="7.39" fill="#0e636e"/>
<rect x="319.6" y="208.19" width="7.6" height="7.39" fill="#094249"/>
<rect x="327.1" y="208.19" width="7.6" height="7.39" fill="#0e636e"/>
<rect x="334.6" y="208.19" width="7.6" height="7.39" fill="#062b2f"/>
<rect x="342.1" y="208.19" width="7.6" height="7.39" fill="#0b4d56"/>
<rect x="349.6" y="208.19" width="7.6" height="7.39" fill="#0d5862"/>
<rect x="357.1" y="208.19" width="7.6" height="7.39" fill="#0b4d56"/>
<rect x="364.6" y="208.19" width="7.6" height="7.39" fill="#350000"/>
<rect x="372.1" y="208.19" width="7.6" height="7.39" fill="#0d0000"/>
<rect x="379.6" y="208.19" width="7.6" height="7.39" fill="#000000"/>
<rect x="387.1" y="208.19" width="7.6" height="7.39" fill="#0d5862"/>
<rect x="394.6" y="208.19" width="7.6" height="7.39" fill="#350000"/>
<rect x="402.1" y="208.19" width="7.6" height="7.39" fill="#4f0000"/>
<rect x="409.6" y="208.19" width="7.6" height="7.39" fill="#750000"/>
<rect x="417.1" y="208.19" width="7.6" height="7.39" fill="#820000"/>
<rect x="424.6" y="208.19" width="7.6" height="7.39" fill="#750000"/>
<rect x="432.1" y="208.19" width="7.6" height="7.39" fill="#4f0000"/>
<rect x="439.6" y="208.19" width="7.6" height="7.39" fill="#750000"/>
<rect x="447.1" y="208.19" width="7.6" height="7.39" fill="#750000"/>
<rect x="454.6" y="208.19" width="7.6" height="7.39" fill="#680000"/>
<rect x="462.1" y="208.19" width="7.6" height="7.39" fill="#680000"/>
<rect x="469.6" y="208.19" width="7.6" height="7.39" fill="#ff0000"/>
<rect x="477.1" y="208.19" width="7.6" height="7.39" fill="#420000"/>
<rect x="484.6" y="208.19" width="7.6" height="7.39" fill="#350000"/>
<rect x="492.1" y="208.19" width="7.6" height="7.39" fill="#5c0000"/>
<rect x="499.6" y="208.19" width="7.6" height="7.39" fill="#021012"/>
<rect x="312.1" y="215.48" width="7.6" height="7.39" fill="#5c0000"/>
<rect x="319.6" y="215.48" width="7.6" height="7.39" fill="#5c0000"/>
<rect x="327.1" y="215.48" width="7.6" height="7.39" fill="#000000"/>
<rect x="334.6" y="215.48" width="7.6" height="7.39" fill="#0d0000"/>
<rect x="342.1" y="215.48" width="7.6" height="7.39" fill="#4f0000"/>
<rect x="349.6" y="215.48" width="7.6" height="7.39" fill="#420000"/>
<rect x="357.1" y="215.48" width="7.6" height="7.39" fill="#4f0000"/>
<rect x="364.6" y="215.48" width="7.6" height="7.39" fill="#021012"/>
<rect x="372.1" y="215.48" width="7.6" height="7.39" fill="#041e21"/>
<rect x="379.6" y="215.48" width="7.6" height="7.39" fill="#0b4d56"/>
<rect x="387.1" y="215.48" width="7.6" height="7.39" fill="#000000"/>
<rect x="394.6" y="215.48" width="7.6" height="7.39" fill="#280000"/>
<rect x="402.1" y="215.48" width="7.6" height="7.39" fill="#1b0000"/>
<rect x="409.6" y="215.48" width="7.6" height="7.39" fill="#1b0000"/>
<rect x="417.1" y="215.48" width="7.6" height="7.39" fill="#062b2f"/>
<rect x="424.6" y="215.48" width="7.6" height="7.39" fill="#08363d"/>
<rect x="432.1" y="215.48" width="7.6" height="7.39" fill="#280000"/>
<rect x="439.6" y="215.48" width="7.6" height="7.39" fill="#000000"/>
<rect x="447.1" y="215.48" width="7.6" height="7.39" fill="#280000"/>
<rect x="454.6" y="215.48" width="7.6" height="7.39" fill="#350000"/>
<rect x="462.1" y="215.48" width="7.6" height="7.39" fill="#000000"/>
<rect x="469.6" y="215.48" width="7.6" height="7.39" fill="#420000"/>
<rect x="477.1" y="215.48" width="7.6" height="7.39" fill="#ff0000"/>
<rect x="484.6" y="215.48" width="7.6" height="7.39" fill="#8e0000"/>
<rect x="492.1" y="215.48" width="7.6" height="7.39" fill="#4f0000"/>
<rect x="499.6" y="215.48" width="7.6" height="7.39" fill="#094249"/>
<rect x="312.1" y="222.77" width="7.6" height="7.39" fill="#4f0000"/>
<rect x="319.6" y="222.77" width="7.6" height="7.39" fill="#280000"/>
<rect x="327.1" y="222.77" width="7.6" height="7.39" fill="#094249"/>
<rect x="334.6" y="222.77" width="7.6" height="7.39" fill="#1b0000"/>
<rect x="342.1" y="222.77" width="7.6" height="7.39" fill="#0d0000"/>
<rect x="349.6" y="222.77" width="7.6" height="7.39" fill="#0d0000"/>
<rect x="357.1" y="222.77" width="7.6" height="7.39" fill="#0d0000"/>
<rect x="364.6" y="222.77" width="7.6" height="7.39" fill="#8e0000"/>
<rect x="372.1" y="222.77" width="7.6" height="7.39" fill="#8e0000"/>
<rect x="379.6" y="222.77" width="7.6" height="7.39" fill="#0d5862"/>
<rect x="387.1" y="222.77" width="7.6" height="7.39" fill="#106d79"/>
<rect x="394.6" y="222.77" width="7.6" height="7.39" fill="#021012"/>
<rect x="402.1" y="222.77" width="7.6" height="7.39" fill="#021012"/>
<rect x="409.6" y="222.77" width="7.6" height="7.39" fill="#0d5862"/>
<rect x="417.1" y="222.77" width="7.6" height="7.39" fill="#08363d"/>
<rect x="424.6" y="222.77" width="7.6" height="7.39" fill="#041e21"/>
<rect x="432.1" y="222.77" width="7.6" height="7.39" fill="#4f0000"/>
<rect x="439.6" y="222.77" width="7.6" height="7.39" fill="#420000"/>
<rect x="447.1" y="222.77" width="7.6" height="7.39" fill="#5c0000"/>
<rect x="454.6" y="222.77" width="7.6" height="7.39" fill="#5c0000"/>
<rect x="462.1" y="222.77" width="7.6" height="7.39" fill="#1b0000"/>
<rect x="469.6" y="222.77" width="7.6" height="7.39" fill="#350000"/>
<rect x="477.1" y="222.77" width="7.6" height="7.39" fill="#8e0000"/>
<rect x="484.6" y="222.77" width="7.6" height="7.39" fill="#ff0000"/>
<rect x="492.1" y="222.77" width="7.6" height="7.39" fill="#0d0000"/>
<rect x="499.6" y="222.77" width="7.6" height="7.39" fill="#08363d"/>
<rect x="312.1" y="230.06" width="7.6" height="7.39" fill="#041e21"/>
<rect x="319.6" y="230.06" width="7.6" height="7.39" fill="#041e21"/>
<rect x="327.1" y="230.06" width="7.6" height="7.39" fill="#08363d"/>
<rect x="334.6" y="230.06" width="7.6" height="7.39" fill="#062b2f"/>
<rect x="342.1" y="230.06" width="7.6" height="7.39" fill="#041e21"/>
<rect x="349.6" y="230.06" width="7.6" height="7.39" fill="#062b2f"/>
<rect x="357.1" y="230.06" width="7.6" height="7.39" fill="#062b2f"/>
<rect x="364.6" y="230.06" width="7.6" height="7.39" fill="#041e21"/>
<rect x="372.1" y="230.06" width="7.6" height="7.39" fill="#0b4d56"/>
<rect x="379.6" y="230.06" width="7.6" height="7.39" fill="#08363d"/>
<rect x="387.1" y="230.06" width="7.6" height="7.39" fill="#041e21"/>
<rect x="394.6" y="230.06" width="7.6" height="7.39" fill="#021012"/>
<rect x="402.1" y="230.06" width="7.6" height="7.39" fill="#0d0000"/>
<rect x="409.6" y="230.06" width="7.6" height="7.39" fill="#350000"/>
<rect x="417.1" y="230.06" width="7.6" height="7.39" fill="#420000"/>
<rect x="424.6" y="230.06" width="7.6" height="7.39" fill="#350000"/>
<rect x="432.1" y="230.06" width="7.6" height="7.39" fill="#1b0000"/>
<rect x="439.6" y="230.06" width="7.6" height="7.39" fill="#4f0000"/>
<rect x="447.1" y="230.06" width="7.6" height="7.39" fill="#420000"/>
<rect x="454.6" y="230.06" width="7.6" height="7.39" fill="#4f0000"/>
<rect x="462.1" y="230.06" width="7.6" height="7.39" fill="#0b4d56"/>
<rect x="469.6" y="230.06" width="7.6" height="7.39" fill="#5c0000"/>
<rect x="477.1" y="230.06" width="7.6" height="7.39" fill="#4f0000"/>
<rect x="484.6" y="230.06" width="7.6" height="7.39" fill="#0d0000"/>
<rect x="492.1" y="230.06" width="7.6" height="7.39" fill="#ff0000"/>
<rect x="499.6" y="230.06" width="7.6" height="7.39" fill="#000000"/>
<rect x="312.1" y="237.35" width="7.6" height="7.39" fill="#041e21"/>
<rect x="319.6" y="237.35" width="7.6" height="7.39" fill="#08363d"/>
<rect x="327.1" y="237.35" width="7.6" height="7.39" fill="#094249"/>
<rect x="334.6" y="237.35" width="7.6" height="7.39" fill="#094249"/>
<rect x="342.1" y="237.35" width="7.6" height="7.39" fill="#094249"/>
<rect x="349.6" y="237.35" width="7.6" height="7.39" fill="#094249"/>
<rect x="357.1" y="237.35" width="7.6" height="7.39" fill="#094249"/>
<rect x="364.6" y="237.35" width="7.6" height="7.39" fill="#021012"/>
<rect x="372.1" y="237.35" width="7.6" height="7.39" fill="#08363d"/>
<rect x="379.6" y="237.35" width="7.6" height="7.39" fill="#750000"/>
<rect x="387.1" y="237.35" width="7.6" height="7.39" fill="#08363d"/>
<rect x="394.6" y="237.35" width="7.6" height="7.39" fill="#280000"/>
<rect x="402.1" y="237.35" width="7.6" height="7.39" fill="#000000"/>
<rect x="409.6" y="237.35" width="7.6" height="7.39" fill="#1b0000"/>
<rect x="417.1" y="237.35" width="7.6" height="7.39" fill="#1b0000"/>
<rect x="424.6" y="237.35" width="7.6" height="7.39" fill="#0d0000"/>
<rect x="432.1" y="237.35" width="7.6" height="7.39" fill="#0d0000"/>
<rect x="439.6" y="237.35" width="7.6" height="7.39" fill="#1b0000"/>
<rect x="447.1" y="237.35" width="7.6" height="7.39" fill="#1b0000"/>
<rect x="454.6" y="237.35" width="7.6" height="7.39" fill="#1b0000"/>
<rect x="462.1" y="237.35" width="7.6" height="7.39" fill="#0b4d56"/>
<rect x="469.6" y="237.35" width="7.6" height="7.39" fill="#021012"/>
<rect x="477.1" y="237.35" width="7.6" height="7.39" fill="#094249"/>
<rect x="484.6" y="237.35" width="7.6" height="7.39" fill="#08363d"/>
<rect x="492.1" y="237.35" width="7.6" height="7.39" fill="#000000"/>
<rect x="499.6" y="237.35" width="7.6" height="7.39" fill="#ff0000"/>
</g>
<path d="M319.6 55.1V244.64M312.1 62.39H507.1M327.1 55.1V244.64M312.1 69.68H507.1M334.6 55.1V244.64M312.1 76.97H507.1M342.1 55.1V244.64M312.1 84.26H507.1M349.6 55.1V244.64M312.1 91.55H507.1M357.1 55.1V244.64M312.1 98.84H507.1M364.6 55.1V244.64M312.1 106.13H507.1M372.1 55.1V244.64M312.1 113.42H507.1M379.6 55.1V244.64M312.1 120.71H507.1M387.1 55.1V244.64M312.1 128H507.1M394.6 55.1V244.64M312.1 135.29H507.1M402.1 55.1V244.64M312.1 142.58H507.1M409.6 55.1V244.64M312.1 149.87H507.1M417.1 55.1V244.64M312.1 157.16H507.1M424.6 55.1V244.64M312.1 164.45H507.1M432.1 55.1V244.64M312.1 171.74H507.1M439.6 55.1V244.64M312.1 179.03H507.1M447.1 55.1V244.64M312.1 186.32H507.1M454.6 55.1V244.64M312.1 193.61H507.1M462.1 55.1V244.64M312.1 200.9H507.1M469.6 55.1V244.64M312.1 208.19H507.1M477.1 55.1V244.64M312.1 215.48H507.1M484.6 55.1V244.64M312.1 222.77H507.1M492.1 55.1V244.64M312.1 230.06H507.1M499.6 55.1V244.64M312.1 237.35H507.1" stroke="#a0a0a0" stroke-opacity="0.7" stroke-width="0.6" fill="none"/>
<text x="508.4" y="60.65" font-size="5.3" fill="#666">KRT1</text>
<text x="508.4" y="67.94" font-size="5.3" fill="#666">KRT16</text>
<text x="508.4" y="75.23" font-size="5.3" fill="#666">KRT14</text>
<text x="508.4" y="82.52" font-size="5.3" fill="#666">KRT5</text>
<text x="508.4" y="89.81" font-size="5.3" fill="#666">KRT6B</text>
<text x="508.4" y="97.09" font-size="5.3" fill="#666">KRT6A</text>
<text x="508.4" y="104.39" font-size="5.3" fill="#666">KRT6C</text>
<text x="508.4" y="111.68" font-size="5.3" fill="#666">FGFR3</text>
<text x="508.4" y="118.97" font-size="5.3" fill="#666">GPX2</text>
<text x="508.4" y="126.25" font-size="5.3" fill="#666">FABP4</text>
<text x="508.4" y="133.55" font-size="5.3" fill="#666">CD44</text>
<text x="508.4" y="140.84" font-size="5.3" fill="#666">CDH3</text>
<text x="508.4" y="148.12" font-size="5.3" fill="#666">XBP1</text>
<text x="508.4" y="155.42" font-size="5.3" fill="#666">KRT7</text>
<text x="508.4" y="162.71" font-size="5.3" fill="#666">KRT18</text>
<text x="508.4" y="170" font-size="5.3" fill="#666">KRT8</text>
<text x="508.4" y="177.28" font-size="5.3" fill="#666">KRT20</text>
<text x="508.4" y="184.58" font-size="5.3" fill="#666">PPARG</text>
<text x="508.4" y="191.87" font-size="5.3" fill="#666">ERBB2</text>
<text x="508.4" y="199.16" font-size="5.3" fill="#666">GATA3</text>
<text x="508.4" y="206.44" font-size="5.3" fill="#666">FOXA1</text>
<text x="508.4" y="213.74" font-size="5.3" fill="#666">KRT19</text>
<text x="508.4" y="221.03" font-size="5.3" fill="#666">CD24</text>
<text x="508.4" y="228.31" font-size="5.3" fill="#666">ERBB3</text>
<text x="508.4" y="235.6" font-size="5.3" fill="#666">CYP2J2</text>
<text x="508.4" y="242.9" font-size="5.3" fill="#666">ITIH5</text>
<text transform="translate(313.95 246.2) rotate(90)" font-size="5.3" fill="#666">KRT1</text>
<text transform="translate(321.45 246.2) rotate(90)" font-size="5.3" fill="#666">KRT16</text>
<text transform="translate(328.95 246.2) rotate(90)" font-size="5.3" fill="#666">KRT14</text>
<text transform="translate(336.45 246.2) rotate(90)" font-size="5.3" fill="#666">KRT5</text>
<text transform="translate(343.95 246.2) rotate(90)" font-size="5.3" fill="#666">KRT6B</text>
<text transform="translate(351.45 246.2) rotate(90)" font-size="5.3" fill="#666">KRT6A</text>
<text transform="translate(358.95 246.2) rotate(90)" font-size="5.3" fill="#666">KRT6C</text>
<text transform="translate(366.45 246.2) rotate(90)" font-size="5.3" fill="#666">FGFR3</text>
<text transform="translate(373.95 246.2) rotate(90)" font-size="5.3" fill="#666">GPX2</text>
<text transform="translate(381.45 246.2) rotate(90)" font-size="5.3" fill="#666">FABP4</text>
<text transform="translate(388.95 246.2) rotate(90)" font-size="5.3" fill="#666">CD44</text>
<text transform="translate(396.45 246.2) rotate(90)" font-size="5.3" fill="#666">CDH3</text>
<text transform="translate(403.95 246.2) rotate(90)" font-size="5.3" fill="#666">XBP1</text>
<text transform="translate(411.45 246.2) rotate(90)" font-size="5.3" fill="#666">KRT7</text>
<text transform="translate(418.95 246.2) rotate(90)" font-size="5.3" fill="#666">KRT18</text>
<text transform="translate(426.45 246.2) rotate(90)" font-size="5.3" fill="#666">KRT8</text>
<text transform="translate(433.95 246.2) rotate(90)" font-size="5.3" fill="#666">KRT20</text>
<text transform="translate(441.45 246.2) rotate(90)" font-size="5.3" fill="#666">PPARG</text>
<text transform="translate(448.95 246.2) rotate(90)" font-size="5.3" fill="#666">ERBB2</text>
<text transform="translate(456.45 246.2) rotate(90)" font-size="5.3" fill="#666">GATA3</text>
<text transform="translate(463.95 246.2) rotate(90)" font-size="5.3" fill="#666">FOXA1</text>
<text transform="translate(471.45 246.2) rotate(90)" font-size="5.3" fill="#666">KRT19</text>
<text transform="translate(478.95 246.2) rotate(90)" font-size="5.3" fill="#666">CD24</text>
<text transform="translate(486.45 246.2) rotate(90)" font-size="5.3" fill="#666">ERBB3</text>
<text transform="translate(493.95 246.2) rotate(90)" font-size="5.3" fill="#666">CYP2J2</text>
<text transform="translate(501.45 246.2) rotate(90)" font-size="5.3" fill="#666">ITIH5</text>
<path d="M353.35 55.1L353.35 53.2M360.85 55.1L360.85 53.2M353.35 53.2L360.85 53.2M345.85 55.1L345.85 52.4M357.1 53.2L357.1 52.4M345.85 52.4L357.1 52.4M338.35 55.1L338.35 51.6M351.48 52.4L351.48 51.6M338.35 51.6L351.48 51.6M330.85 55.1L330.85 50.8M344.91 51.6L344.91 50.8M330.85 50.8L344.91 50.8M323.35 55.1L323.35 50M337.88 50.8L337.88 50M323.35 50L337.88 50M315.85 55.1L315.85 49.2M330.62 50L330.62 49.2M315.85 49.2L330.62 49.2M368.35 55.1L368.35 51.1M375.85 55.1L375.85 51.1M368.35 51.1L375.85 51.1M390.85 55.1L390.85 48.4M398.35 55.1L398.35 48.4M390.85 48.4L398.35 48.4M383.35 55.1L383.35 46.2M394.6 48.4L394.6 46.2M383.35 46.2L394.6 46.2M372.1 51.1L372.1 44M388.98 46.2L388.98 44M372.1 44L388.98 44M323.23 49.2L323.23 43.1M380.54 44L380.54 43.1M323.23 43.1L380.54 43.1M420.85 55.1L420.85 52.7M428.35 55.1L428.35 52.7M420.85 52.7L428.35 52.7M413.35 55.1L413.35 49.4M424.6 52.7L424.6 49.4M413.35 49.4L424.6 49.4M405.85 55.1L405.85 46.7M418.98 49.4L418.98 46.7M405.85 46.7L418.98 46.7M450.85 55.1L450.85 52.6M458.35 55.1L458.35 52.6M450.85 52.6L458.35 52.6M443.35 55.1L443.35 51.1M454.6 52.6L454.6 51.1M443.35 51.1L454.6 51.1M435.85 55.1L435.85 48.4M448.98 51.1L448.98 48.4M435.85 48.4L448.98 48.4M465.85 55.1L465.85 48.4M473.35 55.1L473.35 48.4M465.85 48.4L473.35 48.4M442.41 48.4L442.41 46.2M469.6 48.4L469.6 46.2M442.41 46.2L469.6 46.2M480.85 55.1L480.85 48.4M488.35 55.1L488.35 48.4M480.85 48.4L488.35 48.4M495.85 55.1L495.85 48.4M503.35 55.1L503.35 48.4M495.85 48.4L503.35 48.4M484.6 48.4L484.6 43.8M499.6 48.4L499.6 43.8M484.6 43.8L499.6 43.8M456.01 46.2L456.01 43.4M492.1 43.8L492.1 43.4M456.01 43.4L492.1 43.4M412.41 46.7L412.41 40M474.05 43.4L474.05 40M412.41 40L474.05 40M351.89 43.1L351.89 29.5M443.23 40L443.23 29.5M351.89 29.5L443.23 29.5M312.1 95.19L310.2 95.19M312.1 102.48L310.2 102.48M310.2 95.19L310.2 102.48M312.1 87.91L309.4 87.91M310.2 98.84L309.4 98.84M309.4 87.91L309.4 98.84M312.1 80.62L308.6 80.62M309.4 93.37L308.6 93.37M308.6 80.62L308.6 93.37M312.1 73.33L307.8 73.33M308.6 86.99L307.8 86.99M307.8 73.33L307.8 86.99M312.1 66.03L307 66.03M307.8 80.16L307 80.16M307 66.03L307 80.16M312.1 58.75L306.2 58.75M307 73.1L306.2 73.1M306.2 58.75L306.2 73.1M312.1 109.78L308.1 109.78M312.1 117.06L308.1 117.06M308.1 109.78L308.1 117.06M312.1 131.65L305.4 131.65M312.1 138.94L305.4 138.94M305.4 131.65L305.4 138.94M312.1 124.35L303.2 124.35M305.4 135.29L303.2 135.29M303.2 124.35L303.2 135.29M308.1 113.42L301 113.42M303.2 129.82L301 129.82M301 113.42L301 129.82M306.2 65.92L300.1 65.92M301 121.62L300.1 121.62M300.1 65.92L300.1 121.62M312.1 160.81L309.7 160.81M312.1 168.09L309.7 168.09M309.7 160.81L309.7 168.09M312.1 153.52L306.4 153.52M309.7 164.45L306.4 164.45M306.4 153.52L306.4 164.45M312.1 146.22L303.7 146.22M306.4 158.98L303.7 158.98M303.7 146.22L303.7 158.98M312.1 189.97L309.6 189.97M312.1 197.25L309.6 197.25M309.6 189.97L309.6 197.25M312.1 182.68L308.1 182.68M309.6 193.61L308.1 193.61M308.1 182.68L308.1 193.61M312.1 175.38L305.4 175.38M308.1 188.14L305.4 188.14M305.4 175.38L305.4 188.14M312.1 204.54L305.4 204.54M312.1 211.84L305.4 211.84M305.4 204.54L305.4 211.84M305.4 181.76L303.2 181.76M305.4 208.19L303.2 208.19M303.2 181.76L303.2 208.19M312.1 219.12L305.4 219.12M312.1 226.41L305.4 226.41M305.4 219.12L305.4 226.41M312.1 233.7L305.4 233.7M312.1 241L305.4 241M305.4 233.7L305.4 241M305.4 222.77L300.8 222.77M305.4 237.35L300.8 237.35M300.8 222.77L300.8 237.35M303.2 194.98L300.4 194.98M300.8 230.06L300.4 230.06M300.4 194.98L300.4 230.06M303.7 152.6L297 152.6M300.4 212.52L297 212.52M297 152.6L297 212.52M300.1 93.77L286.5 93.77M297 182.56L286.5 182.56M286.5 93.77L286.5 182.56" stroke="#6e9696" stroke-width="0.9" fill="none"/>
<rect x="530" y="54.9" width="5" height="72.4" fill="url(#gB)"/>
<text x="537.2" y="56.6" font-size="5.5" fill="#555">1</text>
<text x="537.2" y="75.1" font-size="5.5" fill="#555">0.5</text>
<text x="537.2" y="93.1" font-size="5.5" fill="#555">0</text>
<text x="537.2" y="111" font-size="5.5" fill="#555">-0.5</text>
<text x="537.2" y="129.3" font-size="5.5" fill="#555">-1</text>
<text x="4.3" y="279.6" font-size="15.8" font-weight="bold" fill="#1a1a1a">C</text>
<text x="92.6" y="285.3" font-size="10.8" fill="#444" text-anchor="middle">luminal</text>
<path d="M57.5 292.9V407.9H135" stroke="#333" stroke-width="1.4" fill="none"/>
<text x="53.9" y="410.9" font-size="8.4" font-weight="bold" fill="#222" text-anchor="end">-2</text>
<text x="53.9" y="387.9" font-size="8.4" font-weight="bold" fill="#222" text-anchor="end">0</text>
<text x="53.9" y="364.9" font-size="8.4" font-weight="bold" fill="#222" text-anchor="end">2</text>
<text x="53.9" y="341.9" font-size="8.4" font-weight="bold" fill="#222" text-anchor="end">4</text>
<text x="53.9" y="318.9" font-size="8.4" font-weight="bold" fill="#222" text-anchor="end">6</text>
<text x="53.9" y="295.9" font-size="8.4" font-weight="bold" fill="#222" text-anchor="end">8</text>
<path d="M53.9 407.9H57.5M55.5 396.4H57.5M53.9 384.9H57.5M55.5 373.4H57.5M53.9 361.9H57.5M55.5 350.4H57.5M53.9 338.9H57.5M55.5 327.4H57.5M53.9 315.9H57.5M55.5 304.4H57.5M53.9 292.9H57.5" stroke="#333" stroke-width="1" fill="none"/>
<path d="M57.5 384.9H135" stroke="#888" stroke-width="0.7" stroke-dasharray="1.2 1.2" fill="none"/>
<path d="M77.3 328.2V384.9M71.1 328.2H83.5M77.3 390.8V392M71.1 392H83.5" stroke="#555" stroke-width="1" fill="none"/>
<rect x="64.3" y="384.9" width="26" height="5.9" fill="#e4e4e4" stroke="#555" stroke-width="1"/>
<path d="M64.3 388.4H90.3" stroke="#555" stroke-width="1" fill="none"/>
<path d="M77.3 408.2V411.5" stroke="#333" stroke-width="1" fill="none"/>
<text transform="translate(79.6 423.3) rotate(-45)" font-size="8.6" font-weight="bold" fill="#1e1e1e" text-anchor="end">ITIH5</text>
<path d="M115.7 302.2V390.3M109.5 302.2H121.9M115.7 396.5V398.9M109.5 398.9H121.9" stroke="#555" stroke-width="1" fill="none"/>
<rect x="102.6" y="390.3" width="26.2" height="6.2" fill="#e4e4e4" stroke="#555" stroke-width="1"/>
<path d="M102.6 393.5H128.8" stroke="#555" stroke-width="1" fill="none"/>
<path d="M115.7 408.2V411.5" stroke="#333" stroke-width="1" fill="none"/>
<text transform="translate(118 423.3) rotate(-45)" font-size="8.6" font-weight="bold" fill="#1e1e1e" text-anchor="end">CD44</text>
<path d="M73 298.4H119" stroke="#444" stroke-width="1" fill="none"/>
<text x="96" y="300.7" font-size="12" fill="#333" text-anchor="middle" font-weight="bold">***</text>
<text transform="translate(38.1 351.5) rotate(-90) scale(1 0.8)" font-size="8.45" fill="#333" text-anchor="middle"><tspan font-weight="bold">mRNA expression</tspan> [RNA seq V2 RSEM]</text>
<text x="209.2" y="285.3" font-size="10.8" fill="#444" text-anchor="middle">basal</text>
<path d="M174.4 291.2V407.3H252" stroke="#333" stroke-width="1.4" fill="none"/>
<text x="170.8" y="410.3" font-size="8.4" font-weight="bold" fill="#222" text-anchor="end">-2</text>
<text x="170.8" y="397.4" font-size="8.4" font-weight="bold" fill="#222" text-anchor="end">0</text>
<text x="170.8" y="384.5" font-size="8.4" font-weight="bold" fill="#222" text-anchor="end">2</text>
<text x="170.8" y="371.6" font-size="8.4" font-weight="bold" fill="#222" text-anchor="end">4</text>
<text x="170.8" y="358.7" font-size="8.4" font-weight="bold" fill="#222" text-anchor="end">6</text>
<text x="170.8" y="345.8" font-size="8.4" font-weight="bold" fill="#222" text-anchor="end">8</text>
<text x="170.8" y="332.9" font-size="8.4" font-weight="bold" fill="#222" text-anchor="end">10</text>
<text x="170.8" y="320" font-size="8.4" font-weight="bold" fill="#222" text-anchor="end">12</text>
<text x="170.8" y="307.1" font-size="8.4" font-weight="bold" fill="#222" text-anchor="end">14</text>
<text x="170.8" y="294.2" font-size="8.4" font-weight="bold" fill="#222" text-anchor="end">16</text>
<path d="M170.8 407.3H174.4M170.8 394.4H174.4M170.8 381.5H174.4M170.8 368.6H174.4M170.8 355.7H174.4M170.8 342.8H174.4M170.8 329.9H174.4M170.8 317H174.4M170.8 304.1H174.4M170.8 291.2H174.4" stroke="#333" stroke-width="1" fill="none"/>
<path d="M174.4 394.4H252" stroke="#888" stroke-width="0.7" stroke-dasharray="1.2 1.2" fill="none"/>
<path d="M194.4 367.3V397.6M188.2 367.3H200.6M194.4 398.4V398.4M188.2 398.4H200.6" stroke="#555" stroke-width="1" fill="none"/>
<rect x="181.3" y="397.6" width="26.2" height="0.8" fill="#e4e4e4" stroke="#555" stroke-width="1"/>
<path d="M181.3 398H207.5" stroke="#555" stroke-width="1" fill="none"/>
<path d="M194.4 408.2V411.5" stroke="#333" stroke-width="1" fill="none"/>
<text transform="translate(196.7 423.3) rotate(-45)" font-size="8.6" font-weight="bold" fill="#1e1e1e" text-anchor="end">ITIH5</text>
<path d="M232.1 303.7V385.8M225.9 303.7H238.3M232.1 393.9V401.1M225.9 401.1H238.3" stroke="#555" stroke-width="1" fill="none"/>
<rect x="219" y="385.8" width="26.2" height="8.1" fill="#e4e4e4" stroke="#555" stroke-width="1"/>
<path d="M219 390.4H245.2" stroke="#555" stroke-width="1" fill="none"/>
<path d="M232.1 408.2V411.5" stroke="#333" stroke-width="1" fill="none"/>
<text transform="translate(234.4 423.3) rotate(-45)" font-size="8.6" font-weight="bold" fill="#1e1e1e" text-anchor="end">CD44</text>
<path d="M189.7 298.1H234.7" stroke="#444" stroke-width="1" fill="none"/>
<text x="212.2" y="300.4" font-size="12" fill="#333" text-anchor="middle" font-weight="bold">***</text>
<text transform="translate(154.7 351.5) rotate(-90) scale(1 0.8)" font-size="8.45" fill="#333" text-anchor="middle"><tspan font-weight="bold">mRNA expression</tspan> [RNA seq V2 RSEM]</text>
<text x="255.6" y="280.6" font-size="15.5" font-weight="bold" fill="#1a1a1a">D</text>
<path d="M311 404.4H494M311 381H494M311 357.6H494M311 334.2H494M311 310.8H494M311 287.4H494M320 281V411M353.25 281V411M386.5 281V411M419.75 281V411M453 281V411M486.25 281V411" stroke="#d8d8d8" stroke-width="0.8" fill="none"/>
<path d="M311.1 281V411H494" stroke="#777" stroke-width="1" fill="none"/>
<text x="306" y="408.7" font-size="8.4" font-weight="bold" fill="#3a3a3a" text-anchor="end">0</text>
<text x="306" y="385.3" font-size="8.4" font-weight="bold" fill="#3a3a3a" text-anchor="end">20</text>
<text x="306" y="361.9" font-size="8.4" font-weight="bold" fill="#3a3a3a" text-anchor="end">40</text>
<text x="306" y="338.5" font-size="8.4" font-weight="bold" fill="#3a3a3a" text-anchor="end">60</text>
<text x="306" y="315.1" font-size="8.4" font-weight="bold" fill="#3a3a3a" text-anchor="end">80</text>
<text x="306" y="291.7" font-size="8.4" font-weight="bold" fill="#3a3a3a" text-anchor="end">100</text>
<text x="320" y="421.8" font-size="8.5" font-weight="bold" fill="#3a3a3a" text-anchor="middle">0</text>
<text x="353.25" y="421.8" font-size="8.5" font-weight="bold" fill="#3a3a3a" text-anchor="middle">1000</text>
<text x="386.5" y="421.8" font-size="8.5" font-weight="bold" fill="#3a3a3a" text-anchor="middle">2000</text>
<text x="419.75" y="421.8" font-size="8.5" font-weight="bold" fill="#3a3a3a" text-anchor="middle">3000</text>
<text x="453" y="421.8" font-size="8.5" font-weight="bold" fill="#3a3a3a" text-anchor="middle">4000</text>
<text x="486.25" y="421.8" font-size="8.5" font-weight="bold" fill="#3a3a3a" text-anchor="middle">5000</text>
<text x="401" y="438.6" font-size="10" font-weight="bold" fill="#3a3a3a" text-anchor="middle">RFS days</text>
<text transform="translate(286 344.5) rotate(-90)" font-size="9.8" font-weight="bold" fill="#3a3a3a" text-anchor="middle">RFS (fraction)</text>
<text x="321" y="399.4" font-size="7.2" fill="#222">events = 64, <tspan font-style="italic">n</tspan> = 273</text>
<path d="M320.4 287.7L327.8 287.7L327.8 287.7L328.5 287.7L328.5 292L330 292L330 297L331.5 297L331.5 302L334 302L334 304L336 304L336 309.7L461.9 309.7L461.9 309.7" stroke="#f47a30" stroke-width="1.1" fill="none" stroke-linejoin="miter"/>
<path d="M320.4 287.7L323 287.7L323 290L325 290L325 294L327 294L327 300L330 300L330 303L333 303L333 305L336.3 305L336.3 308.2L338 308.2L338 311.8L341.2 311.8L341.2 322.4L352.6 322.4L352.6 326.7L451.1 326.7L451.1 326.7" stroke="#5b9be6" stroke-width="1.1" fill="none" stroke-linejoin="miter"/>
<path d="M320.4 287.7L322.5 287.7L322.5 290L324 290L324 296L325.5 296L325.5 300L327 300L327 305L329 305L329 309L330 309L330 312L331.3 312L331.3 317.5L349 317.5L349 328.1L392.4 328.1L392.4 338.7L446.5 338.7L446.5 338.7" stroke="#2e9b3e" stroke-width="1.1" fill="none" stroke-linejoin="miter"/>
<path d="M320.4 287.7L322 287.7L322 290L324 290L324 294L325 294L325 298L327 298L327 305L329 305L329 310L331 310L331 314L331.8 314L331.8 322.4L342 322.4L342 334.8L352.6 334.8L352.6 343.7L401 343.7L401 358.2L421.7 358.2L421.7 381.4L434 381.4L434 381.4" stroke="#d8305a" stroke-width="1.1" fill="none" stroke-linejoin="miter"/>
<path d="M324 286.4V289M333 302.7V305.3M346 308.4V311M362 308.4V311M381 308.4V311M405 308.4V311M428 308.4V311M447 308.4V311" stroke="#f47a30" stroke-width="0.8" fill="none"/>
<path d="M329 301.7V304.3M339 310.5V313.1M356 325.4V328M364 325.4V328M372 325.4V328M380 325.4V328M386 325.4V328M393 325.4V328M405 325.4V328M418 325.4V328M433 325.4V328M445 325.4V328" stroke="#5b9be6" stroke-width="0.8" fill="none"/>
<path d="M333 316.2V318.8M336 316.2V318.8M339 316.2V318.8M342 316.2V318.8M345 316.2V318.8M355 326.8V329.4M360 326.8V329.4M366 326.8V329.4M370 326.8V329.4M376 326.8V329.4M384 326.8V329.4M404 337.4V340M418 337.4V340M435 337.4V340" stroke="#2e9b3e" stroke-width="0.8" fill="none"/>
<path d="M336 321.1V323.7M347 333.5V336.1M358 342.4V345M385 342.4V345M393 342.4V345M410 356.9V359.5M428 380.1V382.7" stroke="#d8305a" stroke-width="0.8" fill="none"/>
<text x="419.8" y="303.6" font-size="10.2" font-weight="bold" fill="#f47a30">ITIH5<tspan font-size="4.8" dy="-5.2">high</tspan><tspan dy="5.2">/CD44</tspan><tspan font-size="4.8" dy="-5.2">high</tspan></text>
<text x="419.8" y="326" font-size="10.2" font-weight="bold" fill="#6aa4ea">ITIH5<tspan font-size="4.8" dy="-5.2">low</tspan><tspan dy="5.2">/CD44</tspan><tspan font-size="4.8" dy="-5.2">low</tspan></text>
<text x="419.8" y="353.3" font-size="10.2" font-weight="bold" fill="#2e9b3e">ITIH5<tspan font-size="4.8" dy="-5.2">low</tspan><tspan dy="5.2">/CD44</tspan><tspan font-size="4.8" dy="-5.2">high</tspan></text>
<text x="419.8" y="394.2" font-size="10.2" font-weight="bold" fill="#b3142a">ITIH5<tspan font-size="4.8" dy="-5.2">high</tspan><tspan dy="5.2">/CD44</tspan><tspan font-size="4.8" dy="-5.2">low</tspan></text>
<path d="M499 310H508.5V385.1H499" stroke="#555" stroke-width="1" fill="none"/>
<text x="514.5" y="354" font-size="13" font-weight="bold" fill="#333" text-anchor="middle">*</text>
</svg></body></html>
